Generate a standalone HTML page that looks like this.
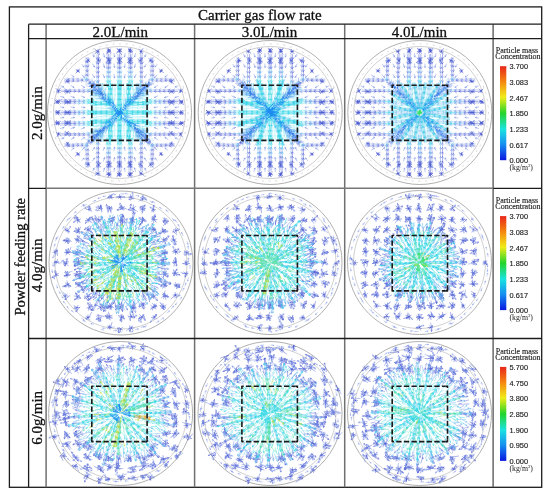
<!DOCTYPE html>
<html><head><meta charset="utf-8"><style>
html,body{margin:0;padding:0;background:#fff;width:550px;height:492px;overflow:hidden;}
svg{display:block;}
.t{font-family:"Liberation Serif",serif;font-size:15px;fill:#111;stroke:#111;stroke-width:0.3px;}
.cb{font-family:"Liberation Serif",serif;font-size:8px;fill:#222;stroke:#222;stroke-width:0.15px;}
.cu{font-family:"Liberation Serif",serif;font-size:7.8px;fill:#222;}
.cl{font-family:"Liberation Sans",sans-serif;font-size:7.4px;fill:#222;stroke:#222;stroke-width:0.15px;}
</style></head><body>
<svg width="550" height="492" viewBox="0 0 550 492">
<defs><filter id="sf" x="-5%" y="-5%" width="110%" height="110%"><feGaussianBlur stdDeviation="0.5"/></filter><linearGradient id="jet" x1="0" y1="0" x2="0" y2="1">
<stop offset="0" stop-color="#e8261a"/><stop offset="0.17" stop-color="#f58a10"/>
<stop offset="0.33" stop-color="#f0ec18"/><stop offset="0.5" stop-color="#22d42a"/>
<stop offset="0.67" stop-color="#19e3e0"/><stop offset="0.83" stop-color="#1690f0"/>
<stop offset="1" stop-color="#0a18e0"/></linearGradient></defs>
<rect width="550" height="492" fill="#fff"/>

<circle cx="119.5" cy="112.5" r="72" stroke="#a8a8a8" stroke-width="0.9" fill="none"/>
<circle cx="119.5" cy="112.5" r="66" stroke="#c4c4c4" stroke-width="0.8" fill="none"/>
<g fill="none" stroke-linecap="round" filter="url(#sf)"><g transform="scale(.5)"><path d="M376 225l0 2m0 11l0 3m-2 11l-1 2m-3 11l0 2m-4 11l-1 2m-5 10l-1 2m-6 9l-1 2m-7 9l-1 2m-8 8l-2 2m-8 7l-2 2m-9 6l-2 2m-9 5l-2 1m-10 5l-3 1m-10 3l-2 1m-11 3l-3 0m-11 2l-2 0m-11 0l-2 0m-11 0l-3 0m-11-2l-2-1m-11-3l-2 0m-11-4l-2-1m-10-5l-2-1m-9-6l-2-1m-9-7l-2-1m-8-8l-2-2m-7-8l-2-2m-6-9l-2-2m-5-9l-1-2m-5-10l-1-3m-3-10l-1-2m-3-11l0-3m-2-11l0-2m0-11l0-2m0-11l0-3m2-11l1-2m3-11l0-2m4-11l1-2m5-10l1-2m6-9l1-2m7-9l1-2m8-8l2-2m8-7l2-2m9-6l2-2m9-5l2-1m10-5l3-1m10-3l2-1m11-3l3 0m11-2l2 0m11 0l2 0m11 0l3 0m11 2l2 1m11 3l2 0m11 4l2 1m10 5l2 1m9 6l2 1m9 7l2 1m8 8l2 2m7 8l2 2m6 9l2 2m5 9l1 2m5 10l1 3m3 10l1 2m3 11l0 3m2 11l0 2" stroke="#9a9a9a" stroke-opacity="0.6" stroke-width="1.2"/>
<path d="M129 162l10 0-4 2m4-2l-4-3m3 3l10 0-4 2m4-2l-3-3m2 3l10 0-3 2m3-2l-3-3m3 3l9-1-3 3m3-3l-3-2m13-44l-1 10-2-4m2 4l2-4m-1 3l0 10-3-3m3 3l2-4m-2 3l-1 10-2-3m2 3l3-3m-2 3l-1 9-2-3m2 3l3-3m171 13l-10-1 4-2m-4 2l4 3m-3-2l-10-1 4-2m-4 2l3 2m-2-1l-10 0 3-3m-3 3l3 2m-3-2l-9 0 3-3m-3 3l3 2m-139 171l0-10 2 4m-2-4l-2 4m2-3l0-10 2 4m-2-4l-3 3m3-2l0-10 2 3m-2-3l-3 3m3-3l0-9 2 3m-2-3l-3 3m-50-118l10 0-4 2m4-2l-4-2m3 2l10 0-3 2m3-2l-4-2m3 2l10 0-3 2m3-2l-3-2m3 2l9 0-3 2m3-2l-3-2m3 2l9 1-3 2m3-2l-3-3m31-72l0 10-2-4m2 4l2-4m-2 3l0 10-2-4m2 4l2-3m-2 2l0 10-2-3m2 3l2-3m-2 3l0 9-2-3m2 3l2-3m-2 3l0 9-2-3m2 3l2-3m156 31l-10 0 4-2m-4 2l4 2m-3-2l-10 0 4-2m-4 2l3 2m-2-2l-10 0 3-2m-3 2l3 2m-3-2l-9 0 3-2m-3 2l3 3m-3-3l-9 0 3-2m-3 2l3 2m-115 156l0-10 3 4m-3-4l-2 4m2-3l0-10 2 4m-2-4l-2 3m2-2l0-10 2 3m-2-3l-2 3m2-3l0-9 2 3m-2-3l-2 3m2-3l0-9 2 3m-2-3l-2 3m-72-95l10 1-4 2m4-2l-4-3m3 2l10 0-4 3m4-3l-3-2m2 2l10 0-3 3m3-3l-3-2m69-92l1 10-3-4m3 4l2-4m-3 3l1 10-3-3m3 3l2-4m-3 3l0 10-2-3m2 3l2-3m136 69l-10 0 4-2m-4 2l4 2m-3-2l-10 0 4-2m-4 2l3 3m-2-3l-10 0 3-2m-3 2l3 2m-113 136l0-10 3 4m-3-4l-2 4m2-3l0-10 3 4m-3-4l-2 3m2-2l1-10 2 3m-2-3l-3 3m-92-91l10 0-4 2m4-2l-4-2m3 2l10 0-3 2m3-2l-4-2m3 2l10 0-3 2m3-2l-3-2m91-114l0 10-2-4m2 4l2-4m-2 3l0 10-2-3m2 3l2-4m-2 3l0 10-2-3m2 3l2-3m114 91l-10 0 4-2m-4 2l4 2m-3-2l-10 0 3-2m-3 2l4 3m-3-3l-10 0 3-3m-3 3l3 2m-91 114l0-10 3 4m-3-4l-2 4m2-3l0-10 2 4m-2-4l-2 3m2-2l0-10 2 3m-2-3l-3 3m-113-69l10-1-4 3m4-3l-4-2m3 3l10 0-3 2m3-2l-4-3m3 3l10 0-3 2m3-2l-3-2m113-136l0 10-2-4m2 4l2-4m-2 3l0 10-3-3m3 3l2-4m-2 3l0 10-2-3m2 3l2-3m92 113l-10 0 4-2m-4 2l4 2m-3-2l-10 0 3-2m-3 2l4 2m-3-2l-10 0 3-2m-3 2l3 2m-69 92l0-10 2 4m-2-4l-3 4m3-3l0-10 2 4m-2-4l-2 3m2-2l0-10 2 3m-2-3l-3 3m-135-46l10 0-4 2m4-2l-4-2m3 2l10 0-3 2m3-2l-4-2m3 2l10 0-3 2m3-2l-3-2m3 2l9 0-3 2m3-2l-3-2m3 2l9 0-3 2m3-2l-3-2m118-159l0 10-2-4m2 4l2-4m-2 3l0 10-2-3m2 3l3-4m-3 3l0 10-3-3m3 3l2-3m-2 3l0 9-2-3m2 3l2-3m-2 3l0 9-3-3m3 3l2-3m69 118l-10 0 4-2m-4 2l4 2m-3-2l-10 0 3-2m-3 2l4 2m-3-2l-10 0 3-2m-3 2l3 2m-3-2l-9 0 3-2m-3 2l3 2m-3-2l-9 0 3-2m-3 2l3 2m-28 69l0-10 2 4m-2-4l-2 4m2-3l0-10 2 4m-2-4l-2 3m2-2l0-10 2 3m-2-3l-2 3m2-3l0-9 2 3m-2-3l-3 3m3-3l0-9 3 3m-3-3l-2 3m-153-6l10 0-4 2m4-2l-4-2m3 2l10 0-4 2m4-2l-3-2m2 2l10-1-3 3m3-3l-3-2m3 3l9-1-3 3m3-3l-3-2m143-174l-1 10-2-4m2 4l3-4m-2 3l0 10-2-3m2 3l2-4m-2 3l0 10-2-3m2 3l2-3m-2 3l0 9-2-3m2 3l2-3m41 143l-10 0 4-2m-4 2l4 2m-3-2l-10-1 4-2m-4 2l3 3m-2-2l-10 0 3-2m-3 2l3 2m-3-2l-9 0 3-2m-3 2l3 2m-9 41l0-10 2 4m-2-4l-2 4m2-3l-1-10 3 3m-3-3l-2 4m3-3l0-10 2 3m-2-3l-3 3m3-3l0-9 2 3m-2-3l-3 3" stroke="#4a5ad0" stroke-opacity="0.62" stroke-width="1.4"/>
<path d="M117 182l4 4m-4-4l0 4m0-4l-3 4m3-4l-4 0m4 0l-5-5m5 5l-1-4m1 4l4-6m-4 6l4-1m75-78l3 6m-3-6l-1 4m1-4l-6 4m6-4l-4 1m4-1l-6-4m6 4l-1-3m1 3l3-5m-3 5l3 1m162 78l4 2m-4-2l0 3m0-3l-3 4m3-4l-3 0m3 0l-4-4m4 4l0-4m0 4l5-4m-5 4l4 0m-169 165l4 4m-4-4l0 4m0-4l-6 4m6-4l-4 0m4 0l-5-3m5 3l0-4m0 4l4-4m-4 4l4 1m-83-145l4 4m-4-4l0 4m0-4l-4 4m4-4l-3 0m3 0l-5-4m5 4l1-4m-1 4l6-4m-6 4l3 0m97-100l5 4m-5-4l-1 4m1-4l-4 5m4-5l-4 1m4-1l-3-3m3 3l0-3m0 3l4-3m-4 3l4 0m140 100l3 5m-3-5l-1 3m1-3l-3 5m3-5l-4-1m4 1l-3-5m3 5l-1-2m1 2l4-2m-4 2l4 0m-148 144l5 3m-5-3l1 3m-1-3l-5 3m5-3l-2 1m2-1l-4-3m4 3l0-3m0 3l5-4m-5 4l4-1m-104-121l5 4m-5-4l0 4m0-4l-5 4m5-4l-4-1m4 1l-5-5m5 5l1-4m-1 4l3-4m-3 4l3 0m119-122l4 6m-4-6l1 4m-1-4l-6 3m6-3l-3 0m3 0l-4-5m4 5l0-4m0 4l4-5m-4 5l4 0m118 122l4 4m-4-4l0 4m0-4l-3 4m3-4l-3 0m3 0l-5-3m5 3l0-4m0 4l4-4m-4 4l3 0m-125 122l4 3m-4-3l-1 3m1-3l-5 4m5-4l-4 0m4 0l-3-4m3 4l-1-4m1 4l3-5m-3 5l4 1m-126-101l4 3m-4-3l0 3m0-3l-5 3m5-3l-3-1m3 1l-4-6m4 6l1-4m-1 4l4-4m-4 4l3 0m141-144l4 3m-4-3l0 3m0-3l-3 4m3-4l-4-1m4 1l-4-4m4 4l-1-4m1 4l4-3m-4 3l3 1m97 143l5 5m-5-5l0 3m0-3l-5 4m5-4l-4 0m4 0l-3-3m3 3l0-4m0 4l4-3m-4 3l4 0m-104 100l4 5m-4-5l-1 3m1-3l-6 4m6-4l-4-1m4 1l-3-4m3 4l0-3m0 3l6-4m-6 4l4 0m-148-79l5 4m-5-4l-1 4m1-4l-3 5m3-5l-3 0m3 0l-4-3m4 3l0-3m0 3l3-3m-3 3l4 0m161-165l3 4m-3-4l0 4m0-4l-2 4m2-4l-2 0m2 0l-4-4m4 4l0-3m0 3l4-6m-4 6l4 1m75 164l4 6m-4-6l0 3m0-3l-3 4m3-4l-3 0m3 0l-3-3m3 3l1-3m-1 3l4-4m-4 4l3 0m-82 79l6 4m-6-4l0 3m0-3l-4 4m4-4l-3-1m3 1l-4-5m4 5l0-3m0 3l3-4m-3 4l4 1m-156-145l10 2-3 1m3-1l-2-2m-8 22l10 0-3 1m3-1l-3-1m-7 23l10-2-2 2m2-2l-3-1m80-128l2 10-2-2m2 2l1-3m-3 211l2-10 1 3m-1-3l-2 2m22-210l0 10-1-3m1 3l1-3m-1 211l0-10 1 3m-1-3l-1 3m23-211l-2 10-1-3m1 3l2-2m0 210l-2-10 2 2m-2-2l-1 3m90-124l-10 2 2-2m-2 2l3 1m7 19l-10 0 3-1m-3 1l3 1m7 21l-10-2 3-1m-3 1l2 2" stroke="#4a5ad0" stroke-opacity="0.7" stroke-width="1.6"/>
<path d="M182 167l7 3-2 0m2 0l-1-1m-9 3l8 1-2 0m2 0l-2-1m2-9l2 8-2-2m2 2l0-2m0-7l1 8-2-2m2 2l0-2m-13-2l8 2-2 1m2-1l-2-1m-10 5l8 1-2 0m2 0l-2-1m-1-8l4 8-2-2m2 2l0-2m3-10l1 8-1-2m1 2l0-2m-11-5l7 4-2 0m2 0l-1-2m-9 3l8 1-2 0m2 0l-1-1m-2-7l4 7-2-1m2 1l0-2m-1-5l0 8-1-1m1 1l0-1m4 119l4-7 0 2m0-2l-2 1m-3 4l1-8 1 2m-1-2l-1 2m-5 3l7-4-1 1m1-1l-2 0m-6 0l8-1-2 1m2-1l-2-1m-2 15l4-8 0 2m0-2l-2 2m-1 5l2-8 0 2m0-2l-2 2m-3 4l7-3-1 2m1-2l-2 0m-7-1l8 0-2 0m2 0l-2-1m-9 6l3-7 0 2m0-2l-1 2m0 7l2-8 1 2m-1-2l-1 2m-5 3l7-4-1 2m1-2l-2 0m-3 5l8-2-2 1m2-1l-2-1m118-116l-4 7 0-2m0 2l2-1m0-7l-2 8-1-2m1 2l1-1m4-4l-7 3 1-2m-1 2l2 0m6-1l-8 1 1-1m-1 1l2 1m6-9l-3 8 0-2m0 2l2-2m-2-7l0 8-1-2m1 2l1-2m5-3l-8 3 1-1m-1 1l2 1m5-2l-8 0 2-1m-2 1l2 1m3-12l-2 8-1-2m1 2l1-2m0-5l0 8-1-2m1 2l1-2m9 2l-7 3 1-2m-1 2l2 0m2-5l-8 1 2-1m-2 1l2 1m0 113l-7-3 2-1m-2 1l1 1m4 3l-7-2 2-1m-2 1l1 1m3 5l-3-7 1 1m-1-1l0 2m1 5l-1-8 2 2m-2-2l0 2m8 7l-8-3 2 0m-2 0l2 2m8-1l-8-2 2-1m-2 1l1 1m7 2l-4-7 2 1m-2-1l0 2m-1 9l-3-8 2 2m-2-2l0 2m12 4l-7-4 2 0m-2 0l1 2m4 3l-8-2 2-1m-2 1l2 1m3 4l-3-7 2 1m-2-1l0 2m3 3l0-8 1 2m-1-2l-1 2" stroke="#4a5ad0" stroke-opacity="0.375" stroke-width="1.4"/>
<path d="M184 170l6 6-3-1m3 1l-1-3m-5 107l6-6-1 3m1-3l-3 1m107-105l-6 6 1-3m-1 3l3-1m3 105l-6-5 2 0m-2 0l1 2" stroke="#4a5ad0" stroke-opacity="0.375" stroke-width="1.6"/>
<path d="M114 204l4 4m-4-4l1 3m-1-3l-5 3m5-3l-3 0m3 0l-4-4m4 4l1-3m-1 3l5-3m-5 3l3 0m-3 21l4 5m-4-5l1 3m-1-3l-3 3m3-3l-3 0m3 0l-4-3m4 3l0-3m0 3l4-4m-4 4l3-1m-3 22l3 4m-3-4l-1 3m1-3l-5 3m5-3l-3-1m3 1l-4-3m4 3l-1-4m1 4l4-4m-4 4l3-1m18-82l4 3m-4-3l1 3m-1-3l-5 3m5-3l-3 0m3 0l-3-3m3 3l-1-4m1 4l2-4m-2 4l3-1m-3 21l5 4m-5-4l0 3m0-3l-4 5m4-5l-3 1m3-1l-3-4m3 4l0-2m0 2l3-3m-3 3l2 0m-2 84l3 5m-3-5l0 2m0-2l-3 2m3-2l-2 0m2 0l-4-4m4 4l0-3m0 3l2-4m-2 4l3 0m-3 20l3 5m-3-5l0 4m0-4l-3 5m3-5l-3 1m3-1l-3-3m3 3l0-2m0 2l3-3m-3 3l3 1m18-146l3 3m-3-3l0 2m0-2l-4 4m4-4l-3 0m3 0l-4-3m4 3l0-3m0 3l3-4m-3 4l3 0m-3 166l3 4m-3-4l0 3m0-3l-5 4m5-4l-3 0m3 0l-4-3m4 3l-1-3m1 3l4-3m-4 3l3 1m18-188l3 3m-3-3l-1 3m1-3l-5 3m5-3l-3 1m3-1l-4-4m4 4l0-3m0 3l2-3m-2 3l2 1m-2 207l3 4m-3-4l-1 3m1-3l-3 4m3-4l-4 0m4 0l-4-3m4 3l0-3m0 3l3-4m-3 4l2 0m18-208l4 3m-4-3l1 2m-1-2l-4 3m4-3l-2 0m2 0l-3-3m3 3l0-3m0 3l5-3m-5 3l4 0m-4 208l4 4m-4-4l0 3m0-3l-4 3m4-3l-3-1m3 1l-4-4m4 4l1-4m-1 4l5-3m-5 3l3-1m18-228l4 5m-4-5l0 3m0-3l-3 5m3-5l-3 0m3 0l-4-3m4 3l-1-3m1 3l3-2m-3 2l3 1m-3 249l4 3m-4-3l0 2m0-2l-2 4m2-4l-3-1m3 1l-4-2m4 2l1-3m-1 3l4-3m-4 3l4-1m17-249l4 4m-4-4l0 4m0-4l-4 3m4-3l-2 0m2 0l-5-3m5 3l1-3m-1 3l4-2m-4 2l3 1m-3 249l2 3m-2-3l0 3m0-3l-5 3m5-3l-4 0m4 0l-5-4m5 4l0-4m0 4l3-3m-3 3l3 0m18-250l5 3m-5-3l-1 3m1-3l-3 4m3-4l-3 0m3 0l-3-3m3 3l0-3m0 3l2-4m-2 4l3 0m-3 250l3 4m-3-4l0 3m0-3l-3 3m3-3l-3 0m3 0l-4-4m4 4l-1-3m1 3l3-4m-3 4l3 0m18-229l3 4m-3-4l0 3m0-3l-4 3m4-3l-3 0m3 0l-5-3m5 3l0-3m0 3l3-4m-3 4l3 0m-3 208l3 2m-3-2l-1 2m1-2l-3 4m3-4l-4 0m4 0l-4-3m4 3l-1-3m1 3l2-3m-2 3l2 1m18-209l4 2m-4-2l1 3m-1-3l-3 3m3-3l-2 0m2 0l-3-4m3 4l0-3m0 3l3-4m-3 4l3 0m-3 208l4 4m-4-4l0 3m0-3l-4 4m4-4l-2 0m2 0l-3-4m3 4l0-3m0 3l3-4m-3 4l4 0m17-187l5 3m-5-3l-1 3m1-3l-3 2m3-2l-2 0m2 0l-3-4m3 4l1-3m-1 3l3-4m-3 4l3-1m-3 167l3 3m-3-3l1 3m-1-3l-3 3m3-3l-3 0m3 0l-2-3m2 3l0-3m0 3l2-3m-2 3l4 1m17-146l4 5m-4-5l0 3m0-3l-3 2m3-2l-4 0m4 0l-3-4m3 4l0-3m0 3l4-4m-4 4l2-1m-2 21l4 4m-4-4l1 3m-1-3l-4 4m4-4l-3 0m3 0l-4-4m4 4l0-2m0 2l4-2m-4 2l3 0m-3 84l3 3m-3-3l0 2m0-2l-4 2m4-2l-3 0m3 0l-4-4m4 4l0-4m0 4l2-4m-2 4l3 0m-3 20l4 4m-4-4l1 4m-1-4l-4 4m4-4l-3 1m3-1l-3-2m3 2l0-3m0 3l2-3m-2 3l4 1m17-84l3 5m-3-5l-1 3m1-3l-3 4m3-4l-4 0m4 0l-4-3m4 3l0-3m0 3l2-4m-2 4l2 0m-2 21l4 4m-4-4l0 4m0-4l-3 3m3-3l-3 1m3-1l-3-2m3 2l-1-3m1 3l4-4m-4 4l3 1m-3 20l4 3m-4-3l-1 3m1-3l-5 3m5-3l-4 0m4 0l-4-3m4 3l0-3m0 3l5-3m-5 3l3 0" stroke="#4a5ad0" stroke-opacity="0.65" stroke-width="1.7"/>
<path d="M135 204l5 3m-5-3l0 4m0-4l-5 4m5-4l-3 0m3 0l-5-5m5 5l0-3m0 3l6-3m-6 3l3 0m-3 21l4 4m-4-4l1 4m-1-4l-5 4m5-4l-4-1m4 1l-4-4m4 4l1-3m-1 3l5-4m-5 4l4 1m-4 20l4 4m-4-4l0 3m0-3l-4 5m4-5l-4 0m4 0l-5-4m5 4l0-4m0 4l6-5m-6 5l3 0m80-125l4 5m-4-5l1 4m-1-4l-6 4m6-4l-3 0m3 0l-5-6m5 6l0-3m0 3l6-4m-6 4l4 0m-4 208l6 4m-6-4l0 4m0-4l-2 4m2-4l-4 0m4 0l-5-5m5 5l1-3m-1 3l5-3m-5 3l4-1m17-207l5 3m-5-3l-1 4m1-4l-3 4m3-4l-3 0m3 0l-4-3m4 3l0-4m0 4l5-5m-5 5l3 1m-3 207l4 3m-4-3l0 3m0-3l-4 3m4-3l-3-1m3 1l-5-4m5 4l0-3m0 3l4-3m-4 3l3 0m18-208l4 4m-4-4l0 4m0-4l-5 4m5-4l-4-1m4 1l-4-5m4 5l0-4m0 4l4-4m-4 4l4 0m-4 208l3 5m-3-5l0 4m0-4l-5 5m5-5l-4-1m4 1l-3-4m3 4l0-3m0 3l3-6m-3 6l4 0m79-125l4 6m-4-6l0 3m0-3l-4 6m4-6l-3 1m3-1l-4-5m4 5l-1-3m1 3l5-3m-5 3l4 0m-4 21l5 5m-5-5l0 3m0-3l-3 4m3-4l-3 0m3 0l-4-3m4 3l0-3m0 3l4-5m-4 5l3 0m-3 21l4 4m-4-4l0 3m0-3l-3 4m3-4l-4 1m4-1l-4-3m4 3l0-5m0 5l6-4m-6 4l4-1" stroke="#4a5ad0" stroke-opacity="0.75" stroke-width="1.7"/>
<path d="M129 158l10 0-4 2m4-2l-4-2m3 2l10 0-3 3m3-3l-4-2m3 2l10 0-3 3m3-3l-3-2m3 2l9 1-3 2m3-2l-3-3m3 6l9 0-3 2m3-2l-3-3m0-44l0 10-2-4m2 4l3-4m-3 3l0 10-2-4m2 4l2-3m-2 2l1 10-3-3m3 3l2-3m-3 3l0 9-2-3m2 3l2-3m2 3l0 9-2-3m2 3l2-3m171 0l-10 1 4-3m-4 3l4 2m-3-3l-10 0 3-2m-3 2l4 3m-3-3l-10 0 3-2m-3 2l3 2m-3-2l-9 0 3-2m-3 2l3 3m-3 1l-9 0 3-3m-3 3l3 2m-134 171l0-10 3 4m-3-4l-2 4m2-3l1-10 2 4m-2-4l-3 3m2-2l1-10 2 3m-2-3l-3 3m2-3l0-9 3 3m-3-3l-2 3m6-3l-1-9 3 3m-3-3l-2 3m-50-112l10 0-4 2m4-2l-4-3m3 3l10 0-4 2m4-2l-3-2m2 2l10 0-3 2m3-2l-3-2m3 2l9 0-3 2m3-2l-3-2m3 2l9 0-3 2m3-2l-3-3m3 6l10 0-4 2m4-2l-4-2m3 2l10 0-3 2m3-2l-4-2m10-72l0 10-2-4m2 4l2-4m-2 3l0 10-2-4m2 4l2-3m-2 2l0 10-2-3m2 3l3-3m-3 3l0 9-2-3m2 3l2-3m-2 3l0 9-2-3m2 3l2-3m1 3l0 10-2-4m2 4l2-4m-2 3l1 10-3-3m3 3l2-4m155 10l-10 0 4-2m-4 2l4 2m-3-2l-10 0 4-2m-4 2l3 2m-2-2l-10 0 3-2m-3 2l3 2m-3-2l-9 0 3-3m-3 3l3 2m-3-2l-9 0 3-2m-3 2l3 3m-3 0l-10 0 4-2m-4 2l4 2m-3-2l-10 0 3-2m-3 2l4 2m-100 156l0-10 2 4m-2-4l-2 4m2-3l0-10 2 3m-2-3l-2 4m2-3l0-10 2 3m-2-3l-2 3m2-3l0-9 2 3m-2-3l-2 3m2-3l0-9 2 3m-2-3l-2 3m5-3l0-10 3 4m-3-4l-2 4m2-3l0-10 3 4m-3-4l-2 3m-72-79l10 0-4 3m4-3l-4-2m-6 8l10 0-4 2m4-2l-4-2m3-4l10 0-3 3m3-3l-4-2m-6 8l10 0-3 2m3-2l-4-2m3-4l10 0-3 3m3-3l-3-2m-7 8l10 0-3 3m3-3l-3-2m3-1l9 0-3 2m3-2l-3-2m3 2l9 0-3 3m3-3l-3-2m48-92l1 10-3-4m3 4l2-4m3-6l0 10-2-4m2 4l2-4m-8 3l0 10-2-4m2 4l3-3m3-7l0 10-2-3m2 3l2-4m-8 3l0 10-2-3m2 3l3-3m3-7l0 10-2-3m2 3l2-3m-5 3l1 9-3-3m3 3l2-3m-3 3l0 9-2-3m2 3l2-3m136 48l-10 1 4-3m-4 3l4 2m6 3l-10 0 4-2m-4 2l4 2m-3-8l-10 1 3-3m-3 3l4 2m6 3l-10 0 3-2m-3 2l4 3m-3-9l-10 1 3-3m-3 3l3 2m7 3l-10 0 3-2m-3 2l3 2m-3-5l-9 1 3-3m-3 3l3 2m-3-3l-9 0 3-2m-3 2l3 2m-98 136l0-10 2 4m-2-4l-2 4m8 6l0-10 2 4m-2-4l-2 4m-4-3l1-10 2 4m-2-4l-3 3m8 7l0-10 2 3m-2-3l-2 4m-4-3l0-10 3 3m-3-3l-2 3m8 7l0-10 2 3m-2-3l-2 3m-1-3l0-9 2 3m-2-3l-2 3m2-3l1-9 2 3m-2-3l-3 3m-92-76l10 1-4 2m4-2l-4-3m-6 8l10 0-4 2m4-2l-4-2m3-4l10 1-4 2m4-2l-3-3m-7 8l10 0-3 2m3-2l-4-3m3-3l10 0-3 2m3-2l-3-2m-7 8l10 0-3 2m3-2l-3-2m3-1l9 0-3 2m3-2l-3-2m3 2l9 0-3 2m3-2l-3-2m70-114l0 10-2-4m2 4l2-4m4-6l0 10-2-4m2 4l2-4m-8 3l0 10-2-3m2 3l2-4m4-6l-1 10-2-4m2 4l3-3m-8 2l0 10-2-3m2 3l2-3m4-7l-1 10-2-3m2 3l3-3m-5 3l0 9-2-3m2 3l2-3m-2 3l0 9-2-3m2 3l3-3m113 70l-10 0 4-2m-4 2l4 3m6 3l-10 0 4-2m-4 2l4 2m-3-8l-10 0 4-2m-4 2l3 2m7 4l-10 0 3-2m-3 2l4 2m-3-8l-10 0 3-2m-3 2l3 3m7 3l-10 0 3-2m-3 2l3 2m-3-5l-9 0 3-2m-3 2l3 2m-3-2l-9 0 3-2m-3 2l3 2m-76 114l0-10 3 4m-3-4l-2 4m8 6l0-10 2 4m-2-4l-2 4m-4-3l0-10 3 4m-3-4l-2 3m8 7l0-10 2 3m-2-3l-3 4m-3-3l0-10 2 3m-2-3l-2 3m8 7l-1-10 3 3m-3-3l-2 3m0-3l0-9 2 3m-2-3l-2 3m2-3l0-9 2 3m-2-3l-3 3m-113-54l10-1-4 3m4-3l-4-2m-6 9l10 0-4 2m4-2l-4-3m3-3l10 0-3 2m3-2l-4-2m-6 8l10 0-4 2m4-2l-3-3m2-3l10 0-3 2m3-2l-3-2m-7 8l10 0-3 2m3-2l-3-3m3 0l9-1-3 3m3-3l-3-2m3 3l9 0-3 2m3-2l-3-3m92-135l0 10-2-4m2 4l2-4m4-6l-1 10-2-4m2 4l3-4m-8 3l0 10-2-4m2 4l2-3m4-7l0 10-3-3m3 3l2-4m-8 3l0 10-3-3m3 3l2-3m4-7l-1 10-2-3m2 3l3-3m-5 3l0 9-3-3m3 3l2-3m-2 3l-1 9-2-3m2 3l3-3m92 92l-10 0 4-2m-4 2l4 2m6 4l-10 0 4-3m-4 3l4 2m-3-8l-10 0 4-2m-4 2l4 2m6 4l-10 0 3-3m-3 3l4 2m-3-8l-10 0 3-2m-3 2l3 2m7 4l-10-1 3-2m-3 2l3 3m-3-5l-9 0 3-2m-3 2l3 2m-3-2l-9 0 3-3m-3 3l3 2m-54 92l0-10 2 4m-2-4l-2 4m8 6l-1-10 3 4m-3-4l-2 4m-3-3l-1-10 3 3m-3-3l-2 4m9 6l-1-10 3 3m-3-3l-2 4m-3-3l0-10 2 3m-2-3l-2 3m8 7l0-10 2 3m-2-3l-3 3m0-3l-1-9 3 3m-3-3l-2 3m3-3l-1-9 3 3m-3-3l-2 3m-135-31l10-1-4 3m4-3l-4-2m3 3l10 0-3 2m3-2l-4-3m3 3l10 0-3 2m3-2l-3-2m3 2l9 0-3 2m3-2l-3-2m3 2l9 0-3 2m3-2l-3-3m3 6l10 0-4 2m4-2l-4-2m3 2l10 0-4 2m4-2l-3-2m96-159l0 10-2-4m2 4l2-4m-2 3l0 10-2-3m2 3l2-4m-2 3l0 10-2-3m2 3l2-3m-2 3l0 9-2-3m2 3l2-3m-2 3l0 9-2-3m2 3l2-3m1 3l0 10-2-4m2 4l2-4m-2 3l0 10-3-4m3 4l2-3m69 96l-10 0 4-2m-4 2l4 2m-3-2l-10 0 4-3m-4 3l3 2m-2-2l-10-1 3-2m-3 2l3 3m-3-2l-9 0 3-3m-3 3l3 2m-3-2l-9-1 3-2m-3 2l3 3m-3 1l-10 0 4-2m-4 2l4 2m-3-2l-10 0 3-2m-3 2l4 2m-13 69l0-10 2 4m-2-4l-2 4m2-3l0-10 2 4m-2-4l-2 3m2-2l0-10 2 3m-2-3l-2 3m2-3l-1-9 3 3m-3-3l-2 3m3-3l0-9 2 3m-2-3l-3 3m6-3l0-10 2 4m-2-4l-2 4m2-3l0-10 2 3m-2-3l-2 4m-153 8l10 1-4 2m4-2l-4-3m3 2l10 1-4 2m4-2l-3-3m2 2l10 0-3 2m3-2l-3-2m3 2l9 0-3 3m3-3l-3-2m3 6l9 0-3 2m3-2l-3-2m130-175l1 10-3-4m3 4l2-4m-3 3l1 10-3-3m3 3l2-4m-3 3l0 10-2-3m2 3l2-3m-2 3l0 9-2-3m2 3l2-3m2 3l-1 9-2-3m2 3l3-3m41 130l-10 0 4-2m-4 2l4 2m-3-2l-10 1 3-3m-3 3l4 2m-3-3l-10 1 3-2m-3 2l3 2m-3-3l-9 1 3-2m-3 2l3 2m-3 1l-9 0 3-2m-3 2l3 2m-4 41l1-10 2 4m-2-4l-2 4m1-3l1-10 2 4m-2-4l-3 3m2-2l1-10 2 3m-2-3l-3 3m2-3l1-9 2 3m-2-3l-3 3m6-3l0-9 2 3m-2-3l-3 3" stroke="#6f86e0" stroke-opacity="0.62" stroke-width="1.4"/>
<path d="M122 172l6 2-3 1m3-1l-2-2m-5 21l7 2-2 0m2 0l-2-2m-5 21l7 1-2 1m2-1l-2-1m-5 22l7-1-2 1m2-1l-2-1m-5 23l7-2-2 2m2-2l-2 0m-4 23l6-2-2 2m2-2l-3-1m18-125l5 4-2 0m2 0l-1-2m-5 19l6 4-2 0m2 0l-1-2m-5 20l7 2-3 0m3 0l-2-2m-5 21l7 1-2 1m2-1l-2-1m-5 22l7-1-2 1m2-1l-2-1m-5 23l7-2-2 2m2-2l-3 0m-4 24l6-4-1 2m1-2l-2 0m-3 25l5-4-1 2m1-2l-2 0m18-167l4 5-2-1m2 1l0-2m-4 18l5 5-3-1m3 1l-1-3m-5 19l6 4-2 0m2 0l-1-2m-5 19l6 3-2 0m2 0l-1-2m-5 21l7 1-3 1m3-1l-2-1m-5 22l7-1-2 1m2-1l-3-1m-4 24l6-3-1 2m1-2l-2 0m-4 24l6-4-1 2m1-2l-2 0m-3 25l5-5-1 3m1-3l-3 1m-2 25l4-5 0 2m0-2l-2 1m20-209l2 6-2-2m2 2l1-3m-4 17l4 6-2-1m2 1l0-2m-4 17l4 6-2-1m2 1l0-2m-4 148l4-6 0 2m0-2l-2 1m-2 26l4-6 0 2m0-2l-2 1m-1 25l2-6 1 3m-1-3l-2 2m21-231l2 7-2-2m2 2l0-2m-2 16l2 7-2-2m2 2l0-3m-3 17l3 6-2-1m2 1l0-2m-3 148l3-6 0 2m0-2l-2 1m0 26l2-7 0 3m0-3l-2 2m0 26l2-7 0 2m0-2l-2 2m21-231l1 7-1-2m1 2l1-2m-2 16l1 7-1-2m1 2l1-2m-2 16l1 7-1-2m1 2l1-3m-2 148l1-7 1 3m-1-3l-1 2m0 26l1-7 1 2m-1-2l-1 2m0 26l1-7 1 2m-1-2l-1 2m22-231l-1 7-1-2m1 2l1-2m0 16l-1 7-1-2m1 2l1-2m0 16l-1 7-1-3m1 3l1-2m0 147l-1-7 1 2m-1-2l-1 3m2 25l-1-7 1 2m-1-2l-1 2m2 26l-1-7 1 2m-1-2l-1 2m23-231l-2 7 0-2m0 2l2-2m0 16l-2 7 0-3m0 3l2-2m1 16l-3 6 0-2m0 2l2-1m1 147l-3-6 2 1m-2-1l0 2m2 25l-2-7 2 2m-2-2l0 3m2 25l-2-7 2 2m-2-2l0 2m23-230l-2 6-1-3m1 3l2-2m1 16l-4 6 0-2m0 2l2-1m2 16l-4 6 0-2m0 2l2-1m2 147l-4-6 2 1m-2-1l0 2m4 25l-4-6 2 1m-2-1l0 2m3 24l-2-6 2 2m-2-2l-1 3m25-210l-4 5 0-2m0 2l2-1m2 17l-5 5 1-3m-1 3l3-1m3 17l-6 4 1-2m-1 2l2 0m4 17l-6 3 1-2m-1 2l2 0m4 19l-7 1 2-1m-2 1l3 1m4 20l-7-1 3-1m-3 1l2 1m5 22l-6-3 2 0m-2 0l1 2m5 22l-6-4 2 0m-2 0l1 2m4 23l-5-5 3 1m-3-1l1 3m4 23l-4-5 2 1m-2-1l0 2m25-168l-5 4 1-2m-1 2l2 0m4 17l-6 4 1-2m-1 2l2 0m4 18l-7 2 2-2m-2 2l3 0m4 19l-7 1 2-1m-2 1l2 1m5 20l-7-1 2-1m-2 1l2 1m5 21l-7-2 3 0m-3 0l2 2m5 22l-6-4 2 0m-2 0l1 2m4 23l-5-4 2 0m-2 0l1 2m25-126l-6 2 2-2m-2 2l3 1m4 18l-7 2 2-2m-2 2l2 0m5 19l-7 1 2-1m-2 1l2 1m5 20l-7-1 2-1m-2 1l2 1m5 21l-7-2 2 0m-2 0l2 2m4 21l-6-2 3-1m-3 1l2 2" stroke="#6f86e0" stroke-opacity="0.7" stroke-width="1.3"/>
<path d="M181 186l12 0-3 1m3-1l-3-2m-9 4l12 0m-12 3l12-1-3 2m3-2l-3-1m2-3l10 0-2 2m2-2l-3-1m-7 3l10 0m-10 3l10 0-3 1m3-1l-3-2m1-22l-1 12-1-3m1 3l2-3m1-9l0 12m3-12l-1 12-1-3m1 3l2-3m-6 2l0 10-2-2m2 2l2-3m0-7l-1 10m3-10l0 10-2-3m2 3l1-2m92 0l-12 1 3-2m-3 2l3 1m9 0l-12 0m12 2l-12 1 3-2m-3 2l3 1m-2-5l-10 0 2-2m-2 2l3 2m7-1l-10 0m10 2l-10 0 2-2m-2 2l3 2m-78 91l0-12 1 3m-1-3l-2 3m3 9l0-12m2 12l0-12 1 3m-1-3l-2 3m-2-2l1-10 1 3m-1-3l-2 2m4 8l-1-10m3 10l0-10 1 3m-1-3l-2 2m-22-4l12 0-3 2m3-2l-3-2m-9 4l12 0m-12 2l12-1-3 2m3-2l-3-1m2-2l10 0-3 1m3-1l-2-2m-8 4l10 0m-10 2l10-1-2 2m2-2l-3-1m75-95l-1 12-1-3m1 3l2-3m1-9l-1 12m3-12l0 12-2-3m2 3l1-3m-5 2l0 10-2-3m2 3l1-2m1-8l-1 10m3-10l0 10-2-3m2 3l1-3m18 75l-12 0 3-2m-3 2l3 1m9 0l-12 1m12 2l-12 0 3-2m-3 2l3 2m-2-6l-10 0 3-2m-3 2l2 1m8 1l-10 0m10 2l-10 0 3-2m-3 2l3 2m-5 17l0-12 1 3m-1-3l-2 3m4 9l0-12m2 12l0-12 2 3m-2-3l-1 3m-4-2l1-10 1 3m-1-3l-2 3m4 7l0-10m2 10l-1-10 2 2m-2-2l-1 3" stroke="#62b4ec" stroke-opacity="0.75" stroke-width="1.4"/>
<path d="M166 158l9 0-3 2m3-2l-3-2m0-4l0 9-2-3m2 3l2-3m138 0l-9 0 3-2m-3 2l3 3m-134 137l0-9 3 3m-3-3l-2 3m-1-112l10 0-4 2m4-2l-4-2m3 2l10 0-3 2m3-2l-4-3m10-22l0 10-3-4m3 4l2-4m-2 3l0 10-2-4m2 4l2-3m113 9l-10 0 4-2m-4 2l4 2m-3-2l-10 0 3-2m-3 2l4 3m-100 112l0-10 3 4m-3-4l-2 4m2-3l0-10 2 4m-2-4l-2 3m-41-79l9 0-3 3m3-3l-3-2m-6 8l9 1-3 2m3-2l-3-3m3-4l9 1-3 2m3-2l-3-3m-6 8l9 0-3 2m3-2l-3-2m48-67l1 9-2-3m2 3l2-3m3-6l0 9-2-3m2 3l2-3m-8 3l0 9-2-3m2 3l2-3m4-6l0 9-2-3m2 3l2-3m105 48l-9 1 3-3m-3 3l3 2m6 3l-9 0 3-2m-3 2l3 2m-3-8l-9 1 3-3m-3 3l3 2m6 3l-9 0 3-2m-3 2l3 2m-98 105l0-9 2 3m-2-3l-2 3m8 6l0-9 2 3m-2-3l-2 3m-4-3l1-9 2 3m-2-3l-3 3m8 6l0-9 3 3m-3-3l-2 3m-67-76l9 1-3 2m3-2l-3-3m-6 8l9 0-3 2m3-2l-3-2m3-4l9 0-3 2m3-2l-3-2m-6 8l9-1-3 3m3-3l-3-2m70-88l0 9-2-3m2 3l3-3m3-6l0 9-3-3m3 3l2-3m-8 3l0 9-2-3m2 3l2-3m4-6l0 9-2-3m2 3l2-3m83 70l-9 0 3-2m-3 2l3 2m6 4l-9 0 3-2m-3 2l3 2m-3-8l-9 0 3-2m-3 2l3 2m6 4l-9 0 3-3m-3 3l3 2m-76 83l1-9 2 3m-2-3l-3 3m8 6l0-9 2 3m-2-3l-2 3m-4-3l0-9 3 3m-3-3l-2 3m8 6l0-9 2 3m-2-3l-2 3m-89-54l9 0-3 2m3-2l-3-2m-6 8l9 0-3 2m3-2l-3-3m3-3l9 0-3 2m3-2l-3-2m-6 8l9 0-3 2m3-2l-3-3m92-110l0 9-3-3m3 3l2-3m4-6l0 9-3-3m3 3l2-3m-8 3l-1 9-2-3m2 3l3-3m4-6l-1 9-2-3m2 3l3-3m61 92l-9 0 3-2m-3 2l3 2m6 4l-9 0 3-2m-3 2l3 2m-3-8l-9 0 3-2m-3 2l3 2m6 4l-9 0 3-3m-3 3l3 2m-54 61l0-9 2 3m-2-3l-2 3m8 6l0-9 2 3m-2-3l-3 3m-3-3l0-9 2 3m-2-3l-3 3m9 6l0-9 2 3m-2-3l-3 3m-92-31l10-1-4 3m4-3l-4-2m3 3l10-1-3 3m3-3l-4-2m97-109l0 10-2-4m2 4l2-4m-2 3l0 10-2-4m2 4l2-4m26 97l-10 0 4-2m-4 2l4 2m-3-2l-10 0 4-3m-4 3l3 2m-12 26l0-10 2 4m-2-4l-2 4m2-3l0-10 2 3m-2-3l-3 4m-112 8l9 0-3 3m3-3l-3-2m130-134l0 9-2-3m2 3l3-3m7 130l-9 1 3-3m-3 3l3 2m-4 7l1-9 2 3m-2-3l-2 3" stroke="#62b4ec" stroke-opacity="0.62" stroke-width="1.4"/>
<path d="M195 194l10-3-1 2m1-2l-2 0m7-13l-2 11 0-2m0 2l1-2m-16 1l11-1-2 1m2-1l-2-1m0-7l-2 11-1-2m1 2l1-1m-11-5l11-1-1 1m1-1l-2-1m4-8l-3 10 0-2m0 2l1-1m-18 2l11-1-1 1m1-1l-1-1m5-11l-2 11-1-2m1 2l1-2m-17 2l11-2-2 1m2-1l-2-1m7-15l0 11-1-2m1 2l1-1m-17 2l10-2-1 1m1-1l-2 0m5-10l-3 10 0-2m0 2l2-1m-12-1l8-2-1 2m1-2l-2 0m2-6l-2 8 0-2m0 2l2-2m-10-4l8 0-1 1m1-1l-1-1m-1-2l-2 7-1-2m1 2l1-1m-12-1l8-1-2 1m2-1l-2-1m7-11l-1 8-1-2m1 2l1-2m22 108l0-11 1 2m-1-2l-1 2m-10-2l11 1-2 0m2 0l-1-2m3 16l-4-10 2 1m-2-1l0 2m-10-2l11 1-2 1m2-1l-1-1m-4 12l-1-11 1 2m-1-2l0 2m-11-5l11 3-2 0m2 0l-2-2m0 14l-3-11 1 1m-1-1l0 2m-7 0l11 2-2 1m2-1l-2-1m-1 12l-2-10 1 1m-1-1l-1 2m-8-1l11 1-2 1m2-1l-2-1m-1 11l-4-10 2 1m-2-1l0 2m-8-1l11 1-2 1m2-1l-2-1m1 13l-2-8 2 2m-2-2l0 2m-11-6l8 0-2 1m2-1l-2-1m3 16l-1-8 1 2m-1-2l-1 2m-9-6l8 1-2 1m2-1l-2-1m-2 10l-2-8 2 2m-2-2l0 2m-7-4l7 3-2 0m2 0l-1-2m93-100l2 11-1-2m1 2l1-2m12 6l-11-2 2-1m-2 1l1 1m-1-18l0 11-1-2m1 2l1-2m11 3l-11-1 2-1m-2 1l2 1m5-10l1 11-1-2m1 2l1-2m6-2l-11 0 2-1m-2 1l1 1m3-10l3 10-1-1m1 1l0-2m5-2l-11-2 2-1m-2 1l2 1m0-13l3 10-2-1m2 1l0-2m12 4l-11 0 2-1m-2 1l2 1m1-15l0 11-1-2m1 2l1-2m12 4l-11 0 2-1m-2 1l2 1m-1-14l0 8-1-2m1 2l1-2m10 5l-8-1 2 0m-2 0l2 1m-4-14l2 7-1-1m1 1l1-2m6 2l-8-1 2-1m-2 1l2 1m3-9l1 8-1-2m1 2l0-2m7 2l-8-1 2-1m-2 1l1 1m-13 88l-11 1 1-1m-1 1l1 1m-4 11l1-11 1 2m-1-2l-1 2m16-3l-11 3 2-1m-2 1l2 1m-1 9l1-11 1 2m-1-2l-1 1m13 3l-11 0 2-1m-2 1l2 1m-2 9l2-11 0 2m0-2l-1 2m10 5l-11 1 2-1m-2 1l2 0m-1 7l3-11 0 2m0-2l-2 2m11 6l-11 0 2-1m-2 1l2 1m1 4l3-11 1 2m-1-2l-1 1m13 1l-10 3 1-2m-1 2l2 0m-7 14l1-11 1 2m-1-2l-1 2m14-2l-8 2 1-2m-1 2l2 0m-4 9l1-8 0 2m0-2l-2 2m17-3l-8 0 1-1m-1 1l1 1m-4 10l0-8 1 1m-1-1l-1 1m14-1l-8 1 1-1m-1 1l2 1m-4 9l0-8 1 2m-1-2l-1 2" stroke="#62b4ec" stroke-opacity="0.375" stroke-width="1.4"/>
<path d="M181 184l12 1m-12 7l12 0m-1-8l10 0m-10 8l10 0m-4-25l0 12m8-12l0 12m-8-1l0 10m8-10l1 10m90-4l-12 0m12 8l-12 0m1-8l-10 0m10 8l-10 0m-78 91l0-12m8 12l0-12m-8 1l0-10m8 10l0-10m-25-4l12 0m-12 8l12 0m-1-8l10 0m-10 8l10 1m70-100l0 12m8-12l0 12m-8-1l0 10m8-10l0 10m17 70l-12-1m12 9l-12-1m1-7l-10-1m10 9l-10 0m-4 17l-1-12m9 12l0-12m-8 1l0-10m8 10l0-10" stroke="#7ee2ec" stroke-opacity="0.75" stroke-width="1.4"/>
<path d="M181 195l12 1m-12 4l12 0m-1-5l11 1m-11 3l11 0m0-4l8 0m-8 4l8 0m-2-32l0 12m4-12l0 12m-3-1l0 11m4-11l0 11m-5 0l0 8m5-8l0 8m83-2l-12 0m12 4l-12 0m1-4l-11 0m11 5l-11 0m0-4l-8 0m8 4l-8 0m-58 83l0-12m4 12l1-12m-5 1l0-11m5 11l-1-11m-4 0l1-8m3 8l1-8m-33-39l12 0m-12 4l12 0m-1-4l11 0m-11 4l11 0m0-4l11-1m-11 5l11 0m-1-4l12 0m-12 4l12 0m-1-4l5 0m-5 4l5 0m-1-51l0 12m4-12l0 12m-4-1l-1 11m4-11l1 11m-4 0l0 11m3-11l1 11m-4-1l-1 12m5-12l0 12m-4-1l0 5m4-5l0 5m65-1l-12-1m12 5l-12-1m1-4l-11 0m11 5l-11-1m0-3l-11 0m11 4l-11 0m1-4l-12 0m12 4l-12 0m1-4l-5 0m5 4l-5 0m-21 65l-1-12m5 12l0-12m-4 1l-1-11m5 11l0-11m-4 0l0-11m4 11l0-11m-4 1l0-12m4 12l-1-12m-3 1l0-5m4 5l0-5m-51-3l12 0m-12 4l12 0m-1-4l11 1m-11 4l11 0m0-5l11 0m-11 4l11 1m-1-5l12 1m-12 3l12 0m-1-3l5 0m-5 3l5 0m17-69l0 12m4-12l0 12m-3-1l-1 11m4-11l0 11m-3 0l-1 11m4-11l0 11m-4-1l0 12m4-12l1 12m-5-1l0 5m4-5l0 5m47 17l-12 1m12 3l-12 0m1-3l-11 0m11 3l-11 0m0-4l-11 0m11 5l-11-1m1-4l-12 1m12 3l-12 0m1-4l-5 0m5 4l-5 0m-3 47l0-12m4 12l0-12m-4 1l0-11m4 11l0-11m-4 0l1-11m3 11l0-11m-4 1l1-12m3 12l0-12m-3 1l0-5m3 5l0-5m-69 16l12 0m-12 3l12 0m-1-3l11 0m-11 4l11-1m0-3l8 0m-8 3l8 1m54-88l0 12m4-12l-1 12m-3-1l0 11m3-11l0 11m-4 0l0 8m5-8l-1 8m29 53l-12 0m12 4l-12 0m1-4l-11 0m11 5l-11 0m0-4l-8 0m8 4l-8 0m-2 28l0-12m3 12l0-12m-4 1l1-11m3 11l1-11m-4 0l-1-8m5 8l0-8" stroke="#7ee2ec" stroke-opacity="0.3" stroke-width="1.4"/>
<path d="M181 203l12 0m-12 8l12 0m-1-8l11-1m-11 9l11-1m0-8l11 1m-11 7l11 0m-1-7l7 0m-7 8l7 0m-3-44l0 12m8-12l0 12m-8-1l-1 11m9-11l-1 11m-7 0l0 11m8-11l-1 11m-8-1l0 7m9-7l0 7m72-3l-12 0m12 8l-12-1m1-7l-11-1m11 8l-11 0m0-7l-11 0m11 8l-11 0m1-9l-7 0m7 8l-7 0m-41 73l0-12m8 12l0-12m-8 1l0-11m8 11l0-11m-8 0l0-11m7 11l1-11m-8 1l0-7m8 7l0-7m-44-23l12-1m-12 9l12-1m-1-7l11 1m-11 7l11-1m0-7l11 0m-11 8l11 1m-1-9l12 0m-12 8l12 0m-1-8l11 0m-11 8l11 0m0-62l0 12m8-12l0 12m-8-1l0 11m8-11l0 11m-8 0l0 11m8-11l1 11m-9-1l0 12m8-12l0 12m-8-1l0 11m8-11l0 11m54 0l-12 0m12 8l-12 0m1-8l-11 0m11 8l-11 0m0-8l-11 0m11 8l-11 0m1-8l-12 0m12 8l-12 1m1-9l-11 0m11 8l-11-1m-8 55l0-12m8 12l1-12m-9 1l0-11m8 11l-1-11m-7 0l0-11m8 11l0-11m-8 1l0-12m8 12l0-12m-8 1l0-11m8 11l0-11m-62 11l12-1m-12 8l12 0m-1-8l11 1m-11 8l11 0m0-9l11 0m-11 8l11 0m-1-8l7 0m-7 9l7-1m34-80l0 12m8-12l0 12m-9-1l0 11m8-11l1 11m-8 0l0 11m7-11l0 11m-8-1l0 7m8-7l0 7m36 33l-12 0m12 8l-12 0m1-8l-11 0m11 8l-11 0m0-7l-11-1m11 8l-11 1m1-9l-7 1m7 8l-7 0m-5 35l0-12m8 12l0-12m-8 1l0-11m8 11l0-11m-7 0l0-11m8 11l0-11m-8 1l0-7m7 7l0-7" stroke="#7ee2ec" stroke-opacity="0.9" stroke-width="1.4"/>
<path d="M169 203l10 0-4 3m4-3l-4-2m3 2l10 1-4 2m4-2l-3-3m32-46l0 10-2-4m2 4l3-4m-3 3l0 10-2-3m2 3l3-4m89 33l-10 0 4-2m-4 2l4 2m-3-2l-10 1 3-3m-3 3l4 2m-77 89l1-10 2 4m-2-4l-3 4m2-3l1-10 2 4m-2-4l-3 3m-46-54l10 0-4 2m4-2l-4-3m3 3l10 0-3 2m3-2l-4-2m55-68l0 10-2-4m2 4l2-4m-2 3l0 10-3-4m3 4l2-3m68 54l-10 0 4-2m-4 2l4 2m-3-2l-10 0 4-2m-4 2l3 2m-54 68l0-10 3 4m-3-4l-2 4m2-3l0-10 2 4m-2-4l-2 3m-68-32l10 0-4 2m4-2l-4-3m3 3l10 0-4 2m4-2l-3-2m76-90l-1 10-2-4m2 4l3-4m-2 3l0 10-3-3m3 3l2-4m46 77l-10 0 4-2m-4 2l4 2m-3-2l-10 0 3-2m-3 2l4 2m-33 46l0-10 2 4m-2-4l-2 4m2-3l-1-10 3 3m-3-3l-2 4" stroke="#7ee2ec" stroke-opacity="0.62" stroke-width="1.4"/>
<path d="M181 197l12 0m-1 1l11 0m0 0l8-1m1-30l-1 12m0-1l0 11m0 0l0 8m86 1l-12-1m1 0l-11-1m0 1l-8 0m-55 86l0-12m0 1l0-11m-1 0l1-8m-31-37l12 0m-1 0l11 0m0 0l11 1m-1-1l12 1m-1-1l5 0m1-49l0 12m0-1l0 11m0 0l-1 11m0-1l0 12m1-1l0 5m67 1l-12-1m1 0l-11 1m0-1l-11 0m1 1l-12-1m1 1l-5 0m-19 67l0-12m-1 1l0-11m1 0l-1-11m0 1l0-12m1 1l-1-5m-48 0l12 0m-1-1l11-1m0 1l11-1m-1 1l12 0m-1 1l5 0m19-68l0 12m0-1l1 11m-1 0l1 11m-1-1l0 12m0-1l1 5m48 19l-12 0m1 0l-11 0m0 0l-11 0m1 1l-12-1m1 0l-5 0m-1 49l0-12m1 1l-1-11m0 0l0-11m1 1l0-12m-1 1l0-5m-67 18l12 0m-1 0l11 0m0 0l8 0m55-86l0 12m1-1l0 11m0 0l0 8m30 56l-12 0m1 0l-11 0m0-1l-8 1m-1 30l1-12m0 1l0-11m-1 0l0-8" stroke="#30d6e6" stroke-opacity="0.3" stroke-width="1.4"/>
<path d="M181 204l12 0-3 2m3-2l-3-1m-9 3l12 0m-12 2l12 1-3 1m3-1l-3-2m2-3l11 1-2 1m2-1l-2-2m-9 3l11 1m-11 2l11 0-2 1m2-1l-2-2m2-3l11 0-2 2m2-2l-2-2m-9 5l11 0m-11 2l11 0-2 2m2-2l-2-1m1-3l7 0-2 1m2-1l-2-2m-5 4l7 0m-7 2l7 0-2 2m2-2l-2-2m0-40l0 12-1-3m1 3l2-3m1-9l0 12m1-12l0 12-1-3m1 3l2-3m-5 2l-1 11-1-2m1 2l2-2m1-9l0 11m2-11l0 11-2-2m2 2l1-2m-6 2l0 11-1-2m1 2l2-2m0-9l0 11m2-11l0 11-2-2m2 2l2-2m-6 1l1 7-2-2m2 2l1-2m1-5l0 7m1-7l1 7-2-2m2 2l1-2m73 0l-12 0 3-1m-3 1l3 2m9 0l-12 1m12 2l-12 0 3-2m-3 2l3 1m-2-5l-11 0 2-2m-2 2l2 1m9 0l-11 0m11 3l-11 0 2-2m-2 2l2 1m-2-5l-11-1 2-1m-2 1l2 2m9 0l-11 0m11 2l-11 0 2-1m-2 1l2 2m-1-5l-7-1 2-1m-2 1l2 2m5 1l-7 0m7 2l-7 0 2-2m-2 2l2 1m-41 73l0-12 1 3m-1-3l-2 3m4 9l0-12m1 12l1-12 1 3m-1-3l-2 3m-3-2l0-11 2 2m-2-2l-1 2m3 9l0-11m2 11l1-11 1 2m-1-2l-2 2m-2-2l0-11 2 2m-2-2l-2 2m3 9l0-11m2 11l1-11 1 2m-1-2l-2 2m-2-1l0-7 1 2m-1-2l-2 2m4 5l0-7m1 7l0-7 2 2m-2-2l-1 2m-40-23l12 0-3 2m3-2l-3-1m-9 3l12 0m-12 2l12 0-3 2m3-2l-3-1m2-3l11 0-2 1m2-1l-2-2m-9 4l11 0m-11 2l11 0-2 1m2-1l-2-2m2-2l11 0-2 2m2-2l-2-1m-9 3l11 0m-11 2l11 0-2 2m2-2l-2-1m1-3l12 0-2 2m2-2l-2-1m-10 3l12 0m-12 2l12 1-2 1m2-1l-2-2m1-3l11 0-3 2m3-2l-3-2m-8 4l11-1m-11 3l11 0-3 1m3-1l-3-2m5-58l0 12-2-3m2 3l1-3m1-9l0 12m2-12l0 12-2-3m2 3l1-3m-5 2l0 11-2-2m2 2l1-2m1-9l0 11m2-11l0 11-2-2m2 2l1-2m-5 2l0 11-2-2m2 2l1-2m1-9l0 11m2-11l0 11-2-2m2 2l1-2m-5 1l0 12-2-2m2 2l2-2m0-10l0 12m2-12l0 12-2-2m2 2l2-2m-6 1l0 11-2-3m2 3l2-3m0-8l0 11m2-11l1 11-2-3m2 3l1-3m54 5l-12 0 3-2m-3 2l3 2m9 0l-12 0m12 2l-12 0 3-2m-3 2l3 2m-2-6l-11 0 2-2m-2 2l2 1m9 1l-11 0m11 2l-11-1 2-1m-2 1l2 2m-2-5l-11 0 2-2m-2 2l2 1m9 1l-11 0m11 2l-11 1 2-2m-2 2l2 1m-1-6l-12 0 2-2m-2 2l2 2m10 0l-12 1m12 1l-12 0 2-2m-2 2l2 2m-1-6l-11 1 3-2m-3 2l3 1m8 0l-11 0m11 2l-11 0 3-1m-3 1l3 2m-9 54l-1-12 2 3m-2-3l-1 3m4 9l0-12m2 12l0-12 2 3m-2-3l-1 3m-3-2l0-11 2 2m-2-2l-1 2m3 9l1-11m1 11l0-11 1 2m-1-2l-2 2m-2-2l0-11 2 2m-2-2l-1 2m3 9l0-11m2 11l0-11 2 2m-2-2l-1 2m-3-1l0-12 2 2m-2-2l-1 2m3 10l1-12m1 12l-1-12 2 2m-2-2l-1 2m-2-1l0-11 1 3m-1-3l-2 3m4 8l1-11m1 11l0-11 2 3m-2-3l-2 3m-58 9l12 0-3 2m3-2l-3-1m-9 3l12 1m-12 2l12 0-3 1m3-1l-3-2m2-3l11 1-2 1m2-1l-2-2m-9 3l11 1m-11 1l11 1-2 1m2-1l-2-2m2-2l11-1-2 2m2-2l-2-1m-9 4l11-1m-11 2l11 0-2 2m2-2l-2-2m1-2l7 0-2 2m2-2l-2-1m-5 3l7 0m-7 2l7 0-2 2m2-2l-2-1m37-77l1 12-2-3m2 3l1-3m0-9l0 12m3-12l0 12-2-3m2 3l1-3m-5 2l0 11-2-2m2 2l1-2m0-9l0 11m2-11l0 11-1-2m1 2l2-2m-6 2l0 11-2-2m2 2l2-2m0-9l1 11m2-11l0 11-2-2m2 2l1-2m-6 1l0 7-1-2m1 2l2-2m0-5l0 7m3-7l-1 7-1-2m1 2l2-2m36 37l-12 1 3-2m-3 2l3 1m9 0l-12 0m12 2l-12 0 3-1m-3 1l3 2m-2-6l-11 1 2-2m-2 2l2 1m9 0l-11 0m11 2l-11 1 2-2m-2 2l2 1m-2-5l-11 0 2-2m-2 2l2 1m9 1l-11-1m11 3l-11-1 2-1m-2 1l2 2m-1-6l-7 0 2-1m-2 1l2 2m5 1l-7 0m7 2l-7-1 2-1m-2 1l2 2m-4 36l-1-12 2 3m-2-3l-1 3m3 9l1-12m2 12l-1-12 2 3m-2-3l-1 3m-3-2l0-11 2 2m-2-2l-1 2m4 9l-1-11m2 11l1-11 1 2m-1-2l-2 2m-2-2l0-11 1 2m-1-2l-2 2m3 9l0-11m2 11l0-11 2 2m-2-2l-1 2m-3-1l0-7 2 2m-2-2l-1 2m3 5l1-7m1 7l0-7 2 2m-2-2l-2 2" stroke="#30d6e6" stroke-opacity="0.9" stroke-width="1.4"/>
<path d="M169 200l10 0-4 3m4-3l-4-2m-6 8l10 0-4 2m4-2l-4-2m3-4l10 0-3 3m3-3l-4-2m-6 8l10 0-3 2m3-2l-4-2m30-49l1 10-3-4m3 4l2-4m3-6l0 10-2-4m2 4l2-4m-8 3l1 10-3-3m3 3l2-4m3-6l0 10-2-3m2 3l3-4m86 30l-10 0 4-2m-4 2l4 3m6 3l-10 0 4-2m-4 2l4 2m-3-8l-10 0 4-2m-4 2l3 3m7 3l-10 0 4-2m-4 2l3 2m-79 87l0-10 2 4m-2-4l-2 4m8 6l0-10 2 4m-2-4l-2 4m-4-3l0-10 3 3m-3-3l-2 4m8 6l0-10 2 3m-2-3l-2 4m-49-58l10 0-4 2m4-2l-4-2m-6 8l10 0-4 2m4-2l-4-2m3-4l10 0-3 2m3-2l-4-2m-6 8l10 0-4 2m4-2l-3-2m51-71l0 10-2-4m2 4l2-4m4-6l0 10-2-4m2 4l2-4m-8 3l0 10-2-4m2 4l2-3m4-7l0 10-3-4m3 4l2-3m65 51l-10 1 4-3m-4 3l4 2m6 3l-10-1 4-2m-4 2l4 3m-3-8l-10 0 3-2m-3 2l4 3m6 3l-10 0 3-2m-3 2l4 2m-58 65l0-10 2 4m-2-4l-2 4m8 6l0-10 2 4m-2-4l-2 4m-4-3l0-10 2 3m-2-3l-2 4m8 6l0-10 2 4m-2-4l-2 3m-71-35l10 0-4 2m4-2l-4-2m-6 8l10 0-4 2m4-2l-4-3m3-3l10 0-4 2m4-2l-3-2m-7 8l10 0-4 2m4-2l-3-3m73-92l0 10-3-4m3 4l2-4m4-6l0 10-2-4m2 4l2-4m-8 3l0 10-2-3m2 3l2-4m4-6l0 10-3-3m3 3l2-4m43 74l-10 0 4-2m-4 2l4 2m6 4l-10 0 4-3m-4 3l4 2m-3-8l-10 0 4-3m-4 3l3 2m7 4l-10 0 3-3m-3 3l4 2m-36 43l0-10 2 4m-2-4l-2 4m8 6l-1-10 2 4m-2-4l-2 4m-3-3l0-10 2 3m-2-3l-2 4m8 6l0-10 2 4m-2-4l-3 3" stroke="#30d6e6" stroke-opacity="0.62" stroke-width="1.4"/>
<path d="M224 221l10-3-1 2m1-2l-2 0m4-11l-2 11 0-2m0 2l2-1m-16 1l10-2-1 1m1-1l-2 0m7-12l-3 10 0-2m0 2l2-1m-20 3l11-1-1 1m1-1l-1-1m3-11l-1 11-1-2m1 2l1-1m-15-2l11 0-2 1m2-1l-2-1m5-9l-3 10-1-2m1 2l1-1m-15 0l11-2-2 1m2-1l-2 0m7-14l-2 11-1-2m1 2l1-1m-15-1l11-2-1 2m1-2l-2 0m0-8l0 11-1-2m1 2l1-2m-14 0l11-3-2 2m2-2l-2 0m5-12l-2 11 0-2m0 2l2-2m-17 4l10-3-1 1m1-1l-1-1m5-10l-3 10-1-2m1 2l1-1m-16 1l11-2-2 1m2-1l-2-1m2-10l0 11-1-2m1 2l1-1m21 46l-1-11 1 1m-1-1l-1 1m-4 1l11 3-2 1m2-1l-2-1m0 12l-4-10 2 1m-2-1l0 2m-13-6l11 1-2 1m2-1l-2-1m0 16l0-11 1 2m-1-2l-1 2m-6 0l11 3-2 0m2 0l-1-2m-2 14l-1-10 1 1m-1-1l-1 1m-12-5l11 2-2 0m2 0l-2-2m1 17l-1-11 1 1m-1-1l-1 2m-10-6l10 3-2 1m2-1l-1-1m3 17l-3-11 1 1m-1-1l-1 2m-15-8l11 1-2 1m2-1l-2-1m4 18l-3-11 2 1m-2-1l0 2m-13-4l11 0-1 1m1-1l-1-1m-2 15l0-11 1 2m-1-2l-1 2m-7-1l11 1-2 1m2-1l-2-1m-2 14l-1-11 1 2m-1-2l-1 2m-12-5l11 1-2 1m2-1l-1-1m39-42l2 11-1-2m1 2l1-2m10 3l-11-1 2-1m-2 1l2 1m-1-16l1 10-1-1m1 1l1-1m12 4l-11-1 2-1m-2 1l2 1m-4-18l2 11-2-2m2 2l0-2m11 3l-11-1 2-1m-2 1l1 1m4-11l1 10-1-1m1 1l1-1m6-2l-11-1 2-1m-2 1l2 1m3-12l1 10-1-1m1 1l1-1m12 5l-11-1 2-1m-2 1l2 1m-5-20l1 11-1-2m1 2l1-2m12 4l-11 0 2-1m-2 1l2 1m0-14l2 10-1-1m1 1l1-1m8-1l-11 0 1-1m-1 1l1 1m4-12l1 11-1-2m1 2l1-2m10 3l-11-1 2-1m-2 1l1 1m2-13l2 11-1-2m1 2l1-2m10 3l-11-1 2-1m-2 1l1 1m-20 32l-10 3 1-2m-1 2l2 0m-4 11l1-11 1 2m-1-2l-1 1m19-3l-11 1 2-1m-2 1l2 1m-5 12l2-11 0 2m0-2l-2 2m15-1l-11 3 1-2m-1 2l2 0m-4 11l2-11 1 2m-1-2l-1 2m14-2l-11 4 2-2m-2 2l2 0m1 7l1-11 1 2m-1-2l-1 2m13 0l-10 3 1-2m-1 2l1 0m-2 9l2-11 1 2m-1-2l-1 2m13 0l-11 3 1-1m-1 1l2 1m-6 12l2-11 1 2m-1-2l-1 2m14 2l-11 0 2-1m-2 1l2 1m-2 8l2-11 1 2m-1-2l-1 2m18-2l-11 1 2-1m-2 1l2 0m-6 12l3-11 0 2m0-2l-2 2m15 2l-11 0 1-1m-1 1l2 1m-4 9l3-11 0 2m0-2l-1 1" stroke="#30d6e6" stroke-opacity="0.375" stroke-width="1.4"/>
<path d="M199 195l10 6-2-1m2 1l-1-2m-8-2l10 2-2 0m2 0l-1-1m-4-8l5 10-2-2m2 2l0-2m1-11l0 11-1-2m1 2l1-2m-15-4l10 4-2 0m2 0l-1-2m-11 3l11 0-2 1m2-1l-2-1m3-15l4 11-1-2m1 2l1-2m-8-4l2 11-1-2m1 2l1-2m-10-11l10 6-2 0m2 0l-1-2m-9 1l11 0-2 1m2-1l-2-1m-3-8l3 10-1-1m1 1l1-2m-5-6l2 11-2-2m2 2l0-2m-10-10l10 6-2 0m2 0l-1-2m-12 2l11 1-1 1m1-1l-1-1m-2-10l4 11-2-1m2 1l0-2m-2-10l3 10-1-1m1 1l1-2m-14-6l10 5-2 0m2 0l-1-2m-14 4l11 3-2 0m2 0l-2-2m1-12l4 10-2-1m2 1l0-2m-5-6l2 11-1-2m1 2l1-2m-14-7l10 6-2 0m2 0l-1-1m-8-2l11 1-2 1m2-1l-2-1m-4-8l6 9-2-1m2 1l0-2m-1-11l3 11-1-2m1 2l1-2m-19-1l11 4-2 0m2 0l-2-1m-8 0l11 0-2 1m2-1l-2-1m-5-7l6 9-2-1m2 1l0-2m0-11l2 11-1-2m1 2l1-2m-14-5l10 3-2 1m2-1l-1-1m-8-1l11 0-1 1m1-1l-1-1m-4-8l5 9-2-1m2 1l0-2m-5-4l1 11-1-2m1 2l1-2m22 90l3-11 1 2m-1-2l-1 2m-4 6l2-11 1 2m-1-2l-1 2m-9 1l10-3-1 1m1-1l-2 0m-6 5l11-2-2 1m2-1l-2-1m-6 13l4-10 0 2m0-2l-2 1m-2 8l2-11 1 2m-1-2l-1 2m-8 3l10-4-1 2m1-2l-2 0m-9 1l11-1-2 1m2-1l-2-1m-6 14l4-10 1 2m-1-2l-1 1m0 9l1-11 1 2m-1-2l-1 2m-7 5l10-5-1 2m1-2l-2 0m-8 2l11-1-2 1m2-1l-2-1m-11 10l6-10 0 2m0-2l-2 1m0 10l1-11 1 2m-1-2l-1 1m-6 7l10-6-1 2m1-2l-2 0m-10 0l11-1-2 1m2-1l-2-1m-7 12l3-10 1 2m-1-2l-1 1m-2 10l3-11 1 2m-1-2l-1 1m-9 2l10-3-1 1m1-1l-2-1m-3 9l11-3-2 2m2-2l-2 0m-9 11l6-9 0 2m0-2l-1 1m1 10l0-11 1 1m-1-1l-1 1m-11 1l11-3-2 1m2-1l-2-1m-7 4l11-1-2 1m2-1l-2-1m-7 13l4-11 0 2m0-2l-1 2m-3 6l1-11 1 2m-1-2l-1 2m-7 4l10-4-1 2m1-2l-2 0m-5 6l11-2-2 1m2-1l-2-1m-11 10l6-9 0 2m0-2l-1 1m0 9l0-11 1 2m-1-2l0 2m-5 7l9-5-1 1m1-1l-2 0m-13-4l11 0-1 1m1-1l-2-1m84-86l-6 9 0-2m0 2l1-1m4-6l-1 11-1-2m1 2l1-2m9-2l-9 5 1-2m-1 2l2 0m4-7l-11 2 2-1m-2 1l2 1m11-9l-5 10 0-2m0 2l2-1m-2-12l-2 10-1-1m1 1l1-1m10-1l-11 3 2-1m-2 1l2 0m11 1l-11 1 1-1m-1 1l1 1m8-14l-6 10 0-2m0 2l2-1m-1-10l-1 11-1-2m1 2l1-2m7-4l-10 4 1-2m-1 2l2 0m9-1l-11 1 2-1m-2 1l2 1m8-12l-5 9 0-2m0 2l2-1m-6-14l0 11-1-1m1 1l1-1m9-4l-9 6 1-2m-1 2l2 0m9-1l-10 2 1-1m-1 1l1 1m8-12l-4 10 0-2m0 2l2-1m-5-14l-1 11-1-2m1 2l1-2m8-3l-10 4 1-1m-1 1l2 0m11 1l-10 2 1-1m-1 1l1 0m7-13l-6 9 0-2m0 2l2-1m-1-11l-2 11-1-2m1 2l1-2m11 0l-9 5 1-2m-1 2l2 0m7-2l-10 1 1-2m-1 2l1 0m7-12l-4 10 0-2m0 2l2-1m-1-12l-3 11 0-2m0 2l2-1m8-4l-9 5 1-1m-1 1l2 0m9-2l-11 3 2-1m-2 1l2 1m5-14l-4 10 0-2m0 2l2-1m1-9l-2 11-1-2m1 2l1-2m9-4l-10 6 1-2m-1 2l2 0m7-5l-11 3 2-1m-2 1l2 0m-9 79l-11-5 2 0m-2 0l2 2m9 0l-11-1 2-1m-2 1l2 1m3 9l-6-9 2 1m-2-1l0 2m2 9l-2-11 1 1m-1-1l-1 2m13 7l-11-4 2 0m-2 0l2 1m6 4l-10-3 2 0m-2 0l1 2m6 5l-4-10 1 1m-1-1l0 2m3 8l-2-11 1 2m-1-2l-1 2m14 6l-10-5 2 0m-2 0l1 2m8 3l-11-3 2 0m-2 0l2 2m4 6l-4-10 2 1m-2-1l0 2m-2 13l-2-11 2 2m-2-2l0 2m14 5l-10-5 2 0m-2 0l1 2m10 0l-10-2 2-1m-2 1l1 1m4 9l-6-10 2 1m-2-1l0 2m2 10l-2-11 1 1m-1-1l-1 2m18 2l-10-6 2 0m-2 0l1 2m7 2l-11 0 2-1m-2 1l2 1m6 6l-5-10 1 1m-1-1l0 2m-1 12l-2-11 1 2m-1-2l-1 2m17 2l-9-5 2 0m-2 0l1 2m6 4l-11-2 2-1m-2 1l2 1m2 10l-6-9 2 1m-2-1l0 2m6 5l-3-10 2 1m-2-1l0 1m12 8l-9-6 2 0m-2 0l1 2m11-2l-11-1 2-1m-2 1l2 1m3 9l-6-9 2 1m-2-1l0 2m0 11l-2-10 1 1m-1-1l-1 2m16 3l-10-5 2 0m-2 0l1 2m12-2l-10-2 2-1m-2 1l1 1m4 8l-5-10 2 2m-2-2l0 2m1 9l-1-11 1 2m-1-2l-1 2" stroke="#2f74e6" stroke-opacity="0.375" stroke-width="1.4"/>
<path d="M202 188l6 7-3-1m3 1l-1-3m-11-10l6 7-3-1m3 1l-1-3m-11-10l6 6-2-1m2 1l-1-3m7 83l6-7-1 3m1-3l-3 1m-9 12l6-7-1 3m1-3l-3 1m-9 12l6-7-1 3m1-3l-3 1m83-80l-7 6 1-2m-1 2l3 0m10-12l-6 6 0-2m0 2l2 0m10-12l-6 6 0-3m0 3l2-1m-8 81l-7-6 3 1m-3-1l1 3m12 9l-6-6 2 0m-2 0l0 2m12 10l-6-6 3 1m-3-1l1 3" stroke="#2f74e6" stroke-opacity="0.375" stroke-width="1.6"/>
<path d="M220 218l11 4-2 0m2 0l-2-1m-4-6l10 2-2 1m2-1l-1-1m-9-4l6 10-2-1m2 1l0-2m-1-11l2 11-1-1m1 1l1-2m-14-4l10 3-2 1m2-1l-1-1m-12 1l11 2-2 1m2-1l-1-1m0-12l5 9-1-1m1 1l0-2m-5-6l3 11-2-2m2 2l0-2m-11-9l9 6-2 0m2 0l-1-2m-7-2l11 1-2 1m2-1l-2-1m-7-4l4 10-1-1m1 1l0-2m1-11l1 11-1-2m1 2l1-2m-15-5l9 6-2 0m2 0l-1-2m-5-3l11 0-2 1m2-1l-2-1m-3-8l5 9-2-1m2 1l0-2m-1-8l0 11-1-2m1 2l1-2m-15-4l11 3-2 1m2-1l-2-1m-10 0l10 2-2 1m2-1l-1-1m-5-6l4 10-2-1m2 1l0-2m1-12l2 11-2-1m2 1l0-2m-12-8l9 6-2 0m2 0l-1-1m-11 2l11 1-2 1m2-1l-2-1m-1-11l5 10-2-1m2 1l0-2m-4-8l3 11-2-2m2 2l0-2m-15-5l10 6-2 0m2 0l-1-2m-7-3l11 2-2 0m2 0l-2-2m-3-9l5 10-1-1m1 1l0-2m-6-4l1 11-1-1m1 1l1-1m14 37l5-10 0 2m0-2l-2 1m3 13l2-10 1 1m-1-1l-1 1m-12 0l10-5-1 2m1-2l-2 0m-6 4l11-1-2 1m2-1l-2-1m-5 15l5-10 0 2m0-2l-2 1m1 9l0-11 1 2m-1-2l-1 2m-13 0l10-5-1 1m1-1l-2 0m-4 5l11 0-2 1m2-1l-2-1m-7 13l6-9 0 2m0-2l-2 1m-1 8l2-11 0 2m0-2l-1 2m-11 1l9-5-1 2m1-2l-2 0m-8 3l11-3-2 2m2-2l-2 0m-4 15l4-10 0 2m0-2l-2 1m2 11l1-11 1 2m-1-2l-1 1m-12 2l10-6-1 1m1-1l-2 0m-7 4l11-3-2 2m2-2l-2 0m-5 14l4-10 0 2m0-2l-2 1m2 12l2-11 1 2m-1-2l-1 2m-12 0l10-5-1 2m1-2l-2 0m-9 1l11-1-2 1m2-1l-2-1m-4 15l4-10 0 2m0-2l-2 1m1 12l3-11 0 2m0-2l-2 2m-8 4l9-6-1 1m1-1l-2 0m-12-3l11-1-2 1m2-1l-2 0m-2 17l4-10 0 2m0-2l-2 1m-1 7l0-11 1 2m-1-2l-1 2m-6 6l10-6-1 2m1-2l-2 0m-13-2l11-1-2 1m2-1l-2-1m38-38l-4 11 0-2m0 2l2-2m-4-12l-1 11-1-2m1 2l1-2m13 2l-10 3 1-1m-1 1l2 1m9-1l-11 0 1-1m-1 1l1 1m7-13l-5 10 0-2m0 2l2-1m1-9l-1 11-1-2m1 2l1-1m7-5l-10 4 1-1m-1 1l2 0m6-5l-11 3 2-2m-2 2l2 0m7-12l-4 10 0-2m0 2l2-1m-2-11l-1 11-1-2m1 2l1-1m8-3l-10 3 1-2m-1 2l2 0m11 0l-11 2 1-1m-1 1l2 1m8-12l-5 10 0-2m0 2l2-1m-7-15l0 11-1-1m1 1l1-1m11-1l-10 4 2-1m-2 1l2 1m10-3l-11 3 2-1m-2 1l2 1m2-17l-4 10 0-2m0 2l2-1m5-6l-3 11-1-2m1 2l1-2m5-8l-10 6 1-2m-1 2l2 0m12 1l-11 2 2-1m-2 1l2 1m2-17l-3 10-1-2m1 2l1-1m3-7l-2 11 0-2m0 2l2-2m8-2l-10 4 1-2m-1 2l2 0m9 0l-11 0 2-1m-2 1l2 1m10-11l-6 10 0-2m0 2l2-1m-1-12l-3 10-1-2m1 2l1-1m8-4l-10 4 1-2m-1 2l1 0m10-2l-11 3 2-2m-2 2l2 0m-8 31l-11-3 2 0m-2 0l2 2m10-3l-11 0 2-1m-2 1l2 1m-3 15l-4-10 1 1m-1-1l0 2m4 7l-3-10 1 1m-1-1l-1 1m14 6l-11-4 2 0m-2 0l2 2m13-4l-11-2 2 0m-2 0l2 2m0 11l-6-9 2 1m-2-1l1 2m5 5l-1-11 1 1m-1-1l-1 2m9 10l-9-5 2 0m-2 0l1 1m14-4l-11-2 2 0m-2 0l2 2m-2 13l-4-10 1 1m-1-1l0 2m5 5l-1-11 1 1m-1-1l-1 1m11 10l-10-5 2 0m-2 0l1 1m8 2l-11-1 2-1m-2 1l2 1m6 6l-6-9 2 1m-2-1l0 2m3 7l-1-11 1 2m-1-2l-1 2m11 9l-9-6 2 0m-2 0l1 2m10 1l-11-3 2 0m-2 0l2 1m4 8l-5-10 2 1m-2-1l0 2m2 8l-1-11 1 2m-1-2l-1 2m15 5l-10-4 2 0m-2 0l1 1m8 3l-11-3 2 0m-2 0l1 2m3 9l-5-9 1 1m-1-1l0 2m5 5l-2-10 1 1m-1-1l-1 2m14 6l-10-5 2-1m-2 1l1 1m11-2l-11 0 1-1m-1 1l2 1m-1 12l-5-10 2 2m-2-2l0 2m1 10l-2-11 1 2m-1-2l-1 2" stroke="#1e8cf0" stroke-opacity="0.375" stroke-width="1.4"/>
<path d="M242 222l-3 5 0-2m0 2l2-1m-9 0l8 2-2 0m2 0l-2-2m5 0l-6 0 2-1m-2 1l2 1m2-11l1 10-2-2m2 2l1-2m-11 10l10-7-2 2m2-2l-3 0m-11 4l8-10 0 2m0-2l-2 0m3 7l4-3-1 2m1-2l-2 0m0-3l-2 4 0-2m0 2l2-1m-3 2l5-1-2 2m2-2l-2-1m-1-3l3 4-2-1m2 1l-1-2m-9-9l8 11-2-1m2 1l0-3m4 3l-5-2 2-1m-2 1l1 2m3 13l2-15 1 3m-1-3l-2 2m1-3l-5 3 1-2m-1 2l3 0m-1-7l2 7-2-2m2 2l1-2m-3-2l-3 4 0-2m0 2l2-1m-10-8l6 12-2-2m2 2l0-3m3 6l-2-8 1 2m-1-2l-1 2m1-3l4 3-2 0m2 0l-1-2m2 3l-3-4 2 1m-2-1l0 2m-3 2l5-4-1 3m1-3l-3 1" stroke="#1e8cf0" stroke-opacity="0.8" stroke-width="2"/></g></g>
<path d="M91.8 87.9V85.3H93.6M145.3 85.3H147.1V87.1M147.1 138.6V140.4H145.3M93.6 140.4H91.8V138.6" fill="none" stroke="#1a1a1a" stroke-width="1.6" stroke-linejoin="round"/>
<path d="M95.9 85.3H145.3M147.1 89.4V138.6M95.9 140.4H145.3M91.8 90.2V138.6" fill="none" stroke="#1a1a1a" stroke-width="1.6" stroke-dasharray="5.3 2.3"/>
<circle cx="270.2" cy="112.5" r="72" stroke="#a8a8a8" stroke-width="0.9" fill="none"/>
<circle cx="270.2" cy="112.5" r="66" stroke="#c4c4c4" stroke-width="0.8" fill="none"/>
<g fill="none" stroke-linecap="round" filter="url(#sf)"><g transform="scale(.5)"><path d="M678 225l0 2m-1 11l0 3m-2 11l0 2m-3 11l-1 2m-4 11l-1 2m-4 10l-2 2m-5 9l-2 2m-6 9l-2 2m-7 8l-2 2m-8 7l-2 2m-9 6l-2 2m-10 5l-2 1m-10 5l-2 1m-11 3l-2 1m-11 3l-2 0m-11 2l-3 0m-11 0l-2 0m-11 0l-2 0m-11-2l-3-1m-10-3l-3 0m-10-4l-2-1m-10-5l-2-1m-10-6l-2-1m-9-7l-2-1m-8-8l-1-2m-8-8l-1-2m-7-9l-1-2m-6-9l-1-2m-5-10l0-3m-4-10l-1-2m-2-11l-1-3m-1-11l-1-2m0-11l0-2m1-11l0-3m2-11l0-2m3-11l1-2m3-11l1-2m5-10l1-2m6-9l1-2m7-9l2-2m7-8l2-2m8-7l2-2m9-6l2-2m10-5l2-1m10-5l2-1m11-3l2-1m11-3l2 0m11-2l2 0m11 0l3 0m11 0l2 0m11 2l3 1m10 3l3 0m10 4l2 1m10 5l2 1m10 6l2 1m9 7l1 1m9 8l1 2m8 8l1 2m7 9l1 2m6 9l1 2m4 10l1 3m4 10l1 2m2 11l1 3m1 11l0 2" stroke="#9a9a9a" stroke-opacity="0.6" stroke-width="1.2"/>
<path d="M430 162l10 0-3 2m3-2l-3-2m3 2l9-1-3 3m3-3l-3-2m3 3l9-1-3 3m3-3l-3-2m3 3l10 0-4 2m4-2l-4-2m13-45l0 10-2-4m2 4l2-4m-2 3l0 10-3-4m3 4l2-3m-2 2l0 10-2-3m2 3l2-3m-2 3l0 9-2-3m2 3l2-3m171 13l-9-1 3-2m-3 2l3 3m-3-2l-9-1 3-2m-3 2l3 2m-3-1l-10-1 4-2m-4 2l4 2m-3-1l-10-1 4-2m-4 2l3 3m-139 171l0-10 2 4m-2-4l-2 4m2-3l0-10 2 4m-2-4l-2 3m2-2l0-10 2 3m-2-3l-2 3m2-3l-1-9 3 3m-3-3l-2 3m-50-118l10 0-3 2m3-2l-3-2m3 2l9 0-3 2m3-2l-3-2m3 2l9 0-3 2m3-2l-3-2m3 2l10 0-4 2m4-2l-4-2m3 2l10 0-3 2m3-2l-4-2m32-72l0 10-2-4m2 4l2-4m-2 3l-1 10-2-4m2 4l3-3m-2 2l0 10-3-3m3 3l2-3m-2 3l0 9-3-3m3 3l2-3m-2 3l-1 9-2-3m2 3l3-3m155 31l-9 0 3-2m-3 2l3 2m-3-2l-9 1 3-3m-3 3l3 2m-3-3l-10 0 4-2m-4 2l4 3m-3-3l-10 0 4-2m-4 2l3 2m-2-2l-10 0 3-2m-3 2l3 2m-114 156l0-10 2 4m-2-4l-2 4m2-3l-1-10 3 3m-3-3l-2 4m3-3l-1-10 3 3m-3-3l-2 3m3-3l0-9 2 3m-2-3l-2 3m2-3l0-9 2 3m-2-3l-2 3m-73-95l10 0-3 3m3-3l-3-2m3 2l9 0-3 2m3-2l-3-2m3 2l9 1-3 2m3-2l-3-3m70-92l-1 10-2-4m2 4l3-4m-2 3l0 10-2-3m2 3l2-4m-2 3l-1 10-2-3m2 3l3-3m135 69l-9 0 3-2m-3 2l3 3m-3-3l-9 1 3-3m-3 3l3 2m-3-3l-10 0 4-2m-4 2l4 3m-113 135l0-10 2 4m-2-4l-2 4m2-3l0-10 2 4m-2-4l-2 3m2-2l0-10 2 3m-2-3l-2 3m-93-91l10 0-3 2m3-2l-3-2m3 2l9 0-3 2m3-2l-3-2m3 2l9 0-3 2m3-2l-3-2m91-114l1 10-3-4m3 4l2-4m-3 3l0 10-2-4m2 4l2-3m-2 2l1 10-3-3m3 3l2-3m113 91l-9 0 3-2m-3 2l3 2m-3-2l-9 0 3-2m-3 2l3 2m-3-2l-10 0 4-2m-4 2l4 2m-92 114l0-10 2 4m-2-4l-2 4m2-3l0-10 2 3m-2-3l-2 4m2-3l0-10 3 3m-3-3l-2 3m-114-69l10 0-3 2m3-2l-3-3m3 3l9 0-3 2m3-2l-3-2m3 2l9 0-3 2m3-2l-3-3m113-135l0 10-2-4m2 4l2-4m-2 3l0 10-2-4m2 4l2-3m-2 2l1 10-3-3m3 3l2-3m91 113l-9-1 3-2m-3 2l3 3m-3-2l-9-1 3-2m-3 2l3 3m-3-2l-10-1 4-2m-4 2l4 3m-70 92l0-10 3 4m-3-4l-2 4m2-3l0-10 2 4m-2-4l-2 3m2-2l0-10 3 3m-3-3l-2 3m-136-46l10 0-3 2m3-2l-3-2m3 2l9 0-3 2m3-2l-3-2m3 2l9 0-3 2m3-2l-3-2m3 2l10 0-4 2m4-2l-4-3m3 3l10 0-3 2m3-2l-4-2m118-159l0 10-2-4m2 4l3-4m-3 3l0 10-2-4m2 4l3-3m-3 2l0 10-2-3m2 3l3-3m-3 3l1 9-3-3m3 3l2-3m-3 3l0 9-2-3m2 3l2-3m69 118l-9 0 3-2m-3 2l3 2m-3-2l-9 0 3-2m-3 2l3 2m-3-2l-10 0 4-2m-4 2l4 2m-3-2l-10 0 3-2m-3 2l4 2m-3-2l-10 0 3-2m-3 2l3 3m-28 68l0-10 3 4m-3-4l-2 4m2-3l0-10 3 3m-3-3l-2 4m2-3l0-10 3 3m-3-3l-2 3m2-3l0-9 3 3m-3-3l-2 3m2-3l1-9 2 3m-2-3l-3 3m-153-6l10 0-3 2m3-2l-3-2m3 2l9-1-3 3m3-3l-3-2m3 3l9 0-3 2m3-2l-3-3m3 3l10 0-4 2m4-2l-4-2m143-175l0 10-2-4m2 4l2-4m-2 3l0 10-2-4m2 4l2-3m-2 2l0 10-2-3m2 3l2-3m-2 3l0 9-2-3m2 3l2-3m41 143l-9-1 3-2m-3 2l3 3m-3-2l-9-1 3-2m-3 2l3 3m-3-2l-10-1 4-2m-4 2l4 3m-3-2l-10 0 3-2m-3 2l4 2m-10 41l1-10 2 4m-2-4l-3 4m2-3l0-10 2 3m-2-3l-2 4m2-3l0-10 2 3m-2-3l-2 3m2-3l0-9 3 3m-3-3l-2 3" stroke="#4a5ad0" stroke-opacity="0.62" stroke-width="1.4"/>
<path d="M418 182l3 4m-3-4l0 3m0-3l-4 3m4-3l-3-1m3 1l-2-4m2 4l0-3m0 3l5-4m-5 4l4 0m75-79l5 4m-5-4l0 3m0-3l-4 3m4-3l-3 0m3 0l-4-3m4 3l0-3m0 3l4-4m-4 4l3 1m162 78l3 3m-3-3l0 3m0-3l-4 4m4-4l-2-1m2 1l-4-5m4 5l0-4m0 4l5-6m-5 6l4 0m-169 165l3 5m-3-5l-1 3m1-3l-3 3m3-3l-4 1m4-1l-3-4m3 4l-1-3m1 3l3-4m-3 4l3 1m-82-145l5 4m-5-4l0 3m0-3l-4 3m4-3l-3 0m3 0l-4-3m4 3l0-3m0 3l5-3m-5 3l5 1m96-101l4 4m-4-4l-1 4m1-4l-3 4m3-4l-4 0m4 0l-3-5m3 5l0-3m0 3l3-5m-3 5l4-1m139 101l5 5m-5-5l1 4m-1-4l-4 5m4-5l-3 0m3 0l-4-3m4 3l0-3m0 3l5-5m-5 5l4 1m-147 143l5 4m-5-4l-1 3m1-3l-5 3m5-3l-4 0m4 0l-3-4m3 4l0-3m0 3l4-4m-4 4l2-1m-103-121l6 4m-6-4l0 3m0-3l-3 6m3-6l-4-1m4 1l-5-4m5 4l0-3m0 3l5-4m-5 4l4 1m118-123l4 3m-4-3l1 3m-1-3l-4 5m4-5l-3 0m3 0l-3-5m3 5l0-4m0 4l5-4m-5 4l4 0m118 122l5 4m-5-4l1 4m-1-4l-4 4m4-4l-3 0m3 0l-3-6m3 6l1-4m-1 4l4-5m-4 5l3 0m-125 122l5 3m-5-3l0 3m0-3l-4 5m4-5l-2 0m2 0l-3-5m3 5l0-3m0 3l4-4m-4 4l4 1m-126-101l6 3m-6-3l0 4m0-4l-3 5m3-5l-4-1m4 1l-4-5m4 5l1-3m-1 3l5-5m-5 5l4 0m140-144l4 5m-4-5l0 3m0-3l-5 5m5-5l-4 1m4-1l-3-4m3 4l0-3m0 3l4-5m-4 5l3 0m97 144l3 4m-3-4l0 3m0-3l-2 3m2-3l-4-1m4 1l-4-6m4 6l0-4m0 4l4-5m-4 5l4-1m-104 101l4 5m-4-5l1 3m-1-3l-5 4m5-4l-4 0m4 0l-3-4m3 4l1-4m-1 4l3-4m-3 4l3-1m-147-78l4 5m-4-5l1 5m-1-5l-3 4m3-4l-3 0m3 0l-3-4m3 4l0-3m0 3l3-4m-3 4l3 0m163-165l4 4m-4-4l0 3m0-3l-3 4m3-4l-3 0m3 0l-5-5m5 5l-1-4m1 4l3-3m-3 3l3 0m75 165l4 4m-4-4l0 4m0-4l-4 3m4-3l-4 1m4-1l-3-3m3 3l0-3m0 3l5-3m-5 3l4 0m-82 79l4 3m-4-3l0 4m0-4l-3 3m3-3l-3 0m3 0l-4-4m4 4l-1-4m1 4l5-3m-5 3l3 0m-156-144l10 2-3 1m3-1l-2-2m-8 22l10 0-2 1m2-1l-2-1m-8 23l10-2-2 2m2-2l-3-1m81-128l2 10-2-2m2 2l0-3m-2 211l2-10 0 3m0-3l-2 2m21-210l0 10-1-3m1 3l2-3m-2 211l0-10 2 3m-2-3l-1 3m23-211l-2 10-1-3m1 3l2-2m0 210l-2-10 2 2m-2-2l-1 3m90-124l-10 2 3-2m-3 2l3 1m7 19l-10 0 3-1m-3 1l3 1m7 21l-10-2 3-1m-3 1l3 2" stroke="#4a5ad0" stroke-opacity="0.7" stroke-width="1.6"/>
<path d="M482 168l7 4-2 0m2 0l-1-2m-6 0l8 1-2 0m2 0l-2-1m-3-5l4 6-1-1m1 1l0-2m0-6l1 8-1-2m1 2l1-2m-14-2l7 4-2 0m2 0l-1-2m-8 2l8 0-2 1m2-1l-2-1m3-9l2 8-2-2m2 2l0-2m2-9l0 8-1-1m1 1l1-1m-18 2l8 3-2 0m2 0l-2-2m-3-3l7 2-2 0m2 0l-1-1m0-8l3 8-2-2m2 2l0-2m-4-5l2 8-1-1m1 1l1-2m2 120l5-7-1 2m1-2l-2 1m-1 6l2-8 0 2m0-2l-1 2m-7 1l7-4-1 2m1-2l-2 0m-3 3l8 0-2 1m2-1l-2-1m-6 10l4-7 0 2m0-2l-2 1m2 8l1-8 1 2m-1-2l-1 2m-7 1l7-4-1 2m1-2l-2 0m-9-1l8-2-2 1m2-1l-2 0m-2 13l3-7 0 2m0-2l-2 1m0 6l1-8 1 2m-1-2l-1 2m-5 2l7-3-1 2m1-2l-1 0m-4 3l8 0-2 1m2-1l-2-1m115-118l-3 7 0-2m0 2l2-1m0-7l-2 8 0-2m0 2l2-1m0-7l-7 3 1-1m-1 1l2 0m10 4l-8 0 2-1m-2 1l2 1m6-10l-3 7-1-2m1 2l1-1m-4-9l0 8-1-2m1 2l1-2m6-1l-7 3 1-2m-1 2l2 0m3-4l-8 1 2-1m-2 1l2 1m7-9l-4 7 0-2m0 2l2-1m-3-9l0 8-1-1m1 1l1-1m8 0l-7 3 1-1m-1 1l2 0m6 0l-8 0 2-1m-2 1l2 1m-4 117l-7-4 2 0m-2 0l1 2m8-3l-8 0 2-1m-2 1l2 1m2 6l-4-7 2 1m-2-1l0 2m2 6l-2-8 1 2m-1-2l-1 2m11 4l-7-3 2 0m-2 0l1 2m7-1l-8-1 2 0m-2 0l2 1m3 5l-4-7 2 1m-2-1l0 2m0 7l-1-7 1 1m-1-1l-1 1m15 0l-7-2 2-1m-2 1l1 1m4 3l-8-2 2 0m-2 0l2 2m0 7l-4-6 2 1m-2-1l0 2m2 4l0-8 1 1m-1-1l-1 2" stroke="#4a5ad0" stroke-opacity="0.4" stroke-width="1.4"/>
<path d="M485 170l6 6-2-1m2 1l0-3m-6 107l6-6-1 2m1-2l-3 1m108-105l-6 6 0-3m0 3l2-1m4 105l-6-6 3 1m-3-1l1 2" stroke="#4a5ad0" stroke-opacity="0.4" stroke-width="1.6"/>
<path d="M416 204l4 3m-4-3l0 3m0-3l-4 3m4-3l-3 0m3 0l-5-3m5 3l0-2m0 2l3-4m-3 4l3 0m-3 21l2 4m-2-4l0 2m0-2l-5 3m5-3l-3 0m3 0l-3-4m3 4l-1-3m1 3l3-2m-3 2l3 0m-3 21l4 2m-4-2l0 3m0-3l-4 3m4-3l-3 0m3 0l-4-5m4 5l-1-3m1 3l3-2m-3 2l2 0m18-83l5 3m-5-3l1 3m-1-3l-5 3m5-3l-3 0m3 0l-3-4m3 4l0-4m0 4l4-4m-4 4l3-1m-3 21l4 3m-4-3l0 4m0-4l-2 4m2-4l-3 0m3 0l-3-2m3 2l0-2m0 2l3-3m-3 3l3 0m-3 84l4 3m-4-3l1 2m-1-2l-3 3m3-3l-2-1m2 1l-4-4m4 4l1-3m-1 3l3-4m-3 4l3-1m-3 21l4 4m-4-4l1 4m-1-4l-3 4m3-4l-2 1m2-1l-5-3m5 3l1-3m-1 3l3-3m-3 3l4 1m17-146l4 3m-4-3l-1 3m1-3l-3 5m3-5l-3 0m3 0l-3-2m3 2l0-3m0 3l4-5m-4 5l4-1m-4 167l5 4m-5-4l0 3m0-3l-3 2m3-2l-3 0m3 0l-2-3m2 3l-1-3m1 3l2-3m-2 3l3 0m18-187l4 2m-4-2l1 3m-1-3l-3 5m3-5l-3 1m3-1l-3-4m3 4l-1-2m1 2l2-4m-2 4l4 0m-4 208l3 4m-3-4l0 3m0-3l-4 4m4-4l-3 0m3 0l-3-4m3 4l1-3m-1 3l3-5m-3 5l3-1m18-207l4 3m-4-3l0 3m0-3l-3 3m3-3l-3 0m3 0l-3-5m3 5l-1-3m1 3l4-3m-4 3l3 1m-3 207l3 4m-3-4l-1 2m1-2l-3 3m3-3l-3 0m3 0l-3-4m3 4l0-3m0 3l4-4m-4 4l3 0m18-229l3 3m-3-3l-1 3m1-3l-5 4m5-4l-3 1m3-1l-4-2m4 2l-1-3m1 3l4-4m-4 4l3 0m-3 250l3 3m-3-3l0 2m0-2l-3 3m3-3l-3 0m3 0l-5-3m5 3l0-3m0 3l3-5m-3 5l3 0m17-250l4 5m-4-5l0 3m0-3l-3 4m3-4l-2 1m2-1l-3-4m3 4l0-3m0 3l4-4m-4 4l4 0m-4 250l3 3m-3-3l1 3m-1-3l-3 3m3-3l-2 0m2 0l-4-3m4 3l0-4m0 4l4-4m-4 4l4-1m17-249l3 4m-3-4l0 4m0-4l-3 4m3-4l-2 0m2 0l-4-3m4 3l0-2m0 2l5-3m-5 3l3 0m-3 250l3 4m-3-4l0 2m0-2l-3 4m3-4l-2 0m2 0l-3-3m3 3l0-3m0 3l4-5m-4 5l3 0m18-229l4 3m-4-3l1 2m-1-2l-3 5m3-5l-3-1m3 1l-2-4m2 4l-1-3m1 3l4-4m-4 4l3 0m-3 208l3 3m-3-3l0 3m0-3l-3 3m3-3l-3 0m3 0l-3-4m3 4l0-3m0 3l4-4m-4 4l3 0m18-208l4 4m-4-4l0 4m0-4l-3 3m3-3l-3 0m3 0l-5-3m5 3l-1-2m1 2l3-3m-3 3l3 1m-3 207l3 5m-3-5l-1 3m1-3l-4 5m4-5l-3 0m3 0l-4-4m4 4l0-3m0 3l3-3m-3 3l3 0m18-187l3 4m-3-4l0 3m0-3l-4 4m4-4l-3 0m3 0l-4-5m4 5l0-3m0 3l3-4m-3 4l2 0m-2 166l2 3m-2-3l0 3m0-3l-5 4m5-4l-3 0m3 0l-4-3m4 3l0-2m0 2l3-3m-3 3l3 0m17-145l4 2m-4-2l0 3m0-3l-3 4m3-4l-3 0m3 0l-4-4m4 4l1-4m-1 4l4-3m-4 3l3 0m-3 20l3 3m-3-3l1 3m-1-3l-3 4m3-4l-2 1m2-1l-4-3m4 3l1-2m-1 2l3-2m-3 2l4 0m-4 84l4 3m-4-3l1 2m-1-2l-3 4m3-4l-3 0m3 0l-4-4m4 4l1-3m-1 3l4-3m-4 3l4-1m-4 21l4 4m-4-4l1 4m-1-4l-2 4m2-4l-2 0m2 0l-3-3m3 3l0-3m0 3l5-3m-5 3l3 0m18-83l3 4m-3-4l1 3m-1-3l-4 4m4-4l-3 0m3 0l-4-3m4 3l1-2m-1 2l2-3m-2 3l3 0m-3 21l5 4m-5-4l1 2m-1-2l-4 3m4-3l-3 0m3 0l-3-4m3 4l0-3m0 3l3-4m-3 4l3 0m-3 21l4 4m-4-4l0 2m0-2l-3 4m3-4l-2-1m2 1l-3-4m3 4l0-3m0 3l3-3m-3 3l3-1" stroke="#4a5ad0" stroke-opacity="0.65" stroke-width="1.7"/>
<path d="M436 204l4 5m-4-5l1 4m-1-4l-4 4m4-4l-3-1m3 1l-5-5m5 5l0-4m0 4l4-3m-4 3l4 0m-4 21l4 5m-4-5l1 3m-1-3l-4 6m4-6l-4-1m4 1l-4-3m4 3l1-4m-1 4l5-4m-5 4l3 0m-3 21l6 4m-6-4l1 4m-1-4l-5 4m5-4l-3 1m3-1l-3-4m3 4l1-4m-1 4l5-5m-5 5l3 0m81-125l4 3m-4-3l0 3m0-3l-6 4m6-4l-3 0m3 0l-4-4m4 4l0-4m0 4l3-4m-3 4l4 1m-4 207l4 6m-4-6l-1 4m1-4l-5 4m5-4l-4-1m4 1l-5-6m5 6l-1-3m1 3l3-4m-3 4l3 0m17-208l5 5m-5-5l0 3m0-3l-5 4m5-4l-2-1m2 1l-5-3m5 3l1-3m-1 3l3-4m-3 4l3-1m-3 209l5 5m-5-5l0 3m0-3l-5 4m5-4l-4 1m4-1l-4-5m4 5l1-4m-1 4l4-5m-4 5l4 1m17-209l3 4m-3-4l1 4m-1-4l-4 4m4-4l-3 0m3 0l-5-5m5 5l1-4m-1 4l4-4m-4 4l3 0m-3 208l4 5m-4-5l0 3m0-3l-3 4m3-4l-4-1m4 1l-4-3m4 3l1-4m-1 4l5-5m-5 5l3 0m80-125l4 6m-4-6l1 4m-1-4l-4 6m4-6l-3 1m3-1l-4-3m4 3l-1-4m1 4l5-4m-5 4l5-1m-5 22l6 5m-6-5l0 3m0-3l-3 4m3-4l-3 1m3-1l-3-5m3 5l0-3m0 3l4-5m-4 5l3 0m-3 21l4 6m-4-6l1 3m-1-3l-4 3m4-3l-3 0m3 0l-5-4m5 4l1-4m-1 4l4-4m-4 4l4-1" stroke="#4a5ad0" stroke-opacity="0.75" stroke-width="1.7"/>
<path d="M430 158l10 0-3 2m3-2l-3-2m3 2l9 1-3 2m3-2l-3-3m3 2l9 0-3 2m3-2l-3-2m3 2l10 0-4 2m4-2l-4-2m3 6l10 0-4 2m4-2l-3-3m0-44l0 10-3-4m3 4l2-4m-2 3l0 10-2-3m2 3l2-4m-2 3l-1 10-2-3m2 3l3-3m-2 3l-1 9-2-3m2 3l3-3m1 3l0 9-2-3m2 3l2-3m171 0l-9 1 3-3m-3 3l3 2m-3-3l-9 1 3-3m-3 3l3 2m-3-3l-10 1 4-3m-4 3l4 2m-3-3l-10 0 4-2m-4 2l3 2m-2 2l-10 0 3-3m-3 3l3 2m-133 171l0-10 2 4m-2-4l-3 4m3-3l0-10 2 3m-2-3l-3 4m3-3l0-10 2 3m-2-3l-2 3m2-3l0-9 2 3m-2-3l-2 3m5-3l0-9 2 3m-2-3l-3 3m-50-112l10 0-3 2m3-2l-3-2m3 2l9 0-3 2m3-2l-3-2m3 2l9 0-3 2m3-2l-3-2m3 2l10 0-4 2m4-2l-4-2m3 2l10 0-3 2m3-2l-4-3m3 6l10 0-3 3m3-3l-3-2m3 2l9 0-3 2m3-2l-3-2m9-72l1 10-3-4m3 4l2-4m-3 3l1 10-3-3m3 3l2-4m-3 3l1 10-3-3m3 3l2-3m-3 3l0 9-2-3m2 3l3-3m-3 3l0 9-2-3m2 3l3-3m1 3l0 10-3-4m3 4l2-4m-2 3l-1 10-2-4m2 4l3-3m155 9l-9 0 3-2m-3 2l3 2m-3-2l-9 0 3-2m-3 2l3 2m-3-2l-10 0 4-2m-4 2l4 2m-3-2l-10 0 4-2m-4 2l3 2m-2-2l-10 0 3-2m-3 2l3 2m-3 1l-9 1 3-3m-3 3l3 2m-3-3l-9 0 3-2m-3 2l3 2m-100 156l0-10 3 4m-3-4l-2 4m2-3l0-10 2 3m-2-3l-2 4m2-3l1-10 2 3m-2-3l-3 3m2-3l1-9 2 3m-2-3l-3 3m2-3l0-9 3 3m-3-3l-2 3m6-3l0-10 2 4m-2-4l-3 4m3-3l0-10 2 3m-2-3l-3 4m-72-80l10 0-3 3m3-3l-3-2m-7 8l10 0-3 2m3-2l-3-2m3-4l9 0-3 3m3-3l-3-2m-6 8l9 0-3 2m3-2l-3-2m3-4l9 1-3 2m3-2l-3-2m-6 7l9 0-3 3m3-3l-3-2m3-1l10 1-4 2m4-2l-4-3m3 2l10 0-4 3m4-3l-3-2m48-92l0 10-2-4m2 4l2-4m3-6l0 10-2-4m2 4l3-4m-8 3l0 10-3-4m3 4l2-3m3-7l1 10-3-3m3 3l2-4m-8 3l0 10-2-3m2 3l2-3m3-7l0 10-2-3m2 3l3-3m-5 3l0 9-3-3m3 3l2-3m-2 3l0 9-2-3m2 3l2-3m135 48l-9 1 3-3m-3 3l3 2m6 3l-9 0 3-2m-3 2l3 3m-3-9l-9 0 3-2m-3 2l3 3m6 3l-9 1 3-3m-3 3l3 2m-3-9l-10 0 4-2m-4 2l4 3m6 3l-10 0 4-2m-4 2l4 2m-3-5l-10 0 4-2m-4 2l3 3m-2-3l-10 0 3-2m-3 2l3 2m-97 136l0-10 2 4m-2-4l-2 4m7 6l1-10 2 4m-2-4l-3 4m-3-3l0-10 2 4m-2-4l-2 3m7 7l1-10 2 4m-2-4l-3 3m-3-2l0-10 2 3m-2-3l-2 3m7 7l0-10 2 3m-2-3l-2 3m0-3l0-9 2 3m-2-3l-3 3m3-3l-1-9 3 3m-3-3l-2 3m-92-76l10 0-3 2m3-2l-3-2m-7 8l10 0-3 2m3-2l-3-2m3-4l9 0-3 2m3-2l-3-2m-6 8l9 0-3 2m3-2l-3-3m3-3l9 0-3 3m3-3l-3-2m-6 8l9 0-3 2m3-2l-3-2m3-1l10 0-4 2m4-2l-4-2m3 2l10 0-3 2m3-2l-4-3m71-113l0 10-3-4m3 4l2-4m3-6l1 10-3-4m3 4l2-4m-8 3l-1 10-2-4m2 4l3-3m3-7l0 10-2-3m2 3l3-4m-8 3l0 10-3-3m3 3l2-3m3-7l0 10-2-3m2 3l2-3m-5 3l0 9-2-3m2 3l3-3m-3 3l1 9-3-3m3 3l2-3m113 70l-9 0 3-2m-3 2l3 2m6 4l-9 0 3-2m-3 2l3 2m-3-8l-9 0 3-2m-3 2l3 2m6 4l-9 0 3-2m-3 2l3 2m-3-8l-10 1 4-3m-4 3l4 2m6 3l-10 0 4-2m-4 2l4 2m-3-5l-10 0 4-2m-4 2l3 2m-2-2l-10 0 3-2m-3 2l3 2m-75 114l0-10 2 4m-2-4l-2 4m7 6l1-10 2 4m-2-4l-3 4m-3-3l0-10 2 4m-2-4l-2 3m7 7l0-10 3 4m-3-4l-2 3m-3-2l0-10 2 3m-2-3l-3 3m8 7l0-10 2 3m-2-3l-2 3m-1-3l0-9 3 3m-3-3l-2 3m2-3l1-9 2 3m-2-3l-3 3m-114-54l10 0-3 2m3-2l-3-2m-7 8l10 0-3 2m3-2l-3-3m3-3l9 0-3 2m3-2l-3-2m-6 8l9 0-3 2m3-2l-3-3m3-3l9 0-3 2m3-2l-3-2m-6 8l9 0-3 2m3-2l-3-3m3 0l10-1-4 3m4-3l-4-2m3 3l10 0-4 2m4-2l-3-2m91-136l0 10-2-4m2 4l3-4m3-6l0 10-2-4m2 4l2-4m-8 3l0 10-2-4m2 4l3-3m3-7l0 10-2-3m2 3l2-4m-8 3l1 10-3-3m3 3l2-3m3-7l0 10-3-3m3 3l2-3m-5 3l0 9-2-3m2 3l2-3m-2 3l1 9-3-3m3 3l2-3m91 92l-9 0 3-2m-3 2l3 2m6 4l-9 0 3-2m-3 2l3 2m-3-8l-9 0 3-3m-3 3l3 2m6 4l-9-1 3-2m-3 2l3 3m-3-8l-10 0 4-2m-4 2l4 2m6 4l-10-1 4-2m-4 2l4 3m-3-5l-10 0 3-2m-3 2l4 2m-3-2l-10-1 3-2m-3 2l3 3m-54 92l0-10 2 4m-2-4l-2 4m8 6l0-10 2 4m-2-4l-2 4m-4-3l1-10 2 4m-2-4l-3 3m8 7l0-10 2 4m-2-4l-2 3m-4-2l1-10 2 3m-2-3l-3 3m8 7l0-10 2 3m-2-3l-2 3m-1-3l0-9 2 3m-2-3l-2 3m2-3l0-9 2 3m-2-3l-2 3m-136-31l10-1-3 3m3-3l-3-2m3 3l9 0-3 2m3-2l-3-2m3 2l9-1-3 3m3-3l-3-2m3 3l10 0-4 2m4-2l-4-3m3 3l10 0-4 2m4-2l-3-2m2 5l10 0-3 2m3-2l-3-3m3 3l9 0-3 2m3-2l-3-3m96-158l0 10-2-4m2 4l2-4m-2 3l0 10-2-4m2 4l2-3m-2 2l1 10-3-3m3 3l2-3m-3 3l0 9-2-3m2 3l2-3m-2 3l0 9-2-3m2 3l2-3m1 3l1 10-3-4m3 4l2-4m-3 3l1 10-3-3m3 3l2-4m68 97l-9 0 3-2m-3 2l3 2m-3-2l-9-1 3-2m-3 2l3 3m-3-2l-10 0 4-2m-4 2l4 2m-3-2l-10 0 3-2m-3 2l4 2m-3-2l-10 0 3-3m-3 3l3 2m-3 1l-9 0 3-2m-3 2l3 2m-3-2l-9 0 3-2m-3 2l3 2m-13 69l0-10 2 4m-2-4l-2 4m2-3l0-10 2 3m-2-3l-2 4m2-3l0-10 3 3m-3-3l-2 3m2-3l1-9 2 3m-2-3l-3 3m2-3l0-9 2 3m-2-3l-2 3m5-3l0-10 2 4m-2-4l-2 4m2-3l1-10 2 4m-2-4l-3 3m-153 9l10 0-3 3m3-3l-3-2m3 2l9 0-3 3m3-3l-3-2m3 2l9 1-3 2m3-2l-3-3m3 2l10 1-4 2m4-2l-4-3m3 6l10 0-4 2m4-2l-3-2m130-175l0 10-3-4m3 4l2-4m-2 3l0 10-3-4m3 4l2-3m-2 2l0 10-2-3m2 3l2-3m-2 3l-1 9-2-3m2 3l3-3m1 3l0 9-2-3m2 3l2-3m41 130l-9 0 3-2m-3 2l3 2m-3-2l-9 1 3-3m-3 3l3 2m-3-3l-10 1 4-3m-4 3l4 2m-3-3l-10 0 4-2m-4 2l3 3m-2 1l-10-1 3-2m-3 2l3 3m-3 41l-1-10 3 4m-3-4l-2 4m3-3l0-10 2 4m-2-4l-2 3m2-2l0-10 2 3m-2-3l-3 3m3-3l0-9 2 3m-2-3l-2 3m5-3l1-9 2 3m-2-3l-3 3" stroke="#6f86e0" stroke-opacity="0.62" stroke-width="1.4"/>
<path d="M423 172l6 2-2 1m2-1l-1-2m-5 21l6 2-2 0m2 0l-1-2m-5 21l6 1-2 1m2-1l-2-1m-4 22l6-1-2 1m2-1l-2-1m-4 23l6-2-1 2m1-2l-2 0m-4 23l6-2-1 2m1-2l-2-1m17-125l5 4-2 0m2 0l0-2m-5 19l6 4-3 0m3 0l-2-2m-4 20l6 2-2 0m2 0l-2-2m-5 21l7 1-2 1m2-1l-2-1m-5 22l7-1-2 1m2-1l-2-1m-4 23l6-2-2 2m2-2l-2 0m-4 24l6-4-2 2m2-2l-3 0m-3 25l5-4 0 2m0-2l-2 0m19-167l4 5-3-1m3 1l-1-2m-4 18l5 5-2-1m2 1l-1-3m-4 19l5 4-2 0m2 0l-1-2m-5 19l7 3-3 0m3 0l-2-2m-5 21l7 1-2 1m2-1l-2-1m-5 22l7-1-2 1m2-1l-2-1m-5 24l7-3-2 2m2-2l-3 0m-3 24l5-4-1 2m1-2l-2 0m-3 25l5-5-1 3m1-3l-2 1m-2 25l4-5-1 2m1-2l-3 1m20-209l3 6-2-2m2 2l0-3m-3 17l3 6-2-1m2 1l0-2m-4 17l4 6-2-1m2 1l0-2m-4 148l4-6 0 2m0-2l-2 1m-1 26l3-6 0 2m0-2l-2 1m-1 25l3-6 0 3m0-3l-2 2m20-231l2 7-2-2m2 2l1-2m-3 16l2 7-1-2m1 2l1-3m-3 17l3 6-2-1m2 1l0-2m-3 148l3-6 0 2m0-2l-2 1m-1 26l2-7 1 3m-1-3l-1 2m-1 26l2-7 1 2m-1-2l-2 2m22-231l0 7-1-2m1 2l1-2m-1 16l0 7-1-2m1 2l1-2m-1 16l0 7-1-2m1 2l1-3m-1 148l0-7 1 3m-1-3l-1 2m1 26l0-7 1 2m-1-2l-1 2m1 26l0-7 1 2m-1-2l-1 2m22-231l-1 7 0-2m0 2l2-2m-1 16l-1 7 0-2m0 2l2-2m-1 16l-1 7-1-3m1 3l2-2m-1 147l-1-7 2 2m-2-2l-1 3m2 25l-1-7 2 2m-2-2l0 2m1 26l-1-7 2 2m-2-2l0 2m22-231l-1 7-1-2m1 2l1-2m1 16l-2 7-1-3m1 3l1-2m1 16l-3 6 0-2m0 2l2-1m1 147l-3-6 2 1m-2-1l0 2m3 25l-2-7 1 2m-1-2l-1 3m2 25l-1-7 1 2m-1-2l-1 2m24-230l-3 6 0-3m0 3l2-2m1 16l-3 6 0-2m0 2l2-1m1 16l-4 6 1-2m-1 2l3-1m1 147l-4-6 3 1m-3-1l1 2m3 25l-3-6 2 1m-2-1l0 2m3 24l-3-6 2 2m-2-2l0 3m24-210l-4 5 0-2m0 2l2-1m3 17l-5 5 0-3m0 3l2-1m3 17l-6 4 1-2m-1 2l3 0m3 17l-6 3 2-2m-2 2l2 0m5 19l-7 1 2-1m-2 1l2 1m5 20l-7-1 2-1m-2 1l2 1m4 22l-6-3 2 0m-2 0l2 2m4 22l-6-4 3 0m-3 0l1 2m5 23l-5-5 2 1m-2-1l0 3m4 23l-4-5 2 1m-2-1l0 2m26-168l-6 4 1-2m-1 2l3 0m3 17l-6 4 1-2m-1 2l2 0m4 18l-6 2 1-2m-1 2l2 0m4 19l-6 1 2-1m-2 1l2 1m4 20l-6-1 2-1m-2 1l2 1m4 21l-6-2 2 0m-2 0l1 2m5 22l-6-4 2 0m-2 0l1 2m5 23l-6-4 3 0m-3 0l1 2m26-126l-6 2 1-2m-1 2l2 1m4 18l-6 2 1-2m-1 2l2 0m4 19l-7 1 2-1m-2 1l3 1m4 20l-7-1 3-1m-3 1l2 1m5 21l-6-2 2 0m-2 0l1 2m5 21l-6-2 2-1m-2 1l1 2" stroke="#6f86e0" stroke-opacity="0.7" stroke-width="1.3"/>
<path d="M482 186l12 1-2 1m2-1l-2-2m-10 3l12 0m-12 2l12 0-2 2m2-2l-2-1m1-3l10 0-2 2m2-2l-2-2m-8 4l10 1m-10 2l10 0-2 1m2-1l-2-2m1-22l-1 12-1-3m1 3l2-3m0-9l0 12m3-12l0 12-2-3m2 3l1-3m-6 2l0 10-1-3m1 3l2-3m1-7l0 10m1-10l1 10-2-2m2 2l1-3m91 1l-11 1 2-2m-2 2l2 1m9 1l-11-1m11 2l-11 0 2-2m-2 2l2 1m-1-4l-10 0 2-2m-2 2l2 1m8 0l-10 0m10 2l-10 0 2-1m-2 1l2 2m-78 91l-1-12 2 3m-2-3l-1 3m3 9l0-12m3 12l0-12 1 3m-1-3l-2 3m-3-2l0-10 2 2m-2-2l-1 3m3 7l0-10m3 10l0-10 1 2m-1-2l-2 3m-22-6l12 0-2 2m2-2l-2-1m-10 4l12 0m-12 2l12 0-2 2m2-2l-2-2m1-2l10-1-2 2m2-2l-2-1m-8 4l10 0m-10 2l10 0-2 1m2-1l-2-2m74-95l0 12-2-3m2 3l2-3m0-9l0 12m3-12l0 12-2-3m2 3l1-3m-6 2l0 10-1-2m1 2l2-3m0-7l0 10m2-10l1 10-2-2m2 2l1-3m17 75l-11 1 2-2m-2 2l2 1m9 0l-11-1m11 3l-11-1 2-1m-2 1l2 2m-1-6l-10 1 2-2m-2 2l2 1m8 1l-10 0m10 2l-10-1 2-1m-2 1l2 2m-5 18l0-12 2 3m-2-3l-2 3m4 9l0-12m2 12l0-12 2 3m-2-3l-2 3m-2-2l0-10 2 2m-2-2l-1 3m3 7l0-10m2 10l0-10 1 2m-1-2l-2 3" stroke="#62b4ec" stroke-opacity="0.6375" stroke-width="1.4"/>
<path d="M467 158l10 0-3 2m3-2l-4-2m1-4l-1 9-2-3m2 3l3-3m138 0l-10 0 3-2m-3 2l3 3m-133 137l0-9 2 3m-2-3l-3 3m-1-112l10 0-3 2m3-2l-3-2m3 2l9 0-3 2m3-2l-3-2m9-23l0 10-2-4m2 4l3-4m-3 3l0 10-2-4m2 4l2-3m113 9l-9 0 3-2m-3 2l3 2m-3-2l-9 0 3-2m-3 2l3 2m-100 113l1-10 2 4m-2-4l-3 4m2-3l0-10 3 3m-3-3l-2 4m-41-80l10 0-4 3m4-3l-4-2m-6 8l10 0-4 2m4-2l-4-2m3-4l10 0-3 3m3-3l-4-2m-6 8l10 0-3 2m3-2l-4-2m49-67l0 9-2-3m2 3l2-3m3-6l0 9-2-3m2 3l3-3m-8 3l0 9-2-3m2 3l2-3m3-6l0 9-2-3m2 3l3-3m105 48l-10 1 3-3m-3 3l4 2m6 3l-10 0 4-2m-4 2l3 2m-2-8l-10 0 3-2m-3 2l3 3m7 3l-10 0 3-2m-3 2l3 2m-97 105l0-9 2 3m-2-3l-2 3m7 6l1-9 2 3m-2-3l-3 3m-3-3l0-9 2 3m-2-3l-2 3m7 6l0-9 2 3m-2-3l-2 3m-67-76l10 0-4 2m4-2l-4-2m-6 8l10 0-4 2m4-2l-4-3m3-3l10 0-4 3m4-3l-3-2m-7 8l10 0-4 2m4-2l-4-2m71-89l0 9-2-3m2 3l2-3m3-6l0 9-2-3m2 3l2-3m-7 3l0 9-3-3m3 3l2-3m3-6l0 9-2-3m2 3l3-3m83 70l-10 0 4-2m-4 2l3 2m7 4l-10 0 4-3m-4 3l3 2m-2-8l-10 0 3-2m-3 2l3 2m7 4l-10 0 3-2m-3 2l3 2m-75 83l0-9 2 3m-2-3l-3 3m8 6l0-9 2 3m-2-3l-2 3m-3-3l-1-9 3 3m-3-3l-2 3m8 6l0-9 2 3m-2-3l-2 3m-89-54l10 0-4 2m4-2l-4-2m-6 8l10-1-4 3m4-3l-4-2m3-3l10 0-4 2m4-2l-3-2m-7 8l10-1-3 3m3-3l-4-2m92-110l0 9-2-3m2 3l2-3m4-6l0 9-2-3m2 3l2-3m-8 3l0 9-2-3m2 3l2-3m4-6l0 9-2-3m2 3l2-3m62 92l-10 0 3-2m-3 2l4 2m6 4l-10-1 4-2m-4 2l3 3m-2-8l-10-1 3-2m-3 2l3 3m7 4l-10 0 3-3m-3 3l3 2m-54 61l1-9 2 3m-2-3l-3 3m8 6l0-9 2 3m-2-3l-2 3m-4-3l0-9 3 3m-3-3l-2 3m8 6l0-9 2 3m-2-3l-2 3m-93-31l10 0-3 2m3-2l-3-3m3 3l9 0-3 2m3-2l-3-2m96-110l0 10-2-4m2 4l2-4m-2 3l1 10-3-3m3 3l2-4m25 97l-9 0 3-2m-3 2l3 2m-3-2l-9 0 3-2m-3 2l3 2m-13 26l0-10 2 4m-2-4l-2 4m2-3l0-10 2 3m-2-3l-2 4m-113 8l10 0-3 3m3-3l-4-2m131-134l0 9-3-3m3 3l2-3m8 130l-10 1 3-2m-3 2l3 2m-3 7l0-9 2 3m-2-3l-2 3" stroke="#62b4ec" stroke-opacity="0.62" stroke-width="1.4"/>
<path d="M495 196l10-3-1 1m1-1l-2 0m7-14l-2 11-1-2m1 2l1-1m-17 2l11-2-1 1m1-1l-2-1m3-8l-3 11 0-2m0 2l1-2m-14 1l11-3-2 1m2-1l-2 0m4-12l-1 10-1-1m1 1l1-1m-17 1l11 0-2 1m2-1l-2-1m8-16l-1 11-1-2m1 2l1-1m-17 3l10-2-1 1m1-1l-2-1m4-11l-1 11-1-2m1 2l1-1m-17 4l10-3-1 1m1-1l-2-1m7-11l-3 10-1-2m1 2l1-1m-12-2l8-1-1 1m1-1l-1-1m3-7l-1 8-1-2m1 2l1-1m-10-2l7-2-1 2m1-2l-2 0m1-3l-3 7 0-2m0 2l2-1m-12-3l8 0-2 1m2-1l-2-1m7-10l-1 8-1-2m1 2l1-2m24 110l-1-11 1 2m-1-2l-1 2m-11-7l10 3-2 1m2-1l-1-1m-3 13l-1-11 1 1m-1-1l-1 2m-7 0l11 1-2 1m2-1l-2-1m-2 14l-1-11 1 1m-1-1l-1 1m-7-1l11 2-2 1m2-1l-2-1m-1 12l-3-11 1 2m-1-2l-1 2m-7 1l11 0-2 1m2-1l-2-1m-2 13l-2-11 1 2m-1-2l0 2m-12-4l11 1-2 1m2-1l-2-1m2 18l0-11 1 1m-1-1l-1 1m-10-2l11 1-2 0m2 0l-2-1m2 13l-2-8 1 2m-1-2l0 2m-8-4l8 2-2 1m2-1l-2-1m-3 7l-3-7 2 1m-2-1l0 2m-5 0l8 0-2 1m2-1l-2-1m2 14l-1-7 1 1m-1-1l-1 1m-13-8l8 1-2 0m2 0l-2-2m98-96l2 11-1-1m1 1l1-2m9 3l-11-2 2 0m-2 0l2 2m0-16l1 11-1-2m1 2l1-2m10 6l-10-3 2-1m-2 1l1 1m-3-17l3 10-2-1m2 1l0-2m13 7l-11-2 2-1m-2 1l1 1m-1-17l1 11-1-2m1 2l1-2m6-1l-11-1 2-1m-2 1l2 1m3-13l1 11-1-1m1 1l1-1m7 2l-10-3 2 0m-2 0l1 2m4-11l3 11-2-2m2 2l0-2m9 1l-11-1 2-1m-2 1l2 1m-4-15l2 8-2-2m2 2l0-2m12 8l-8-2 2 0m-2 0l2 1m-4-16l1 8-1-1m1 1l1-2m11 6l-8-1 1-1m-1 1l1 1m-1-14l1 8-2-2m2 2l0-2m7 2l-8-1 2 0m-2 0l2 1m-15 94l-11 1 1-1m-1 1l2 1m-6 11l3-11 0 2m0-2l-2 2m15 1l-11 1 2-1m-2 1l2 1m0 4l3-10 0 2m0-2l-1 1m13 2l-11 2 1-1m-1 1l2 1m-3 8l3-11 0 2m0-2l-2 2m15 1l-11 2 1-2m-1 2l2 0m-4 10l2-11 1 2m-1-2l-1 2m13 1l-11 2 2-1m-2 1l2 1m-1 8l1-11 1 2m-1-2l-1 2m14 1l-11 2 1-1m-1 1l2 1m-1 7l2-11 1 2m-1-2l-1 1m9 5l-8 0 1-1m-1 1l1 1m-5 9l2-8 0 2m0-2l-1 1m12 0l-8 2 2-1m-2 1l2 1m-1 4l2-8 1 2m-1-2l-1 1m10 4l-8 1 2-2m-2 2l2 0m0 5l0-8 1 2m-1-2l-1 2" stroke="#62b4ec" stroke-opacity="0.4" stroke-width="1.4"/>
<path d="M557 234l-10-5 3 0m-3 0l2 2m10-1l-10-5 3 0m-3 0l2 3m16 10l-10-5 3 0m-3 0l2 2m9-1l-10-3 3-1m-3 1l2 2m16 9l-10-5 3 0m-3 0l2 3m10-2l-10-4 3 0m-3 0l2 2m16 10l-10-3 2-1m-2 1l1 2m11-3l-10-5 3 0m-3 0l1 3m17 10l-10-5 2 0m-2 0l1 3m10-2l-10-4 3 0m-3 0l2 2m16 10l-10-5 3 0m-3 0l2 3m10-2l-10-4 2 0m-2 0l1 2m-52-5l-5-9 2 1m-2-1l0 2m9 6l-5-10 2 1m-2-1l0 2m5 19l-4-10 2 1m-2-1l0 2m7 6l-3-10 2 2m-2-2l-1 3m5 19l-4-11 2 2m-2-2l-1 3m8 6l-3-10 2 2m-2-2l-1 3m5 18l-3-10 2 2m-2-2l-1 2m7 7l-4-11 3 2m-3-2l0 3m5 19l-5-10 3 1m-3-1l0 2m8 6l-5-10 3 2m-3-2l0 3m6 18l-4-10 2 2m-2-2l-1 3m8 6l-5-10 3 2m-3-2l0 3m-33-41l4-11 1 3m-1-3l-2 2m2 10l4-10 1 3m-1-3l-2 2m-10 16l5-10 0 3m0-3l-2 2m1 10l3-11 1 3m-1-3l-2 2m-9 17l5-10 0 3m0-3l-2 2m1 10l3-11 1 3m-1-3l-2 2m-9 17l5-10 0 2m0-2l-3 1m2 10l5-10 0 3m0-3l-2 2m-11 16l4-10 1 3m-1-3l-2 2m2 10l4-11 0 3m0-3l-2 2m-10 17l4-11 0 3m0-3l-2 2m2 10l5-10 0 3m0-3l-2 2m4-53l10-4-2 2m2-2l-3-1m-5 9l10-4-2 3m2-3l-3 0m-19 4l11-4-2 3m2-3l-3 0m-6 8l10-5-2 3m2-3l-3 0m-18 5l10-3-2 2m2-2l-2-1m-7 8l11-4-2 3m2-3l-3 0m-19 4l10-4-1 2m1-2l-3 0m-5 8l10-5-2 3m2-3l-3 0m-18 5l10-3-2 2m2-2l-3-1m-6 8l10-4-1 2m1-2l-2 0m-19 4l10-4-2 2m2-2l-2 0m-6 8l10-4-2 2m2-2l-3-1m41-33l10 3-3 1m3-1l-2-2m-10 3l10 5-3 0m3 0l-2-3m-16-10l10 4-2 0m2 0l-2-2m-10 2l11 4-3 0m3 0l-2-2m-17-10l11 4-3 0m3 0l-2-2m-10 2l10 3-3 1m3-1l-2-2m-16-9l10 5-3 0m3 0l-2-2m-10 1l11 3-3 1m3-1l-2-2m-17-9l10 4-3 1m3-1l-1-2m-10 2l9 5-2 0m2 0l-1-3m-16-10l10 3-3 1m3-1l-2-2m-10 3l10 4-3 0m3 0l-2-2m53 5l4 10-3-2m3 2l0-3m-8-6l5 10-2-2m2 2l0-3m-5-18l4 10-2-1m2 1l0-2m-8-6l4 10-2-2m2 2l1-3m-5-19l4 11-2-2m2 2l1-3m-9-6l4 10-2-1m2 1l0-2m-4-19l5 10-2-2m2 2l0-3m-9-6l5 10-2-1m2 1l0-2m-5-19l5 10-2-2m2 2l0-3m-9-5l5 10-2-2m2 2l0-3m-5-18l4 10-2-2m2 2l0-3m-8-6l6 10-3-2m3 2l0-3m33 41l-5 10 0-2m0 2l3-1m-2-10l-4 10 0-3m0 3l2-2m9-16l-5 9 0-2m0 2l3-1m-1-10l-5 10 0-3m0 3l2-2m10-16l-5 10 0-3m0 3l3-2m-1-10l-5 11 0-3m0 3l3-2m9-17l-4 10 0-2m0 2l2-1m-1-10l-4 10 0-3m0 3l2-2m9-16l-4 10 0-3m0 3l2-2m-1-10l-5 10 0-2m0 2l3-1m9-17l-4 10 0-3m0 3l2-2m-1-9l-4 10 0-3m0 3l2-2m-5 53l-10 5 2-3m-2 3l3 0m5-9l-10 4 2-2m-2 2l3 0m18-4l-10 4 2-3m-2 3l3 0m6-8l-10 5 2-3m-2 3l3 0m18-5l-10 5 2-3m-2 3l3 0m5-9l-10 4 2-2m-2 2l3 0m19-4l-11 3 2-2m-2 2l3 1m6-8l-10 5 2-2m-2 2l3 0m18-5l-10 3 2-2m-2 2l2 1m7-8l-10 5 1-2m-1 2l3 0m18-5l-10 4 1-2m-1 2l3 0m5-8l-10 4 2-2m-2 2l3 0" stroke="#62b4ec" stroke-opacity="0.7" stroke-width="1.4"/>
<path d="M482 184l12 0m-12 8l12 0m-1-8l10 0m-10 8l10 1m-4-26l0 12m8-12l0 12m-8-1l0 10m9-10l0 10m90-4l-11 0m11 8l-11 1m1-9l-10 0m10 8l-10 0m-79 91l0-12m8 12l1-12m-9 1l1-10m8 10l0-10m-26-4l12 0m-12 8l12 0m-1-9l10 1m-10 7l10 0m70-98l0 12m8-12l1 12m-9-1l0 10m8-10l0 10m17 70l-11 0m11 8l-11 0m1-8l-10 0m10 8l-10 0m-5 17l0-12m8 12l1-12m-9 1l1-10m7 10l1-10" stroke="#7ee2ec" stroke-opacity="0.6375" stroke-width="1.4"/>
<path d="M482 195l12 1m-12 3l12 0m-1-4l12 0m-12 5l12-1m-1-4l8 0m-8 5l8 0m-2-33l1 12m4-12l0 12m-4-1l0 11m4-11l0 11m-5 0l0 8m5-8l0 8m83-2l-11 0m11 4l-11 1m1-5l-12 0m12 5l-12-1m1-4l-9 1m9 3l-9 0m-57 84l-1-12m5 12l0-12m-5 1l1-11m4 11l0-11m-4 0l0-8m4 8l0-8m-33-39l12 0m-12 4l12 0m-1-5l12 0m-12 5l12-1m-1-4l12 0m-12 4l12 0m-1-4l11 1m-11 4l11 0m0-4l5 0m-5 4l5 0m-2-51l-1 12m5-12l0 12m-4-1l1 11m3-11l0 11m-4 0l0 11m4-11l0 11m-4-1l0 12m4-12l0 12m-4-1l0 5m4-5l0 5m65-1l-11 0m11 4l-11 0m1-4l-12 0m12 4l-12 0m1-4l-12 0m12 3l-12 1m1-4l-12 0m12 4l-12 0m1-4l-5 0m5 4l-5-1m-21 66l0-12m5 12l-1-12m-4 1l0-11m4 11l1-11m-5 0l0-11m4 11l0-11m-4 1l1-12m3 12l1-12m-5 1l0-5m4 5l0-5m-51-3l12 0m-12 4l12 1m-1-4l12 0m-12 3l12 0m-1-4l12 0m-12 5l12-1m-1-4l11 1m-11 4l11 0m0-5l5 0m-5 4l5 1m16-70l0 12m5-12l0 12m-4-1l0 11m3-11l0 11m-3 0l0 11m4-11l0 11m-4-1l0 12m3-12l1 12m-4-1l0 5m4-5l0 5m46 18l-11 0m11 3l-11 0m1-3l-12-1m12 4l-12 0m1-4l-12 0m12 4l-12 0m1-4l-12 0m12 4l-12 0m1-3l-5-1m5 4l-5 0m-2 47l-1-12m5 12l0-12m-4 1l0-11m4 11l0-11m-5 0l1-11m4 11l0-11m-5 1l1-12m4 12l-1-12m-4 1l1-5m3 5l0-5m-69 16l12 0m-12 3l12 0m-1-4l12 0m-12 5l12 0m-1-4l8 0m-8 4l8 0m54-88l-1 12m5-12l0 12m-4-1l0 11m4-11l0 11m-4 0l0 8m4-8l0 8m28 53l-11 0m11 5l-11 0m1-4l-12 0m12 4l-12-1m1-4l-9 1m9 3l-9 1m-2 28l-1-12m5 12l0-12m-4 1l0-11m4 11l0-11m-4 0l-1-8m5 8l0-8" stroke="#7ee2ec" stroke-opacity="0.255" stroke-width="1.4"/>
<path d="M482 203l12 0m-12 8l12 0m-1-8l12 0m-12 8l12 0m-1-8l12 0m-12 8l12-1m-1-7l7 0m-7 8l7 0m-4-44l0 12m8-12l0 12m-8-1l0 11m8-11l0 11m-8 0l0 11m8-11l1 11m-9-1l0 7m8-7l0 7m72-4l-11 0m11 9l-11 0m1-8l-12 0m12 8l-12 0m1-9l-12 0m12 9l-12 0m1-9l-7 0m7 9l-7 0m-41 72l0-12m8 12l0-12m-8 1l0-11m8 11l0-11m-8 0l0-11m8 11l0-11m-8 1l-1-7m9 7l0-7m-44-23l12-1m-12 9l12 0m-1-8l12 0m-12 8l12 0m-1-8l12 0m-12 8l12 0m-1-8l11 0m-11 8l11 1m0-9l10 0m-10 8l10 0m1-62l0 12m8-12l-1 12m-7-1l0 11m8-11l0 11m-9 0l1 11m7-11l0 11m-8-1l0 12m8-12l1 12m-9-1l0 11m8-11l0 11m54 0l-11-1m11 9l-11 1m1-9l-12 0m12 8l-12-1m1-7l-12 0m12 8l-12 1m1-9l-12-1m12 9l-12 0m1-8l-10-1m10 9l-10 0m-8 54l0-12m7 12l0-12m-8 1l0-11m8 11l0-11m-8 0l0-11m8 11l0-11m-7 1l0-12m7 12l1-12m-9 1l0-11m9 11l0-11m-63 10l12 0m-12 9l12-1m-1-8l12 0m-12 8l12 0m-1-8l12 0m-12 8l12 0m-1-8l7 0m-7 9l7-1m33-80l0 12m8-12l0 12m-8-1l0 11m8-11l0 11m-8 0l-1 11m9-11l0 11m-8-1l0 7m8-7l0 7m35 33l-11 0m11 8l-11 0m1-7l-12 0m12 7l-12 1m1-8l-12-1m12 9l-12 0m1-8l-7 0m7 8l-7 0m-4 35l0-12m8 12l0-12m-8 1l0-11m8 11l-1-11m-7 0l0-11m8 11l0-11m-9 1l0-7m9 7l-1-7" stroke="#7ee2ec" stroke-opacity="0.765" stroke-width="1.4"/>
<path d="M470 203l10 0-3 2m3-2l-3-2m3 2l9 1-3 2m3-2l-3-3m33-46l0 10-3-4m3 4l2-4m-2 3l0 10-2-3m2 3l2-4m89 33l-9 0 3-2m-3 2l3 3m-3-3l-9 1 3-3m-3 3l3 2m-76 89l-1-10 3 4m-3-4l-2 4m3-3l0-10 2 3m-2-3l-3 4m-46-55l10 0-3 2m3-2l-3-2m3 2l9 0-3 2m3-2l-3-2m54-68l1 10-3-4m3 4l2-4m-3 3l1 10-3-3m3 3l2-4m67 55l-9 0 3-2m-3 2l3 2m-3-2l-9 0 3-2m-3 2l3 2m-55 68l1-10 2 4m-2-4l-3 4m2-3l0-10 3 3m-3-3l-2 4m-68-33l10-1-3 3m3-3l-3-2m3 3l9 0-3 2m3-2l-3-2m76-90l0 10-2-4m2 4l2-4m-2 3l1 10-3-3m3 3l2-4m45 77l-9 0 3-3m-3 3l3 2m-3-2l-9-1 3-2m-3 2l3 3m-33 46l1-10 2 4m-2-4l-3 4m2-3l0-10 2 4m-2-4l-2 4" stroke="#7ee2ec" stroke-opacity="0.62" stroke-width="1.4"/>
<path d="M482 197l12 1m-1 0l12 0m-1 0l8-1m0-30l0 12m1-1l0 11m0 0l0 8m85 1l-11-1m1 0l-12 1m1 0l-9-1m-55 86l0-12m0 1l0-11m0 0l-1-8m-30-37l12 1m-1-1l12 0m-1 0l12 1m-1-2l11 0m0 1l5 0m0-49l1 12m-1-1l0 11m0 0l0 11m0-1l0 12m0-1l0 5m67 1l-11 0m1 0l-12-1m1 1l-12 0m1 0l-12 0m1 0l-5 0m-19 67l0-12m0 1l1-11m-1 0l0-11m0 1l0-12m0 1l0-5m-49-1l12 0m-1 0l12 1m-1-1l12 0m-1 0l11-1m0 2l5 0m18-68l0 12m1-1l0 11m0 0l0 11m0-1l0 12m0-1l0 5m48 19l-11 0m1 0l-12 0m1 1l-12-1m1 0l-12 0m1 0l-5 0m0 49l0-12m0 1l0-11m0 0l-1-11m1 1l-1-12m1 1l0-5m-68 18l12 0m-1-1l12 1m-1 0l8 0m56-86l0 12m0-1l0 11m0 0l0 8m30 56l-11 0m1-1l-12 0m1 0l-9 0m0 31l0-12m0 1l-1-11m1 0l0-8" stroke="#30d6e6" stroke-opacity="0.255" stroke-width="1.4"/>
<path d="M482 205l12-1-2 2m2-2l-2-1m-10 3l12 1m-12 2l12-1-2 2m2-2l-2-1m1-2l12 0-3 1m3-1l-2-2m-10 4l12-1m-12 3l12-1-2 2m2-2l-3-1m2-3l12 0-3 1m3-1l-3-2m-9 5l12-1m-12 3l12-1-3 2m3-2l-3-1m2-2l7 0-3 2m3-2l-3-2m-4 4l7-1m-7 3l7 0-3 1m3-1l-3-2m1-40l-1 12-1-3m1 3l2-3m1-9l-1 12m3-12l1 12-2-3m2 3l1-3m-6 2l0 11-2-2m2 2l1-2m1-9l1 11m1-11l0 11-2-2m2 2l1-2m-5 2l0 11-1-2m1 2l2-2m0-9l0 11m2-11l0 11-2-2m2 2l1-2m-5 1l0 7-1-2m1 2l2-2m0-5l0 7m2-7l0 7-1-2m1 2l2-2m72 0l-11 0 2-2m-2 2l2 2m9 1l-11 0m11 2l-11 0 2-1m-2 1l2 2m-1-7l-12 0 2-1m-2 1l2 2m10 1l-12-1m12 3l-12 0 2-2m-2 2l2 1m-1-5l-12 0 2-2m-2 2l3 1m9 0l-12 0m12 3l-12 0 3-2m-3 2l2 1m-1-5l-7 0 2-2m-2 2l3 1m4 1l-7 0m7 2l-7 0 2-2m-2 2l3 1m-42 73l1-12 1 3m-1-3l-2 3m3 9l1-12m1 12l0-12 2 3m-2-3l-1 3m-3-2l0-11 1 2m-1-2l-2 2m4 9l1-11m1 11l-1-11 2 2m-2-2l-1 2m-2-2l0-11 1 2m-1-2l-2 2m4 9l0-11m2 11l1-11 1 2m-1-2l-2 2m-3-1l0-7 2 2m-2-2l-2 2m4 5l0-7m2 7l0-7 1 2m-1-2l-2 2m-40-23l12 0-2 1m2-1l-2-2m-10 4l12-1m-12 3l12 0-2 2m2-2l-2-1m1-3l12 0-3 2m3-2l-2-1m-10 3l12 1m-12 1l12 0-3 2m3-2l-2-1m1-3l12 0-3 2m3-2l-3-1m-9 3l12 0m-12 2l12 0-3 1m3-1l-3-2m2-2l11 0-2 2m2-2l-2-1m-9 3l11 0m-11 2l11 0-2 2m2-2l-2-1m2-3l10 0-2 2m2-2l-2-1m-8 3l10 1m-10 1l10 0-2 2m2-2l-2-1m4-59l0 12-2-3m2 3l1-3m1-9l0 12m2-12l0 12-2-3m2 3l1-3m-4 2l-1 11-1-2m1 2l2-2m0-9l0 11m2-11l0 11-1-2m1 2l2-2m-6 2l0 11-1-2m1 2l2-2m0-9l1 11m2-11l0 11-2-2m2 2l1-2m-6 1l0 12-1-2m1 2l2-2m1-10l0 12m2-12l0 12-2-2m2 2l2-2m-6 1l-1 11-1-3m1 3l2-3m0-8l0 11m2-11l0 11-1-3m1 3l2-3m54 5l-11 0 2-1m-2 1l2 2m9 0l-11-1m11 3l-11 0 2-2m-2 2l2 2m-1-6l-12 0 2-1m-2 1l2 2m10 0l-12 0m12 2l-12 0 2-1m-2 1l2 2m-1-6l-12 0 3-2m-3 2l2 1m10 1l-12-1m12 3l-12 0 3-2m-3 2l2 1m-1-5l-12 0 3-2m-3 2l3 1m9 1l-12 1m12 1l-12 0 3-2m-3 2l3 1m-2-5l-10 1 2-2m-2 2l2 1m8 0l-10 0m10 2l-10 0 2-1m-2 1l2 2m-9 54l0-12 2 3m-2-3l-1 3m3 9l1-12m1 12l0-12 2 3m-2-3l-1 3m-2-2l-1-11 2 2m-2-2l-1 2m3 9l0-11m2 11l0-11 2 2m-2-2l-1 2m-2-2l0-11 1 2m-1-2l-2 2m4 9l-1-11m2 11l1-11 1 2m-1-2l-2 2m-3-1l1-12 1 2m-1-2l-2 2m3 10l0-12m3 12l0-12 1 2m-1-2l-2 2m-3-1l0-11 2 3m-2-3l-1 3m3 8l0-11m2 11l1-11 1 3m-1-3l-2 3m-59 10l12 0-2 1m2-1l-2-2m-10 3l12 0m-12 3l12 0-2 1m2-1l-2-2m1-2l12 0-3 1m3-1l-2-2m-10 4l12 0m-12 2l12 0-3 1m3-1l-2-2m1-3l12 0-3 2m3-2l-3-1m-9 4l12 0m-12 1l12 1-3 1m3-1l-3-2m2-2l7-1-3 2m3-2l-3-1m-4 4l7-1m-7 3l7 0-3 1m3-1l-3-2m38-77l0 12-2-3m2 3l1-3m1-9l0 12m2-12l0 12-2-3m2 3l1-3m-5 2l-1 11-1-2m1 2l2-2m1-9l0 11m2-11l-1 11-1-2m1 2l2-2m-6 2l0 11-1-2m1 2l2-2m1-9l-1 11m3-11l-1 11-1-2m1 2l2-2m-5 1l0 7-2-2m2 2l2-2m-1-5l0 7m3-7l0 7-2-2m2 2l1-2m36 37l-11 0 2-2m-2 2l2 2m9 0l-11 1m11 1l-11 0 2-1m-2 1l2 2m-1-6l-12 0 2-2m-2 2l2 2m10 0l-12 1m12 2l-12 0 2-2m-2 2l2 2m-1-7l-12 0 3-2m-3 2l2 1m10 1l-12 0m12 3l-12-1 3-1m-3 1l2 2m-1-5l-7 0 2-2m-2 2l3 1m4 0l-7 0m7 2l-7 0 2-1m-2 1l3 2m-5 36l-1-12 2 3m-2-3l-1 3m4 9l0-12m2 12l0-12 2 3m-2-3l-1 3m-3-2l0-11 1 2m-1-2l-2 2m3 9l1-11m2 11l-1-11 2 2m-2-2l-1 2m-3-2l1-11 1 2m-1-2l-2 2m4 9l0-11m2 11l0-11 2 2m-2-2l-1 2m-3-1l0-7 1 2m-1-2l-2 2m4 5l0-7m2 7l0-7 1 2m-1-2l-2 2" stroke="#30d6e6" stroke-opacity="0.765" stroke-width="1.4"/>
<path d="M470 200l10 1-3 2m3-2l-3-3m-7 8l10 0-3 2m3-2l-3-2m3-4l9 1-3 2m3-2l-3-3m-6 8l9 0-3 2m3-2l-3-2m30-49l0 10-2-4m2 4l2-4m3-6l0 10-2-4m2 4l2-4m-7 3l0 10-2-3m2 3l2-4m3-6l0 10-2-4m2 4l3-3m86 29l-9 0 3-2m-3 2l3 3m6 3l-9 0 3-2m-3 2l3 2m-3-8l-9 0 3-2m-3 2l3 3m6 3l-9 0 3-2m-3 2l3 2m-79 87l0-10 2 4m-2-4l-2 4m7 6l0-10 3 4m-3-4l-2 4m-3-3l0-10 2 3m-2-3l-3 4m8 6l0-10 3 3m-3-3l-2 4m-49-58l10 0-3 3m3-3l-3-2m-7 8l10 0-3 2m3-2l-3-3m3-3l9 0-3 2m3-2l-3-2m-6 8l9 0-3 2m3-2l-3-3m52-70l-1 10-2-4m2 4l3-4m3-6l0 10-2-4m2 4l3-4m-8 3l0 10-2-3m2 3l2-4m3-6l0 10-2-4m2 4l2-4m65 52l-9 0 3-2m-3 2l3 3m6 3l-9 0 3-3m-3 3l3 2m-3-8l-9 0 3-2m-3 2l3 3m6 3l-9 0 3-2m-3 2l3 2m-57 65l0-10 2 4m-2-4l-3 4m8 6l0-10 2 4m-2-4l-2 4m-3-3l0-10 2 3m-2-3l-3 4m8 6l1-10 2 4m-2-4l-3 3m-71-35l10 0-3 2m3-2l-3-2m-7 8l10 0-3 2m3-2l-3-3m3-3l9 0-3 2m3-2l-3-2m-6 8l9 0-3 2m3-2l-3-3m73-92l0 10-2-4m2 4l2-4m4-6l0 10-3-4m3 4l2-4m-8 3l0 10-2-4m2 4l2-3m4-7l0 10-2-4m2 4l2-3m43 73l-9 0 3-2m-3 2l3 2m6 4l-9 0 3-3m-3 3l3 2m-3-8l-9 0 3-3m-3 3l3 2m6 4l-9 0 3-3m-3 3l3 2m-36 43l0-10 2 4m-2-4l-2 4m8 6l0-10 2 4m-2-4l-2 4m-4-3l0-10 2 3m-2-3l-2 4m8 6l0-10 2 3m-2-3l-2 4" stroke="#30d6e6" stroke-opacity="0.62" stroke-width="1.4"/>
<path d="M525 219l11-1-2 1m2-1l-2-1m2-8l-2 11 0-2m0 2l2-2m-15 2l11-4-2 2m2-2l-2 0m4-12l-1 11-1-2m1 2l1-2m-13-1l10-2-1 2m1-2l-2 0m-1-5l-2 11-1-2m1 2l1-2m-13-1l11-3-2 2m2-2l-2 0m3-11l-1 11-1-2m1 2l1-1m-15-2l11 0-2 1m2-1l-2-1m7-12l-2 11-1-2m1 2l1-2m-20 3l11 0-1 1m1-1l-1-1m4-10l-3 11 0-2m0 2l2-2m-14 0l10-3-1 2m1-2l-1 0m3-9l-3 11 0-2m0 2l1-2m-14-1l11-1-2 1m2-1l-2-1m5-10l-3 11-1-2m1 2l1-2m-16 1l11-1-2 1m2-1l-2-1m5-12l-2 11 0-2m0 2l2-2m26 49l-2-11 1 1m-1-1l-1 2m-8-4l10 3-2 1m2-1l-1-1m0 16l-1-11 1 2m-1-2l-1 2m-13-8l10 3-2 0m2 0l-1-2m1 18l-1-11 1 1m-1-1l-1 1m-11-5l10 2-1 0m1 0l-1-1m-1 13l-3-11 2 1m-2-1l0 2m-10-5l11 3-2 1m2-1l-2-1m3 20l0-11 1 1m-1-1l-1 1m-12-5l11 2-2 0m2 0l-2-1m3 16l-2-10 1 1m-1-1l-1 1m-13-8l10 3-2 1m2-1l-1-1m2 18l-1-11 1 1m-1-1l-1 2m-11-6l10 3-2 0m2 0l-1-2m0 13l-4-10 2 1m-2-1l0 2m-9-2l11 1-2 1m2-1l-2-1m1 16l-1-11 1 2m-1-2l-1 2m-11-4l11 1-2 1m2-1l-2-1m41-42l0 11-1-2m1 2l1-2m9 2l-11-2 2 0m-2 0l2 1m0-13l3 11-2-2m2 2l0-2m8 2l-11-3 2 0m-2 0l2 2m0-15l2 11-1-2m1 2l0-2m13 7l-11-3 2-1m-2 1l1 1m-3-17l3 11-1-2m1 2l1-2m10 2l-11-1 1-1m-1 1l1 1m-4-17l3 10-1-1m1 1l0-2m14 9l-11-3 2-1m-2 1l2 1m-3-17l3 11-2-2m2 2l0-2m13 6l-11-2 2 0m-2 0l2 2m0-14l2 10-1-1m1 1l1-2m9 4l-11-3 2 0m-2 0l2 2m-4-18l3 11-2-2m2 2l0-2m12 6l-11-3 2 0m-2 0l2 2m1-13l3 10-2-1m2 1l0-2m6-2l-11-1 1-1m-1 1l1 1m-10 34l-11 1 1-1m-1 1l1 1m-3 10l2-11 1 2m-1-2l-1 1m15 0l-11 2 1-1m-1 1l2 1m-4 12l0-11 1 1m-1-1l-1 1m13 2l-10 2 1-2m-1 2l1 0m-5 12l2-11 1 2m-1-2l-1 2m20-5l-11 2 1-2m-1 2l2 0m-3 10l1-11 1 2m-1-2l-1 2m12 1l-11 3 2-1m-2 1l2 1m0 9l0-11 1 1m-1-1l-1 1m13 1l-11 3 2-2m-2 2l2 0m-3 8l3-10 0 2m0-2l-1 1m12 4l-11 1 2-1m-2 1l2 0m-6 11l3-10 1 2m-1-2l-1 1m15 1l-11 1 2-1m-2 1l2 1m1 6l1-10 1 1m-1-1l-1 1m13 1l-10 2 1-1m-1 1l1 1m-3 9l2-10 0 1m0-1l-1 1" stroke="#30d6e6" stroke-opacity="0.4" stroke-width="1.4"/>
<path d="M558 232l-11-3 3-1m-3 1l2 2m19 5l-11-4 3 0m-3 0l2 2m18 6l-10-5 3 0m-3 0l2 3m18 6l-11-4 3 0m-3 0l2 2m18 6l-9-5 2 0m-2 0l1 3m18 6l-11-3 3-1m-3 1l2 2m-49-8l-5-10 2 1m-2-1l0 2m9 17l-4-10 2 2m-2-2l0 2m8 18l-5-10 2 2m-2-2l0 3m9 16l-5-9 2 1m-2-1l-1 2m10 17l-5-10 2 2m-2-2l0 3m9 17l-5-10 2 1m-2-1l0 2m-30-40l3-11 1 3m-1-3l-2 2m-5 18l4-10 0 3m0-3l-2 2m-6 18l5-10 0 3m0-3l-2 1m-7 18l5-9 0 2m0-2l-2 1m-7 18l3-11 1 3m-1-3l-2 2m-5 19l4-11 0 3m0-3l-2 2m8-50l10-4-2 2m2-2l-3 0m-17 8l10-4-1 2m1-2l-3 0m-16 8l10-3-2 2m2-2l-3-1m-17 8l10-4-2 2m2-2l-3 0m-17 8l10-5-1 2m1-2l-3 0m-16 9l10-4-2 3m2-3l-3 0m41-30l10 5-3 0m3 0l-2-2m-18-7l10 4-2 0m2 0l-1-2m-18-6l9 5-2 0m2 0l-1-3m-18-6l10 4-3 1m3-1l-2-2m-18-6l11 4-3 0m3 0l-2-2m-18-6l10 4-3 1m3-1l-2-2m50 7l4 11-2-2m2 2l0-3m-8-17l3 10-2-2m2 2l1-2m-8-18l4 11-2-2m2 2l0-3m-8-17l5 10-2-2m2 2l0-3m-9-17l5 10-2-2m2 2l0-3m-9-17l4 11-2-2m2 2l0-3m31 40l-4 11 0-3m0 3l2-2m6-18l-4 10 0-2m0 2l2-2m6-18l-4 10-1-2m1 2l2-1m6-18l-5 9 0-2m0 2l2-1m7-18l-4 10 0-2m0 2l2-1m6-19l-4 11-1-3m1 3l2-2m-8 50l-10 3 1-2m-1 2l2 1m18-8l-10 5 1-2m-1 2l3 0m16-9l-10 3 2-2m-2 2l2 1m18-8l-10 5 2-2m-2 2l3 0m16-9l-10 3 2-2m-2 2l3 1m17-8l-11 3 2-2m-2 2l3 1" stroke="#30d6e6" stroke-opacity="0.7" stroke-width="1.4"/>
<path d="M506 189l9 6-2 0m2 0l0-2m-11 2l11 0-1 1m1-1l-1-1m-5-7l4 11-2-2m2 2l0-2m-4-8l2 11-1-1m1 1l1-2m-14-6l9 6-2 0m2 0l-1-2m-9 0l11 1-2 1m2-1l-2-1m-3-9l6 10-2-1m2 1l-1-2m1-11l2 10-1-1m1 1l0-1m-13-7l10 5-2 0m2 0l-1-2m-8-2l10 3-2 0m2 0l-1-2m-8-4l6 9-2-1m2 1l0-2m2-12l1 11-1-1m1 1l1-1m-18-3l11 4-2 0m2 0l-2-1m-10 0l10 3-2 0m2 0l-1-2m1-13l6 9-2-1m2 1l-1-2m-5-3l0 11-1-2m1 2l1-2m-11-10l10 6-2 0m2 0l-1-2m-9-2l11 3-2 1m2-1l-2-1m-5-7l5 10-2-1m2 1l0-2m0-11l1 11-1-1m1 1l1-2m-16-2l10 3-2 1m2-1l-1-1m-5-6l10 3-2 1m2-1l-1-1m-3-9l4 10-1-1m1 1l0-2m-5-6l2 11-1-2m1 2l1-2m-12-7l10 4-2 0m2 0l-1-2m-14 4l11 3-2 0m2 0l-2-2m1-12l4 10-2-1m2 1l0-2m-3-6l1 10-1-1m1 1l1-1m-15-6l10 5-2 0m2 0l-1-2m-7-3l10 3-2 0m2 0l-1-2m-4-8l4 11-1-2m1 2l1-2m-1-11l3 10-2-1m2 1l0-1m17 91l5-9 0 2m0-2l-1 1m-2 8l2-11 0 2m0-2l-2 2m-11 0l11-4-2 2m2-2l-2 0m-5 7l10-3-1 1m1-1l-2-1m-7 11l3-10 0 2m0-2l-1 1m-1 8l0-11 1 2m-1-2l-1 2m-3 7l10-3-1 1m1-1l-2-1m-13-2l11-1-2 1m2-1l-2-1m-6 14l5-10 0 2m0-2l-2 1m4 13l1-11 1 1m-1-1l-1 1m-13 0l10-5-1 2m1-2l-2 0m-9 0l11 0-2 1m2-1l-2-1m-6 14l5-9 0 2m0-2l-1 1m0 10l2-11 0 2m0-2l-1 2m-6 6l10-5-1 2m1-2l-2 0m-14-4l11-1-2 1m2-1l-2-1m-2 17l3-11 0 2m0-2l-1 2m3 13l1-11 1 1m-1-1l-1 1m-13 0l10-6-1 2m1-2l-2 0m-5 7l10-3-1 1m1-1l-2-1m-7 11l3-10 1 2m-1-2l-1 1m3 13l2-11 0 2m0-2l-1 2m-13 0l10-5-1 1m1-1l-2 0m-10-1l11-1-2 1m2-1l-2-1m1 21l3-11 1 2m-1-2l-1 1m-4 7l3-10 0 2m0-2l-2 1m-10 2l10-5-1 1m1-1l-2 0m-9 1l11-1-1 1m1-1l-1-1m-2 18l3-11 1 2m-1-2l-1 2m-1 8l1-11 1 2m-1-2l-1 2m-8 4l10-5-1 1m1-1l-2 0m-11 0l11-2-1 1m1-1l-2 0m82-88l-6 9 0-2m0 2l2-1m0-9l-1 11-1-2m1 2l1-2m8-4l-9 6 1-2m-1 2l2 0m10-2l-11 3 2-1m-2 1l2 1m8-12l-5 10 0-2m0 2l2-1m-2-13l-3 11 0-2m0 2l2-2m12 1l-9 6 1-2m-1 2l2-1m8-2l-11 1 1-1m-1 1l1 1m5-15l-5 9 0-2m0 2l2-1m2-9l-3 11-1-2m1 2l1-1m5-8l-10 6 1-2m-1 2l2 0m14 4l-11 0 1-1m-1 1l1 1m4-17l-6 9 0-2m0 2l2-1m3-7l-3 10 0-1m0 1l2-1m10-2l-10 5 1-1m-1 1l2 0m6-4l-11 1 2-1m-2 1l2 1m9-12l-6 10 0-2m0 2l2-1m-3-13l-2 11-1-2m1 2l1-2m12 1l-11 3 1-1m-1 1l2 0m10-1l-11 2 1-2m-1 2l2 0m6-14l-6 10 0-2m0 2l2-1m3-7l-2 11 0-2m0 2l1-2m9-3l-10 5 1-2m-1 2l2 0m8-4l-11 3 2-2m-2 2l2 0m4-15l-4 10 0-2m0 2l1-1m0-11l-3 11 0-2m0 2l2-2m9-1l-10 3 1-1m-1 1l2 1m11 0l-11 1 1-1m-1 1l2 1m4-15l-4 10 0-2m0 2l1-1m0-9l0 11-1-2m1 2l1-2m5-6l-10 4 1-1m-1 1l2 0m13 2l-11 2 1-1m-1 1l2 1m-15 78l-10-4 2 0m-2 0l1 2m12-3l-11 0 1-1m-1 1l1 1m1 10l-4-10 2 1m-2-1l0 2m3 9l-3-11 2 2m-2-2l0 2m14 6l-10-5 2 0m-2 0l1 1m11-1l-11-2 2 0m-2 0l2 2m1 11l-6-9 2 0m-2 0l0 2m2 9l-3-11 2 2m-2-2l0 2m17 1l-10-3 2-1m-2 1l1 1m7 3l-11-1 2-1m-2 1l1 1m7 5l-4-10 2 1m-2-1l0 2m-3 13l-1-11 1 1m-1-1l-1 2m14 5l-10-4 2 0m-2 0l1 2m12-2l-11-2 2-1m-2 1l1 1m3 10l-5-10 2 1m-2-1l0 2m4 7l-3-10 2 1m-2-1l0 2m12 6l-10-4 2 0m-2 0l1 2m8 1l-11-1 2-1m-2 1l2 1m6 5l-3-11 1 2m-1-2l0 2m-3 14l-1-11 1 1m-1-1l-1 2m16 3l-9-5 2 0m-2 0l1 1m10 0l-11-1 2-1m-2 1l1 1m3 8l-4-10 2 1m-2-1l0 2m1 9l0-11 1 1m-1-1l-1 1m9 12l-10-6 2 0m-2 0l1 2m13-4l-11 0 2-1m-2 1l2 1m-1 12l-4-11 2 2m-2-2l0 2m4 6l0-11 1 2m-1-2l-1 2m15 5l-10-5 2 0m-2 0l1 2m10-1l-11-1 2-1m-2 1l1 1m4 9l-6-9 2 1m-2-1l0 2m-1 10l0-11 1 2m-1-2l-1 2" stroke="#2f74e6" stroke-opacity="0.4" stroke-width="1.4"/>
<path d="M504 188l6 6-2 0m2 0l-1-2m-12-10l7 6-3 0m3 0l-1-2m-12-10l6 6-2-1m2 1l0-2m7 82l6-7-1 3m1-3l-3 1m-10 12l7-6-1 2m1-2l-3 0m-10 12l6-6 0 2m0-2l-2 1m82-81l-6 7 1-3m-1 3l3-1m9-12l-6 6 1-2m-1 2l3 0m10-12l-7 6 1-3m-1 3l3-1m-9 81l-6-7 3 1m-3-1l1 3m11 10l-6-6 2 1m-2-1l1 3m12 9l-7-6 3 1m-3-1l1 3" stroke="#2f74e6" stroke-opacity="0.4" stroke-width="1.6"/>
<path d="M525 215l10 4-2 0m2 0l-1-2m-7-3l11 3-2 0m2 0l-2-2m-7-5l6 9-2-1m2 1l0-2m-4-6l1 11-1-2m1 2l1-2m-9-12l10 6-2 0m2 0l-1-2m-15 7l11 0-2 1m2-1l-2-1m2-14l5 10-2-1m2 1l0-2m-3-8l2 11-2-1m2 1l0-2m-13-5l10 3-2 1m2-1l-1-1m-14 4l11 2-2 1m2-1l-2-1m1-14l6 10-2-1m2 1l0-2m-4-7l2 11-2-2m2 2l0-2m-14-5l11 4-2 0m2 0l-2-2m-6-4l10 3-2 1m2-1l-1-1m-3-9l4 11-2-2m2 2l0-2m-5-6l2 10-1-1m1 1l1-2m-14-5l9 5-2 0m2 0l-1-2m-7-3l11 2-2 1m2-1l-2-1m-6-6l5 10-1-1m1 1l0-2m-1-9l1 11-1-1m1 1l1-1m-16-5l11 4-2 1m2-1l-2-1m-5-5l10 3-1 0m1 0l-1-2m-8-4l6 9-2-1m2 1l0-2m-3-9l3 11-1-1m1 1l0-2m-9-10l11 4-2 0m2 0l-2-1m-14 4l11 2-2 0m2 0l-2-1m3-14l4 10-2-2m2 2l0-2m-2-9l2 11-1-2m1 2l1-2m8 43l5-10 0 2m0-2l-1 1m0 9l0-11 1 1m-1-1l-1 1m-6 6l10-4-1 1m1-1l-2 0m-11 0l11-3-2 2m2-2l-2 0m-1 18l4-10 0 2m0-2l-2 1m2 11l0-11 1 1m-1-1l-1 1m-13-2l10-4-1 1m1-1l-2 0m-6 5l11-2-1 2m1-2l-2 0m-9 10l5-10 0 2m0-2l-2 1m2 11l0-11 1 1m-1-1l-1 1m-8 4l10-4-1 1m1-1l-2-1m-8 3l11-2-2 1m2-1l-2-1m-5 14l3-11 0 2m0-2l-2 2m3 11l0-11 1 2m-1-2l-1 2m-12-1l10-5-1 2m1-2l-2 0m-9 3l10-3-1 1m1-1l-1 0m-2 18l5-10 0 2m0-2l-1 1m0 11l2-11 1 2m-1-2l-1 2m-10 2l9-6-1 2m1-2l-2 0m-7 4l10-3-1 2m1-2l-2 0m-8 11l6-9 0 2m0-2l-2 1m-1 8l1-11 1 2m-1-2l-1 2m-11 0l10-4-1 2m1-2l-2 0m-3 6l11 0-2 1m2-1l-2-1m-11 9l5-10 0 2m0-2l-2 1m5 15l2-11 1 2m-1-2l-1 2m-9 3l10-5-1 2m1-2l-2 0m-11 1l11-3-1 2m1-2l-2 0m35-42l-6 9 0-2m0 2l2-1m3-6l-1 11-1-1m1 1l1-1m6-7l-10 5 1-2m-1 2l2 0m10 1l-11 0 1-1m-1 1l1 1m7-14l-5 10 0-2m0 2l1-1m-2-12l-1 11-1-2m1 2l1-2m14 3l-10 4 1-1m-1 1l2 0m5-6l-10 3 1-2m-1 2l2 0m3-15l-3 11 0-2m0 2l2-1m1-7l0 11-1-1m1 1l1-1m10-4l-10 6 1-2m-1 2l2 0m5-7l-11 3 2-1m-2 1l2 1m6-13l-3 10-1-2m1 2l1-1m-2-11l-1 11-1-2m1 2l1-2m12 0l-10 4 1-1m-1 1l2 1m7-4l-11 1 1-1m-1 1l2 1m8-10l-3 10-1-2m1 2l1-1m-1-12l-3 11 0-2m0 2l2-2m8-3l-10 4 1-2m-1 2l2 0m7-4l-11 3 2-2m-2 2l2 0m12-9l-6 10 0-2m0 2l1-1m-1-11l-1 11-1-1m1 1l1-1m9-4l-10 5 1-2m-1 2l2 0m6-3l-11 0 1-1m-1 1l2 1m6-14l-5 10 0-2m0 2l2-1m1-8l-1 11-1-1m1 1l1-1m6-6l-10 4 1-1m-1 1l2 0m8-3l-11 2 2-1m-2 1l2 1m-8 36l-10-4 2 0m-2 0l1 2m11-1l-11-2 2-1m-2 1l1 1m3 10l-6-9 2 1m-2-1l0 2m6 4l-2-10 1 1m-1-1l0 1m12 7l-9-5 2 0m-2 0l1 2m4 4l-11 0 2-1m-2 1l2 1m5 6l-4-10 2 1m-2-1l0 2m3 7l-1-11 1 2m-1-2l-1 2m10 10l-9-5 2 0m-2 0l1 1m10-2l-11 0 2-1m-2 1l2 1m4 8l-4-11 1 2m-1-2l-1 2m2 9l-1-11 1 2m-1-2l-1 2m11 8l-10-3 2-1m-2 1l1 1m9 1l-10-2 2-1m-2 1l1 1m9 3l-5-10 2 2m-2-2l0 2m0 10l-1-11 1 2m-1-2l-1 2m13 8l-9-6 2 0m-2 0l1 1m6 5l-10-3 2 0m-2 0l1 1m5 7l-4-11 2 2m-2-2l0 2m-3 13l0-11 1 1m-1-1l-1 1m15 6l-10-5 2 0m-2 0l1 2m13-4l-11-1 2-1m-2 1l1 1m6 7l-5-10 1 1m-1-1l0 2m-1 12l-2-11 1 1m-1-1l-1 2m12 7l-10-4 2 0m-2 0l1 1m13-3l-11-1 2-1m-2 1l2 1m0 11l-3-11 1 2m-1-2l-1 2m-1 12l-1-11 1 2m-1-2l-1 2" stroke="#1e8cf0" stroke-opacity="0.4" stroke-width="1.4"/>
<path d="M539 216l-2 10-1-2m1 2l2-2m11-8l-13 5 2-2m-2 2l3 1m8 2l-9-1 3-1m-3 1l2 2m-1 3l1-5 0 2m0-2l-2 2m9-8l-11 5 2-2m-2 2l3 0m17 3l-17-3 3-1m-3 1l2 1m2 9l0-9 1 2m-1-2l-2 2m3-10l0 12-2-2m2 2l1-2m-6-5l3 6-2-2m2 2l0-3m9 9l-12-8 3 1m-3-1l1 3m7-2l-8 4 1-2m-1 2l3 0m6 2l-8-8 2 1m-2-1l1 3m-4 1l4-2-1 2m1-2l-2 0m4 5l-4-7 3 2m-3-2l1 3m7-3l-9 0 2-1m-2 1l2 1m-8 14l12-9-1 2m1-2l-2 0m2-4l-6 1 2-2m-2 2l2 1m18-8l-17 10 1-3m-1 3l2 0m-8-6l6 3-3 0m3 0l-2-2m-15 1l16-3-2 2m2-2l-3-1m-5 1l9 0-2 1m2-1l-2-2m5-4l-9 7 1-3m-1 3l3-1m5-4l-6 7 1-2m-1 2l3-1m-5-8l3 11-2-2m2 2l1-3m14 4l-14 4 2-2m-2 2l3 0m-10-6l8-3-2 2m2-2l-2 0m3 15l-8-12 3 2m-3-2l0 3m19-3l-13 0 2-1m-2 1l2 1m4-19l-12 13 0-2m0 2l2-1m13 13l-10-7 2 0m-2 0l1 2" stroke="#1e8cf0" stroke-opacity="0.8" stroke-width="2"/></g></g>
<path d="M241.9 87.9V85.3H243.7M295.6 85.3H297.4V87.1M297.4 138.6V140.4H295.6M243.7 140.4H241.9V138.6" fill="none" stroke="#1a1a1a" stroke-width="1.6" stroke-linejoin="round"/>
<path d="M246 85.3H295.6M297.4 89.4V138.6M246 140.4H295.6M241.9 90.2V138.6" fill="none" stroke="#1a1a1a" stroke-width="1.6" stroke-dasharray="5.3 2.3"/>
<circle cx="419.8" cy="112.5" r="72" stroke="#a8a8a8" stroke-width="0.9" fill="none"/>
<circle cx="419.8" cy="112.5" r="66" stroke="#c4c4c4" stroke-width="0.8" fill="none"/>
<g fill="none" stroke-linecap="round" filter="url(#sf)"><g transform="scale(.5)"><path d="M977 225l0 2m-1 11l0 3m-2 11l0 2m-3 11l-1 2m-3 11l-1 2m-5 10l-1 2m-6 9l-1 2m-7 9l-2 2m-7 8l-2 2m-8 7l-2 2m-9 6l-2 2m-10 5l-2 1m-10 5l-2 1m-11 3l-2 1m-11 3l-2 0m-11 2l-2 0m-11 0l-3 0m-11 0l-2 0m-11-2l-3-1m-10-3l-3 0m-10-4l-2-1m-10-5l-2-1m-10-6l-2-1m-9-7l-1-1m-9-8l-1-2m-8-8l-1-2m-7-9l-1-2m-6-9l-1-2m-4-10l-1-3m-4-10l-1-2m-2-11l-1-3m-1-11l0-2m-1-11l0-2m1-11l0-3m2-11l0-2m3-11l1-2m4-11l1-2m4-10l2-2m5-9l2-2m6-9l2-2m7-8l2-2m8-7l2-2m9-6l2-2m10-5l2-1m10-5l2-1m11-3l2-1m11-3l2 0m11-2l3 0m11 0l2 0m11 0l2 0m11 2l3 1m10 3l3 0m10 4l2 1m10 5l2 1m10 6l2 1m9 7l2 1m8 8l1 2m8 8l1 2m7 9l1 2m6 9l1 2m5 10l0 3m4 10l1 2m2 11l1 3m1 11l1 2" stroke="#9a9a9a" stroke-opacity="0.6" stroke-width="1.2"/>
<path d="M730 162l9 0-3 2m3-2l-3-3m3 3l9 0-3 2m3-2l-3-2m3 2l10 0-4 2m4-2l-4-3m3 3l10 0-4 2m4-2l-3-3m12-44l0 10-2-4m2 4l3-4m-3 3l0 10-2-3m2 3l2-4m-2 3l0 10-2-3m2 3l2-3m-2 3l0 9-2-3m2 3l3-3m171 13l-10 0 3-2m-3 2l3 2m-3-2l-9 0 3-3m-3 3l3 2m-3-2l-9 0 3-3m-3 3l3 2m-3-2l-10-1 4-2m-4 2l4 2m-140 172l0-10 2 4m-2-4l-2 4m2-3l0-10 2 3m-2-3l-2 4m2-3l0-10 2 3m-2-3l-2 3m2-3l0-9 2 3m-2-3l-2 3m-50-118l9 0-3 2m3-2l-3-2m3 2l9 1-3 2m3-2l-3-3m3 2l10 0-4 3m4-3l-4-2m3 2l10 0-3 2m3-2l-4-2m3 2l10 0-3 3m3-3l-3-2m31-72l0 10-3-4m3 4l2-4m-2 3l0 10-3-4m3 4l2-3m-2 2l0 10-3-3m3 3l2-3m-2 3l-1 9-2-3m2 3l3-3m-2 3l-1 9-2-3m2 3l3-3m156 31l-10 0 3-2m-3 2l3 2m-3-2l-9 0 3-2m-3 2l3 3m-3-3l-9 0 3-2m-3 2l3 3m-3-3l-10 0 4-2m-4 2l4 2m-3-2l-10 0 3-2m-3 2l4 3m-115 155l0-10 2 4m-2-4l-3 4m3-3l0-10 2 4m-2-4l-2 3m2-2l0-10 2 3m-2-3l-2 3m2-3l0-9 2 3m-2-3l-2 3m2-3l0-9 2 3m-2-3l-2 3m-72-95l9 0-3 2m3-2l-3-2m3 2l9 0-3 3m3-3l-3-2m3 2l10 1-4 2m4-2l-4-3m70-92l0 10-3-4m3 4l2-4m-2 3l0 10-3-4m3 4l2-3m-2 2l0 10-3-3m3 3l2-3m136 69l-10 0 3-2m-3 2l3 2m-3-2l-9 0 3-2m-3 2l3 3m-3-3l-9 0 3-2m-3 2l3 2m-113 136l0-10 2 4m-2-4l-2 4m2-3l0-10 2 4m-2-4l-2 3m2-2l0-10 2 3m-2-3l-2 3m-92-91l9 0-3 2m3-2l-3-2m3 2l9 0-3 2m3-2l-3-2m3 2l10 0-4 2m4-2l-4-2m92-114l0 10-2-4m2 4l2-4m-2 3l0 10-3-4m3 4l2-3m-2 2l0 10-3-3m3 3l2-3m114 91l-10 0 3-2m-3 2l3 2m-3-2l-9 0 3-2m-3 2l3 2m-3-2l-9 0 3-2m-3 2l3 2m-91 114l0-10 2 4m-2-4l-3 4m3-3l0-10 2 4m-2-4l-3 3m3-2l0-10 2 3m-2-3l-2 3m-114-69l9 0-3 2m3-2l-3-3m3 3l9 0-3 2m3-2l-3-2m3 2l10 0-4 2m4-2l-4-2m113-136l1 10-3-4m3 4l2-4m-3 3l0 10-2-4m2 4l2-3m-2 2l0 10-2-3m2 3l3-3m92 113l-10 0 3-2m-3 2l3 2m-3-2l-9 0 3-2m-3 2l3 2m-3-2l-9-1 3-2m-3 2l3 3m-70 92l0-10 2 4m-2-4l-2 4m2-3l0-10 2 3m-2-3l-2 4m2-3l1-10 2 3m-2-3l-3 3m-135-46l9 0-3 2m3-2l-3-3m3 3l9 0-3 2m3-2l-3-2m3 2l10 0-4 2m4-2l-4-2m3 2l10 0-3 2m3-2l-4-2m3 2l10 0-3 2m3-2l-3-2m118-159l0 10-3-4m3 4l2-4m-2 3l-1 10-2-4m2 4l3-3m-2 2l-1 10-2-3m2 3l3-3m-2 3l0 9-3-3m3 3l2-3m-2 3l-1 9-2-3m2 3l3-3m69 118l-10 0 3-2m-3 2l3 2m-3-2l-9 0 3-2m-3 2l3 2m-3-2l-9 0 3-2m-3 2l3 2m-3-2l-10 0 4-2m-4 2l4 3m-3-3l-10 0 3-2m-3 2l4 2m-28 69l0-10 2 4m-2-4l-2 4m2-3l0-10 2 4m-2-4l-3 3m3-2l0-10 2 3m-2-3l-3 3m3-3l0-9 2 3m-2-3l-3 3m3-3l0-9 2 3m-2-3l-3 3m-152-6l9 0-3 2m3-2l-3-3m3 3l9 0-3 2m3-2l-3-2m3 2l10 0-4 2m4-2l-4-3m3 3l10-1-3 3m3-3l-4-2m143-174l0 10-2-4m2 4l3-4m-3 3l0 10-2-4m2 4l2-3m-2 2l1 10-3-3m3 3l2-3m-3 3l0 9-2-3m2 3l2-3m42 143l-10 0 3-2m-3 2l3 2m-3-2l-9 0 3-2m-3 2l3 2m-3-2l-9 0 3-2m-3 2l3 2m-3-2l-10-1 4-2m-4 2l4 3m-10 41l1-10 2 4m-2-4l-3 4m2-3l1-10 2 4m-2-4l-3 3m2-2l1-10 2 3m-2-3l-3 3m2-3l1-9 2 3m-2-3l-3 3" stroke="#4a5ad0" stroke-opacity="0.62" stroke-width="1.4"/>
<path d="M718 182l3 5m-3-5l0 3m0-3l-5 3m5-3l-4 0m4 0l-3-5m3 5l0-4m0 4l4-4m-4 4l2-1m76-78l3 5m-3-5l1 4m-1-4l-3 3m3-3l-3 0m3 0l-5-4m5 4l1-4m-1 4l4-3m-4 3l4-1m162 80l2 3m-2-3l0 3m0-3l-5 3m5-3l-4 0m4 0l-4-4m4 4l0-3m0 3l4-4m-4 4l2-1m-168 166l4 5m-4-5l1 3m-1-3l-3 3m3-3l-3 0m3 0l-3-6m3 6l0-3m0 3l5-4m-5 4l4 1m-82-145l3 4m-3-4l-1 4m1-4l-4 5m4-5l-4 0m4 0l-6-4m6 4l0-4m0 4l3-3m-3 3l3 1m97-101l4 5m-4-5l0 4m0-4l-4 3m4-3l-3 0m3 0l-4-4m4 4l0-3m0 3l3-4m-3 4l4 1m140 99l4 4m-4-4l0 4m0-4l-5 3m5-3l-3 0m3 0l-4-2m4 2l0-2m0 2l4-5m-4 5l3 0m-147 144l4 5m-4-5l1 4m-1-4l-5 4m5-4l-4-1m4 1l-3-4m3 4l0-3m0 3l4-2m-4 2l3 0m-103-122l3 6m-3-6l-1 3m1-3l-5 4m5-4l-3 1m3-1l-3-5m3 5l0-4m0 4l4-4m-4 4l3 0m119-122l3 4m-3-4l-1 4m1-4l-6 4m6-4l-4 0m4 0l-4-5m4 5l0-4m0 4l3-3m-3 3l3-1m119 123l5 3m-5-3l-1 3m1-3l-4 3m4-3l-4 0m4 0l-3-4m3 4l0-3m0 3l3-5m-3 5l3 0m-125 122l5 4m-5-4l-1 4m1-4l-5 5m5-5l-4 0m4 0l-5-4m5 4l-1-4m1 4l3-4m-3 4l3-1m-125-99l3 5m-3-5l-1 4m1-4l-5 3m5-3l-4 0m4 0l-6-5m6 5l-1-3m1 3l4-5m-4 5l3-1m140-143l4 3m-4-3l1 3m-1-3l-3 3m3-3l-3-1m3 1l-3-6m3 6l1-4m-1 4l5-4m-5 4l3-1m98 145l4 3m-4-3l0 4m0-4l-5 4m5-4l-4 0m4 0l-4-6m4 6l-1-4m1 4l4-5m-4 5l2-1m-103 101l5 5m-5-5l0 3m0-3l-3 3m3-3l-3-1m3 1l-4-6m4 6l0-4m0 4l4-3m-4 3l4 0m-147-79l3 4m-3-4l0 3m0-3l-4 3m4-3l-3 1m3-1l-4-3m4 3l0-3m0 3l4-3m-4 3l3-1m162-164l3 5m-3-5l1 4m-1-4l-3 3m3-3l-4 0m4 0l-5-3m5 3l0-3m0 3l4-6m-4 6l4 1m75 164l3 4m-3-4l0 3m0-3l-5 6m5-6l-5 0m5 0l-5-4m5 4l0-3m0 3l3-5m-3 5l3 1m-82 78l4 5m-4-5l0 4m0-4l-4 5m4-5l-4 0m4 0l-5-4m5 4l0-3m0 3l4-3m-4 3l3-1m-155-143l10 2-3 1m3-1l-3-2m-7 22l10 0-3 1m3-1l-3-1m-7 23l10-2-3 2m3-2l-3-1m80-128l2 10-2-2m2 2l1-3m-3 211l2-10 1 3m-1-3l-2 2m22-210l0 10-2-3m2 3l1-3m-1 211l0-10 1 3m-1-3l-2 3m23-211l-2 10 0-3m0 3l2-2m0 210l-2-10 2 2m-2-2l0 3m90-124l-10 2 2-2m-2 2l3 1m7 19l-10 0 2-1m-2 1l2 1m8 21l-10-2 3-1m-3 1l2 2" stroke="#4a5ad0" stroke-opacity="0.7" stroke-width="1.6"/>
<path d="M779 171l7 3-2 0m2 0l-1-2m-5-2l8 2-2 0m2 0l-1-2m0-7l2 8-1-2m1 2l1-2m-4-4l1 8-1-2m1 2l1-2m-9-8l7 4-2 0m2 0l-1-1m-9 2l7 2-2 1m2-1l-1-1m-2-5l3 7-2-1m2 1l0-2m0-8l2 8-2-1m2 1l0-2m-12-3l8 3-2 0m2 0l-1-2m-7 0l7 2-2 1m2-1l-1-1m-5-3l4 7-2-1m2 1l0-2m1-9l1 8-1-1m1 1l1-2m4 120l2-8 1 2m-1-2l-1 2m-1 5l1-8 1 2m-1-2l-1 2m-6 2l8-3-1 1m1-1l-2 0m-8 0l8-2-1 2m1-2l-2 0m-2 13l4-6 0 2m0-2l-1 1m0 6l1-7 1 1m-1-1l-1 1m-10-2l7-4-1 2m1-2l-2 0m-1 7l8-2-2 1m2-1l-2-1m-8 8l4-7 0 2m0-2l-2 1m3 10l2-8 1 2m-1-2l-1 2m-8-1l7-2-1 1m1-1l-2 0m-7 0l8-2-2 2m2-2l-2 0m119-114l-2 7-1-2m1 2l1-1m-2-8l-1 8-1-2m1 2l1-2m8 0l-8 3 2-2m-2 2l2 0m6-1l-8 1 2-2m-2 2l2 0m3-12l-4 7 0-2m0 2l2-1m1-6l-1 8-1-2m1 2l1-1m5-3l-7 4 1-2m-1 2l2 0m8 1l-8 0 1-1m-1 1l1 1m1-16l-3 8-1-2m1 2l1-1m-1-7l-1 8 0-2m0 2l1-2m12 4l-8 2 1-1m-1 1l2 1m0-8l-8 2 2-2m-2 2l2 0m0 119l-7-4 2 0m-2 0l1 2m6-1l-8 0 2-1m-2 1l2 1m7 1l-3-8 1 2m-1-2l0 2m-4 11l0-8 1 1m-1-1l-1 1m13 4l-8-4 2 0m-2 0l2 2m8-3l-8 0 2-1m-2 1l1 1m2 6l-3-8 2 2m-2-2l0 2m-3 10l0-8 1 2m-1-2l-1 2m15 0l-8-2 2-1m-2 1l1 1m7-1l-7-1 1-1m-1 1l1 1m-2 10l-3-8 2 2m-2-2l0 2m2 6l-2-8 1 2m-1-2l0 2" stroke="#4a5ad0" stroke-opacity="0.3" stroke-width="1.4"/>
<path d="M784 170l6 6-2-1m2 1l0-3m-6 107l6-6-1 2m1-2l-3 1m108-105l-7 5 1-2m-1 2l3 0m4 105l-6-6 3 1m-3-1l1 3" stroke="#4a5ad0" stroke-opacity="0.3" stroke-width="1.6"/>
<path d="M715 204l4 4m-4-4l-1 3m1-3l-3 3m3-3l-4 0m4 0l-5-3m5 3l0-3m0 3l4-3m-4 3l2 0m-2 21l2 3m-2-3l0 3m0-3l-3 4m3-4l-3 0m3 0l-5-3m5 3l0-3m0 3l3-3m-3 3l3 1m-3 20l3 4m-3-4l-1 3m1-3l-4 3m4-3l-3 0m3 0l-5-4m5 4l-1-3m1 3l2-4m-2 4l3-1m18-82l3 5m-3-5l0 2m0-2l-3 3m3-3l-3 0m3 0l-4-4m4 4l0-3m0 3l4-3m-4 3l3-1m-3 21l3 3m-3-3l0 3m0-3l-5 4m5-4l-4 1m4-1l-5-3m5 3l-1-2m1 2l4-4m-4 4l3 0m-3 84l2 4m-2-4l0 2m0-2l-4 4m4-4l-3 0m3 0l-3-3m3 3l0-4m0 4l3-5m-3 5l3 0m-3 20l3 3m-3-3l0 4m0-4l-3 3m3-3l-3 0m3 0l-3-2m3 2l0-3m0 3l3-3m-3 3l3 0m17-145l4 3m-4-3l1 2m-1-2l-3 2m3-2l-2 0m2 0l-4-3m4 3l0-3m0 3l3-5m-3 5l4-1m-4 167l4 3m-4-3l1 3m-1-3l-4 4m4-4l-3-1m3 1l-4-4m4 4l0-3m0 3l4-3m-4 3l4 1m17-188l4 4m-4-4l0 3m0-3l-4 4m4-4l-3 0m3 0l-3-5m3 5l1-3m-1 3l4-3m-4 3l4 0m-4 208l5 3m-5-3l0 3m0-3l-4 4m4-4l-3-1m3 1l-4-4m4 4l0-3m0 3l3-4m-3 4l4 0m17-208l2 3m-2-3l1 3m-1-3l-3 4m3-4l-2 0m2 0l-5-3m5 3l0-2m0 2l3-4m-3 4l3-1m-3 209l3 3m-3-3l0 4m0-4l-3 4m3-4l-3 0m3 0l-3-5m3 5l0-3m0 3l3-2m-3 2l3 0m18-229l3 2m-3-2l0 4m0-4l-2 4m2-4l-3 0m3 0l-3-4m3 4l0-3m0 3l5-3m-5 3l2 0m-2 250l4 3m-4-3l0 2m0-2l-5 3m5-3l-4 0m4 0l-4-4m4 4l0-3m0 3l2-4m-2 4l3-1m18-249l3 3m-3-3l0 3m0-3l-5 3m5-3l-3 0m3 0l-5-3m5 3l0-3m0 3l3-3m-3 3l2 0m-2 250l3 4m-3-4l0 3m0-3l-3 3m3-3l-3 0m3 0l-5-4m5 4l0-3m0 3l3-2m-3 2l3-1m17-249l4 3m-4-3l1 4m-1-4l-3 5m3-5l-2 0m2 0l-3-4m3 4l1-3m-1 3l5-3m-5 3l3 1m-3 249l3 3m-3-3l1 3m-1-3l-4 3m4-3l-2 0m2 0l-2-4m2 4l0-3m0 3l5-3m-5 3l3-1m18-228l3 5m-3-5l0 3m0-3l-3 2m3-2l-2 0m2 0l-3-3m3 3l-1-3m1 3l4-4m-4 4l4-1m-4 209l3 4m-3-4l1 3m-1-3l-3 2m3-2l-3-1m3 1l-3-5m3 5l1-2m-1 2l3-3m-3 3l4 0m17-208l4 3m-4-3l0 3m0-3l-2 4m2-4l-3 1m3-1l-3-2m3 2l0-3m0 3l3-4m-3 4l3 0m-3 208l4 3m-4-3l0 3m0-3l-4 4m4-4l-3 0m3 0l-5-4m5 4l0-3m0 3l5-4m-5 4l3 0m18-187l3 4m-3-4l0 2m0-2l-3 4m3-4l-4 0m4 0l-4-5m4 5l-1-4m1 4l3-3m-3 3l2 0m-2 166l2 4m-2-4l1 3m-1-3l-2 4m2-4l-4 0m4 0l-5-3m5 3l0-3m0 3l3-4m-3 4l3 1m18-146l3 3m-3-3l0 2m0-2l-5 2m5-2l-3-1m3 1l-5-3m5 3l-1-3m1 3l4-3m-4 3l3 0m-3 20l3 3m-3-3l0 3m0-3l-4 5m4-5l-3 1m3-1l-4-2m4 2l0-3m0 3l4-4m-4 4l2 1m-2 83l4 4m-4-4l0 3m0-3l-4 2m4-2l-3 0m3 0l-4-3m4 3l-1-4m1 4l2-4m-2 4l2-1m-2 21l3 5m-3-5l0 3m0-3l-4 3m4-3l-4 1m4-1l-4-3m4 3l0-2m0 2l3-4m-3 4l3 0m17-83l4 3m-4-3l0 3m0-3l-3 3m3-3l-2 0m2 0l-4-4m4 4l0-2m0 2l3-2m-3 2l4 1m-4 20l4 4m-4-4l0 3m0-3l-3 4m3-4l-2 0m2 0l-3-3m3 3l0-3m0 3l4-3m-4 3l3 0m-3 21l4 3m-4-3l0 3m0-3l-4 2m4-2l-3-1m3 1l-3-4m3 4l1-3m-1 3l4-4m-4 4l3 0" stroke="#4a5ad0" stroke-opacity="0.65" stroke-width="1.7"/>
<path d="M736 204l5 5m-5-5l0 4m0-4l-6 4m6-4l-3-1m3 1l-5-4m5 4l0-3m0 3l4-5m-4 5l4 0m-4 21l6 4m-6-4l-1 3m1-3l-6 4m6-4l-4-1m4 1l-4-4m4 4l0-4m0 4l4-3m-4 3l3 0m-3 21l4 3m-4-3l-1 4m1-4l-4 5m4-5l-4 0m4 0l-4-5m4 5l0-4m0 4l4-5m-4 5l3 0m80-125l4 5m-4-5l0 4m0-4l-4 4m4-4l-4-1m4 1l-4-5m4 5l-1-3m1 3l4-5m-4 5l4-1m-4 209l5 5m-5-5l1 4m-1-4l-5 3m5-3l-4 1m4-1l-3-5m3 5l0-3m0 3l4-3m-4 3l4 0m17-208l4 6m-4-6l-1 3m1-3l-7 4m7-4l-4 1m4-1l-5-4m5 4l-1-4m1 4l3-5m-3 5l3 0m-3 208l3 5m-3-5l0 3m0-3l-5 3m5-3l-5 0m5 0l-4-4m4 4l0-4m0 4l3-3m-3 3l4-1m16-207l5 4m-5-4l0 4m0-4l-3 4m3-4l-3 1m3-1l-5-4m5 4l1-4m-1 4l6-3m-6 3l4-1m-4 209l5 6m-5-6l1 3m-1-3l-4 6m4-6l-4 1m4-1l-4-4m4 4l1-4m-1 4l4-5m-4 5l3 0m81-125l5 4m-5-4l-1 4m1-4l-4 4m4-4l-4 0m4 0l-6-5m6 5l0-4m0 4l3-4m-3 4l4 0m-4 21l5 4m-5-4l0 4m0-4l-4 4m4-4l-4 0m4 0l-5-5m5 5l0-3m0 3l5-5m-5 5l3 1m-3 20l5 4m-5-4l-1 4m1-4l-5 4m5-4l-4-1m4 1l-4-4m4 4l-1-3m1 3l4-5m-4 5l3 1" stroke="#4a5ad0" stroke-opacity="0.75" stroke-width="1.7"/>
<path d="M730 158l9 0-3 2m3-2l-3-2m3 2l9 0-3 2m3-2l-3-2m3 2l10 0-4 2m4-2l-4-2m3 2l10 1-4 2m4-2l-3-3m2 6l10-1-3 3m3-3l-3-2m0-44l0 10-2-4m2 4l2-4m-2 3l0 10-3-4m3 4l2-3m-2 2l0 10-2-3m2 3l2-3m-2 3l0 9-2-3m2 3l2-3m1 3l0 9-2-3m2 3l2-3m172 0l-10 0 3-2m-3 2l3 2m-3-2l-9 0 3-2m-3 2l3 2m-3-2l-9 1 3-3m-3 3l3 2m-3-3l-10 1 4-3m-4 3l4 2m-3 1l-10 0 3-3m-3 3l4 2m-134 171l0-10 2 4m-2-4l-2 4m2-3l0-10 2 4m-2-4l-2 3m2-2l0-10 2 3m-2-3l-2 3m2-3l0-9 2 3m-2-3l-2 3m5-3l0-9 3 3m-3-3l-2 3m-50-112l9 0-3 2m3-2l-3-2m3 2l9 0-3 2m3-2l-3-2m3 2l10 0-4 2m4-2l-4-2m3 2l10 0-3 2m3-2l-4-2m3 2l10 0-3 2m3-2l-3-2m3 5l9 0-3 2m3-2l-3-2m3 2l9 0-3 2m3-2l-3-2m10-72l0 10-3-4m3 4l2-4m-2 3l-1 10-2-4m2 4l3-3m-2 2l0 10-3-3m3 3l2-3m-2 3l-1 9-2-3m2 3l3-3m-2 3l0 9-2-3m2 3l2-3m1 3l0 10-2-4m2 4l2-4m-2 3l0 10-3-4m3 4l2-3m156 9l-10 0 3-3m-3 3l3 2m-3-2l-9 0 3-2m-3 2l3 2m-3-2l-9 0 3-2m-3 2l3 2m-3-2l-10 0 4-2m-4 2l4 2m-3-2l-10 0 4-2m-4 2l4 2m-3 1l-10 0 3-2m-3 2l3 2m-3-2l-9 1 3-3m-3 3l3 2m-99 155l0-10 2 4m-2-4l-3 4m3-3l0-10 2 3m-2-3l-3 4m3-3l0-10 2 3m-2-3l-2 3m2-3l0-9 2 3m-2-3l-3 3m3-3l0-9 2 3m-2-3l-2 3m5-3l0-10 2 4m-2-4l-3 4m3-3l0-10 2 4m-2-4l-2 3m-72-79l9 1-3 2m3-2l-3-3m-6 8l9 0-3 2m3-2l-3-2m3-4l9 0-3 3m3-3l-3-2m-6 8l9 0-3 2m3-2l-3-2m3-4l10 1-4 2m4-2l-4-3m-6 8l10 0-4 2m4-2l-4-2m3-4l10 1-4 2m4-2l-3-3m-7 8l10 0-4 3m4-3l-3-2m2-4l10 1-3 2m3-2l-3-3m-7 8l10 0-3 3m3-3l-3-2m48-95l0 10-2-4m2 4l2-4m4-6l0 10-3-4m3 4l2-4m-8 3l0 10-2-4m2 4l2-3m4-7l0 10-2-3m2 3l2-4m-8 3l0 10-2-3m2 3l2-3m4-7l-1 10-2-3m2 3l3-3m-8 3l0 9-2-3m2 3l2-3m4-6l0 9-3-3m3 3l2-3m-8 3l0 9-2-3m2 3l3-3m3-6l-1 9-2-3m2 3l3-3m133 48l-10 1 3-3m-3 3l3 2m7 3l-10 0 3-2m-3 2l3 2m-3-8l-9 1 3-3m-3 3l3 2m6 3l-9 0 3-2m-3 2l3 2m-3-8l-9 0 3-2m-3 2l3 3m6 3l-9 0 3-2m-3 2l3 2m-3-8l-10 0 4-2m-4 2l4 2m6 4l-10 0 4-2m-4 2l4 2m-3-8l-10 1 3-3m-3 3l4 2m6 3l-10 0 3-2m-3 2l4 3m-98 132l0-10 2 4m-2-4l-2 4m8 6l0-10 2 4m-2-4l-2 4m-4-3l0-10 3 4m-3-4l-2 3m8 7l0-10 2 4m-2-4l-3 3m-3-2l0-10 3 3m-3-3l-2 3m8 7l-1-10 3 3m-3-3l-2 3m-3-3l1-9 2 3m-2-3l-3 3m8 6l0-9 2 3m-2-3l-3 3m-3-3l0-9 2 3m-2-3l-2 3m8 6l0-9 2 3m-2-3l-3 3m-94-76l9 1-3 2m3-2l-3-3m-6 8l9-1-3 3m3-3l-3-2m3-3l9 0-3 2m3-2l-3-2m-6 8l9 0-3 2m3-2l-3-3m3-3l10 1-4 2m4-2l-4-3m-6 8l10 0-4 2m4-2l-4-2m3-4l10 0-3 2m3-2l-4-2m-6 8l10-1-3 3m3-3l-4-2m3-3l10 1-3 2m3-2l-3-3m-7 8l10 0-3 2m3-2l-3-2m70-117l0 10-3-4m3 4l2-4m3-6l0 10-2-4m2 4l3-4m-8 3l-1 10-2-4m2 4l3-3m3-7l0 10-2-4m2 4l2-3m-7 2l0 10-3-3m3 3l2-3m3-7l0 10-2-3m2 3l3-3m-8 3l-1 9-2-3m2 3l3-3m3-6l0 9-2-3m2 3l3-3m-8 3l0 9-2-3m2 3l2-3m3-6l0 9-2-3m2 3l3-3m111 70l-10 0 3-2m-3 2l3 2m7 4l-10 0 3-2m-3 2l3 2m-3-8l-9 0 3-2m-3 2l3 2m6 4l-9-1 3-2m-3 2l3 3m-3-8l-9 0 3-2m-3 2l3 2m6 4l-9 0 3-2m-3 2l3 2m-3-8l-10 0 4-2m-4 2l4 3m6 3l-10 0 4-2m-4 2l4 2m-3-8l-10 0 3-2m-3 2l4 2m6 4l-10 0 4-3m-4 3l3 2m-75 111l0-10 2 4m-2-4l-3 4m8 6l0-10 2 4m-2-4l-2 4m-3-3l0-10 2 4m-2-4l-2 3m7 7l1-10 2 4m-2-4l-3 3m-3-2l0-10 2 3m-2-3l-2 3m7 7l0-10 3 3m-3-3l-2 3m-3-3l0-9 2 3m-2-3l-2 3m7 6l1-9 2 3m-2-3l-3 3m-3-3l0-9 2 3m-2-3l-2 3m7 6l0-9 2 3m-2-3l-2 3m-116-54l9 0-3 2m3-2l-3-2m-6 8l9-1-3 2m3-2l-3-2m3-3l9 0-3 2m3-2l-3-3m-6 9l9 0-3 2m3-2l-3-3m3-3l10 0-4 2m4-2l-4-3m-6 9l10 0-4 2m4-2l-4-2m3-4l10 0-4 2m4-2l-3-2m-7 8l10-1-3 3m3-3l-4-2m3-3l10 0-3 2m3-2l-3-2m-7 8l10 0-3 2m3-2l-3-3m92-138l0 10-3-4m3 4l2-4m3-6l1 10-3-4m3 4l2-4m-8 3l-1 10-2-4m2 4l3-3m3-7l0 10-2-3m2 3l2-4m-7 3l0 10-3-3m3 3l2-3m3-7l0 10-2-3m2 3l2-3m-7 3l0 9-3-3m3 3l2-3m3-6l1 9-3-3m3 3l2-3m-8 3l-1 9-2-3m2 3l2-3m4-6l0 9-2-3m2 3l3-3m89 92l-10-1 3-2m-3 2l3 3m7 4l-10 0 3-3m-3 3l3 2m-3-8l-9 0 3-3m-3 3l3 2m6 4l-9-1 3-2m-3 2l3 2m-3-7l-9 0 3-2m-3 2l3 2m6 4l-9-1 3-2m-3 2l3 3m-3-8l-10 0 4-2m-4 2l4 2m6 4l-10 0 4-3m-4 3l4 2m-3-8l-10 0 4-2m-4 2l3 2m7 4l-10-1 4-2m-4 2l3 3m-53 89l0-10 2 4m-2-4l-3 4m8 6l0-10 3 4m-3-4l-2 4m-3-3l-1-10 3 3m-3-3l-2 4m8 6l0-10 3 4m-3-4l-2 3m-3-2l0-10 2 3m-2-3l-3 3m8 7l0-10 2 3m-2-3l-2 3m-3-3l0-9 2 3m-2-3l-3 3m8 6l0-9 2 3m-2-3l-2 3m-3-3l-1-9 3 3m-3-3l-2 3m8 6l0-9 3 3m-3-3l-2 3m-138-31l9 0-3 2m3-2l-3-2m3 2l9-1-3 3m3-3l-3-2m3 3l10 0-4 2m4-2l-4-2m3 2l10-1-3 3m3-3l-4-2m3 3l10 0-3 2m3-2l-3-3m3 6l9 0-3 2m3-2l-3-2m3 2l9 0-3 3m3-3l-3-2m96-159l1 10-3-4m3 4l2-4m-3 3l1 10-3-3m3 3l2-4m-3 3l0 10-2-3m2 3l3-3m-3 3l0 9-2-3m2 3l3-3m-3 3l1 9-3-3m3 3l2-3m1 3l0 10-2-4m2 4l2-4m-2 3l0 10-2-3m2 3l2-4m69 97l-10 0 3-3m-3 3l3 2m-3-2l-9 0 3-2m-3 2l3 2m-3-2l-9 0 3-2m-3 2l3 2m-3-2l-10 0 4-2m-4 2l4 2m-3-2l-10 0 3-2m-3 2l4 2m-3 1l-10 0 3-2m-3 2l3 2m-3-2l-9 0 3-2m-3 2l3 2m-13 69l0-10 3 4m-3-4l-2 4m2-3l0-10 3 3m-3-3l-2 4m2-3l0-10 3 3m-3-3l-2 3m2-3l0-9 3 3m-3-3l-2 3m2-3l0-9 2 3m-2-3l-2 3m6-3l0-10 2 4m-2-4l-2 4m2-3l-1-10 3 3m-3-3l-2 4m-152 8l9 1-3 2m3-2l-3-3m3 2l9 0-3 3m3-3l-3-2m3 2l10 1-4 2m4-2l-4-3m3 2l10 1-4 2m4-2l-3-3m2 6l10 0-3 2m3-2l-3-3m130-174l0 10-2-4m2 4l2-4m-2 3l0 10-2-4m2 4l2-3m-2 2l0 10-2-3m2 3l3-3m-3 3l0 9-2-3m2 3l2-3m1 3l0 9-2-3m2 3l3-3m41 130l-10 1 3-3m-3 3l3 2m-3-3l-9 0 3-2m-3 2l3 3m-3-3l-9 1 3-3m-3 3l3 2m-3-3l-10 1 4-3m-4 3l4 2m-3 1l-10 0 3-2m-3 2l4 2m-4 41l0-10 2 4m-2-4l-2 4m2-3l0-10 2 3m-2-3l-2 4m2-3l0-10 2 3m-2-3l-2 3m2-3l0-9 3 3m-3-3l-2 3m5-3l0-9 2 3m-2-3l-2 3" stroke="#6f86e0" stroke-opacity="0.62" stroke-width="1.4"/>
<path d="M722 172l6 2-2 1m2-1l-1-2m-5 21l6 2-2 0m2 0l-1-2m-5 21l7 1-3 1m3-1l-2-1m-5 22l7-1-2 1m2-1l-3-1m-4 23l6-2-1 2m1-2l-2 0m-4 23l6-2-1 2m1-2l-2-1m17-125l6 4-3 0m3 0l-1-2m-5 19l6 4-2 0m2 0l-1-2m-5 20l6 2-2 0m2 0l-1-2m-5 21l6 1-2 1m2-1l-2-1m-4 22l6-1-2 1m2-1l-2-1m-4 23l6-2-1 2m1-2l-2 0m-4 24l6-4-1 2m1-2l-2 0m-4 25l6-4-1 2m1-2l-3 0m19-167l4 5-2-1m2 1l0-2m-5 18l5 5-2-1m2 1l0-3m-5 19l6 4-3 0m3 0l-1-2m-5 19l6 3-2 0m2 0l-2-2m-5 21l7 1-2 1m2-1l-2-1m-5 22l7-1-2 1m2-1l-2-1m-4 24l6-3-2 2m2-2l-2 0m-4 24l6-4-1 2m1-2l-3 0m-3 25l5-5 0 3m0-3l-2 1m-2 25l4-5 0 2m0-2l-2 1m19-209l3 6-2-2m2 2l0-3m-3 17l3 6-2-1m2 1l0-2m-3 17l4 6-3-1m3 1l-1-2m-3 148l4-6-1 2m1-2l-3 1m-1 26l3-6 0 2m0-2l-2 1m-1 25l3-6 0 3m0-3l-2 2m21-231l1 7-1-2m1 2l1-2m-3 16l2 7-1-2m1 2l1-3m-3 17l3 6-2-1m2 1l0-2m-3 148l3-6 0 2m0-2l-2 1m-1 26l2-7 1 3m-1-3l-1 2m0 26l1-7 1 2m-1-2l-1 2m21-231l1 7-2-2m2 2l0-2m-1 16l1 7-2-2m2 2l0-2m-1 16l1 7-2-2m2 2l1-3m-2 148l1-7 1 3m-1-3l-2 2m1 26l1-7 0 2m0-2l-2 2m1 26l1-7 0 2m0-2l-2 2m22-231l0 7-1-2m1 2l1-2m-1 16l0 7-1-2m1 2l1-2m-1 16l0 7-1-3m1 3l1-2m-1 147l0-7 1 2m-1-2l-1 3m1 25l0-7 1 2m-1-2l-1 2m1 26l0-7 1 2m-1-2l-1 2m23-231l-2 7-1-2m1 2l2-2m0 16l-2 7-1-3m1 3l1-2m1 16l-3 6 0-2m0 2l2-1m1 147l-3-6 2 1m-2-1l0 2m3 25l-2-7 1 2m-1-2l-1 3m3 25l-2-7 2 2m-2-2l-1 2m24-230l-3 6 0-3m0 3l2-2m1 16l-3 6 0-2m0 2l2-1m2 16l-4 6 0-2m0 2l2-1m2 147l-4-6 2 1m-2-1l0 2m3 25l-3-6 2 1m-2-1l0 2m3 24l-3-6 2 2m-2-2l0 3m24-210l-4 5 1-2m-1 2l3-1m2 17l-5 5 1-3m-1 3l2-1m3 17l-5 4 1-2m-1 2l2 0m4 17l-7 3 2-2m-2 2l3 0m4 19l-7 1 2-1m-2 1l2 1m5 20l-7-1 2-1m-2 1l2 1m5 22l-7-3 3 0m-3 0l2 2m4 22l-5-4 2 0m-2 0l1 2m4 23l-5-5 2 1m-2-1l1 3m3 23l-4-5 3 1m-3-1l1 2m25-168l-5 4 0-2m0 2l2 0m3 17l-6 4 2-2m-2 2l3 0m3 18l-6 2 2-2m-2 2l2 0m5 19l-7 1 2-1m-2 1l2 1m5 20l-7-1 2-1m-2 1l2 1m4 21l-6-2 2 0m-2 0l2 2m4 22l-6-4 3 0m-3 0l2 2m4 23l-5-4 2 0m-2 0l0 2m26-126l-6 2 1-2m-1 2l2 1m4 18l-6 2 1-2m-1 2l2 0m4 19l-6 1 2-1m-2 1l2 1m4 20l-6-1 2-1m-2 1l2 1m4 21l-6-2 2 0m-2 0l1 2m5 21l-6-2 2-1m-2 1l1 2" stroke="#6f86e0" stroke-opacity="0.7" stroke-width="1.3"/>
<path d="M782 186l11 0-2 1m2-1l-2-2m-9 4l11 0m-11 2l11 1-2 1m2-1l-2-2m1-3l10 0-2 2m2-2l-2-1m-8 3l10 1m-10 1l10 0-2 1m2-1l-2-2m1-21l0 12-2-3m2 3l2-3m0-9l-1 12m3-12l0 12-2-3m2 3l2-3m-6 2l-1 10-1-3m1 3l2-2m1-8l0 10m2-10l-1 10-1-3m1 3l2-2m92 1l-12 0 2-2m-2 2l2 2m10-1l-12 0m12 2l-12 0 2-2m-2 2l2 1m-1-4l-10 0 2-2m-2 2l2 1m8 0l-10 1m10 1l-10 1 2-2m-2 2l2 1m-78 91l0-12 2 3m-2-3l-2 3m4 9l0-12m2 12l-1-12 2 3m-2-3l-1 3m-2-2l0-10 1 3m-1-3l-2 2m4 8l0-10m1 10l1-10 1 3m-1-3l-2 3m-21-5l11 0-2 2m2-2l-2-1m-9 3l11 1m-11 1l11 0-2 2m2-2l-2-1m1-3l10 0-2 2m2-2l-2-1m-8 3l10 0m-10 1l10 0-2 2m2-2l-2-1m74-95l0 12-2-3m2 3l1-3m2-9l-1 12m3-12l0 12-2-3m2 3l1-3m-6 2l1 10-2-2m2 2l1-3m0-7l1 10m1-10l0 10-1-3m1 3l2-2m18 74l-12 0 2-2m-2 2l2 1m10 1l-12 0m12 1l-12 1 2-2m-2 2l2 1m-1-5l-10 0 2-1m-2 1l2 2m8 0l-10 0m10 2l-10 0 2-2m-2 2l2 1m-5 18l0-12 2 3m-2-3l-1 3m4 9l-1-12m2 12l0-12 2 3m-2-3l-1 3m-3-2l0-10 2 2m-2-2l-1 3m3 7l1-10m1 10l0-10 2 2m-2-2l-2 3" stroke="#62b4ec" stroke-opacity="0.3375" stroke-width="1.4"/>
<path d="M782 205l11-1-2 2m2-2l-2-1m-9 4l11-1m-11 2l11 0-2 2m2-2l-2-1m1-3l12 0-2 2m2-2l-2-1m-10 3l12 0m-12 2l12 0-2 2m2-2l-2-2m1-2l12 1-3 1m3-1l-2-2m-10 4l12 0m-12 2l12 0-2 1m2-1l-3-2m2-2l7 0-3 2m3-2l-2-1m-5 3l7 0m-7 1l7 0-3 2m3-2l-3-1m1-40l0 12-1-3m1 3l2-3m0-9l0 12m2-12l-1 12-1-3m1 3l2-3m-5 2l-1 11-1-2m1 2l2-2m1-9l0 11m2-11l1 11-2-2m2 2l1-2m-6 2l0 11-2-2m2 2l1-2m1-9l0 11m2-11l1 11-2-2m2 2l1-2m-6 1l0 7-2-2m2 2l2-2m1-5l-1 7m2-7l0 7-1-2m1 2l2-2m73 1l-12 0 2-2m-2 2l2 1m10 1l-12-1m12 3l-12-1 2-1m-2 1l2 2m-1-5l-12 0 2-2m-2 2l3 1m9 1l-12 0m12 2l-12 0 2-2m-2 2l3 1m-2-5l-12-1 3-1m-3 1l3 2m9 0l-12 1m12 2l-12 0 3-2m-3 2l3 1m-2-6l-7 0 3-1m-3 1l3 2m4 1l-7 0m7 1l-7 0 3-1m-3 1l3 2m-42 73l1-12 1 3m-1-3l-2 3m4 9l-1-12m2 12l0-12 2 3m-2-3l-1 3m-3-2l0-11 1 2m-1-2l-2 2m4 9l0-11m3 11l0-11 1 2m-1-2l-2 2m-3-2l0-11 2 2m-2-2l-1 2m3 9l1-11m1 11l0-11 1 2m-1-2l-2 2m-2-1l0-7 2 2m-2-2l-2 2m5 5l0-7m1 7l0-7 1 2m-1-2l-2 2m-39-23l11 0-2 2m2-2l-2-2m-9 4l11 0m-11 2l11-1-2 2m2-2l-2-1m1-2l12 0-2 1m2-1l-2-2m-10 4l12 0m-12 2l12 0-2 2m2-2l-2-1m1-3l12-1-2 2m2-2l-3-1m-9 4l12 0m-12 2l12 0-3 2m3-2l-2-1m1-3l12 0-3 2m3-2l-3-1m-9 3l12-1m-12 3l12 1-3 1m3-1l-3-2m2-3l10 1-2 1m2-1l-2-2m-8 3l10 0m-10 2l10 0-2 1m2-1l-2-2m5-58l0 12-2-3m2 3l1-3m1-9l0 12m2-12l0 12-2-3m2 3l1-3m-5 2l0 11-1-2m1 2l2-2m0-9l-1 11m3-11l0 11-2-2m2 2l2-2m-6 2l0 11-2-2m2 2l1-2m1-9l0 11m2-11l0 11-2-2m2 2l1-2m-5 1l0 12-2-2m2 2l1-2m1-10l0 12m2-12l0 12-2-2m2 2l1-2m-5 1l0 11-2-3m2 3l1-3m1-8l-1 11m3-11l-1 11-1-3m1 3l2-3m55 5l-12 0 2-2m-2 2l2 1m10 1l-12 0m12 2l-12 0 2-2m-2 2l2 1m-1-5l-12 0 3-2m-3 2l2 1m10 1l-12-1m12 3l-12 0 3-2m-3 2l3 1m-2-5l-12 0 3-2m-3 2l3 2m9 0l-12 0m12 2l-12 0 3-2m-3 2l3 1m-2-5l-11 0 2-2m-2 2l2 1m9 1l-11 0m11 2l-11 0 2-1m-2 1l2 2m-2-6l-10 0 2-1m-2 1l2 2m8 0l-10 0m10 2l-10 0 2-1m-2 1l2 2m-8 54l-1-12 2 3m-2-3l-1 3m4 9l0-12m2 12l0-12 1 3m-1-3l-2 3m-2-2l0-11 2 2m-2-2l-1 2m3 9l0-11m2 11l0-11 2 2m-2-2l-2 2m-2-2l0-11 2 2m-2-2l-1 2m3 9l0-11m1 11l0-11 2 2m-2-2l-1 2m-3-1l1-12 1 2m-1-2l-2 2m3 10l0-12m2 12l0-12 2 2m-2-2l-1 2m-2-1l-1-11 2 3m-2-3l-1 3m3 8l0-11m2 11l1-11 1 3m-1-3l-2 3m-58 9l11 0-2 2m2-2l-2-2m-9 4l11 1m-11 1l11 0-2 2m2-2l-2-1m1-2l12 0-2 2m2-2l-2-1m-10 3l12-1m-12 2l12 0-2 2m2-2l-2-1m1-3l12 0-2 2m2-2l-3-1m-9 4l12 0m-12 2l12 0-3 1m3-1l-3-2m2-3l7 0-2 2m2-2l-3-1m-4 3l7 0m-7 2l7 0-2 2m2-2l-3-1m38-77l0 12-1-3m1 3l2-3m0-9l0 12m2-12l0 12-2-3m2 3l1-3m-5 2l0 11-2-2m2 2l1-2m1-9l0 11m2-11l0 11-2-2m2 2l1-2m-5 2l1 11-2-2m2 2l1-2m0-9l0 11m2-11l1 11-2-2m2 2l1-2m-6 1l0 7-2-2m2 2l2-2m0-5l0 7m2-7l0 7-2-2m2 2l2-2m36 38l-12-1 2-1m-2 1l2 2m10 0l-12 0m12 3l-12 0 2-1m-2 1l2 2m-1-6l-12-1 3-1m-3 1l2 2m10 0l-12 0m12 2l-12 0 2-1m-2 1l3 2m-2-6l-12 1 3-2m-3 2l3 1m9 0l-12 0m12 3l-12-1 3-1m-3 1l3 2m-2-6l-7 0 3-1m-3 1l3 2m4 0l-7 0m7 2l-7 1 3-2m-3 2l3 1m-5 36l0-12 2 3m-2-3l-1 3m3 9l0-12m2 12l1-12 1 3m-1-3l-2 3m-3-2l0-11 2 2m-2-2l-1 2m3 9l0-11m2 11l0-11 1 2m-1-2l-2 2m-2-2l0-11 2 2m-2-2l-1 2m3 9l0-11m2 11l0-11 2 2m-2-2l-2 2m-2-1l0-7 2 2m-2-2l-2 2m4 5l0-7m2 7l0-7 2 2m-2-2l-2 2" stroke="#62b4ec" stroke-opacity="0.405" stroke-width="1.4"/>
<path d="M766 158l10 1-3 2m3-2l-3-3m0-4l0 9-3-3m3 3l2-3m138 0l-10 0 3-2m-3 2l4 3m-134 137l0-9 2 3m-2-3l-3 3m0-112l9 0-3 3m3-3l-3-2m3 2l9 0-3 2m3-2l-3-3m10-22l0 10-3-4m3 4l2-4m-2 3l0 10-2-3m2 3l2-4m113 10l-10 0 3-2m-3 2l3 2m-3-2l-9 0 3-2m-3 2l3 2m-99 113l-1-10 3 4m-3-4l-2 4m3-3l0-10 2 3m-2-3l-3 4m-41-77l10 0-3 2m3-2l-4-2m3 2l10 0-3 2m3-2l-3-2m3-1l9 1-3 2m3-2l-3-3m-6 8l9 0-3 3m3-3l-3-2m3-4l9 1-3 2m3-2l-3-3m-6 8l9 0-3 2m3-2l-3-2m33-67l0 9-2-3m2 3l2-3m-2 3l0 9-3-3m3 3l2-3m-5 3l0 10-2-4m2 4l3-4m3-6l-1 10-2-4m2 4l3-4m-8 3l0 10-2-3m2 3l2-4m4-6l0 10-2-3m2 3l2-4m105 33l-10 0 4-2m-4 2l4 3m-3-3l-10 1 3-3m-3 3l4 2m-3-6l-10 0 3-2m-3 2l3 3m7 3l-10 0 3-2m-3 2l3 3m-3-9l-9 0 3-2m-3 2l3 3m6 3l-9 0 3-2m-3 2l3 3m-76 104l0-9 2 3m-2-3l-2 3m2-3l0-9 2 3m-2-3l-3 3m0-3l0-10 3 4m-3-4l-2 4m8 6l0-10 2 4m-2-4l-3 4m-3-3l0-10 2 4m-2-4l-2 3m8 7l-1-10 3 3m-3-3l-2 4m-67-55l10 0-3 2m3-2l-4-3m3 3l10 0-3 2m3-2l-3-2m3-1l9 0-3 3m3-3l-3-2m-6 8l9 0-3 2m3-2l-3-2m3-4l9 0-3 2m3-2l-3-2m-6 8l9 0-3 2m3-2l-3-3m55-88l-1 9-2-3m2 3l3-3m-2 3l0 9-3-3m3 3l2-3m-5 3l0 10-2-4m2 4l2-4m3-6l0 10-2-4m2 4l2-4m-7 3l0 10-2-3m2 3l2-4m3-6l0 10-2-4m2 4l2-3m84 54l-10 0 4-2m-4 2l4 2m-3-2l-10 0 3-2m-3 2l4 3m-3-6l-10 0 3-2m-3 2l3 2m7 4l-10-1 3-2m-3 2l3 3m-3-8l-9 0 3-2m-3 2l3 2m6 4l-9 0 3-2m-3 2l3 2m-54 83l0-9 2 3m-2-3l-2 3m2-3l0-9 2 3m-2-3l-3 3m0-3l0-10 2 4m-2-4l-2 4m7 6l0-10 3 4m-3-4l-2 4m-3-3l0-10 2 4m-2-4l-2 3m7 7l0-10 2 3m-2-3l-2 4m-89-33l10-1-3 3m3-3l-4-2m3 3l10 0-3 2m3-2l-3-3m3 0l9 0-3 2m3-2l-3-2m-6 8l9-1-3 3m3-3l-3-2m3-3l9 0-3 2m3-2l-3-2m-6 8l9 0-3 2m3-2l-3-3m76-110l0 9-2-3m2 3l3-3m-3 3l0 9-2-3m2 3l2-3m-4 3l-1 10-2-4m2 4l3-4m3-6l0 10-2-4m2 4l2-4m-7 3l-1 10-2-4m2 4l3-3m3-7l1 10-3-3m3 3l2-4m61 77l-10-1 4-2m-4 2l4 3m-3-2l-10 0 4-3m-4 3l3 2m-2-5l-10 0 3-2m-3 2l3 2m7 4l-10-1 3-2m-3 2l3 3m-3-8l-9-1 3-2m-3 2l3 3m6 4l-9-1 3-2m-3 2l3 3m-33 61l0-9 2 3m-2-3l-2 3m2-3l0-9 2 3m-2-3l-2 3m0-3l0-10 2 4m-2-4l-3 4m8 6l0-10 2 4m-2-4l-2 4m-3-3l-1-10 3 3m-3-3l-2 4m8 6l0-10 2 4m-2-4l-2 3m-92-12l9 0-3 2m3-2l-3-3m3 3l9 0-3 2m3-2l-3-2m96-110l0 10-2-4m2 4l2-4m-2 3l0 10-2-4m2 4l2-3m27 96l-10 0 3-3m-3 3l3 2m-3-2l-9 0 3-2m-3 2l3 2m-13 26l0-10 3 4m-3-4l-2 4m2-3l1-10 2 4m-2-4l-3 3m-113 9l10 0-3 3m3-3l-3-2m130-134l0 9-2-3m2 3l2-3m8 130l-10 0 4-2m-4 2l3 3m-3 7l0-9 2 3m-2-3l-2 3" stroke="#62b4ec" stroke-opacity="0.62" stroke-width="1.4"/>
<path d="M797 190l11 0-2 1m2-1l-2-1m3-11l-1 11 0-2m0 2l1-2m-14 0l11-2-2 2m2-2l-2 0m-1-5l-3 11 0-2m0 2l2-2m-16 0l11-1-1 1m1-1l-2-1m8-12l-3 10-1-2m1 2l1-1m-17 0l11 0-2 1m2-1l-2-1m4-11l-1 11-1-2m1 2l1-2m-16 3l11-3-2 1m2-1l-2-1m6-14l-1 11 0-2m0 2l1-2m-15 0l11-1-2 1m2-1l-2-1m1-8l-1 11-1-2m1 2l1-2m-13 1l8-1-1 1m1-1l-2-1m6-8l-3 8 0-2m0 2l2-2m-14 2l8-2-2 1m2-1l-2-1m5-8l-2 8 0-2m0 2l1-2m-10-3l8-1-2 2m2-2l-2 0m2-6l-2 8 0-2m0 2l2-1m27 108l-1-11 1 1m-1-1l-1 1m-12-4l11 0-2 1m2-1l-2-1m-1 15l-1-11 1 2m-1-2l0 2m-13-4l11 0-1 1m1-1l-1-1m4 19l-2-11 1 2m-1-2l-1 2m-11-6l11 3-2 0m2 0l-2-1m2 17l-2-11 2 1m-2-1l0 2m-13-6l11 2-1 0m1 0l-1-1m2 17l-2-11 2 2m-2-2l0 2m-15-7l11 0-2 1m2-1l-2-1m3 20l0-11 1 1m-1-1l-1 1m-15-7l11 1-2 1m2-1l-2-1m2 13l-2-8 2 2m-2-2l0 2m-5 0l8 1-2 1m2-1l-2-1m-1 11l-1-8 1 1m-1-1l-1 2m-5-2l7 2-1 0m1 0l-1-2m-2 12l-1-8 1 1m-1-1l-1 2m-7-4l8 1-2 1m2-1l-2-1m93-103l0 11-1-2m1 2l1-2m9 2l-11-1 2-1m-2 1l1 1m4-13l0 11-1-1m1 1l1-2m9 4l-11-3 2 0m-2 0l2 1m0-13l3 11-1-2m1 2l0-2m7-2l-11-1 1-1m-1 1l1 1m0-14l2 11-1-2m1 2l1-2m11 3l-11-1 1-1m-1 1l1 1m4-12l1 11-1-2m1 2l1-2m6 0l-10-1 1-1m-1 1l1 1m1-14l2 11-1-1m1 1l1-2m12 8l-10-3 2-1m-2 1l1 1m1-12l1 8-1-2m1 2l1-2m6 2l-8-1 2-1m-2 1l2 1m-2-16l0 8-1-1m1 1l1-1m9 6l-7-2 2 0m-2 0l1 2m-2-15l2 8-1-1m1 1l1-2m7 4l-8-2 2 0m-2 0l2 2m-12 88l-11 1 1-1m-1 1l2 1m-5 10l3-11 0 2m0-2l-2 2m16 1l-11 0 1-1m-1 1l2 1m-7 13l2-11 1 2m-1-2l-1 2m17-1l-11 1 1-1m-1 1l1 1m-6 13l1-11 1 2m-1-2l-1 2m16-3l-10 3 1-1m-1 1l2 0m-6 11l3-10 0 2m0-2l-2 1m17 0l-11 1 2-1m-2 1l2 1m0 6l1-10 1 1m-1-1l-1 1m11 5l-11 1 2-1m-2 1l2 0m-2 8l2-10 1 2m-1-2l-1 1m14-2l-8 2 2-1m-2 1l2 0m-3 9l1-8 0 1m0-1l-1 1m9 2l-7 2 1-2m-1 2l2 0m-3 6l2-8 1 2m-1-2l-1 2m9 2l-8 2 2-1m-2 1l2 1m-1 5l1-8 1 2m-1-2l-1 2" stroke="#62b4ec" stroke-opacity="0.3" stroke-width="1.4"/>
<path d="M858 231l-11-3 3-1m-3 1l2 2m10-3l-11-3 3-1m-3 1l2 2m18 7l-11-1 3-2m-3 2l2 1m10-4l-11-2 3-1m-3 1l2 1m18 7l-10-3 2-1m-2 1l2 2m9-3l-11-3 3-1m-3 1l2 2m18 7l-10-1 2-1m-2 1l2 1m9-4l-11-2 3-1m-3 1l3 2m18 6l-11-2 2-1m-2 1l2 2m9-4l-10-3 2 0m-2 0l2 2m-37 3l-9-6 3 0m-3 0l1 2m11 1l-10-6 3 0m-3 0l2 3m14 12l-10-6 3 1m-3-1l2 3m10 0l-9-7 3 1m-3-1l1 3m15 13l-10-6 3 0m-3 0l2 2m10 0l-9-6 3 0m-3 0l1 2m14 14l-9-6 2 0m-2 0l1 3m10-1l-9-5 3 0m-3 0l1 2m15 12l-10-5 3 0m-3 0l2 2m10 0l-9-6 3 0m-3 0l1 2m15 13l-9-6 2 0m-2 0l1 2m10 1l-9-7 3 0m-3 0l1 2m-44-16l-6-9 3 1m-3-1l0 3m10 4l-5-10 2 2m-2-2l0 3m7 18l-5-10 2 1m-2-1l0 3m9 4l-7-8 3 1m-3-1l0 2m9 17l-7-9 3 2m-3-2l1 3m9 4l-6-9 3 1m-3-1l1 3m8 17l-6-9 2 1m-2-1l0 2m9 5l-6-9 2 1m-2-1l0 2m9 17l-6-9 2 1m-2-1l0 3m9 4l-7-8 3 1m-3-1l1 2m8 17l-5-9 2 1m-2-1l0 2m9 5l-6-9 2 1m-2-1l0 3m-34-33l-1-11 1 2m-1-2l-1 3m6 7l-1-11 1 3m-1-3l-1 3m0 19l-2-11 2 3m-2-3l-1 3m7 7l-2-10 2 2m-2-2l-1 2m1 19l-3-10 2 2m-2-2l0 3m7 7l-1-11 1 2m-1-2l-1 2m0 20l-1-11 1 2m-1-2l-1 2m6 8l-1-11 2 2m-2-2l-1 3m0 19l-1-11 2 2m-2-2l-1 2m6 8l-2-11 2 2m-2-2l-1 3m-16-33l3-10 1 2m-1-2l-2 2m3 9l3-11 1 3m-1-3l-2 2m-7 18l2-10 1 2m-1-2l-2 2m4 9l2-11 1 3m-1-3l-2 3m-6 18l2-11 1 3m-1-3l-2 2m4 9l1-11 1 3m-1-3l-2 3m-5 18l2-11 1 3m-1-3l-2 2m4 10l1-11 1 2m-1-2l-1 2m-6 18l2-11 1 3m-1-3l-2 2m4 10l2-11 1 3m-1-3l-2 2m-3-36l6-10 0 3m0-3l-2 2m0 10l5-10 0 3m0-3l-2 2m-12 14l5-9 0 2m0-2l-3 1m1 11l7-9-1 3m1-3l-3 1m-13 14l5-10 0 3m0-3l-2 2m0 10l7-9-1 3m1-3l-3 2m-13 14l6-10 0 3m0-3l-3 2m0 10l6-10 0 3m0-3l-3 2m-12 14l6-9 0 3m0-3l-2 1m0 10l7-8-1 3m1-3l-3 1m-14 14l6-9 0 2m0-2l-2 1m0 10l5-9 0 2m0-2l-2 1m18-43l9-5-1 2m1-2l-3 0m-4 8l9-5-1 2m1-2l-2 0m-18 8l9-7-1 3m1-3l-3 1m-4 9l10-5-2 2m2-2l-3 0m-18 7l9-6-1 2m1-2l-3 0m-3 10l9-6-1 2m1-2l-3 0m-17 8l9-5-1 2m1-2l-3 0m-4 9l9-7-2 2m2-2l-3 0m-17 9l9-7-1 3m1-3l-3 1m-4 9l10-5-2 2m2-2l-3 0m-18 8l10-6-1 3m1-3l-3 0m-4 9l9-5-1 2m1-2l-3 0m33-34l10-3-2 2m2-2l-2-1m-8 8l11-2-2 1m2-1l-3-1m-19 1l11-1-2 1m2-1l-2-2m-8 7l11-2-2 2m2-2l-3-1m-19 1l11-3-2 2m2-2l-3-1m-7 8l11-2-2 2m2-2l-3-1m-19 1l11-3-2 2m2-2l-3-1m-7 8l11-1-3 1m3-1l-3-2m-19 1l11-2-3 2m3-2l-3-1m-7 7l10-2-2 2m2-2l-2-1m32-17l11 2-2 1m2-1l-2-2m-9 4l10 2-2 1m2-1l-2-1m-18-7l11 3-3 0m3 0l-2-2m-10 3l11 2-2 1m2-1l-2-2m-18-6l11 3-3 1m3-1l-2-2m-10 3l11 2-3 1m3-1l-2-2m-18-6l11 2-3 1m3-1l-3-2m-9 4l11 3-3 1m3-1l-2-2m-18-7l10 2-2 1m2-1l-2-2m-9 4l11 2-3 1m3-1l-3-2m37-2l9 6-3 0m3 0l-1-3m-10 0l9 6-3 0m3 0l-1-3m-15-12l9 7-3-1m3 1l-1-3m-10-1l9 6-2 0m2 0l-1-2m-14-13l9 6-3 0m3 0l-2-2m-10 0l10 6-3-1m3 1l-2-3m-14-13l9 7-3 0m3 0l-2-2m-9-1l9 6-3 0m3 0l-2-2m-14-13l10 5-3 0m3 0l-2-2m-10 0l9 7-3-1m3 1l-1-3m-14-13l9 6-3 0m3 0l-2-2m-10-1l10 6-3 0m3 0l-2-2m44 17l5 9-2-1m2 1l0-2m-9-5l6 10-2-2m2 2l0-3m-8-18l5 10-2-1m2 1l0-3m-8-4l6 8-2-1m2 1l0-2m-9-17l6 9-2-1m2 1l0-3m-9-4l6 9-2-1m2 1l0-3m-9-17l6 10-3-2m3 2l0-3m-9-5l5 10-2-1m2 1l0-3m-7-17l6 9-3-2m3 2l-1-3m-9-4l7 8-3-1m3 1l0-2m-9-17l6 9-2-1m2 1l0-3m-10-4l7 9-2-1m2 1l0-3m33 33l2 11-1-2m1 2l1-3m-7-7l2 10-2-2m2 2l1-2m-1-19l2 11-2-3m2 3l1-3m-7-7l2 10-2-2m2 2l1-2m-1-19l1 11-2-3m2 3l1-3m-6-8l2 11-2-2m2 2l1-3m-1-19l1 11-2-2m2 2l1-2m-6-8l2 11-2-2m2 2l1-3m-1-19l3 11-2-2m2 2l0-3m-7-7l2 11-2-2m2 2l1-3m16 33l-2 10-1-2m1 2l1-2m-3-9l-2 11-1-3m1 3l2-2m6-18l-2 10-1-2m1 2l2-2m-4-9l-1 11-1-3m1 3l2-3m5-18l-2 11-1-3m1 3l2-2m-4-9l-2 10-1-2m1 2l2-2m6-18l-1 11-1-3m1 3l2-2m-5-10l-1 11-1-2m1 2l2-2m5-18l-2 11-1-3m1 3l2-2m-4-10l-2 11 0-3m0 3l2-2m3 36l-6 10 0-3m0 3l3-2m-1-10l-5 10 0-3m0 3l2-2m13-14l-7 8 0-3m0 3l2-1m1-10l-6 9 0-2m0 2l2-1m13-14l-6 9 0-3m0 3l2-1m1-10l-6 9 0-3m0 3l3-1m12-15l-6 10 1-3m-1 3l3-2m0-10l-6 9 0-3m0 3l2-1m13-14l-6 9 0-3m0 3l2-1m1-10l-6 9 0-3m0 3l3-1m12-15l-7 9 1-3m-1 3l3-1m0-10l-6 9 1-3m-1 3l3-1m-17 43l-10 6 2-2m-2 2l3 0m4-9l-9 5 1-2m-1 2l3 0m17-8l-9 7 1-3m-1 3l3-1m4-9l-9 6 1-2m-1 2l3 0m17-8l-9 6 1-3m-1 3l3 0m4-10l-9 7 1-3m-1 3l3 0m16-9l-9 6 2-3m-2 3l3 0m4-10l-9 6 1-2m-1 2l3 0m17-8l-9 6 1-2m-1 2l3 0m4-9l-9 6 1-2m-1 2l3 0m17-9l-10 6 2-2m-2 2l3 0m5-9l-9 6 1-2m-1 2l2 0m-32 33l-11 3 2-2m-2 2l3 1m7-8l-11 3 2-2m-2 2l3 0m19-1l-11 3 2-2m-2 2l3 1m7-8l-11 3 2-2m-2 2l3 1m19-2l-11 2 2-2m-2 2l3 1m7-7l-10 3 2-2m-2 2l2 1m19-2l-11 2 3-2m-3 2l3 1m7-7l-10 2 2-1m-2 1l2 1m19-1l-10 2 2-2m-2 2l2 1m8-7l-11 3 2-2m-2 2l3 1" stroke="#62b4ec" stroke-opacity="0.7" stroke-width="1.4"/>
<path d="M782 184l11 0m-11 8l11 0m-1-8l10 0m-10 8l10 1m-3-26l-1 12m9-12l1 12m-9-1l0 10m7-10l0 10m92-4l-12 0m12 8l-12 0m1-8l-10 0m10 9l-10-1m-78 91l-1-12m9 12l0-12m-8 1l-1-10m9 10l0-10m-25-4l11 0m-11 8l11 0m-1-8l10-1m-10 8l10 0m71-98l0 12m8-12l0 12m-9-1l0 10m8-10l0 10m18 70l-12 0m12 8l-12-1m1-7l-10 0m10 8l-10-1m-5 18l1-12m8 12l0-12m-9 1l0-10m9 10l0-10" stroke="#7ee2ec" stroke-opacity="0.3375" stroke-width="1.4"/>
<path d="M782 195l11 0m-11 4l11 0m-1-4l12 0m-12 5l12 0m-1-4l9-1m-9 5l9 0m-2-33l0 12m4-12l-1 12m-3-1l0 11m4-11l0 11m-4 0l0 8m4-8l0 8m84-2l-12 1m12 3l-12 1m1-5l-12 0m12 5l-12 0m1-5l-8 0m8 4l-8 0m-58 84l0-12m4 12l0-12m-4 1l0-11m4 11l1-11m-5 0l0-8m4 8l0-8m-32-39l11-1m-11 5l11 0m-1-4l12 0m-12 4l12 0m-1-4l12-1m-12 5l12 0m-1-4l12 0m-12 3l12 1m-1-4l5 0m-5 4l5 0m-1-51l0 12m3-12l0 12m-3-1l0 11m3-11l1 11m-5 0l0 11m4-11l0 11m-4-1l0 12m4-12l1 12m-5-1l0 5m4-5l0 5m66-1l-12 1m12 3l-12-1m1-3l-12 1m12 3l-12 0m1-4l-12 0m12 4l-12 0m1-4l-11 0m11 4l-11 0m0-4l-5 0m5 4l-5 0m-21 65l0-12m5 12l-1-12m-4 1l0-11m4 11l0-11m-3 0l-1-11m4 11l0-11m-4 1l0-12m4 12l0-12m-4 1l0-5m4 5l0-5m-50-3l11 0m-11 4l11 0m-1-4l12 0m-12 4l12 0m-1-3l12 0m-12 3l12 0m-1-4l12 0m-12 4l12 0m-1-4l5 0m-5 4l5 0m17-69l0 12m4-12l0 12m-4-1l0 11m4-11l0 11m-4 0l0 11m4-11l-1 11m-4-1l1 12m4-12l0 12m-4-1l0 5m4-5l0 5m47 17l-12 0m12 4l-12 1m1-5l-12 0m12 4l-12 0m1-3l-12-1m12 4l-12-1m1-3l-11 0m11 4l-11 0m0-4l-5 0m5 4l-5 0m-3 47l1-12m4 12l1-12m-5 1l-1-11m5 11l0-11m-4 0l0-11m4 11l0-11m-4 1l0-12m3 12l1-12m-5 1l1-5m4 5l0-5m-69 16l11 0m-11 4l11 0m-1-4l12 0m-12 4l12-1m-1-3l9 0m-9 4l9 0m54-88l-1 12m4-12l0 12m-4-1l0 11m4-11l0 11m-4 0l0 8m4-8l0 8m29 54l-12 0m12 3l-12 0m1-3l-12 0m12 4l-12 0m1-4l-8 0m8 4l-8 0m-3 28l0-12m4 12l1-12m-5 1l0-11m4 11l0-11m-4 0l0-8m4 8l0-8" stroke="#7ee2ec" stroke-opacity="0.27" stroke-width="1.4"/>
<path d="M782 198l11 0m-1 0l12 0m-1 0l9 0m0-31l-1 12m1-1l0 11m0 0l0 8m86 1l-12 0m1 0l-12 0m1-1l-8 0m-56 86l0-12m0 1l0-11m0 0l0-8m-30-37l11-1m-1 1l12 0m-1 0l12 0m-1 0l12 0m-1 0l5 0m0-49l0 12m0-1l0 11m1 0l0 11m-1-1l0 12m1-1l0 5m67 1l-12 0m1-1l-12 0m1 1l-12 0m1 0l-11 0m0 0l-5 0m-18 67l-1-12m0 1l0-11m0 0l0-11m0 1l0-12m0 1l1-5m-49 0l11 0m-1-1l12 0m-1 0l12 0m-1 0l12 0m-1 0l5 0m18-67l1 12m0-1l0 11m0 0l0 11m0-1l0 12m-1-1l0 5m50 19l-12 0m1 0l-12 1m1-1l-12 1m1-1l-11 0m0 0l-5 1m0 48l0-12m0 1l0-11m0 0l-1-11m1 1l0-12m0 1l0-5m-67 18l11-1m-1 1l12-1m-1 1l9 0m55-86l0 12m0-1l0 11m0 0l0 8m31 56l-12-1m1 1l-12-1m1 1l-8 0m-1 30l0-12m0 1l0-11m0 0l0-8" stroke="#30d6e6" stroke-opacity="0.27" stroke-width="1.4"/>
<path d="M782 203l11-1m-11 8l11 0m-1-8l12 0m-12 9l12 0m-1-8l12 0m-12 8l12-1m-1-8l7 0m-7 9l7 0m-4-44l0 12m8-12l0 12m-8-1l0 11m8-11l1 11m-9 0l0 11m8-11l0 11m-8-1l0 7m8-7l0 7m73-3l-12 0m12 8l-12-1m1-7l-12 0m12 8l-12 0m1-8l-12 0m12 8l-12-1m1-8l-7 0m7 9l-7 0m-41 72l0-12m8 12l0-12m-8 1l0-11m9 11l-1-11m-8 0l0-11m8 11l0-11m-8 1l0-7m8 7l0-7m-43-23l11 0m-11 8l11 0m-1-8l12 1m-12 7l12 1m-1-9l12 0m-12 8l12 0m-1-8l12 0m-12 8l12 0m-1-8l10 0m-10 8l10 0m1-62l0 12m8-12l0 12m-9-1l0 11m9-11l-1 11m-7 0l0 11m8-11l-1 11m-7-1l0 12m8-12l0 12m-9-1l0 11m9-11l0 11m54 0l-12 0m12 8l-12 0m1-8l-12 1m12 7l-12 1m1-9l-12 0m12 8l-12 0m1-8l-11 0m11 8l-11 0m0-8l-10 0m10 8l-10 0m-9 54l1-12m7 12l0-12m-7 1l-1-11m9 11l0-11m-8 0l0-11m7 11l1-11m-8 1l0-12m7 12l0-12m-8 1l1-11m8 11l0-11m-62 10l11 0m-11 9l11 0m-1-8l12 0m-12 8l12 0m-1-9l12 0m-12 8l12 1m-1-9l7 0m-7 8l7 0m33-80l0 12m8-12l1 12m-9-1l0 11m8-11l0 11m-8 0l0 11m8-11l0 11m-8-1l0 7m8-7l0 7m36 33l-12 0m12 9l-12-1m1-8l-12 0m12 8l-12 0m1-8l-12 1m12 7l-12 1m1-8l-7 0m7 7l-7 1m-4 35l0-12m8 12l0-12m-8 1l0-11m8 11l0-11m-8 0l0-11m8 11l1-11m-9 1l0-7m8 7l0-7" stroke="#30d6e6" stroke-opacity="0.405" stroke-width="1.4"/>
<path d="M770 203l9 0-3 3m3-3l-3-2m3 2l9 0-3 2m3-2l-3-2m33-46l0 10-2-4m2 4l2-4m-2 3l0 10-2-3m2 3l2-4m90 33l-10 1 3-3m-3 3l3 2m-3-3l-9 1 3-3m-3 3l3 2m-76 89l0-10 2 4m-2-4l-2 4m2-3l0-10 2 3m-2-3l-2 4m-46-55l9 0-3 2m3-2l-3-2m3 2l9 0-3 2m3-2l-3-2m55-68l0 10-3-4m3 4l2-4m-2 3l-1 10-2-4m2 4l3-3m68 54l-10 0 3-2m-3 2l3 2m-3-2l-9 0 3-2m-3 2l3 2m-54 68l0-10 2 4m-2-4l-3 4m3-3l0-10 2 4m-2-4l-2 3m-68-32l9 0-3 2m3-2l-3-3m3 3l9 0-3 2m3-2l-3-2m76-90l0 10-2-4m2 4l3-4m-3 3l0 10-2-4m2 4l2-3m47 76l-10 0 3-3m-3 3l3 2m-3-2l-9-1 3-2m-3 2l3 3m-33 46l1-10 2 4m-2-4l-3 4m2-3l0-10 3 3m-3-3l-2 4" stroke="#30d6e6" stroke-opacity="0.62" stroke-width="1.4"/>
<path d="M823 221l11-1-2 1m2-1l-2-1m7-13l-2 11-1-2m1 2l1-2m-18 3l11-2-2 2m2-2l-2 0m2-9l-2 11 0-2m0 2l2-2m-15 1l11-3-2 1m2-1l-2 0m3-9l-2 10-1-2m1 2l1-1m-12-3l10-2-1 2m1-2l-2 0m6-12l-2 11-1-2m1 2l1-1m-17 0l11-1-1 1m1-1l-1-1m2-7l-3 11-1-2m1 2l1-2m-11-5l11-1-2 1m2-1l-2-1m5-10l-3 11 0-2m0 2l2-2m-20 5l11-2-1 1m1-1l-2-1m2-9l-1 11-1-2m1 2l1-2m-15-1l11-1-1 1m1-1l-1 0m3-11l-2 11 0-2m0 2l2-1m-13-4l11 0-2 1m2-1l-2-1m2-8l-2 11-1-2m1 2l1-2m26 46l-3-11 2 1m-2-1l0 2m-12-5l11 2-2 1m2-1l-1-1m4 19l-2-11 1 1m-1-1l-1 2m-10-5l11 3-2 0m2 0l-2-2m3 17l-3-11 2 2m-2-2l0 2m-10-4l10 3-2 0m2 0l-1-2m-6 11l0-11 1 2m-1-2l-1 2m-10-2l11 1-1 1m1-1l-1-1m6 19l-4-11 2 1m-2-1l0 2m-12-5l11 2-2 0m2 0l-1-2m-3 13l-2-11 1 1m-1-1l-1 2m-8-4l11 3-2 1m2-1l-2-1m0 16l-1-11 1 1m-1-1l-1 2m-11-4l11 1-2 1m2-1l-1-1m-3 13l-1-11 1 2m-1-2l-1 2m-8-2l11 2-2 1m2-1l-1-1m2 18l-1-11 1 2m-1-2l-1 2m-13-5l11 0-2 1m2-1l-2-1m37-45l2 11-1-1m1 1l1-2m10 5l-10-2 2-1m-2 1l1 1m1-16l0 11-1-1m1 1l1-1m7 0l-11-2 2 0m-2 0l2 1m2-13l1 11-1-2m1 2l1-2m12 5l-11-1 2-1m-2 1l2 1m-4-18l2 11-1-2m1 2l1-2m13 5l-11-1 2-1m-2 1l2 1m-5-18l2 11-1-2m1 2l1-2m9 3l-10-2 2-1m-2 1l1 1m1-13l3 11-1-1m1 1l0-2m10 4l-11-3 2-1m-2 1l1 1m2-15l0 11-1-2m1 2l1-2m14 10l-10-3 2-1m-2 1l1 1m-5-19l3 10-2-1m2 1l0-2m13 7l-10-2 2 0m-2 0l1 1m-2-16l2 11-1-2m1 2l1-2m13 5l-11-1 2-1m-2 1l2 1m-18 31l-11 1 2-1m-2 1l2 1m-5 13l0-11 1 1m-1-1l-1 1m14 2l-11 1 2-1m-2 1l2 1m-1 6l3-10 0 2m0-2l-2 1m12 5l-11 0 2-1m-2 1l2 1m-2 9l1-11 1 2m-1-2l-1 2m19-2l-11 0 1-1m-1 1l1 1m-7 13l2-11 1 2m-1-2l-1 2m17-2l-10 1 1-1m-1 1l1 1m-2 10l1-11 1 2m-1-2l-1 1m16-2l-11 3 2-2m-2 2l2 0m-6 12l3-11 0 2m0-2l-2 2m13 0l-10 3 1-1m-1 1l2 1m-4 11l1-11 1 2m-1-2l-1 2m18-4l-11 2 2-1m-2 1l2 1m-2 8l2-11 1 2m-1-2l-1 2m14 2l-11 1 2-1m-2 1l2 0m-9 13l4-10 0 2m0-2l-2 1" stroke="#30d6e6" stroke-opacity="0.3" stroke-width="1.4"/>
<path d="M858 229l-10-3 2-1m-2 1l2 2m18 3l-10-3 2-1m-2 1l2 2m19 3l-11-2 2-1m-2 1l2 2m19 2l-11-2 3-1m-3 1l2 2m19 2l-11-3 3-1m-3 1l2 2m-35 0l-9-7 3 1m-3-1l2 3m16 9l-9-7 3 1m-3-1l2 3m16 10l-9-7 3 1m-3-1l1 3m16 10l-8-7 3 0m-3 0l1 2m16 11l-9-7 3 1m-3-1l1 3m17 9l-9-7 3 1m-3-1l1 3m-41-19l-6-9 2 1m-2-1l0 3m12 14l-6-9 2 2m-2-2l0 3m12 15l-7-9 2 2m-2-2l0 3m12 15l-6-9 3 1m-3-1l0 3m12 14l-5-9 2 1m-2-1l0 3m11 15l-7-9 3 2m-3-2l1 3m-30-34l-1-11 1 2m-1-2l-1 2m4 19l-1-11 2 2m-2-2l-1 2m4 19l-2-11 2 2m-2-2l-1 3m5 18l-2-11 2 3m-2-3l0 3m4 18l-2-10 2 2m-2-2l-1 2m-12-32l2-11 1 3m-1-3l-2 2m-2 19l3-11 1 3m-1-3l-2 2m-3 19l3-11 0 3m0-3l-2 2m-3 19l2-10 1 2m-1-2l-1 2m-3 18l1-11 1 3m-1-3l-2 3m2-35l6-9 0 2m0-2l-2 1m-10 16l7-8-1 2m1-2l-3 1m-10 16l7-9 0 3m0-3l-3 1m-9 17l6-10-1 3m1-3l-3 2m-9 16l7-8-1 2m1-2l-3 1m-10 16l7-9-1 3m1-3l-3 1m20-40l9-6-1 2m1-2l-3 0m-15 11l9-6-1 2m1-2l-3 0m-14 12l9-6-2 3m2-3l-3 0m-15 12l8-7-1 3m1-3l-2 0m-15 13l9-7-1 2m1-2l-3 0m-14 12l9-6-2 3m2-3l-3 0m34-29l11-2-2 1m2-1l-3-1m-18 5l11-1-3 1m3-1l-3-2m-18 5l10-3-2 2m2-2l-3-1m-18 6l11-2-2 1m2-1l-3-1m-18 5l11-2-2 2m2-2l-3-1m33-13l11 1-3 2m3-2l-2-1m-19-2l11 2-3 1m3-1l-3-2m-18-2l10 2-2 1m2-1l-2-2m-19-2l11 2-3 1m3-1l-2-1m-19-3l11 3-3 1m3-1l-2-2m35 0l9 6-3 0m3 0l-1-2m-17-9l9 6-2-1m2 1l-1-3m-16-9l9 6-3 0m3 0l-2-2m-16-10l9 7-3-1m3 1l-1-3m-17-10l10 6-3 0m3 0l-2-3m-16-8l9 6-3-1m3 1l-2-3m41 20l6 9-2-1m2 1l0-3m-12-14l6 9-2-1m2 1l0-3m-12-15l7 9-2-2m2 2l0-3m-12-15l5 10-2-2m2 2l0-3m-11-15l7 8-3-1m3 1l-1-3m-12-14l5 10-2-2m2 2l0-3m31 33l3 11-2-2m2 2l0-3m-5-18l1 11-1-2m1 2l1-3m-4-18l1 11-1-2m1 2l1-3m-4-18l2 11-2-3m2 3l1-3m-5-18l2 10-2-2m2 2l1-2m12 32l-2 11-1-3m1 3l2-2m2-19l-2 11-1-3m1 3l2-2m2-19l-2 11-1-3m1 3l2-2m2-19l-1 11-1-3m1 3l1-3m2-18l-2 10-1-2m1 2l2-2m-1 35l-7 9 1-3m-1 3l3-1m10-16l-5 9 0-3m0 3l2-1m9-17l-7 9 1-3m-1 3l3-1m9-17l-6 9 0-3m0 3l2-1m10-16l-5 9 0-3m0 3l2-1m9-17l-6 9 0-3m0 3l2-1m-20 40l-8 7 1-2m-1 2l2 0m15-12l-9 6 1-3m-1 3l3-1m15-11l-10 6 2-3m-2 3l3-1m15-11l-9 6 2-2m-2 2l3 0m15-12l-10 6 2-3m-2 3l3 0m16-11l-10 5 2-2m-2 2l3 0m-34 30l-11 1 3-1m-3 1l3 1m18-4l-10 3 2-2m-2 2l2 0m19-5l-11 3 2-2m-2 2l3 0m18-5l-11 3 2-2m-2 2l3 1m18-6l-11 2 2-1m-2 1l3 1" stroke="#30d6e6" stroke-opacity="0.7" stroke-width="1.4"/>
<path d="M802 194l10 4-2 0m2 0l-1-2m-7-3l10 2-2 1m2-1l-1-1m-5-7l5 9-1-1m1 1l0-2m0-9l1 11-1-2m1 2l1-2m-18-2l10 4-2 0m2 0l-1-1m-8-1l11 1-2 0m2 0l-2-1m-1-12l5 10-1-1m1 1l0-2m-4-6l2 10-1-1m1 1l1-1m-12-8l10 5-2 0m2 0l-2-2m-10 1l11 1-2 1m2-1l-2-1m-5-6l4 10-1-1m1 1l1-2m-1-11l3 11-2-2m2 2l0-2m-13-7l9 6-2 0m2 0l-1-2m-10 2l11 0-2 1m2-1l-2-1m-5-6l4 10-2-1m2 1l0-2m-1-9l1 11-1-2m1 2l1-2m-13-6l10 4-2 0m2 0l-1-2m-9 0l11 1-2 1m2-1l-2-1m-2-10l5 9-1-1m1 1l0-2m-1-10l3 11-1-2m1 2l1-2m-15-5l11 4-2 0m2 0l-2-2m-12 5l11 0-2 1m2-1l-2-1m-5-7l6 9-2-1m2 1l0-2m0-11l1 11-1-1m1 1l1-2m-12-7l11 3-2 1m2-1l-1-1m-10-1l11 2-2 1m2-1l-1-1m-9-4l5 10-1-1m1 1l0-2m4-13l0 11-1-1m1 1l1-1m-15-5l11 3-2 1m2-1l-2-1m-9-1l10 3-2 0m2 0l-1-2m-4-6l3 10-1-1m1 1l1-2m-4-8l3 10-2-1m2 1l0-2m17 86l5-10 0 2m0-2l-2 1m0 10l2-10 1 2m-1-2l-1 1m-8 4l9-6-1 2m1-2l-2 0m-9 1l11-1-2 1m2-1l-2-1m-5 14l4-10 0 2m0-2l-2 1m-1 9l2-11 0 2m0-2l-2 2m-5 7l10-6-1 2m1-2l-2 0m-11 1l11-2-1 1m1-1l-2-1m-8 11l5-9 0 2m0-2l-2 1m1 11l3-11 0 2m0-2l-2 2m-6 6l10-6-1 2m1-2l-2 0m-8 4l11-2-2 1m2-1l-2-1m-6 14l5-10 0 2m0-2l-1 1m1 11l1-11 1 2m-1-2l-1 2m-10 2l10-5-1 1m1-1l-2 0m-13-2l11-2-2 1m2-1l-2-1m-3 17l5-10 0 2m0-2l-1 2m-5 6l3-11 1 2m-1-2l-1 2m-10 2l11-4-2 1m2-1l-2-1m-8 4l11-2-2 1m2-1l-2-1m-2 18l4-10 0 2m0-2l-1 1m-3 6l1-11 1 2m-1-2l-1 2m-7 6l10-6-1 2m1-2l-2 0m-11-2l11 0-2 1m2-1l-2-1m-4 17l6-10 0 2m0-2l-2 1m-2 8l1-11 1 2m-1-2l-1 2m-7 5l10-5-1 1m1-1l-2-1m-11-1l11 0-1 1m1-1l-1-1m-5 16l6-10 0 2m0-2l-2 1m1 10l1-11 1 2m-1-2l-1 2m-12 0l10-4-1 2m1-2l-2 0m-10 0l11-2-2 2m2-2l-2 0m87-82l-5 10 0-2m0 2l2-1m-4-15l-3 11 0-2m0 2l1-2m13 2l-10 3 1-1m-1 1l2 1m8-3l-11 2 2-1m-2 1l2 1m4-16l-3 11-1-2m1 2l1-2m4-6l-2 11-1-2m1 2l1-1m4-8l-10 5 1-2m-1 2l2 0m8-3l-10 2 1-1m-1 1l1 1m9-12l-5 10 0-2m0 2l2-1m0-8l0 11-1-2m1 2l1-2m6-6l-10 5 1-2m-1 2l2 0m10-1l-11 2 2-1m-2 1l2 1m8-12l-5 10 0-2m0 2l2-1m-4-12l0 11-1-2m1 2l1-2m8-3l-10 4 2-1m-2 1l2 0m8-2l-11 1 2-1m-2 1l2 1m6-14l-6 9 1-2m-1 2l2-1m0-9l0 11-1-1m1 1l1-1m10-2l-10 4 1-1m-1 1l2 0m11 2l-11 0 2-1m-2 1l2 1m7-13l-6 10 0-2m0 2l2-1m-2-12l-2 10-1-2m1 2l1-1m10-1l-10 4 1-2m-1 2l2 0m6-6l-11 2 1-1m-1 1l2 1m9-11l-5 10 0-2m0 2l1-1m1-7l0 11-1-2m1 2l1-2m8-4l-11 3 2-1m-2 1l2 1m6-5l-11 1 1-1m-1 1l2 1m10-9l-4 10 0-2m0 2l2-1m-1-11l-2 11-1-2m1 2l1-2m4-8l-9 6 1-2m-1 2l2 0m15 6l-11 0 2-1m-2 1l2 1m-18 78l-10-4 2-1m-2 1l1 1m11-1l-11-1 2-1m-2 1l2 1m-1 11l-3-10 1 1m-1-1l-1 2m9 3l-3-11 1 2m-1-2l0 2m13 6l-11-3 2-1m-2 1l2 1m7 1l-10-1 1-1m-1 1l1 1m3 10l-5-10 1 1m-1-1l0 2m5 5l-2-10 1 1m-1-1l0 1m9 11l-9-6 2 0m-2 0l1 2m9 1l-11-2 2-1m-2 1l2 1m3 9l-6-10 2 1m-2-1l1 2m2 7l0-11 1 2m-1-2l-1 2m15 5l-10-5 2 0m-2 0l1 2m10 1l-11-3 2 0m-2 0l1 1m1 12l-5-10 2 1m-2-1l0 2m6 5l-2-11 1 2m-1-2l-1 2m9 11l-10-4 1 0m-1 0l1 1m11-2l-11 0 2-1m-2 1l2 1m8 4l-6-9 2 0m-2 0l0 2m1 8l-1-11 1 2m-1-2l-1 2m14 6l-11-4 2 0m-2 0l2 2m6 3l-11-1 2-1m-2 1l2 1m3 8l-4-11 2 2m-2-2l0 2m5 7l-3-11 2 2m-2-2l0 2m14 6l-9-6 2 0m-2 0l1 2m5 4l-11-1 2-1m-2 1l2 1m2 9l-4-10 1 1m-1-1l-1 2m5 5l0-11 1 2m-1-2l-1 2m12 6l-10-3 2 0m-2 0l1 2m10-2l-11 0 2-1m-2 1l2 1m6 6l-6-9 2 1m-2-1l0 2m1 9l-1-11 1 1m-1-1l-1 1" stroke="#2f74e6" stroke-opacity="0.3" stroke-width="1.4"/>
<path d="M803 188l6 7-3-1m3 1l-1-3m-11-10l5 7-2-1m2 1l0-3m-12-10l6 7-2-1m2 1l0-3m7 82l7-6-1 2m1-2l-3 0m-10 12l6-6-1 2m1-2l-3 0m-10 12l6-7 0 3m0-3l-2 1m82-80l-7 6 2-3m-2 3l3-1m11-11l-6 7 0-3m0 3l2-1m10-12l-6 6 0-2m0 2l2 0m-9 80l-6-6 2 0m-2 0l1 2m12 10l-7-7 3 1m-3-1l1 3m12 10l-7-6 3 1m-3-1l1 3" stroke="#2f74e6" stroke-opacity="0.3" stroke-width="1.6"/>
<path d="M827 212l10 4-2 1m2-1l-1-1m-16 6l11 1-1 1m1-1l-1-1m-3-9l5 9-2-1m2 1l0-2m4-12l0 11-1-2m1 2l1-2m-16-5l10 5-2 0m2 0l-1-1m-12 2l11 2-2 0m2 0l-2-2m-4-8l6 9-2-1m2 1l0-2m2-12l1 11-1-2m1 2l1-2m-14-6l9 6-2 0m2 0l-1-2m-8-2l11 2-2 1m2-1l-2-1m-6-6l5 10-2-1m2 1l0-2m-3-9l3 11-2-1m2 1l0-2m-13-6l9 5-2 0m2 0l-1-1m-5-4l10 1-1 1m1-1l-1-1m-6-6l4 11-1-2m1 2l0-2m1-12l2 11-2-2m2 2l0-2m-16-2l10 3-2 0m2 0l-1-1m-8-3l11 3-2 0m2 0l-2-2m-5-7l5 10-1-1m1 1l0-2m-2-8l2 11-2-2m2 2l0-2m-13-6l10 4-2 1m2-1l-1-1m-13 3l11 1-2 1m2-1l-1-1m-2-10l5 9-2-1m2 1l0-2m0-11l2 11-1-2m1 2l1-2m-18-2l10 5-2 0m2 0l-1-2m-6-5l11 3-2 0m2 0l-1-1m-3-10l5 10-2-1m2 1l0-2m-7-4l3 10-2-1m2 1l0-2m16 40l6-10 0 2m0-2l-2 1m-1 9l1-11 1 2m-1-2l-1 2m-6 5l10-5-2 2m2-2l-2 0m-8 2l11-1-2 1m2-1l-2-1m-10 11l6-9 0 2m0-2l-2 1m3 11l0-11 1 1m-1-1l-1 1m-7 6l9-6 0 2m0-2l-2 1m-14-5l11-1-1 1m1-1l-2-1m-2 18l4-10 1 2m-1-2l-1 1m-3 7l2-11 0 2m0-2l-2 1m-8 3l10-3-1 1m1-1l-2-1m-5 4l11 0-2 1m2-1l-2-1m-5 14l4-10 0 2m0-2l-2 2m-2 6l0-11 1 2m-1-2l-1 1m-9 2l10-3-1 1m1-1l-2-1m-8 4l11-3-2 1m2-1l-2-1m-6 15l6-10-1 2m1-2l-2 1m2 11l1-11 1 2m-1-2l-1 2m-12 0l10-5-1 2m1-2l-2 0m-9 1l11 0-1 1m1-1l-1-1m-3 16l3-10 0 2m0-2l-2 1m-4 6l3-11 0 2m0-2l-2 2m-5 6l9-5-1 2m1-2l-2 0m-9 0l11-1-2 2m2-2l-2 0m-7 13l5-10 0 2m0-2l-2 1m5 14l1-11 1 2m-1-2l-1 2m-12 0l10-5-1 1m1-1l-2 0m-7 5l11-3-2 1m2-1l-2-1m35-40l-3 11 0-2m0 2l1-1m0-10l-1 11-1-2m1 2l1-2m7-4l-9 5 1-2m-1 2l2 0m7-4l-10 3 1-2m-1 2l2 0m8-11l-5 9-1-2m1 2l1-1m1-8l-1 11-1-2m1 2l1-2m9-2l-10 4 2-1m-2 1l2 0m7-3l-11 0 1-1m-1 1l1 1m4-16l-4 10 0-2m0 2l1-1m1-9l-2 10-1-2m1 2l1-1m8-4l-10 5 1-2m-1 2l2 0m13 2l-10 2 1-1m-1 1l1 1m2-17l-3 11 0-2m0 2l2-2m2-7l-1 11-1-2m1 2l1-2m8-3l-10 4 1-1m-1 1l2 0m5-4l-11 0 2-1m-2 1l2 1m8-11l-4 10 0-2m0 2l2-1m3-7l-2 11-1-2m1 2l1-2m5-7l-10 6 1-2m-1 2l2 0m11-1l-10 3 1-1m-1 1l2 0m3-16l-5 10 0-2m0 2l2-1m2-8l-2 11-1-2m1 2l1-2m10-1l-10 4 2-1m-2 1l2 0m7-4l-11 2 2-1m-2 1l2 1m3-17l-5 10 0-2m0 2l2-1m2-7l-1 11-1-2m1 2l1-2m8-5l-10 6 1-2m-1 2l2 0m11 0l-11 2 1-2m-1 2l2 0m-13 34l-11-3 2-1m-2 1l2 1m14-4l-11-2 2-1m-2 1l1 1m5 8l-6-9 2 1m-2-1l0 2m1 10l-2-11 1 2m-1-2l-1 2m13 7l-10-5 2 0m-2 0l1 2m8 2l-11-2 2 0m-2 0l1 2m2 9l-4-10 2 1m-2-1l0 2m3 8l-2-10 1 1m-1-1l-1 1m18 3l-10-6 2 0m-2 0l1 2m8 2l-11-1 2-1m-2 1l1 1m5 7l-5-10 2 1m-2-1l0 2m3 8l-1-11 1 1m-1-1l-1 2m8 11l-10-5 2 0m-2 0l2 2m9 1l-11-3 2 0m-2 0l2 2m8 4l-6-9 2 1m-2-1l0 2m2 8l-2-11 2 2m-2-2l0 2m8 11l-9-5 2 0m-2 0l1 2m10-1l-11-1 2-1m-2 1l1 1m4 8l-3-11 1 2m-1-2l-1 2m0 11l-1-11 1 1m-1-1l-1 1m20 1l-10-5 2 0m-2 0l1 2m8 2l-10-3 2 0m-2 0l1 2m5 7l-5-10 1 1m-1-1l0 2m-4 15l-2-11 1 1m-1-1l0 2m13 5l-10-4 2 0m-2 0l1 2m16-8l-11 1 1-1m-1 1l1 0m-2 15l-5-10 2 1m-2-1l0 2m3 8l-2-11 1 2m-1-2l0 2" stroke="#1e8cf0" stroke-opacity="0.3" stroke-width="1.4"/>
<path d="M841 220l0 7-1-3m1 3l1-3m-3-1l1 4-1-2m1 2l0-2m-4 1l4-4-1 3m1-3l-2 1m6 1l-6-1 2-1m-2 1l2 2m3 1l-5-2 2 0m-2 0l2 2m-3-1l4-1-1 1m1-1l-1 0m-7 4l8-3-2 2m2-2l-2 0m-1 5l5-5-1 3m1-3l-3 1m-1 6l-3-8 2 2m-2-2l0 3m5-5l-2 4 0-2m0 2l2-1m2 0l-5 2 2-2m-2 2l3 0m-7-4l7-1-2 2m2-2l-2-1" stroke="#40e070" stroke-opacity="0.8" stroke-width="2"/></g></g>
<path d="M392.2 87.9V85.3H394M445.7 85.3H447.5V87.1M447.5 138.6V140.4H445.7M394 140.4H392.2V138.6" fill="none" stroke="#1a1a1a" stroke-width="1.6" stroke-linejoin="round"/>
<path d="M396.3 85.3H445.7M447.5 89.4V138.6M396.3 140.4H445.7M392.2 90.2V138.6" fill="none" stroke="#1a1a1a" stroke-width="1.6" stroke-dasharray="5.3 2.3"/>
<circle cx="121" cy="263" r="72" stroke="#a8a8a8" stroke-width="0.9" fill="none"/>
<circle cx="121" cy="263" r="66" stroke="#c4c4c4" stroke-width="0.8" fill="none"/>
<g fill="none" stroke-linecap="round" filter="url(#sf)"><g transform="scale(.5)"><path d="M311 556l11 4-3 0m3 0l-2-3m-8-3l11 4-3 0m3 0l-2-2m10 6l11 5-3 0m3 0l-2-3m-40 13l8 7-3-1m3 1l-1-3m-19 2l8 7-3 0m3 0l-1-3m-32 27l2 11-2-2m2 2l1-3m-56-9l-3 10 0-3m0 3l3-3m-7-29l-7 11 1-3m-1 3l3-1m-4-1l-5 11 0-3m0 3l2-1m-2 0l-7 10 1-3m-1 3l3-2m-13-46l-10 7 2-2m-2 2l3 0m8-6l-9 8 1-2m-1 2l3 0m-1-29l-10 5 2-2m-2 2l3 0m7-3l-10 3 2-2m-2 2l3 0m1-28l-13 1 3-2m-3 2l3 1m40-85l-6-9 3 1m-3-1l1 3m58-1l1-11 1 2m-1-2l-2 2m21 16l2-12 1 3m-1-3l-2 2m1-1l2-11 1 3m-1-3l-2 3m46 45l10-6-1 2m1-2l-3 0m-1 31l13-4-2 2m2-2l-3-1" stroke="#4a5ad0" stroke-opacity="0.8" stroke-width="1.3"/>
<path d="M155 531l-7 1 2-1m-2 1l3 1m6 3l-8 4 1-2m-1 2l2 0m12-3l-8-1m7 7l-9 0m16-60l-6-3m5 66l-8 1 2-2m-2 2l2 1m8 12l-7 5 1-2m-1 2l2 0m5 8l-8 1 2-2m-2 2l3 1m11-105l-8-5m9 14l-10-3m5 10l-8-4 2-1m-2 1l1 2m6 28l-7-6m11 10l-12-2 3-1m-3 1l2 2m9 9l-9 2m9 16l-5 6 1-3m-1 3l2-1m2 23l-4 7m12-96l-5-11m2 17l-6-4m8 69l-7 9m4 13l-5 7m17-97l-10-4m6 93l-9 5m11 6l-8 4m8-2l-6 11 0-3m0 3l2-2m5-20l-4 8m9 4l-7 7 1-2m-1 2l3-1m4 1l-6 4m8-22l-4 11 0-3m0 3l2-2m9-127l0-10m0 19l0-7 1 2m-1-2l-1 2m-1 119l-2 10-1-2m1 2l2-2m10-1l-7 9 0-3m0 3l2-1m8-141l-2-11m3 144l1 7-2-2m2 2l1-2m2 6l-4 6 1-2m-1 2l3-1m2 2l-3 9m8-11l-4 9 0-3m0 3l2-1m8-13l-4 8 0-3m0 3l2-2m1-3l3 11-2-2m2 2l1-3m1-152l0-10 1 2m-1-2l-1 2m2 150l4 8-2-2m2 2l0-3m-2 5l-6 9m13-170l1-8 1 2m-1-2l-2 2m7-5l-4-8 2 1m-2-1l0 2m18 166l4 6m-1-1l1 10m9-157l4-10 1 3m-1-3l-2 2m1 1l5-7 0 3m0-3l-2 1m1 138l4 11m-6 10l5 6-2-1m2 1l0-2m0-19l6 10m-8-6l8 9m0-13l7 7m-3-3l2 11m-2-133l7-5m-5 102l7 5m-6 5l7 4m-5-96l7-1-2 2m2-2l-2-1m-4 14l10-4m-5-18l12-3m-8 40l8-1m-12 61l8 4m2-66l8-4-2 2m2-2l-3 0m-9 42l9 1m-5 10l5 6-2-1m2 1l0-2m-7 5l8 3-2 1m2-1l-1-2m-3-49l12-1m-10 10l9 2-3 1m3-1l-2-2" stroke="#4a5ad0" stroke-opacity="0.9" stroke-width="1.2"/>
<path d="M110 504l-2-4m2 4l2-6m-2 6l4-2m-4 2l2 4m-2-4l-1 4m1-4l-4 1m7 19l-3-2m3 2l2-5m-2 5l4-1m-4 1l5 3m-5-3l-1 4m1-4l-4 1m3 24l-3-5m3 5l0-5m0 5l5-2m-5 2l5 2m-5-2l-1 3m1-3l-3 2m26-90l-1-5m1 5l3-3m-3 3l4 2m-4-2l2 5m-2-5l-3 2m3-2l-5 0m4 21l-2-6m2 6l5-4m-5 4l6 0m-6 0l1 5m-1-5l-4 4m4-4l-5-1m5 24l-2-5m2 5l3-6m-3 6l7-2m-7 2l5 4m-5-4l-2 5m2-5l-5 0m3 22l-4-3m4 3l2-5m-2 5l4-1m-4 1l5 5m-5-5l-1 5m1-5l-5 1m7 21l-5-4m5 4l1-6m-1 6l5-4m-5 4l6 2m-6-2l0 6m0-6l-4 2m6 18l-5-3m5 3l-2-7m2 7l3-3m-3 3l4 2m-4-2l2 6m-2-6l-5 2m0 21l-4-1m4 1l-1-5m1 5l3-4m-3 4l5 0m-5 0l1 5m-1-5l-3 2m28-154l-1-5m1 5l5-2m-5 2l4 3m-4-3l-1 6m1-6l-6 3m6-3l-5-5m6 27l0-7m0 7l3-4m-3 4l6 3m-6-3l2 6m-2-6l-4 2m4-2l-5-2m4 20l-2-4m2 4l3-4m-3 4l6 3m-6-3l1 5m-1-5l-4 6m4-6l-7-3m4 28l-3-5m3 5l3-5m-3 5l7 0m-7 0l4 5m-4-5l-2 5m2-5l-5-1m8 22l-3-4m3 4l1-7m-1 7l5-2m-5 2l4 3m-4-3l-2 5m2-5l-5 1m3 22l-6-2m6 2l0-5m0 5l6-2m-6 2l6 2m-6-2l0 6m0-6l-6 2m9 19l-5-3m5 3l-3-6m3 6l4-3m-4 3l5 1m-5-1l2 4m-2-4l-5 5m3 18l-6-1m6 1l-2-5m2 5l4-3m-4 3l5 2m-5-2l1 6m-1-6l-3 6m2 16l-6 1m6-1l-4-3m4 3l2-4m-2 4l5 0m-5 0l1 5m-1-5l-2 4m26-200l2-4m-2 4l4-2m-4 2l4 3m-4-3l0 3m0-3l-5 0m5 0l-2-5m1 26l2-4m-2 4l5-1m-5 1l5 5m-5-5l-1 5m1-5l-6 1m6-1l-4-3m3 22l0-5m0 5l5-2m-5 2l5 4m-5-4l0 5m0-5l-4 3m4-3l-5-4m5 138l-7-1m7 1l-3-6m3 6l4-6m-4 6l5 0m-5 0l2 6m-2-6l-3 4m6 17l-5 2m5-2l-3-5m3 5l1-5m-1 5l6 0m-6 0l3 4m-3-4l-2 6m-2 15l-3 2m3-2l-2-3m2 3l1-5m-1 5l5-1m-5 1l3 3m-3-3l-1 4m25-222l3-7m-3 7l6 0m-6 0l4 3m-4-3l-4 5m4-5l-6-1m6 1l-3-6m1 28l1-6m-1 6l6 0m-6 0l5 5m-5-5l0 5m0-5l-6 1m6-1l-4-4m8 180l-6 3m6-3l-6-4m6 4l2-5m-2 5l5-3m-5 3l3 3m-3-3l0 5m-4 17l-5 2m5-2l-4-5m4 5l1-5m-1 5l5-2m-5 2l4 2m-4-2l0 5m25-248l2-4m-2 4l5 1m-5-1l2 4m-2-4l-3 4m3-4l-5 0m5 0l-3-4m0 27l3-3m-3 3l6 1m-6-1l2 5m-2-5l-3 6m3-6l-6-1m6 1l-2-5m5 30l4-5m-4 5l5 0m-5 0l3 3m-3-3l-3 3m3-3l-7 1m7-1l-5-6m3 177l-5 3m5-3l-5-3m5 3l1-5m-1 5l5-4m-5 4l7 2m-7-2l1 4m-2 17l-5 2m5-2l-5-5m5 5l0-6m0 6l4-4m-4 4l5 2m-5-2l1 6m-2 14l-3 3m3-3l-3-2m3 2l1-4m-1 4l3-2m-3 2l5 1m-5-1l2 5m20-265l2-2m-2 2l5 1m-5-1l2 5m-2-5l-3 3m3-3l-6 0m6 0l-1-5m5 27l5-3m-5 3l5 2m-5-2l2 4m-2-4l-3 3m3-3l-5-2m5 2l-1-6m1 31l4-3m-4 3l5 1m-5-1l1 7m-1-7l-4 4m4-4l-5 0m5 0l-2-6m-1 179l-4 5m4-5l-5-2m5 2l-2-5m2 5l5-5m-5 5l5 0m-5 0l2 5m0 16l-3 6m3-6l-5-1m5 1l-1-6m1 6l4-4m-4 4l6 3m-6-3l1 7m-3 16l-3 3m3-3l-6-1m6 1l-2-3m2 3l4-3m-4 3l4 2m-4-2l0 5m21-269l4-3m-4 3l4 3m-4-3l1 4m-1-4l-4 2m4-2l-4-1m4 1l-1-5m5 28l5-4m-5 4l4 3m-4-3l0 6m0-6l-4 3m4-3l-6-2m6 2l1-7m-2 31l6-2m-6 2l5 4m-5-4l1 6m-1-6l-4 2m4-2l-4-3m4 3l0-6m1 180l-4 5m4-5l-5 0m5 0l-2-4m2 4l2-6m-2 6l6 0m-6 0l2 6m-5 12l-3 5m3-5l-5 0m5 0l-3-5m3 5l2-5m-2 5l6 1m-6-1l3 4m-3 19l-3 5m3-5l-5 1m5-1l-1-4m1 4l2-4m-2 4l5 0m-5 0l3 5m19-263l4-2m-4 2l3 1m-3-1l-1 4m1-4l-4 3m4-3l-4-3m4 3l1-5m-1 25l6-1m-6 1l5 3m-5-3l0 7m0-7l-5 2m5-2l-6-2m6 2l-1-5m1 28l6-1m-6 1l5 2m-5-2l-2 5m2-5l-4 2m4-2l-5-3m5 3l0-7m2 177l-3 5m3-5l-6 2m6-2l-5-4m5 4l2-5m-2 5l5-2m-5 2l3 4m-6 19l-2 6m2-6l-5 2m5-2l-5-5m5 5l2-5m-2 5l5 0m-5 0l4 4m19-219l4 0m-4 0l3 3m-3-3l0 5m0-5l-4 2m4-2l-2-3m2 3l1-5m0 25l6 0m-6 0l4 5m-4-5l-1 6m1-6l-5-1m5 1l-5-5m5 5l3-6m-5 26l6 0m-6 0l1 4m-1-4l-3 4m3-4l-7 1m7-1l-2-6m2 6l3-4m-2 138l0 4m0-4l-4 3m4-3l-5-4m5 4l0-5m0 5l5-3m-5 3l5 2m-5 20l-2 5m2-5l-4 1m4-1l-5-4m5 4l2-7m-2 7l7-2m-7 2l5 3m-3 16l-1 5m1-5l-6 1m6-1l-3-3m3 3l2-5m-2 5l4-2m-4 2l4 4m17-197l5-1m-5 1l4 6m-4-6l-3 4m3-4l-5 1m5-1l-3-5m3 5l3-4m-7 26l6-1m-6 1l3 4m-3-4l-4 3m4-3l-5-1m5 1l-1-5m1 5l4-4m-1 21l5 2m-5-2l2 6m-2-6l-4 6m4-6l-6-2m6 2l-2-4m2 4l4-5m-4 31l5 2m-5-2l1 6m-1-6l-5 3m5-3l-5-3m5 3l1-5m-1 5l6-3m-8 21l3 4m-3-4l-1 5m1-5l-5 1m5-1l-5-3m5 3l0-7m0 7l5-1m-2 25l2 5m-2-5l-3 5m3-5l-5 0m5 0l-4-5m4 5l3-6m-3 6l6-1m-7 22l1 7m-1-7l-3 5m3-5l-4 0m4 0l-3-5m3 5l5-4m-5 4l6 2m-5 21l2 7m-2-7l-3 5m3-5l-5-3m5 3l0-5m0 5l5-2m-5 2l6 2m-9 19l0 5m0-5l-5 4m5-4l-6-2m6 2l-1-6m1 6l5-3m-5 3l4 4m21-156l4 0m-4 0l1 5m-1-5l-3 4m3-4l-5-2m5 2l-1-5m1 5l3-4m-7 23l5 3m-5-3l0 5m0-5l-5 3m5-3l-5-2m5 2l-2-6m2 6l4-2m0 26l4 4m-4-4l-1 5m1-5l-6 2m6-2l-4-4m4 4l-1-6m1 6l4-3m-6 24l3 3m-3-3l-2 7m2-7l-5 0m5 0l-3-4m3 4l2-6m-2 6l4-2m-4 23l4 6m-4-6l-3 5m3-5l-5 0m5 0l-2-5m2 5l2-5m-2 5l6-1m-3 25l1 5m-1-5l-3 4m3-4l-5 0m5 0l-2-5m2 5l4-4m-4 4l7-1m-9 22l2 4m-2-4l-3 3m3-3l-5-1m5 1l-1-6m1 6l4-3m-4 3l5 1m18-87l4 3m-4-3l-2 5m2-5l-6 1m6-1l-5-3m5 3l0-4m0 4l4-2m-6 22l3 4m-3-4l0 4m0-4l-5 2m5-2l-3-3m3 3l0-4m0 4l5-2m-6 24l3 4m-3-4l-1 4m1-4l-6 0m6 0l-3-3m3 3l2-3m-2 3l5 0" stroke="#4a5ad0" stroke-opacity="0.6" stroke-width="1.6"/>
<path d="M115 511l-1-11 1 2m-1-2l-1 3m-5 30l2-10 1 2m-1-2l-2 2m6 26l-10 4 2-3m-2 3l3 0m32-91l-9-6 3 0m-3 0l2 2m8 22l-12-2 3-1m-3 1l2 2m9 2l-13-3 2-1m-2 1l2 2m16 22l-11 0 2-1m-2 1l2 2m7-12l-5 11 0-3m0 3l2-2m-7 24l2-11 1 3m-1-3l-2 2m-5 1l3 12-2-2m2 2l1-3m6 21l-9 2 2-2m-2 2l3 1m10-4l-9 2 2-2m-2 2l2 1m6 19l-11 2 2-2m-2 2l3 1m5-7l-8 5 1-2m-1 2l3 0m8 19l-10 8 1-3m-1 3l3 0m24-156l-9-8 2 1m-2-1l1 3m11 7l-7-11 3 1m-3-1l0 2m4 22l-9 5 1-2m-1 2l3 0m10-9l-6 12 0-3m0 3l2-2m7 15l-10-7 3 0m-3 0l1 2m5-2l-9 8 1-2m-1 2l3 0m7 28l-7-4 3 0m-3 0l2 2m-2 3l-8-3 3 0m-3 0l2 2m10 20l-2-13 2 2m-2-2l-1 3m3 3l0 8-2-2m2 2l1-2m-5 17l8 9-3-1m3 1l-1-3m-8-7l-2 10-1-3m1 3l2-3m4 23l-6-8 3 1m-3-1l0 2m13 12l-5-10 2 1m-2-1l0 2m-1 20l-9 9 1-3m-1 3l2-1m10-4l-10-9 3 1m-3-1l1 3m8 25l-8 9 1-3m-1 3l3-1m28-200l-5-10 2 1m-2-1l0 2m-2 25l9-5-2 2m2-2l-3 0m-3 1l-8 12 0-3m0 3l2-2m12 20l-10-6 3 0m-3 0l1 3m3-10l-10 7 1-2m-1 2l3 0m2 135l6 6-3-1m3 1l-1-3m-10-3l8 7-3-1m3 1l-1-3m1 19l8 4-3 0m3 0l-2-2m2-6l-10-7 3 0m-3 0l1 2m7 17l-6 11 0-3m0 3l2-2m13-220l11 0-3 1m3-1l-3-1m4 9l-3-12 2 2m-2-2l0 3m-6 35l-5-12 3 2m-3-2l0 3m8 5l7-9-1 3m1-3l-3 1m7 176l-8-3 2-1m-2 1l1 2m-4 2l11 3-3 1m3-1l-2-2m-5 20l-2 9-1-3m1 3l1-2m7-8l-13-3 2 0m-2 0l2 2m30-245l-11 9 1-3m-1 3l2-1m3 28l-2-10 2 2m-2-2l-1 3m-2 6l-3-13 2 2m-2-2l-1 3m5 26l12-3-2 2m2-2l-3 0m-1 13l-1-12 1 2m-1-2l-1 2m0 177l-11 1 2-2m-2 2l3 1m10-4l-12 0 2-1m-2 1l3 2m1 9l-2 11-1-2m1 2l2-2m7-1l-14 0 3-1m-3 1l3 1m11 12l-3 11-1-3m1 3l2-2m10-260l9-1-3 2m3-2l-3-1m6 26l-11 2 3-2m-3 2l3 1m16-3l-12-6 3 0m-3 0l2 2m-2 34l2-11 1 2m-1-2l-2 2m4 4l1-11 1 2m-1-2l-1 2m-2 171l-3 13-1-3m1 3l1-2m5-6l-1 13-1-3m1 3l1-2m-2 8l-3 12-1-2m1 2l2-2m-6-8l11 3-3 1m3-1l-2-2m-10 23l2 11-2-2m2 2l1-2m29-267l-10 2 2-2m-2 2l3 1m7 23l-12-4 3-1m-3 1l2 2m2-2l2-11 1 3m-1-3l-2 3m3 34l1-9 1 2m-1-2l-1 2m1 10l2-11 1 3m-1-3l-2 2m1 169l1 10-2-2m2 2l1-2m-7-2l10 3-2 0m2 0l-2-2m-8 9l2 11-2-2m2 2l1-3m2-9l4 13-2-2m2 2l1-3m-11 19l1 11-2-3m2 3l1-3m23-268l9 8-3-1m3 1l-1-2m-2 16l-10 0 3-1m-3 1l2 1m3 4l5-9 0 2m0-2l-2 1m-10 24l10 2-3 1m3-1l-3-2m-7 2l11 3-3 0m3 0l-2-2m-5 168l6 12-3-2m3 2l0-3m-1-10l-9 8 1-3m-1 3l2 0m8 17l-11 8 2-3m-2 3l3-1m7-8l3 12-2-2m2 2l1-3m13-214l4-14 0 3m0-3l-2 2m-1 28l5-11 1 3m-1-3l-2 2m-4 7l7-5-1 2m1-2l-3 0m-2 22l7 12-2-1m2 1l0-3m-7-10l4 7-2-1m2 1l0-3m-9 130l8 5-3 0m3 0l-1-3m-2 3l9 8-3-1m3 1l-1-3m-12 20l11-7-2 3m2-3l-3 0m-5-4l6 7-3-1m3 1l-1-2m-3 25l6-8 0 2m0-2l-2 1m16-179l10-9-1 2m1-2l-3 0m-3 7l-4-7 3 2m-3-2l0 3m-6 23l10-9-1 3m1-3l-3 1m3 5l-7-7 3 1m-3-1l1 3m1 19l9-2-2 2m2-2l-3-1m-5 3l11-8-1 3m1-3l-3 0m-4 41l-4-9 3 1m-3-1l0 2m-1-10l8 11-3-1m3 1l-1-3m-10 18l11-4-2 2m2-2l-3 0m-3-1l-5 9 0-2m0 2l2-1m2 24l9 5-2 0m2 0l-1-3m-8 5l1-13 1 2m-1-2l-1 2m-2 29l7-7-1 3m1-3l-3 1m-4-1l8 6-3-1m3 1l-1-3m-6 16l9 8-3-1m3 1l-1-3m-4-9l-3 12 0-2m0 2l2-2m-9 20l7 6-2-1m2 1l-1-3m-6-10l7 9-3-1m3 1l-1-3m27-142l-7-7 2 1m-2-1l0 3m0 16l0-10 2 2m-2-2l-1 2m3 8l4 8-3-2m3 2l0-3m-7 17l9 0-3 2m3-2l-3-1m-4-1l11-3-2 2m2-2l-2-1m-4 22l1 13-2-2m2 2l1-3m-3-13l0 10-1-2m1 2l1-2m-5 26l7-12 0 3m0-3l-2 1m-4 7l12 4-3 0m3 0l-2-2m-8 23l10 1-3 1m3-1l-3-2m-7 2l10 3-3 0m3 0l-2-2m-16 25l10-10-1 3m1-3l-3 1m25-81l9 0-3 2m3-2l-2-1m-16 20l9 2-3 1m3-1l-2-1m3 16l-5 10 0-2m0 2l2-1" stroke="#4a5ad0" stroke-opacity="0.65" stroke-width="1.4"/>
<path d="M321 560l10 4-3 0m3 0l-2-3m1 3l11 5-3 0m3 0l-2-3m-126 48l-3 9-1-3m1 3l2-2m-14-19l-6 10 0-3m0 3l2-1m-2 0l-6 10 0-3m0 3l3-1m-24-41l-9 6 1-3m-1 3l3 0m-1-28l-12 4 2-3m-2 3l3 0m15-52l-12-1 3-1m-3 1l3 1m24-30l-11-7 3 0m-3 0l2 3m1-5l-8-7 3 1m-3-1l1 3m39-3l-6-10 3 1m-3-1l0 3m-8-9l-5-10 3 2m-3-2l0 3m61 10l-1-12 1 2m-1-2l-1 2m-1 10l-1-12 2 2m-2-2l-1 2m19 16l4-12 0 3m0-3l-3 2m3-1l2-11 1 3m-1-3l-2 2m4 0l3-11 0 3m0-3l-2 3m31 29l7-10-1 3m1-3l-3 1m0 29l8-7-1 3m1-3l-3 1" stroke="#6f86e0" stroke-opacity="0.8" stroke-width="1.3"/>
<path d="M158 527l-10-5 2 0m-2 0l1 2m11-22l-7-4 3 0m-3 0l2 2m6 14l-9-7m12 13l-9 4 1-2m-1 2l2 0m5 26l-7 2 2-2m-2 2l2 0m6 12l-6 4m11-86l-8-4m9 29l-10-6 3 0m-3 0l2 2m11 23l-12-2m15-30l-9-6 3 0m-3 0l1 3m6 37l-10 4 2-2m-2 2l3 0m9 20l-5 6m3 1l-9 5 1-2m-1 2l3 0m6 1l-8 3 2-2m-2 2l3 0m4 9l-6 8 1-3m-1 3l3-1m15-117l-3-9m12 5l-8-6 2 0m-2 0l1 2m2 12l-5-8m15-11l-5-6m5 137l-9 7m6-2l-4 8m12-146l-8-7m10 154l-6 6m10-148l-2-10 2 2m-2-2l-1 2m2 16l-3-10m3 151l-4 8m11-15l-8 6m4 3l-1 10m14-169l3-8m0 2l2-8 1 3m-1-3l-2 2m4 177l1 8-2-2m2 2l1-3m4-165l-3-6 2 1m-2-1l0 3m9-11l-4-7m-1 13l4-8m4 162l-4 11 0-2m0 2l2-2m-1-3l1 8-2-2m2 2l0-2m3-164l4-7m1 7l2-9 1 3m-1-3l-1 2m-2 174l4 7-2-2m2 2l0-3m14-10l3 10m11-152l2-10 1 3m-1-3l-2 2m0 10l3-7 0 3m0-3l-2 2m1 125l3 9m0-19l8 8m-3-121l5-9m5 18l7-2-2 2m2-2l-3 0m-4 19l9-2m-7 68l9 3m-6-77l10-3-2 2m2-2l-3-1m-7 11l8-9 0 3m0-3l-2 1m-6 15l11-3m-9 30l8-1m-6 23l7 1-2 1m2-1l-2-1m-7 4l10 7-3-1m3 1l-1-3m-10-1l7 9m-8 4l11 3m-10 10l5 7-2-1m2 1l0-2m1-100l10 0m-9 32l7-3-2 2m2-2l-3 0m-2 11l7-5-2 3m2-3l-3 1m-6 9l8 0-2 1m2-1l-2-1m-5 9l8-3m-10 0l10 5-2 0m2 0l-1-2m-2-44l10 0m-9 24l9-2-2 2m2-2l-3-1m-5 23l7 3m-8 7l9-2m-9 9l6 6m-2-23l10 2-3 1m3-1l-2-2" stroke="#6f86e0" stroke-opacity="0.9" stroke-width="1.2"/>
<path d="M109 513l5-13 0 3m0-3l-2 2m11 24l-14-2 3-1m-3 1l3 2m1 26l-3-11 2 2m-2-2l-1 3m26-80l6-11 0 2m0-2l-3 1m5 29l-9-7 3 1m-3-1l1 3m1 0l1 8-2-2m2 2l1-2m-7 21l6-9 0 3m0-3l-3 2m-1 9l-1-9 2 3m-2-3l-1 3m3 22l-11-2 2-1m-2 1l2 2m12-1l-10 3 2-2m-2 2l3 0m6 26l-5-10 2 2m-2-2l0 3m13-2l-11 2 2-2m-2 2l3 1m1 24l-12 3 2-2m-2 2l3 1m6-8l8 7-3 0m3 0l-1-2m-15 13l5 10-2-1m2 1l0-3m27-151l-8-9 3 1m-3-1l1 3m5 1l-9 10 1-3m-1 3l3-1m10 22l-9-10 3 1m-3-1l1 3m5-2l-5 9 0-2m0 2l3-1m7 17l-8-4 3 0m-3 0l2 2m5 5l-9-5 3 0m-3 0l2 2m7 21l-10 1 3-2m-3 2l3 1m4 5l-8-3 3-1m-3 1l2 2m8 14l-14 1 2-2m-2 2l3 1m3 1l1-8 1 3m-1-3l-2 2m8 21l-1 12-1-3m1 3l2-2m-1-5l-1 9-1-3m1 3l2-3m-2 21l0-9 1 3m-1-3l-2 3m7-3l-12 5 2-2m-2 2l3 1m-2 17l3 9-2-2m2 2l1-3m-3-1l8 5-3 0m3 0l-1-2m-12 16l3 7-2-1m2 1l0-2m29-203l-10 4 1-3m-1 3l2 0m13 29l-8-7 3 1m-3-1l1 3m-5 0l8-7-1 2m1-2l-2 0m-2 26l5-8 0 3m0-3l-2 1m1 11l-4-8 2 2m-2-2l0 3m-2 131l-6 6 1-2m-1 2l3-1m0-9l7 5-3 0m3 0l-1-3m2 16l4 8-3-1m3 1l0-3m0-1l-5 7 0-2m0 2l2-1m-1 25l-9-4 3 0m-3 0l2 3m30-215l-1-11 1 3m-1-3l-1 3m-2 5l-8-1 2-1m-2 1l2 2m-1 19l8-1-2 2m2-2l-2-1m-3 1l-5-9 2 2m-2-2l0 3m17 176l-4 11-1-3m1 3l2-2m-5-13l8 10-3-1m3 1l0-3m-5 29l-6-6 2 0m-2 0l1 2m1 5l-6-6 3 1m-3-1l1 3m21-245l8-5-2 3m2-3l-3 0m2 36l1-13 1 3m-1-3l-1 2m-6 11l0-13 2 2m-2-2l-1 2m2 24l9-4-1 2m1-2l-3 0m-2 7l8-3-2 2m2-2l-3 0m-6 180l-9-6 3 0m-3 0l1 3m11-6l-1 9-1-3m1 3l1-2m2 19l-12 0 2-1m-2 1l2 1m4 2l-7-6 2 1m-2-1l1 3m16 18l-12 2 2-2m-2 2l3 1m19-264l11 1-3 1m3-1l-2-1m-6 26l-2-13 2 2m-2-2l-1 3m9 10l-10-4 3 0m-3 0l2 2m2 26l9 2-2 1m2-1l-2-2m-8 1l2-11 1 2m-1-2l-1 2m5 175l-3 11-1-3m1 3l2-2m-2-4l-8 3 2-2m-2 2l3 0m3 16l7 3-2 1m2-1l-2-2m-6 0l2 9-2-2m2 2l0-2m-7 14l1 8-2-2m2 2l1-2m28-266l-1-11 1 2m-1-2l-1 2m11 36l-9-5 3 0m-3 0l2 2m-7-4l8 4-3 0m3 0l-2-3m-7 28l2-8 1 3m-1-3l-2 2m9 5l-8-5 2 0m-2 0l1 3m13 163l-10 9 1-2m-1 2l3 0m1-3l2 14-2-2m2 2l1-3m-10 13l12-4-2 2m2-2l-3-1m-15 1l5 10-2-1m2 1l0-3m-8 23l10-6-1 2m1-2l-2 0m17-252l8-12 0 3m0-3l-2 2m-1 31l3-13 0 3m0-3l-2 2m0 14l5-10 0 3m0-3l-2 2m-4 28l3-9 0 3m0-3l-2 2m1-5l7 8-2-1m2 1l0-2m-14 175l9-9-1 3m1-3l-3 1m7-3l-6 5 1-3m-1 3l2-1m-1 26l-9 7 1-3m-1 3l3 0m0-9l2 12-2-2m2 2l1-2m24-221l-7-8 3 1m-3-1l1 2m11 28l-7-11 2 1m-2-1l0 3m-2 7l6-5-1 3m1-3l-3 1m-2 27l6-9 0 3m0-3l-3 1m-7-2l12 4-3 0m3 0l-2-2m-2 130l-4 7 0-3m0 3l2-2m0-7l-3 9 0-3m0 3l2-2m8 15l-7 6 1-2m-1 2l3 0m-8 4l10-8-1 2m1-2l-2 0m-1 23l-7 12 0-3m0 3l2-2m25-195l7-6-1 3m1-3l-3 1m1 2l-4-9 2 1m-2-1l-1 3m-1 27l9-4-2 3m2-3l-3 0m-9-8l8 10-3-1m3 1l-1-3m-4 14l4 13-2-2m2 2l0-3m-12 0l11-5-2 3m2-3l-3 0m-1 29l9-4-2 2m2-2l-3 0m-1-6l3 8-2-1m2 1l0-2m-17 23l10-1-3 2m3-2l-3-1m1-8l0 9-1-2m1 2l2-2m2 22l8 5-3-1m3 1l-1-3m-7-11l3 11-2-2m2 2l0-3m-7 31l7-7 0 3m0-3l-2 1m0-8l-8 11 0-3m0 3l2-2m-1 24l6-9 0 3m0-3l-2 2m0-2l11 7-3 0m3 0l-2-2m-15 14l10 9-3-1m3 1l-1-3m-10-1l9 8-3-1m3 1l-1-2m23-154l8-5-1 2m1-2l-2 0m-10 18l3 8-2-2m2 2l0-3m-9-1l9 10-3-1m3 1l-1-2m2 18l10-3-2 2m2-2l-3-1m-7 3l-5-12 2 2m-2-2l0 3m3 20l-2 11-1-3m1 3l2-2m4 1l-2-11 2 2m-2-2l-1 2m-3 22l2 13-1-2m1 2l1-3m-5-2l10 2-3 1m3-1l-2-2m-5 21l11 5-3 0m3 0l-2-2m3-3l-7 9 1-3m-1 3l3-1m-7 20l11-6-1 2m1-2l-3 0m12-88l1 9-2-2m2 2l1-3m-1 19l9 0-3 1m3-1l-3-2m-14 20l13 3-3 1m3-1l-2-1" stroke="#6f86e0" stroke-opacity="0.65" stroke-width="1.4"/>
<path d="M377 522l0-6 1 2m-1-2l-1 2m4 19l0-6 1 1m-1-1l-1 1m-2 24l-2 6 0-2m0 2l2-1m-7 11l2-6 0 2m0-2l-2 1m-5 15l3-6 0 2m0-2l-2 2m-6 21l3-5 0 2m0-2l-1 1m-8 10l-3 5 0-2m0 2l1-1m-9 8l4-5 0 2m0-2l-2 1m-11 13l5-4-1 1m1-1l-2 0m-15 17l5-3 0 2m0-2l-2 0m-12 9l5-3-1 2m1-2l-2 0m-22 9l-5 3 1-2m-1 2l2 0m-9 1l6-2-1 2m1-2l-2 0m-15 6l6-1-2 1m2-1l-2-1m-15 7l6-1-2 1m2-1l-2-1m-20 2l-6 0 1-1m-1 1l1 1m-12-4l6 0-2 1m2-1l-2-1m-20-3l-6-1 2 0m-2 0l1 1m-4 2l5 1-1 1m1-1l-1-1m-19-10l-5-2 2 0m-2 0l1 2m-11-5l-5-3 2 0m-2 0l1 2m-5-7l5 4-2 0m2 0l-1-2m-19-13l-5-4 2 1m-2-1l1 2m-6-5l-4-5 2 1m-2-1l1 2m-4-7l-4-5 2 1m-2-1l0 2m-4-14l3 5-2-1m2 1l0-2m-8-12l2 5-1-1m1 1l0-2m-7-15l2 6-1-1m1 1l0-2m-7-22l1 6-2-2m2 2l0-2m-5-17l1 6-2-2m2 2l0-2m1-17l0 6-1-1m1 1l1-1m0-21l-1 6-1-2m1 2l1-2m1-20l2-6 0 2m0-2l-2 2m3-8l2-6 0 2m0-2l-2 1m5-5l-2 5-1-2m1 2l1-1m10-18l3-5 0 2m0-2l-2 1m7-11l3-5 0 2m0-2l-1 1m7-5l-4 4 0-2m0 2l2-1m8-10l4-4 0 2m0-2l-2 1m13-11l5-4-1 2m1-2l-2 0m7 0l-6 3 1-2m-1 2l2 0m17-9l5-2-1 1m1-1l-2 0m13-6l-6 2 1-2m-1 2l2 0m14-5l-6 1 2-1m-2 1l2 0m17-3l6-1-1 1m1-1l-2-1m12 0l6 0-1 1m1-1l-1-1m10 1l-6-1 2-1m-2 1l1 1m21 3l6 1-2 1m2-1l-2-1m10 3l6 2-2 1m2-1l-2-1m10 7l5 3-2 0m2 0l-1-2m6 3l-5-3 2 0m-2 0l1 1m18 14l-5-3 2 0m-2 0l1 1m17 8l-5-4 2 1m-2-1l1 2m11 14l4 5-2-1m2 1l0-2m6 6l-4-5 2 1m-2-1l1 2m8 12l-3-5 2 1m-2-1l0 2m10 20l-3-6 2 1m-2-1l0 2m11 16l2 6-2-2m2 2l0-2m1 11l-1-6 1 2m-1-2l-1 2m2 17l0-6 1 1m-1-1l-1 1" stroke="#6f86e0" stroke-opacity="0.6" stroke-width="1.2"/>
<path d="M316 525l12-1-2 2m2-2l-2-1m1 4l13 1-3 2m3-2l-3-1m-10-2l13 0-3 1m3-1l-3-1m-46 23l11 5-3 0m3 0l-2-3m22 9l10 3-3 1m3-1l-2-2m-38 9l9 10-3-1m3 1l-1-3m2 1l7 7-3-1m3 1l-1-3m-1 3l8 8-3-1m3 1l-1-3m-5-7l9 7-3 0m3 0l-2-2m-26-4l7 7-3-1m3 1l-1-3m-2 4l7 9-3-1m3 1l-1-3m-4-7l6 9-2-2m2 2l0-3m-51-34l2 12-2-2m2 2l1-3m6 34l1 11-2-2m2 2l1-2m-1-10l2 12-1-2m1 2l1-3m-2 2l1 11-2-2m2 2l1-2m-24-80l0 11-1-3m1 3l2-3m-3 2l0 11-2-3m2 3l1-3m-3 24l0 12-1-3m1 3l1-2m-2 11l-2 11-1-2m1 2l2-2m2-9l-1 12-2-3m2 3l1-3m-3 1l-2 11-1-3m1 3l2-3m2-8l0 11-2-3m2 3l1-3m-17-41l-5 11 0-3m0 3l3-2m-4 10l-3 12-1-3m1 3l2-2m3-9l-5 11-1-3m1 3l2-2m-5-31l-5 12 0-3m0 3l2-2m-5-1l-6 11 0-3m0 3l3-1m28-64l-8 6 1-3m-1 3l3-1m-18 14l-11 5 2-2m-2 2l3 0m-2 0l-11 7 2-3m-2 3l3-1m-21 12l-9 5 1-2m-1 2l3 0m29-36l-10 5 2-2m-2 2l3 0m-22 4l-12 5 2-2m-2 2l3 0m41-32l-11 0 3-1m-3 1l3 2m-2-5l-11 0 3-2m-3 2l3 1m-11 0l-13 0 3-1m-3 1l3 2m56-12l-12-4 3-1m-3 1l2 2m-22-6l-12-3 3-1m-3 1l2 2m-1-2l-11-2 3-1m-3 1l3 2m-2-1l-10-3 3-1m-3 1l2 2m8 3l-10-2 3-1m-3 1l2 2m67-4l-8-7 3 0m-3 0l1 2m-25-21l-10-8 3 0m-3 0l1 2m-2 1l-8-7 3 0m-3 0l1 2m48 12l-6-8 3 1m-3-1l0 3m1-2l-5-9 2 1m-2-1l0 3m0-2l-6-10 2 2m-2-2l0 3m0-1l-6-10 2 1m-2-1l0 3m26 15l-5-10 3 2m-3-2l0 3m-2-13l-5-12 3 2m-3-2l0 3m3 10l-4-12 2 2m-2-2l-1 3m43 37l-1-13 2 2m-2-2l-1 2m0-1l-1-12 1 3m-1-3l-2 3m3-13l0-11 1 2m-1-2l-2 2m16 48l3-12 1 3m-1-3l-2 2m5-12l2-12 1 3m-1-3l-2 3m-14 70l8-8-1 3m1-3l-3 1m2 0l7-9-1 3m1-3l-3 1m3 1l7-8-1 3m1-3l-3 1m10-9l6-8-1 3m1-3l-3 1m16-15l6-8-1 3m1-3l-3 1m-5 6l6-9 0 3m0-3l-2 2m13 14l10-6-1 2m1-2l-3 0m0 31l12-6-2 3m2-3l-3 0m2 2l13-3-2 2m2-2l-3-1m-10 3l11-5-1 2m1-2l-2-1" stroke="#62b4ec" stroke-opacity="0.8" stroke-width="1.3"/>
<path d="M157 504l-8-2m12-10l-7 1 2-2m-2 2l2 1m5 22l-10 1 2-2m-2 2l3 1m11 7l-11 5m9 3l-11-2m10 27l-12-2m16-57l-8-8m10 16l-11-2 2-1m-2 1l2 1m10 10l-7-3 3 0m-3 0l2 2m5 19l-8-1m6 1l-9 5 1-2m-1 2l3 0m7 26l-9 3 2-2m-2 2l3 0m12-96l-9-4m7 29l-8-2 3-1m-3 1l2 2m10 7l-7-2m4 17l-11 3 2-1m-2 1l3 1m10 28l-11 1 2-1m-2 1l3 1m15-85l-10-3 2-1m-2 1l2 2m3 5l-6-4m10 23l-7 0m5 11l-7-9m10 66l-10 3 2-2m-2 2l3 1m4 3l-10 1 2-2m-2 2l3 1m7 4l-10 4m9 6l-4 7m9-118l-6-6m12 13l-10-7 3 0m-3 0l1 2m9 5l-11-2m10 20l-9-3m9 12l-8-6 3 0m-3 0l1 2m3 10l-8-8 3 1m-3-1l1 3m7 9l-9-3 2-1m-2 1l2 2m7 22l-7-3m12 34l-10 5 1-2m-1 2l2 0m4 6l-8 3 1-2m-1 2l2 1m12-105l-8-8 3 1m-3-1l1 3m8 6l-8-3 3 0m-3 0l2 2m4 40l-7-6m11 28l-9 3m9 29l-9 8 1-2m-1 2l3 0m2 3l-2 8-1-2m1 2l2-2m4-131l-2-10 1 2m-1-2l-1 2m6 22l-7-9 3 1m-3-1l1 3m4 19l-6-4m10 19l-8-4 3 0m-3 0l2 2m3 20l-8-3 2 0m-2 0l1 2m11-54l-5-6m7 43l-7-8m10 21l-7-5 2 1m-2-1l1 3m6 8l-10 1m8 18l-6 6 1-3m-1 3l2-1m8 47l-9 7 1-3m-1 3l2-1m0 6l-1 9m9-153l-3-9m2 22l-4-12 2 2m-2-2l-1 3m4 18l-1-12m5 76l-11 4 2-2m-2 2l3 1m5 15l-6 9m6 20l0 8m5-152l-3-9 2 2m-2-2l-1 3m6 14l-8-8m8 25l-4-11 2 2m-2-2l0 3m6 7l-6-4 3 0m-3 0l1 2m6 61l-7 0 2-1m-2 1l2 1m5 18l-9 3m7 48l-6 10m11-168l0-12 1 2m-1-2l-1 2m-2 17l-3-7m10 16l-9-8 3 0m-3 0l1 2m3 17l-6-9m7 101l-6 9 0-3m0 3l2-1m5 7l-3 9 0-3m0 3l2-2m3 11l-5 6m6-159l2-12m-1 22l-6-8 2 1m-2-1l0 2m4 14l-2-11 2 2m-2-2l-1 2m5 13l1-8 1 2m-1-2l-2 2m0 23l1-9m4 26l-8-6 2 0m-2 0l1 2m7 21l-7-3 2 0m-2 0l1 2m4 17l-7 7m10-5l-8 6 1-3m-1 3l2-1m1 56l3 9m-1-6l-4 11m5-153l2-10m3 17l-5-7m3 46l-4-6m4 32l-7 9 1-3m-1 3l2-1m4 55l2 8-2-2m2 2l1-2m-2-2l-2 7m8-162l-2-9m1 16l1-9m0 102l-1 9m-3 26l1 10m4 8l-6 8 1-2m-1 2l3-1m2 8l-2 8m6-1l-2 8m8-169l4-9m-5 28l2-9 0 2m0-2l-2 2m2 16l-2-7m1 30l3-7m-5 18l5-5m-2 45l1 11-2-2m2 2l1-2m0-1l1 8m-6-1l4 10-2-2m2 2l0-3m-2 20l6 10m-4-2l-4 10m-1-3l6 8m2-170l3-7m1 14l-3-7m-1 14l3-9m-3 38l3-7m1 93l0 10-1-2m1 2l1-2m-4 6l1 8-1-2m1 2l1-2m-4 3l7 9-3-1m3 1l-1-3m-2-1l-2 7m9-169l-2-9 2 2m-2-2l-1 2m2 17l-3-11 2 2m-2-2l0 3m0 24l8-9m-9 79l9 7m-7 24l6 5m-9 1l4 6-2-1m2 1l0-2m-1 25l3 7-2-2m2 2l0-3m-4-1l5 8-2-1m2 1l0-2m-1-172l4-9m-3 14l5-7 0 3m0-3l-3 2m-3 12l5-8 0 2m0-2l-2 1m-4 28l5-8m-4 59l7-3m-8 27l10 4m-8 18l7 9-2-1m2 1l0-3m-7-1l3 9m-2 5l4 7m3-147l4-11m-4 18l0-9 1 2m-1-2l-2 2m-1 9l6-7-1 2m1-2l-2 1m-5 56l8-8-1 3m1-3l-2 1m-4 16l7-1m-11 17l12 0-3 1m3-1l-3-1m-4 29l9 4-3 1m3-1l-2-2m-6 27l6 10m-7-4l-1 8-1-3m1 3l2-2m4-146l7-4m-5 11l5-6m-6 13l6-6m-6 19l4-8 0 2m0-2l-2 1m-5 23l9-5m-8 9l9-2m-7 55l8 8-3-1m3 1l-1-2m-5 10l3 8-2-2m2 2l0-3m-7 6l3 7-2-1m2 1l1-2m-2 9l4 9-2-1m2 1l0-2m-1-149l10-6-1 2m1-2l-3 0m-4 55l9-8m-8 91l3 10-2-2m2 2l1-3m4-140l2-8 1 2m-1-2l-2 2m-5 12l7-8 0 3m0-3l-2 1m-2 15l3-11 1 2m-1-2l-2 2m-2 18l8-2m-11 28l7-3m-5 14l8-8-1 3m1-3l-2 1m-8 38l10 6-3 0m3 0l-2-2m-7 31l6 5m-4 9l7 10-3-1m3 1l0-3m-4-149l6-8 0 3m0-3l-2 1m-3 24l8-3m-6 19l7-8 0 2m0-2l-2 0m-3 19l5-8 0 2m0-2l-2 1m-4 30l7 3m-13 7l10 2-2 1m2-1l-2-1m-4 26l6 3-3 0m3 0l-1-2m-5 18l7 6m-5 0l6 6-3-1m3 1l-1-3m2-125l3-7m-7 19l7-4-1 2m1-2l-2 0m-3 12l5-9 0 3m0-3l-2 1m-6 12l7-7 0 2m0-2l-2 0m-1 12l6-8m-9 20l8-7-1 2m1-2l-3 0m-5 31l8-3m-6 32l6 10-2-1m2 1l0-2m-8 5l7 4m-6 9l5 5m-5-1l8 6m-4-125l10-5m-10 17l8-1m-8 32l10-6-2 3m2-3l-3 1m-6 11l10 4-3 0m3 0l-2-2m-9 56l8 2-2 0m2 0l-2-2m-2 3l7 1m-10 6l3 7m3-103l11-3m-14 16l10 2m-8 5l9-2-2 2m2-2l-2-1m-6 19l7 1-3 1m3-1l-3-2m-2 6l8 0m-11 8l9-3-2 2m2-2l-3 0m-5 26l9 1-2 1m2-1l-2-2m-9 21l8 6m0-94l7-4m-5 14l8-2-2 2m2-2l-3 0m-9 42l12-1m-10 14l6 3-2 0m2 0l-1-2m-1-52l9-3-1 2m1-2l-2 0m-5 22l7 3m-5 22l8-2m-13 16l10 5-2 0m2 0l-1-2m-1-41l8 3-2 0m2 0l-2-2m-8 5l11-2" stroke="#62b4ec" stroke-opacity="0.9" stroke-width="1.2"/>
<path d="M275 527l12 1-3 2m3-2l-3-1m1 1l11 0-3 1m3-1l-3-1m-38 3l10 5-3 1m3-1l-2-2m14 22l8 8-2-1m2 1l0-3m-35-24l6 9-3-1m3 1l0-3m1 51l2 12-2-2m2 2l1-3m-2-9l4 12-3-3m3 3l0-3m-32-58l-7 11 0-3m0 3l3-1m-11 20l-5 9 0-3m0 3l2-2m8-38l-9 5 1-3m-1 3l3 0m-3-2l-10 8 1-3m-1 3l3-1m-3-1l-9 8 1-3m-1 3l3-1m-18-8l-11 4 2-3m-2 3l3 0m41-27l-12-1 2-1m-2 1l2 2m-25-18l-12-3 3-1m-3 1l2 2m68 1l-6-10 3 2m-3-2l0 3m-1-1l-4-10 2 2m-2-2l-1 3m-1-1l-5-8 3 1m-3-1l0 3m-8-19l-6-9 3 2m-3-2l1 3m39 51l-1-12 2 2m-2-2l-1 3m2-2l0-11 1 3m-1-3l-1 3m4-13l1-13 1 3m-1-3l-2 3m5 36l3-12 1 3m-1-3l-2 2m30-5l10-8-1 3m1-3l-3 1m3 1l8-7-1 3m1-3l-3 1m-35 35l10-4-2 2m2-2l-3 0" stroke="#7ee2ec" stroke-opacity="0.8" stroke-width="1.3"/>
<path d="M180 526l-11-1m16 26l-9 3 2-2m-2 2l3 0m4 4l-5 5 1-2m-1 2l3 0m12-69l-7-9 2 1m-2-1l0 2m10 8l-6-9 2 1m-2-1l0 2m9 39l-8-4 3 0m-3 0l2 2m16-24l-7-9 3 2m-3-2l1 3m8 12l-10-2m9 19l-8 0m4 46l-3 7m9-89l-2-10m6 33l-7-5m10 15l-11-3 3 0m-3 0l2 2m14 25l-8 5 1-2m-1 2l3 0m5-71l1-10m2 79l-6 6 1-3m-1 3l3-1m3 3l-3 8-1-3m1 3l2-2m9-76l0-8m7-2l-3-9m2 43l4-9m-4 18l5-9m-4 70l3 10-2-2m2 2l0-3m-7 6l4 7-2-2m2 2l0-3m6-133l4-8 0 3m0-3l-2 1m-6 84l8 7-3 0m3 0l-1-2m0-21l8-8 0 3m0-3l-2 1m-6 20l7 8-2-1m2 1l0-2m3-48l0-8 2 2m-2-2l-1 2m-3 33l9 2-3 1m3-1l-2-2m-7 5l7 4-3 0m3 0l-2-2m-3-23l11-2-2 1m2-1l-2-1m-7 19l7-6m-8 41l7 5-3 0m3 0l-1-2m3-80l3-9m-1 69l6 6m-4-25l10-6-1 2m1-2l-3 0m-5 30l7 4-3 0m3 0l-1-3m3-72l4-10 1 3m-1-3l-2 2m-5 45l5-7m-6 9l9-2-3 2m3-2l-3-1m-6 46l7 5-3 0m3 0l-1-2m1-65l7-2-2 2m2-2l-2-1m-8 33l9-5-2 2m2-2l-3 0m-2 41l9 3m-8-22l12 2-3 0m3 0l-3-2m6-40l7 0-2 1m2-1l-2-1m-6 11l8 1-3 1m3-1l-2-2m-5 33l8 2-2 1m2-1l-2-2" stroke="#7ee2ec" stroke-opacity="0.9" stroke-width="1.2"/>
<path d="M254 527l11-1-2 2m2-2l-3-1m-8 0l11 0-2 1m2-1l-3-1m2 1l13 0-3 2m3-2l-3-1m1 1l12 1-3 1m3-1l-3-2m1 1l11 0-3 1m3-1l-3-2m2 5l11-2-2 2m2-2l-3-1m2 2l12 0-3 2m3-2l-3-1m2 1l12 1-2 1m2-1l-2-2m-72 6l10 5-3 0m3 0l-2-3m1 3l11 4-3 0m3 0l-2-3m-8-4l11 4-3 0m3 0l-2-2m0 4l10 5-3 0m3 0l-2-2m20 9l11 5-3 0m3 0l-2-2m-59-20l9 8-3-1m3 1l-1-3m-7-7l10 8-3-1m3 1l-1-3m-2 4l9 8-3 0m3 0l-1-3m-6-7l9 7-3 0m3 0l-1-2m-1 4l9 7-3 0m3 0l-1-3m-8-5l10 7-3 0m3 0l-1-2m-1 3l9 8-3-1m3 1l-1-3m0 2l8 7-3 0m3 0l-1-2m-6-7l9 7-3-1m3 1l-1-3m-38-21l9 9-2-1m2 1l0-3m-7-7l8 9-3-1m3 1l0-3m-2 3l7 9-2-1m2 1l0-3m1 1l6 9-3-1m3 1l0-3m-1 3l8 9-3-1m3 1l-1-3m-5-8l6 10-2-1m2 1l0-3m-40-34l3 12-2-2m2 2l0-3m0 2l3 12-2-2m2 2l1-3m0 13l2 12-1-2m1 2l1-3m-13-48l0 11-1-2m1 2l1-2m0 1l0 11-1-3m1 3l2-3m-2 2l-2 11-1-3m1 3l2-3m-4 1l0 13-2-3m2 3l1-2m1 1l-2 13-1-3m1 3l2-3m-1 1l0 12-1-2m1 2l2-2m-4 1l0 11-2-3m2 3l1-3m0-70l-3 11-1-2m1 2l2-2m-2 1l-4 10-1-3m1 3l2-2m4-7l-3 10-1-3m1 3l2-2m-4 0l-4 12 0-3m0 3l2-2m4-9l-5 11 0-3m0 3l2-2m-3 0l-3 12-1-3m1 3l2-3m3-8l-3 11-1-3m1 3l2-2m-3 1l-3 10-1-2m1 2l2-2m-5 12l-4 10 0-3m0 3l2-2m17-68l-5 11 0-3m0 3l2-1m0 1l-6 12 0-3m0 3l3-2m-11 8l-6 10 0-3m0 3l2-1m6-8l-7 10 1-3m-1 3l3-1m19-44l-10 8 1-3m-1 3l3-1m8-5l-11 6 2-2m-2 2l3 0m-10 4l-8 6 1-3m-1 3l3-1m-1 2l-10 7 1-3m-1 3l3 0m-23 10l-10 8 2-3m-2 3l3-1m9-5l-11 7 2-2m-2 2l3 0m48-43l-10 4 2-2m-2 2l3 0m8-1l-10 3 2-2m-2 2l2 1m-2-2l-11 4 2-2m-2 2l3 1m-2-3l-12 4 2-2m-2 2l3 0m10-1l-11 5 1-3m-1 3l3 0m-3-2l-10 3 2-2m-2 2l3 1m-2-3l-11 3 3-2m-3 2l3 1m54-23l-13-1 2-1m-2 1l2 2m-1-2l-12 1 3-1m-3 1l3 2m9 0l-12 1 3-2m-3 2l3 1m-1-4l-13-1 3-1m-3 1l3 2m-1 0l-10 2 2-2m-2 2l2 1m45-6l-11-4 2 0m-2 0l2 3m-1-2l-10-2 3-1m-3 1l2 2m-2 0l-11-1 2-2m-2 2l2 1m-1-2l-12-2 3-1m-3 1l3 2m-1-5l-12-3 3-1m-3 1l3 2m43 2l-9-7 3 1m-3-1l1 3m0-2l-10-8 3 1m-3-1l1 3m8 7l-11-7 3 1m-3-1l1 3m-7-9l-8-7 3 1m-3-1l1 3m-7-10l-10-8 3 0m-3 0l1 2m7 8l-10-8 3 1m-3-1l1 3m57 38l-6-8 3 2m-3-2l0 3m-2-12l-6-9 2 1m-2-1l0 3m-5-10l-5-8 2 1m-2-1l0 3m4 6l-7-8 3 1m-3-1l1 3m-13-28l-7-9 2 2m-2-2l0 3m50 71l-4-9 2 2m-2-2l0 3m1-2l-4-10 3 2m-3-2l0 3m2 7l-5-9 3 2m-3-2l0 3m4-3l-5-11 3 2m-3-2l0 3m2 9l-5-11 3 2m-3-2l0 3m3-3l-4-10 3 2m-3-2l0 3m2 8l-5-10 2 2m-2-2l0 3m1-2l-5-10 2 1m-2-1l0 3m3-4l-3-11 2 2m-2-2l-1 3m2 10l-5-12 2 2m-2-2l0 3m-1-12l-6-11 3 2m-3-2l0 3m4 9l-4-12 2 2m-2-2l0 3m36 70l1-12 2 3m-2-3l-1 2m0-1l0-11 2 3m-2-3l-1 3m1-2l1-12 1 2m-1-2l-1 2m-2-1l0-13 2 3m-2-3l-1 3m1-1l0-13 2 2m-2-2l-1 2m8 37l4-12 0 3m0-3l-3 2m4 0l2-13 1 3m-1-3l-2 3m-2 9l3-12 0 3m0-3l-2 2m2-1l4-12 0 3m0-3l-2 2m3 0l4-11 1 3m-1-3l-2 2m-4 8l3-11 1 3m-1-3l-2 2m-8 62l8-8-1 3m1-3l-3 1m1-1l8-8-1 3m1-3l-3 1m7-8l9-9-1 3m1-3l-3 1m0-2l8-7-1 2m1-2l-3 0m3 1l6-8 0 3m0-3l-3 1m-5 6l6-9 0 3m0-3l-2 2m4 1l8-9-1 3m1-3l-3 1m-7 6l7-9-1 3m1-3l-3 1m11-5l7-9-1 3m1-3l-3 1m-55 71l9-6-1 3m1-3l-3 1m-8 3l9-7-1 3m1-3l-3 1m4 2l8-6-2 3m2-3l-3 0m-7 4l8-7-1 3m1-3l-3 1m4 3l8-8-1 3m1-3l-3 1m1-2l9-6-1 2m1-2l-3 0m3 2l11-7-1 2m1-2l-3 0m1-1l8-6-1 3m1-3l-3 0m3 1l7-7-1 3m1-3l-3 1m-5 5l7-7-1 3m1-3l-3 1m4 2l8-7-1 2m1-2l-3 0m-60 52l11-6-1 3m1-3l-3 0m-9 4l12-5-2 2m2-2l-3-1m3 4l9-5-2 2m2-2l-3 0m3 2l11-4-2 2m2-2l-3 0m1-1l11-5-2 3m2-3l-3 0m12-5l11-3-2 2m2-2l-3-1" stroke="#30d6e6" stroke-opacity="0.8" stroke-width="1.3"/>
<path d="M155 511l-8 1m8 11l-7-4 3 0m-3 0l1 3m11-23l-5-5m15-6l-10 0 2-1m-2 1l2 1m8 34l-8-3m7 28l-9 3 2-2m-2 2l2 0m4 2l-6 4 1-3m-1 3l3-1m13-18l-8 2m12-37l-8-3 2 0m-2 0l1 2m10 6l-10-4m6 33l-7 4 1-2m-1 2l2 0m2 0l-5 4m15-25l-11-1 2-1m-2 1l2 1m12 7l-10-4m9-66l-2-8 2 2m-2-2l-1 2m3 47l-4-6 2 1m-2-1l0 3m7 16l-6-6 2 1m-2-1l1 2m8 26l-10-3m7 23l-5 7m14-97l-11-5 3 0m-3 0l2 3m9 12l-8-5 3 0m-3 0l1 2m6 38l-7-9m5 12l-6-5 2 0m-2 0l1 3m7 34l-12-1 3-1m-3 1l3 2m7 8l-11 1m11 1l-9 1 2-1m-2 1l3 1m8 15l-5 6 0-2m0 2l2-1m1 20l-7 6m13-112l-9-3m11 17l-7-3 3 0m-3 0l1 2m6 12l-12 2m11 12l-11-2m11 2l-10 2 2-2m-2 2l2 0m6 14l-7-1 2-1m-2 1l2 1m7 2l-7 5m6 10l-6 4m8 12l-7 6 1-3m-1 3l3-1m7-93l-4-9 2 2m-2-2l0 3m8 17l-7-2m6 19l-7-6m8 10l-11-3m8 13l-10-1 2-1m-2 1l2 1m6 4l-7 0m9 19l-9 4m8 15l-5 10m8-1l-7 5 1-2m-1 2l3 0m2 14l-3 8 0-3m0 3l2-2m9-145l-6-9 3 2m-3-2l1 3m3 34l-9-3 2 0m-2 0l2 2m10 9l-8-7 2 1m-2-1l1 2m3 9l-8-2m9 29l-10-6m10 15l-10 0 2-1m-2 1l2 1m7 2l-8 4 2-2m-2 2l3 0m7 18l-7 4 2-2m-2 2l3 0m4 6l-9 4 2-2m-2 2l3 0m7-130l1-10 1 2m-1-2l-2 2m4 25l-3-10 1 1m-1-1l-1 2m6 27l-5-9m5 13l-5-7 3 1m-3-1l1 3m6 8l-8-6m3 15l-1-8 1 2m-1-2l-1 2m3 12l-3-9 2 2m-2-2l-1 3m3 8l-3-7 2 2m-2-2l0 2m7 17l-10-4m10 8l-8 0 2-2m-2 2l2 1m4 7l-8 2m9 0l-8 6 1-2m-1 2l2-1m3 0l-4 6 0-2m0 2l2-1m5 8l-8 5m3 0l-1 12m7 3l-6 6 1-3m-1 3l3-1m8-75l-7-7 2 1m-2-1l1 3m3 14l-3-7m4 17l-7-3 3 0m-3 0l2 2m2 30l-1 11m3 3l-3 12m1 4l-2 12-1-3m1 3l2-2m11-143l-6-9m3 44l1-9 1 3m-1-3l-2 2m5 12l-6-9 2 1m-2-1l0 3m3 12l-3-6 2 1m-2-1l0 2m3 18l-6-7 2 1m-2-1l0 3m6 9l-7-2 3 0m-3 0l2 2m10 11l-9 0m3 22l-2 8-1-3m1 3l2-2m-2-1l2 11-2-2m2 2l1-2m-2 2l-3 7 0-2m0 2l2-1m1 3l-4 8m11-99l1-10m-1 23l-4-9 2 2m-2-2l0 3m3 30l-4-7m5 11l-6-7 3 1m-3-1l1 2m8 11l-7 8m4 15l3 12m0-7l-6 10 0-2m0 2l2-1m-2-1l0 9-1-3m1 3l1-3m2 12l-6 9m2-4l5 9-2-2m2 2l0-3m4-134l-3-7m6 13l-3-10 2 2m-2-2l-1 3m-1 29l-1-9m4 17l-4-9m2 21l-2-12m2 32l1-12 1 2m-1-2l-2 2m2 5l-1 11-1-2m1 2l1-2m0-1l-5 6 1-3m-1 3l3-1m4 5l0 9-1-3m1 3l1-3m-3-1l-4 9m4 6l-2 7-1-2m1 2l1-1m2 3l-5 9m7-119l2-8 0 3m0-3l-2 2m1 38l4-9m-4 13l0-9 2 2m-2-2l-1 2m1 34l1-7m-4 15l8 3m-3 0l0 8-1-2m1 2l1-2m-1 5l4 9-2-2m2 2l0-3m-5 24l5 10m-6 9l0 7m7-124l6-8-1 3m1-3l-3 1m-6 16l4-10m-6 24l8-6-1 2m1-2l-3 0m-3 25l5-8m-4 15l9 5-3 0m3 0l-2-2m-9 2l11 2-2 1m2-1l-2-2m-8 6l8 2-2 1m2-1l-2-2m-2 10l5 6-3-1m3 1l-1-3m-4 9l0 9m1-5l2 8m5-110l0-11 1 2m-1-2l-1 2m-1 27l1-9 1 3m-1-3l-2 3m-1 11l1-12m-3 36l10-7-1 3m1-3l-3 1m-6 8l10-3-2 2m2-2l-3 0m-5 14l4-7 0 3m0-3l-2 2m-8 4l11-1-2 1m2-1l-2-1m-3 33l4 11-2-2m2 2l1-2m-3 21l1 11-1-2m1 2l1-2m-7-3l6 9-2-2m2 2l0-3m-4 2l4 10-2-2m2 2l1-3m-3-2l-2 8m6-128l8-6m-9 13l7-7-1 2m1-2l-3 1m-2 38l5-6 0 3m0-3l-2 1m-6 18l8 4m-7 2l9 2-3 1m3-1l-2-2m-4 5l3 8-2-2m2 2l0-3m-6 0l8 8m-5 7l0 8-1-3m1 3l1-3m6-120l0-10 1 3m-1-3l-1 2m-5 32l5-6 0 2m0-2l-2 1m-1 6l6-4m-6 24l2-9 1 3m-1-3l-1 2m0 13l2-8m-4 14l7-6m-10 16l10-4-2 2m2-2l-3 0m-3 14l10 3-2 0m2 0l-2-2m-6 21l4 8m-9-1l9 4-2 0m2 0l-1-2m-2 3l4 9-2-2m2 2l0-3m-6 18l6 10m-4-3l4 9m1-150l2-8 1 2m-1-2l-2 2m-3 8l6-7m-2 37l1-7m-1 21l3-7m-5 12l7-5m-10 23l8-8-1 3m1-3l-3 1m-5 28l8 3m-8 2l10-1m-9 27l7 2m-5 9l3 10-2-2m2 2l0-3m-4 9l4 5-2-1m2 1l0-2m-1-111l8-9-1 3m1-3l-2 1m-4 39l11 0m-10 8l8-3-2 2m2-2l-3-1m-7 21l7 3-2 1m2-1l-1-2m-4 9l8 4m0-80l5-7 0 2m0-2l-2 1m-5 17l8-7m-7 14l5-8m-8 15l9-5m-9 40l8 7m-10 10l10 4m-6 12l7 5-3 0m3 0l-1-2m-2-107l7-3-2 2m2-2l-3 0m-3 17l7-6-1 2m1-2l-3 0m-5 15l10-3m-12 16l10-5-2 2m2-2l-3 0m-5 9l11 2m-10 9l11 4-3 1m3-1l-2-2m-12 20l10-1m-1-5l9 0m-10 3l9 1m-9 6l10 0-2 1m2-1l-2-1m0-4l11 1m-13 8l10 2-3 1m3-1l-2-2m-4 10l5 4m-9 5l12 0-3 1m3-1l-3-1m3-82l6-10m-5 21l7-2-2 2m2-2l-2 0m0 4l7-3m-10 17l12-2m-5 6l10 2-3 1m3-1l-2-1" stroke="#30d6e6" stroke-opacity="0.9" stroke-width="1.2"/>
<path d="M264 528l13-1-3 1m3-1l-3-1m21-1l11 0-2 2m2-2l-3-1m2 1l12-1-2 1m2-1l-3-2m-32 22l10 3-3 1m3-1l-2-2m-39-10l7 8-3-1m3 1l-1-3m25 36l7 8-3-1m3 1l-1-3m-4-6l6 8-3-1m3 1l0-3m-41-30l4 12-3-2m3 2l0-3m0 13l4 11-3-2m3 2l0-3m-2 3l2 11-2-2m2 2l1-2m-2-10l4 12-3-2m3 2l0-3m-19-28l0 12-2-2m2 2l1-2m-4 1l1 13-2-3m2 3l1-3m-1 12l-2 11-1-3m1 3l2-2m-16-22l-4 12 0-3m0 3l2-2m3-39l-7 10 1-3m-1 3l3-1m6-8l-6 11 0-3m0 3l3-2m-15 17l-6 11 0-3m0 3l3-2m22-53l-8 6 1-3m-1 3l3 0m-30 15l-10 8 1-3m-1 3l3-1m30-30l-11 5 2-3m-2 3l3 0m-12 2l-10 4 2-2m-2 2l3 1m-11 1l-11 6 1-3m-1 3l3 0m63-26l-13-2 3-1m-3 1l2 2m-31-2l-11-1 3-1m-3 1l2 2m-1 1l-11-1 3-1m-3 1l3 2m-2 0l-10 0 2-1m-2 1l2 1m23-18l-12-1 3-2m-3 2l3 1m9 1l-11-3 3-1m-3 1l2 2m30-16l-10-5 3 0m-3 0l2 2m-1-2l-8-8 3 1m-3-1l1 3m41 26l-7-9 3 1m-3-1l0 3m-7-43l-4-10 3 2m-3-2l0 3m28 39l0-12 2 2m-2-2l-1 2m5 24l2-12 1 3m-1-3l-2 3m5-1l3-11 1 3m-1-3l-2 2m10 11l6-8-1 3m1-3l-3 2m24 12l12-4-2 2m2-2l-3-1" stroke="#58e0a8" stroke-opacity="0.8" stroke-width="1.3"/>
<path d="M182 522l-8-5 3 1m-3-1l1 3m7 12l-10 2m8 15l-7 1m11-13l-8 1 2-2m-2 2l2 1m11 14l-11 2m13-69l-3-8m2 25l-9-7 3 1m-3-1l1 3m8 25l-9 0m18 8l-8-1m9 9l-11 0 2-2m-2 2l2 1m6 24l-10 6 2-2m-2 2l3 0m17-89l-2-7 2 1m-2-1l-1 2m4 17l-7-5m16 65l-10 6 2-2m-2 2l3 0m4 0l-7 5m16-86l-5-10 2 1m-2-1l0 3m6 43l-10-1 2-1m-2 1l2 1m4 72l1 12-2-2m2 2l1-3m0-123l-1-12m6 25l-7-8m9 47l-11 0 3-2m-3 2l3 1m4 14l-2 8m5 14l-8 9m14-113l-5-6m3 17l-5-6 2 1m-2-1l0 2m5 56l-6-5m4 43l-3 8 0-3m0 3l2-2m-1 17l-1 7m10-126l1-7m-5 17l2-11m-2 12l2-7 1 2m-1-2l-1 2m0 39l3-10 1 2m-1-2l-2 2m1 11l0-9 1 3m-1-3l-1 3m1 39l-2 11m11-81l-1-12 1 2m-1-2l-1 2m0 36l1-9 1 2m-1-2l-2 2m-2 39l2 9m1 23l-5 7 0-2m0 2l3-1m1 9l3 7m-3 1l-1 7-1-2m1 2l1-2m9-92l-3-10 2 2m-2-2l0 2m-5 21l6-10 0 2m0-2l-2 1m2 46l-1 8m-1 25l3 10-2-2m2 2l0-2m-5-2l3 9m4-130l5-8m-8 47l10-6m-6 68l-2 11-1-3m1 3l1-2m-2-2l5 11m-4-1l3 9-2-2m2 2l0-3m7-125l2-11 1 2m-1-2l-1 2m-4 28l3-9m-6 56l7 6-3-1m3 1l-1-3m-6 29l8 6m4-107l0-10m-2 15l7-9m-7 39l6-4-2 2m2-2l-3 0m-4 13l7-10-1 3m1-3l-3 1m-4 72l5 4-2 0m2 0l-1-2m4-84l4-7m-5 48l6 5m-5 36l3 10m-6-5l4 8m0-61l7 3m-6 6l11 2m-11 22l7 5m-5 8l3 10m5-99l2-8 0 3m0-3l-2 2m-5 20l9-6-1 2m1-2l-3 0m-3 10l8-8-1 2m1-2l-3 1m-7 47l8 0-3 1m3-1l-3-1m-2 31l4 9m-3-51l11-5-2 2m2-2l-3 0m-6 8l10 4m-13 33l10 2m-1-54l9-2-2 2m2-2l-3-1m-7 37l7 4-3 0m3 0l-1-2m-3 2l4 6-2-1m2 1l0-2m-3-43l11 1-3 1m3-1l-2-1m-7 7l10-3-2 2m2-2l-3 0m-6 32l9 1m-5-16l10-3-2 2m2-2l-2 0" stroke="#58e0a8" stroke-opacity="0.9" stroke-width="1.2"/>
<path d="M255 511l7-10 0 3m0-3l-2 1m2 0l6-10 0 3m0-3l-3 1m3 0l8-9-1 3m1-3l-3 1m1-1l6-9 0 3m0-3l-3 1m-24 34l7-11 0 3m0-3l-3 2m3 0l8-10-1 3m1-3l-3 2m1-1l7-10 0 3m0-3l-3 1m2 0l7-10-1 3m1-3l-3 2m-24 33l6-10 0 3m0-3l-2 2m2-1l8-9-1 3m1-3l-3 1m1-1l7-10 0 3m0-3l-3 2m3-1l6-8 0 3m0-3l-3 1m-13 59l11 3-3 1m3-1l-2-2m1 2l12 3-3 0m3 0l-2-2m1 2l11 4-3 0m3 0l-2-3m2 2l6 2-2 0m2 0l-2-3m-36-10l12 3-3 1m3-1l-2-2m1 2l11 4-3 0m3 0l-2-3m2 2l11 2-2 1m2-1l-2-2m1 3l7 2-3 0m3 0l-2-2m-36-11l11 4-3 0m3 0l-2-2m2 1l11 2-3 1m3-1l-2-2m1 3l12 3-3 1m3-1l-2-2m1 2l6 2-2 0m2 0l-2-3m-36-16l10-5-1 2m1-2l-3 0m3 1l11-3-2 2m2-2l-3-1m2 1l12-3-2 2m2-2l-3-1m2 0l2-1-1 1m1-1l-1 0m-33 10l11-3-2 2m2-2l-2-1m1 0l11-5-2 3m2-3l-3 0m2 2l12-4-2 2m2-2l-3-1m2 1l3-1-1 1m1-1l-2 0m-33 10l12-3-3 2m3-2l-3-1m1 0l12-3-2 2m2-2l-3-1m2 1l11-5-2 2m2-2l-3 0m2 1l3-1-1 1m1-1l-2 0" stroke="#58e0a8" stroke-opacity="0.6" stroke-width="1.5"/>
<path d="M243 534l-1 10-1-2m1 2l1-2m-8-14l-12 4 2-3m-2 3l3 0m10-6l-12-3 3-1m-3 1l2 2m11-4l-8-7 3 1m-3-1l1 3m6 5l-9-5 3 0m-3 0l2 2m9-1l-5-8 2 1m-2-1l0 3m5 7l-4-9 3 1m-3-1l0 3m11 5l2-11 1 3m-1-3l-2 3m-2 7l2-10 1 3m-1-3l-2 2" stroke="#1e8cf0" stroke-opacity="0.8" stroke-width="1.3"/>
<path d="M241 525l-11 4m15-5l7 7-3 0m3 0l-1-2" stroke="#1e8cf0" stroke-opacity="0.9" stroke-width="1.2"/>
<path d="M243 528l4 7-2-1m2 1l0-3m-9-7l-10-4 2 0m-2 0l1 2m14 0l5-8 0 3m0-3l-2 1m-4 14l0 9-1-2m1 2l1-2m-3-14l-6-8 2 1m-2-1l1 3m13 1l5-7 0 2m0-2l-2 1m-18 11l-10-3 2 0m-2 0l1 2m20 0l3-7 0 3m0-3l-2 2m-6 7l-8-3 3 0m-3 0l2 2m11-2l3-7 1 2m-1-2l-1 1m-11 12l-10 4 2-2m-2 2l2 0m16 1l1 10-1-2m1 2l1-2m-1-14l6 4-2 0m2 0l-1-2m3-3l10-1-2 2m2-2l-2-1m-26 6l-8 4 1-2m-1 2l3 0m10-9l-9-2 2 0m-2 0l2 2" stroke="#1e8cf0" stroke-opacity="0.75" stroke-width="1.8"/>
<path d="M274 538l9 6-3 0m3 0l-1-3m1 1l9 5-3 0m3 0l-1-3m1 2l10 5-3 0m3 0l-2-2m1 1l12 4-3 0m3 0l-2-3m-19 18l9 10-3-1m3 1l-1-3m-36-25l7 10-3-2m3 2l0-3m-2 3l7 8-3-1m3 1l0-3m-30-27l4 12-3-2m3 2l0-3m0 13l3 12-2-2m2 2l1-3m-14-36l-4 12-1-3m1 3l2-2m-14 29l-4 11 0-3m0 3l2-2m-5 11l-3 10-1-3m1 3l2-2m22-65l-8 10 1-3m-1 3l3-2m-20 29l-5 9 0-3m0 3l2-2m25-50l-11 4 2-3m-2 3l3 0m-28-8l-10 1 2-2m-2 2l2 1m-21-2l-10 0 2-1m-2 1l2 1m63-4l-10-2 3-1m-3 1l2 2m0-4l-12-3 3-1m-3 1l3 2m-12-2l-12-2 2-1m-2 1l2 2m42 1l-8-7 3 1m-3-1l1 3m-9-9l-9-6 3 0m-3 0l1 3m-7-9l-9-7 3 1m-3-1l1 3m34 6l-6-9 3 2m-3-2l0 3m-4-10l-5-9 2 2m-2-2l0 3m17 11l-4-10 2 1m-2-1l-1 2m24-14l0-12 2 3m-2-3l-1 3m24 42l8-9-1 3m1-3l-3 1m-9 21l10-6-2 3m2-3l-3 0m3 2l8-7-1 3m1-3l-3 1m-10 17l10-5-2 3m2-3l-3 0m2 1l11-4-2 2m2-2l-3-1m3 4l12-6-2 2m2-2l-3 0m2 1l10-3-2 2m2-2l-2-1m1 1l10-5-1 3m1-3l-3 0m-8 2l11-3-2 2m2-2l-3 0" stroke="#b0dc3a" stroke-opacity="0.8" stroke-width="1.3"/>
<path d="M178 518l-7-5 3 0m-3 0l1 2m13-22l-8-1m7 48l-8 5m14-27l-9 1 2-2m-2 2l2 1m7 21l-7 3m11 7l-8-1m6 7l-8 7m8 1l-12 2m15-83l-5-8m7 43l-8 2m8 38l-8 1 3-1m-3 1l3 1m11-83l-5-10 2 2m-2-2l0 3m4 11l-6-4m9 8l-7-6m8 73l-9 3m6 11l-9 6 1-3m-1 3l3-1m7 1l-9 5 2-2m-2 2l3 0m14-32l-8 4 2-2m-2 2l3 0m4 11l-7 6 1-3m-1 3l3-1m10-88l-7-4m8 40l-11 1 2-2m-2 2l3 1m2 57l0 12m1 0l-4 7m8-13l-2 11-1-2m1 2l1-2m9-95l-6-7 3 1m-3-1l1 3m2 86l2 11m0 2l0 11-1-2m1 2l1-2m10-122l-6-8m4 36l-2-7 1 2m-1-2l-1 3m2 35l-5 8 0-3m0 3l2-2m3 1l-2 8m4 25l-7 9 1-3m-1 3l3-1m7-79l2-11 1 3m-1-3l-2 2m-2 37l-2 10m2 30l3 9-2-2m2 2l1-3m4-94l-3-11 2 2m-2-2l-1 3m5 77l-3 9m8-84l-2-9 2 2m-2-2l-1 3m8 16l1-10 1 3m-1-3l-1 2m-2 32l8-5m-5 43l0 11m4-59l6-9m-11 58l9 4m-6 3l8 6-3 0m3 0l-1-2m-3-67l6-9 0 3m0-3l-3 1m2 99l1 9m15-66l7 5-2-1m2 1l-1-3m-9 17l10 1m-8 18l7 6m-4 5l5 9m-3-45l8-1-2 1m2-1l-2-1m3 23l6 7m-8 0l5 7m2-78l8-4-1 2m1-2l-2 0m-10 18l8-4m-6 42l9 7m-2-33l9 2" stroke="#b0dc3a" stroke-opacity="0.9" stroke-width="1.2"/>
<path d="M250 512l4-11 0 3m0-3l-2 1m1-1l4-11 0 3m0-3l-2 2m2-1l5-11 0 3m0-3l-3 2m2-1l4-11 1 3m-1-3l-2 1m2-1l1-3 0 1m0-1l-1 1m-18 43l4-12 0 3m0-3l-2 3m2-1l4-12 0 3m0-3l-2 2m2-1l4-11 1 3m-1-3l-2 2m2-1l5-11 0 3m0-3l-3 2m2-1l1-4 0 2m0-2l-1 1m-18 43l4-11 1 3m-1-3l-2 2m2-1l3-12 1 3m-1-3l-2 2m3 0l3-12 1 3m-1-3l-2 2m3-1l4-11 0 3m0-3l-2 2m1-1l2-4 0 2m0-2l-2 1m-18 48l-2-12 2 2m-2-2l-1 3m1-2l-2-12 2 2m-2-2l-1 3m1-2l-1-12 1 3m-1-3l-1 3m0-2l-2-11 2 2m-2-2l-1 2m1-2l-1-7 2 2m-2-2l-1 3m8 48l-3-11 2 2m-2-2l-1 3m2-3l-2-12 2 3m-2-3l-1 3m1-1l-2-12 2 2m-2-2l-1 2m1-1l-1-12 1 2m-1-2l-2 3m1-2l-1-8 2 2m-2-2l-1 3m8 49l-1-12 1 2m-1-2l-2 2m1-1l-3-12 2 2m-2-2l-1 3m2-2l-3-12 2 2m-2-2l0 3m1-2l-2-12 2 3m-2-3l-1 3m1-2l-1-8 2 3m-2-3l-1 3m5 74l-6 10 0-3m0 3l3-2m-1 2l-6 10 0-3m0 3l2-2m-1 2l-5 11 0-3m0 3l3-2m-3 0l-5 11 0-3m0 3l2-2m-1 1l-3 8-1-3m1 3l2-2m21-44l-5 10 0-3m0 3l2-2m-1 1l-5 12 0-3m0 3l2-2m-2 0l-5 11 0-3m0 3l2-2m-2 1l-4 11-1-3m1 3l2-1m-2 0l-4 7 0-3m0 3l2-1m22-45l-4 11-1-3m1 3l2-1m-2 0l-5 11-1-3m1 3l2-1m-2 0l-4 12-1-3m1 3l2-2m-3 0l-4 12 0-3m0 3l2-2m-2 0l-4 7 0-3m0 3l2-1m21-41l-1 12-1-3m1 3l2-3m-2 2l0 12-2-3m2 3l1-3m-2 2l-1 12-1-3m1 3l2-3m-2 2l-2 11-1-2m1 2l2-2m-1 2l-1 7-1-2m1 2l2-2m5-49l-1 12-1-3m1 3l2-3m-2 2l-1 12-1-3m1 3l2-3m-2 2l-1 12-1-3m1 3l2-3m-2 2l0 12-1-3m1 3l2-3m-3 2l-1 8-1-3m1 3l2-3m5-49l-1 12-1-3m1 3l2-2m-2 1l-1 12-1-3m1 3l1-2m0 1l-2 12-1-3m1 3l2-2m-1 1l0 12-2-3m2 3l1-3m-2 2l-1 8-1-3m1 3l2-3" stroke="#b0dc3a" stroke-opacity="0.6" stroke-width="1.5"/></g></g>
<path d="M91.8 238.1V235.5H93.6M145.3 235.5H147.1V237.3M147.1 289.1V290.9H145.3M93.6 290.9H91.8V289.1" fill="none" stroke="#1a1a1a" stroke-width="1.6" stroke-linejoin="round"/>
<path d="M95.9 235.5H145.3M147.1 239.6V289.1M95.9 290.9H145.3M91.8 240.4V289.1" fill="none" stroke="#1a1a1a" stroke-width="1.6" stroke-dasharray="5.3 2.3"/>
<circle cx="270" cy="262.5" r="72" stroke="#a8a8a8" stroke-width="0.9" fill="none"/>
<circle cx="270" cy="262.5" r="66" stroke="#c4c4c4" stroke-width="0.8" fill="none"/>
<g fill="none" stroke-linecap="round" filter="url(#sf)"><g transform="scale(.5)"><path d="M613 523l11-1-2 2m2-2l-3-1m4 23l12 4-2 0m2 0l-2-2m-10-3l13 3-3 1m3-1l-2-2m-76 51l4 10-3-2m3 2l0-3m-42-4l-3 13-1-3m1 3l2-3m4-9l-2 12-1-2m1 2l2-2m-48-48l-11 8 2-3m-2 3l3 0m-11 6l-8 6 1-3m-1 3l3 0m4-21l-10 5 1-2m-1 2l3 0m1-41l-10 0 2-1m-2 1l2 2m-1-2l-11-1 3-1m-3 1l3 2m8 2l-11 1 3-2m-3 2l3 1m29-28l-11-5 2 0m-2 0l1 3m29-50l-8-8 3 1m-3-1l1 3m5 7l-7-8 2 1m-2-1l0 3m85 3l2-10 1 3m-1-3l-2 2m4-1l2-11 1 3m-1-3l-2 2m47 49l10-8-2 3m2-3l-3 0m-1 20l12-4-2 2m2-2l-3-1" stroke="#4a5ad0" stroke-opacity="0.8" stroke-width="1.3"/>
<path d="M454 530l-10 0m16-11l-11-3 2-1m-2 1l2 2m10 13l-11 0m11 5l-9 1m9 4l-7-1m11-21l-6-5m5 12l-8-2 3 0m-3 0l2 2m13-51l-8 0m7 88l-8 4m13-92l-3-7m7 17l-10-5 3 0m-3 0l1 2m16-19l-8-3 2-1m-2 1l1 1m20-10l-4-10m3 23l-5-10 3 2m-3-2l0 3m8 144l-9 6 1-2m-1 2l3 0m7-4l-7 7m8-159l1-11 1 3m-1-3l-1 2m5 162l-6 10m18-20l-4 7 0-3m0 3l2-2m-4 4l1 9m15-14l0 12m8 0l0 7-1-2m1 2l2-2m4-172l0-8 1 2m-1-2l-1 2m4 158l-3 9-1-2m1 2l2-2m5-155l3-11m-3 14l0-9m3 156l-3 9m7-152l0-12m18 21l4-10 0 2m0-2l-2 1m0 146l8 5m5-135l8-5-1 2m1-2l-2 0m-3 17l4-9m-11 103l10 3m-1-103l9-7-1 3m1-3l-2 1m-6 11l7-6-1 2m1-2l-3 0m-5 91l4 6-2-1m2 1l0-3m0-86l11-2-2 2m2-2l-3-1m-6 15l7-2m-7 64l5 6-3-1m3 1l-1-3m-4 19l7 8-3-1m3 1l-1-2m-5-1l4 9-2-1m2 1l0-2m6-80l7-4m-5 13l7-1-2 2m2-2l-2-1m-6 12l7 1m-10 29l9 3-2 0m2 0l-2-2m3-66l8-8m-9 23l12-1-3 1m3-1l-3-1m-9 35l6 5-2-1m2 1l0-2m-2-28l8-6-1 3m1-3l-3 1m-6 11l11 0" stroke="#4a5ad0" stroke-opacity="0.9" stroke-width="1.2"/>
<path d="M410 504l-2-3m2 3l2-5m-2 5l4 0m-4 0l2 3m-2-3l-3 5m3-5l-5 0m4 22l-4-4m4 4l0-6m0 6l4-2m-4 2l3 4m-3-4l-2 5m2-5l-6 1m6 18l-4-2m4 2l1-5m-1 5l4-2m-4 2l4 2m-4-2l-1 4m1-4l-4 2m27-88l-1-4m1 4l5-3m-5 3l4 2m-4-2l2 4m-2-4l-5 3m5-3l-4 0m5 20l-1-4m1 4l2-4m-2 4l6 3m-6-3l3 5m-3-5l-3 5m3-5l-6 0m6 25l-5-5m5 5l2-6m-2 6l5-2m-5 2l1 5m-1-5l-4 5m4-5l-7-2m4 24l-3-4m3 4l2-6m-2 6l6-1m-6 1l5 4m-5-4l-1 5m1-5l-5 2m9 19l-5-2m5 2l0-6m0 6l5-2m-5 2l3 3m-3-3l1 5m-1-5l-7 2m6 21l-6-2m6 2l-1-7m1 7l5-5m-5 5l4 1m-4-1l1 6m-1-6l-4 2m5 18l-4-1m4 1l-1-4m1 4l3-3m-3 3l4 2m-4-2l1 6m-1-6l-4 3m25-156l-1-5m1 5l4-1m-4 1l4 3m-4-3l-1 6m1-6l-4 2m4-2l-4-2m3 23l-1-5m1 5l4-4m-4 4l5 3m-5-3l1 5m-1-5l-4 3m4-3l-6-1m7 23l0-6m0 6l3-4m-3 4l6 0m-6 0l2 4m-2-4l-3 5m3-5l-5-3m2 27l-3-5m3 5l3-4m-3 4l5 0m-5 0l3 4m-3-4l-3 7m3-7l-6 2m5 18l-5-4m5 4l2-6m-2 6l7-1m-7 1l6 3m-6-3l0 5m0-5l-5 1m8 20l-4-3m4 3l-1-5m1 5l5-1m-5 1l5 2m-5-2l-1 5m1-5l-4 4m2 22l-4-2m4 2l0-6m0 6l4-3m-4 3l5 1m-5-1l0 6m0-6l-4 5m3 13l-6-1m6 1l-3-4m3 4l4-4m-4 4l5 1m-5-1l1 6m-1-6l-4 5m5 16l-3 0m3 0l-1-4m1 4l4-4m-4 4l5 2m-5-2l4 4m-4-4l-2 3m24-196l0-4m0 4l5 0m-5 0l3 3m-3-3l-1 4m1-4l-3 2m3-2l-4-4m4 24l-1-5m1 5l6-1m-6 1l5 4m-5-4l-2 6m2-6l-5 1m5-1l-5-4m4 27l0-6m0 6l5-2m-5 2l6 3m-6-3l-1 6m1-6l-4 4m4-4l-6-3m10 134l-6 1m6-1l-2-6m2 6l3-4m-3 4l6 1m-6-1l3 3m-3-3l-3 6m1 15l-5 1m5-1l-2-5m2 5l4-6m-4 6l6-1m-6 1l4 3m-4-3l-1 5m-1 18l-4 2m4-2l-4-3m4 3l2-4m-2 4l4-1m-4 1l3 4m-3-4l-2 4m27-220l1-6m-1 6l5-1m-5 1l4 5m-4-5l-1 4m1-4l-5 0m5 0l-3-6m1 25l2-6m-2 6l5-1m-5 1l4 4m-4-4l-2 4m2-4l-6 2m6-2l-3-3m6 178l-6 2m6-2l-4-3m4 3l0-6m0 6l5-3m-5 3l5 3m-5-3l0 5m0 18l-5 2m5-2l-4-3m4 3l1-6m-1 6l5-2m-5 2l5 4m-5-4l-3 6m21-247l2-3m-2 3l3 1m-3-1l2 5m-2-5l-2 5m2-5l-4 0m4 0l-3-3m4 23l2-4m-2 4l6 0m-6 0l2 5m-2-5l-5 5m5-5l-7 0m7 0l-4-5m4 29l3-7m-3 7l7 1m-7-1l2 5m-2-5l-3 4m3-4l-5 0m5 0l-3-6m3 179l-5 4m5-4l-6-3m6 3l0-5m0 5l6-2m-6 2l4 3m-4-3l-1 7m3 13l-6 3m6-3l-5-1m5 1l0-6m0 6l4-2m-4 2l5 2m-5-2l1 5m-2 19l-4 3m4-3l-5-2m5 2l-1-5m1 5l4-3m-4 3l4 2m-4-2l0 4m20-267l4-2m-4 2l5 0m-5 0l1 4m-1-4l-5 3m5-3l-5-2m5 2l-1-5m2 29l4-3m-4 3l7 2m-7-2l3 5m-3-5l-5 3m5-3l-6-2m6 2l-1-5m1 27l6-3m-6 3l5 2m-5-2l2 7m-2-7l-3 6m3-6l-5-1m5 1l-1-6m2 177l-3 5m3-5l-6-2m6 2l0-5m0 5l3-5m-3 5l5 3m-5-3l0 6m-3 20l-4 3m4-3l-6-1m6 1l0-6m0 6l5-3m-5 3l4 1m-4-1l3 5m-1 15l-2 4m2-4l-4 0m4 0l-2-5m2 5l4-2m-4 2l4 2m-4-2l1 5m19-266l3-3m-3 3l3 2m-3-2l0 5m0-5l-4 3m4-3l-4-2m4 2l0-5m1 26l5-4m-5 4l5 3m-5-3l1 5m-1-5l-5 5m5-5l-4-3m4 3l-1-6m0 28l6-3m-6 3l4 3m-4-3l0 7m0-7l-4 3m4-3l-4-3m4 3l0-6m3 178l-2 6m2-6l-6 1m6-1l-3-6m3 6l2-4m-2 4l6 1m-6-1l2 5m-2 19l-4 6m4-6l-5 0m5 0l-3-6m3 6l3-4m-3 4l5 0m-5 0l3 5m-6 14l-2 4m2-4l-5 1m5-1l-2-3m2 3l3-4m-3 4l5 1m-5-1l3 4m20-242l6-4m-6 4l4 3m-4-3l0 5m0-5l-4 2m4-2l-4-3m4 3l0-6m2 28l5-2m-5 2l3 3m-3-3l0 6m0-6l-5 2m5-2l-4-5m4 5l1-6m-2 178l-1 5m1-5l-6 2m6-2l-4-4m4 4l2-4m-2 4l5-1m-5 1l5 4m-6 23l-3 4m3-4l-5-1m5 1l-5-5m5 5l3-5m-3 5l4-1m-4 1l4 3m18-220l5-1m-5 1l3 4m-3-4l-2 4m2-4l-5 2m5-2l-3-5m3 5l0-5m2 26l6 0m-6 0l4 5m-4-5l-3 5m3-5l-5 1m5-1l-4-4m4 4l2-5m-3 25l6 0m-6 0l2 5m-2-5l-3 4m3-4l-6-2m6 2l-4-5m4 5l3-4m-5 133l0 5m0-5l-4 3m4-3l-4-3m4 3l-1-5m1 5l3-3m-3 3l4 5m-1 16l-1 5m1-5l-6 2m6-2l-5-4m5 4l2-7m-2 7l4-3m-4 3l5 4m-7 21l-1 5m1-5l-6 1m6-1l-3-2m3 2l2-5m-2 5l4-1m-4 1l3 4m20-200l4 1m-4-1l3 5m-3-5l-2 3m2-3l-5 0m5 0l-3-4m3 4l2-5m-2 27l6 1m-6-1l2 6m-2-6l-3 4m3-4l-6 0m6 0l-3-6m3 6l3-4m-4 24l4 1m-4-1l1 7m-1-7l-4 4m4-4l-5-1m5 1l0-4m0 4l3-3m-5 25l4 2m-4-2l0 5m0-5l-6 3m6-3l-5-3m5 3l-1-7m1 7l5-3m-6 26l5 3m-5-3l-1 4m1-4l-6 2m6-2l-3-4m3 4l4-7m-4 7l6-2m-1 20l3 4m-3-4l-3 7m3-7l-6 1m6-1l-2-4m2 4l4-5m-4 5l7-2m-8 25l1 7m-1-7l-4 5m4-5l-5-1m5 1l-1-4m1 4l3-4m-3 4l5 2m-4 21l0 5m0-5l-6 3m6-3l-6-2m6 2l-1-6m1 6l4-2m-4 2l5 3m-8 19l0 4m0-4l-4 4m4-4l-3-3m3 3l1-4m-1 4l4-3m-4 3l4 3m17-157l4 1m-4-1l2 4m-2-4l-4 3m4-3l-4-3m4 3l-1-5m1 5l4-4m-1 28l5 2m-5-2l0 7m0-7l-4 5m4-5l-6-2m6 2l0-5m0 5l4-4m-5 27l5 3m-5-3l-1 5m1-5l-4 2m4-2l-3-3m3 3l1-6m-1 6l6-2m-7 22l5 5m-5-5l-2 5m2-5l-5 2m5-2l-6-4m6 4l1-6m-1 6l4 0m-5 23l2 5m-2-5l-2 6m2-6l-7 0m7 0l-2-6m2 6l2-4m-2 4l6 1m-5 18l3 6m-3-6l-4 4m4-4l-5-1m5 1l-2-5m2 5l4-4m-4 4l6 3m-6 19l1 6m-1-6l-4 4m4-4l-5-2m5 2l-1-5m1 5l2-3m-2 3l4 1m16-109l4 1m-4-1l0 5m0-5l-4 2m4-2l-4-3m4 3l-1-5m1 5l5-4m-1 24l4 3m-4-3l-1 6m1-6l-5 1m5-1l-4-3m4 3l1-3m-1 3l5-3m-5 29l3 4m-3-4l-1 4m1-4l-4 1m4-1l-2-3m2 3l2-4m-2 4l4-1m-8 20l3 5m-3-5l-1 4m1-4l-3 0m3 0l-3-4m3 4l2-4m-2 4l4-1" stroke="#4a5ad0" stroke-opacity="0.6" stroke-width="1.6"/>
<path d="M418 507l-9-3 3 0m-3 0l2 3m4 23l-10-1 3-1m-3 1l3 2m5 17l-13-2 2-1m-2 1l2 2m30-84l-9-4 3 0m-3 0l1 2m7 14l-2 9-1-3m1 3l2-3m4 3l5-12 0 3m0-3l-2 2m-6 36l5-11 0 2m0-2l-2 1m5 0l-10-4 3 0m-3 0l2 2m0 19l-5 12-1-3m1 3l2-2m7-2l-10 0 2-1m-2 1l2 2m11 18l-6-8 3 1m-3-1l0 3m2-2l-1 10-1-3m1 3l2-2m-1 15l3 9-2-2m2 2l0-2m2-1l-7 6 1-3m-1 3l3-1m3 18l-9 2 2-2m-2 2l3 1m15-156l9-8-1 3m1-3l-3 1m6 37l-8-11 2 1m-2-1l0 2m4 8l-5-8 2 1m-2-1l0 2m8 23l-8-2 3 0m-3 0l2 2m10 3l-7-5 3 0m-3 0l1 2m-2 26l-11-3 3-1m-3 1l2 2m10-6l-8-3 3 0m-3 0l2 2m4 31l-4-8 3 1m-3-1l0 2m1-6l-8 2 2-2m-2 2l2 1m18 24l-10 4 2-2m-2 2l2 0m7-11l-10 5 1-2m-1 2l2 0m0 19l-12 5 2-3m-2 3l3 0m10 0l-9 7 1-2m-1 2l3 0m8 5l-5 8 0-3m0 3l2-2m-8-3l6 8-2-1m2 1l0-3m9 27l-11-5 3-1m-3 1l2 2m26-195l-10-10 3 1m-3-1l1 3m12 25l-5-7 2 1m-2-1l0 3m2 5l-5-8 2 1m-2-1l0 3m10 35l-11-8 3 0m-3 0l1 3m-1-4l-8-5 3 0m-3 0l2 3m20 140l-13-4 3-1m-3 1l2 2m5 0l-7-10 3 1m-3-1l0 3m0 16l-5 8 0-3m0 3l2-1m9-6l-7 9 0-3m0 3l2-1m-3 19l-5 7 0-3m0 3l3-1m30-223l-8 6 1-3m-1 3l3 0m6-2l-2-9 2 2m-2-2l-1 3m0 24l-9 8 1-3m-1 3l3-1m11-1l-3-12 2 2m-2-2l-1 3m5 176l-4 8 0-3m0 3l2-1m-10-11l10 5-3 0m3 0l-2-2m0 19l-1 11-1-3m1 3l1-2m7 1l-13 1 2-1m-2 1l3 1m19-236l-1-9 2 3m-2-3l-1 3m10 27l-1-10 1 2m-1-2l-1 3m-3 0l-2-12 2 2m-2-2l-1 3m0 34l0-9 1 2m-1-2l-2 2m7-1l-12 5 2-3m-2 3l3 0m8 176l-11-2 3-1m-3 1l2 2m7-7l11 4-3 1m3-1l-2-2m2 24l-12-3 3-1m-3 1l2 2m-9 2l14 0-3 2m3-2l-3-1m1 14l-4 8 0-2m0 2l2-1m26-262l-11 2 2-2m-2 2l3 1m5 25l-4-12 2 2m-2-2l0 3m4 9l-3-11 2 2m-2-2l0 2m-7 28l10 4-3 0m3 0l-2-2m-8-8l13 3-2 1m2-1l-2-2m-3 168l-1 13-1-3m1 3l2-2m3-6l2 9-2-2m2 2l1-3m-3 17l-12-1 3-1m-3 1l2 2m5-8l-3 12 0-3m0 3l2-2m2 17l-2 9-1-3m1 3l2-2m28-259l-10-5 3 0m-3 0l2 3m7 16l-9 1 2-1m-2 1l3 1m-11 1l13-4-2 2m2-2l-3 0m-1 16l10 9-3-1m3 1l-1-3m-1 4l-9-7 3 1m-3-1l1 3m-1 165l0 13-1-2m1 2l1-2m-3-11l5 12-3-2m3 2l0-3m2 21l4 10-2-2m2 2l0-3m-7-6l5 9-2-2m2 2l0-3m-3 7l4 8-2-1m2 1l0-2m13-240l9 5-3 0m3 0l-1-2m-10 7l5-10 0 3m0-3l-3 2m8 31l2-8 1 2m-1-2l-1 2m-12 3l9 1-3 1m3-1l-3-2m9 165l-11 1 2-1m-2 1l3 1m-3 2l8 10-2-1m2 1l0-2m-12 18l4 7-3-2m3 2l0-3m5-7l1 9-1-2m1 2l1-3m15-210l8-9-1 3m1-3l-3 1m-4 21l11 3-2 0m2 0l-2-2m-6 3l8-6-1 3m1-3l-2 1m-13 26l7-10 0 3m0-3l-2 1m9 11l-9-8 3 1m-3-1l1 3m-6 136l5-10 0 3m0-3l-2 2m3-6l-10 6 2-3m-2 3l3 0m7 27l8-11 0 2m0-2l-3 1m-2 3l5-8 0 2m0-2l-3 1m-10 36l8-5-2 2m2-2l-3 0m21-193l9-10 0 3m0-3l-2 1m1 35l-6-12 3 2m-3-2l0 3m0 12l6-8-1 3m1-3l-3 1m-12 15l11-3-2 2m2-2l-3-1m-2 16l8-8-1 2m1-2l-2 0m-14 17l10 0-3 1m3-1l-3-2m-6 1l8 10-3-1m3 1l-1-3m2 19l-2 9-1-3m1 3l2-2m0-9l-7 11 0-2m0 2l3-1m0 11l13 3-3 0m3 0l-3-2m-1 10l-3-12 2 2m-2-2l-1 3m3 18l-9 9 1-3m-1 3l3-1m-2-5l10 2-3 1m3-1l-2-1m-5 21l11 5-3 0m3 0l-2-3m-15-1l7 7-2-1m2 1l-1-3m5 10l-3 11-1-3m1 3l2-2m19-162l5 7-2-1m2 1l0-3m-9 24l4 13-2-2m2 2l0-3m7-5l-7-9 3 1m-3-1l1 3m-1 31l8-3-2 2m2-2l-3 0m-7-6l-3 11 0-3m0 3l2-2m7 8l-2 10-1-3m1 3l2-2m-4-5l-2 9-1-2m1 2l2-2m-5 25l-1-13 2 2m-2-2l-1 2m3 5l11 4-3 0m3 0l-2-2m-2 17l-2 11-1-3m1 3l1-2m-4-12l12 5-3 0m3 0l-2-3m-5 20l-4 11 0-3m0 3l2-2m18-108l-6-11 2 2m-2-2l0 3m0 26l11-1-2 2m2-2l-3-1m5 29l2-8 1 3m-1-3l-2 2m-12 27l8 1-3 1m3-1l-2-2" stroke="#4a5ad0" stroke-opacity="0.65" stroke-width="1.4"/>
<path d="M623 525l12 1-3 1m3-1l-3-2m-90 83l1 10-2-3m2 3l1-3m-23-4l-2 10-1-3m1 3l2-2m-43-55l-11 7 1-3m-1 3l3-1m-2 0l-10 8 1-3m-1 3l3-1m-4-3l-9 6 2-3m-2 3l3 0m16-25l-11 5 2-2m-2 2l3 0m-2-1l-12 4 2-2m-2 2l3 0m14-36l-12 1 2-2m-2 2l2 1m-1-2l-10-1 2-1m-2 1l2 2m31-51l-10-7 3 0m-3 0l2 3m21-15l-7-8 3 1m-3-1l1 3m5 6l-6-9 2 2m-2-2l0 3m37 4l-4-9 3 2m-3-2l0 3m0-2l-4-10 2 1m-2-1l-1 3m3 7l-4-10 3 2m-3-2l0 3m31 7l-2-11 2 3m-2-3l-1 3m0 8l0-11 2 3m-2-3l-1 3" stroke="#6f86e0" stroke-opacity="0.8" stroke-width="1.3"/>
<path d="M456 528l-7-2 2-1m-2 1l2 2m6-5l-6 3 1-2m-1 2l2 1m10-41l-6-4m12 15l-11-2 3-1m-3 1l2 2m3 16l-6-3 2 0m-2 0l1 2m10 19l-8-4m7 9l-10 0m8 14l-9 2 2-1m-2 1l3 1m5 8l-6 5m12-76l-8-2 3-1m-3 1l2 2m9 13l-8-3m6 14l-8 1 2-2m-2 2l2 1m8 56l-7 5 1-2m-1 2l2 0m11-108l-9-7m8 102l-10 2m12 16l-9 6m12-101l-6-7m4 91l-5 6m7 0l-9 3m6 2l-4 6 0-3m0 3l2-1m5 3l-5 7m10-118l-5-6m6 108l-8 5m5 0l-3 9-1-3m1 3l2-2m10-138l-9-5 3 0m-3 0l1 2m15 6l-4-11m10 146l-5 5m6 2l-6 8m9-159l-4-7m10 2l0-11 1 3m-1-3l-1 3m1 166l-4 7m6-158l1-11 1 2m-1-2l-1 2m4 19l-3-12m11 7l-4-6 2 2m-2-2l0 3m2 148l-1 11-1-2m1 2l1-2m0-1l-2 10-1-2m1 2l2-2m5-174l-3-8 2 2m-2-2l-1 3m3 16l1-10 1 2m-1-2l-2 2m2 146l0 10m1-160l3-11 1 2m-1-2l-2 2m1 170l0 10-1-2m1 2l1-2m6-170l1-8 1 2m-1-2l-1 2m-3 21l5-10 0 3m0-3l-2 2m14 9l-2-11m0 159l2 9-2-2m2 2l0-2m1-170l5-7 0 3m0-3l-2 1m2 21l0-8 1 3m-1-3l-1 3m3-2l7-6m1 6l6-6m-3 148l0 11m2-152l7-9-1 3m1-3l-3 1m-3 21l5-7m-6 125l6 5-2 0m2 0l0-2m7 7l2 11-2-2m2 2l1-3m5-136l2-7 0 2m0-2l-2 2m-3 11l5-7m-10 108l10 6m-6 1l9 3m-7 4l6 3m-1-117l5-7m0 12l5-8m-4 28l7-2-1 2m1-2l-2 0m-10 8l10-7-1 2m1-2l-3 1m-6 13l11-2m-10 7l9-6m-9 30l10-3m-9 27l6 6-3 0m3 0l-1-2m0-84l6-8m-4 11l8 0-3 1m3-1l-3-2m-8 20l11-4-2 2m2-2l-2 0m-7 17l7-3-2 2m2-2l-3 0m-2 31l8 6-2 0m2 0l-1-2m-8 19l7 8m-6-89l11-2-2 1m2-1l-3-1m-4 19l7-4-1 3m1-3l-3 0m-2 25l9 5m-8-23l10 1-3 1m3-1l-3-1" stroke="#6f86e0" stroke-opacity="0.9" stroke-width="1.2"/>
<path d="M412 507l5-10 1 2m-1-2l-2 1m0 30l-9-2 2-1m-2 1l2 2m0 8l1 8-2-2m2 2l1-2m19-81l6-6-1 2m1-2l-3 1m6 24l-11-4 3-1m-3 1l2 2m-1 8l3-8 0 2m0-2l-2 1m10 26l-9-5 2 0m-2 0l1 2m-3 1l1 8-2-2m2 2l1-2m3 16l-13 1 3-1m-3 1l3 1m8-1l-11 0 2-1m-2 1l2 1m12 16l-3 11 0-3m0 3l2-2m-4-4l3 8-2-2m2 2l1-3m6 18l-12 4 2-2m-2 2l3 1m6-7l-7 6 1-3m-1 3l3-1m8 9l-12 7 1-3m-1 3l2 0m18-151l9-6-1 3m1-3l-3 0m4 18l-5 6 0-3m0 3l2-1m5 1l-9 7 1-3m-1 3l3 0m3 22l1-8 1 2m-1-2l-1 2m-2 6l-9-8 3 1m-3-1l1 3m12 22l-5 9 0-3m0 3l2-2m1-4l-8-4 3 0m-3 0l2 3m4 11l2 13-1-2m1 2l1-3m2 0l-10 1 2-1m-2 1l2 1m3 20l-1-12 1 3m-1-3l-1 3m7 13l-6-11 2 1m-2-1l0 2m-2 33l-5-10 2 2m-2-2l0 3m6-6l-10 7 1-2m-1 2l3 0m5 16l-7 8 0-2m0 2l2-1m5-8l-9 5 2-2m-2 2l3 0m6 20l9 11-3-1m3 1l-1-3m19-206l-12 7 1-3m-1 3l3 0m14 24l-10-8 3 1m-3-1l1 3m-1 1l5-10 0 3m0-3l-2 2m3 38l-9-8 2 0m-2 0l1 2m-9 3l11-7-1 2m1-2l-2 0m8 125l-6 7 0-3m0 3l2-1m9-3l-8 5 2-3m-2 3l3 0m-5 12l9 7-3-1m3 1l-1-3m-14-5l6 10-3-2m3 2l0-3m1 22l-8 8 1-3m-1 3l3-1m34-227l-10 9 1-3m-1 3l3-1m-4-3l8-5-2 3m2-3l-3 0m4 16l-7 11 0-3m0 3l2-1m-4 2l-2-11 2 2m-2-2l-1 3m9 181l-4 7 0-3m0 3l2-2m7-13l-7 8 1-3m-1 3l3-1m4 26l-7-7 3 1m-3-1l1 3m-1 1l10 5-2 0m2 0l-1-2m0-246l12 0-2 1m2-1l-2-2m6 22l-8 6 1-2m-1 2l2 0m-1-5l8 2-3 1m3-1l-2-2m7 31l-12-1 2-1m-2 1l2 1m5-2l-2-12 2 2m-2-2l-1 3m0 172l-2 9-1-3m1 3l2-2m0-7l-2 8-1-3m1 3l2-2m-3 20l-3 7-1-2m1 2l2-1m6 0l-10 0 3-1m-3 1l3 1m1 14l9-2-2 2m2-2l-3-1m6-253l12-4-2 2m2-2l-2-1m-4 30l13 1-2 1m2-1l-2-2m-13-3l10 0-2 1m2-1l-2-2m-2 31l1-8 1 2m-1-2l-1 2m1 5l-4-13 2 2m-2-2l0 3m4 173l-1 11-1-2m1 2l2-2m-8-11l8-1-2 2m2-2l-3-1m-1 25l3 12-2-2m2 2l1-3m-4-8l-2 11-1-3m1 3l2-2m-5 17l11-2-2 1m2-1l-2-1m14-255l8 0-2 1m2-1l-2-1m-3 24l2-13 1 3m-1-3l-2 2m5 10l4-8 0 3m0-3l-2 1m-1 31l2-9 1 3m-1-3l-2 2m-3 3l9-1-3 2m3-2l-3-1m-6 164l4 13-2-2m2 2l1-3m-6-12l3 14-2-2m2 2l1-3m-5 23l10-6-1 2m1-2l-3 0m-9 6l4 10-2-1m2 1l1-3m-1 3l5 13-2-2m2 2l0-3m15-238l10 6-3 0m3 0l-1-2m-5-2l-9-4 3-1m-3 1l1 2m0 20l13 2-3 1m3-1l-3-2m-4 3l7-8-1 2m1-2l-3 1m-2 168l6 13-2-1m2 1l0-3m-13-5l5 12-2-2m2 2l0-3m-1 20l6 10-3-1m3 1l0-2m-11-6l7 9-2-1m2 1l0-3m13-227l12 5-3 0m3 0l-1-2m-3 31l-4-8 2 1m-2-1l0 2m-1 1l10-7-2 2m2-2l-3 0m-2 24l-3-12 2 2m-2-2l-1 3m3 1l10 8-3 0m3 0l-1-2m-9 123l5 9-3-2m3 2l0-3m-10 5l7-9-1 3m1-3l-3 1m0 24l7 8-3-1m3 1l-1-3m-8-7l9 8-2-1m2 1l-1-2m-4 18l6 7-3-1m3 1l-1-3m19-188l-5-7 3 1m-3-1l1 3m5 18l-11-7 3 0m-3 0l1 2m9-5l1 11-1-2m1 2l1-3m-8 24l8-6-1 2m1-2l-3 0m-1 0l0 12-1-2m1 2l2-2m-8 11l2 12-2-3m2 3l1-3m-4-4l13-6-2 2m2-2l-3 0m-7 35l-1-12 1 2m-1-2l-1 2m-2 1l9-1-2 1m2-1l-2-1m-3 28l13 1-3 1m3-1l-3-2m-2-9l1 13-1-2m1 2l1-2m-4 13l-1 10-1-3m1 3l2-2m0 4l5-7 0 3m0-3l-2 2m-7 17l7 6-3 0m3 0l-1-2m-4-7l9 8-3-1m3 1l-1-3m-14 19l7 9-2-1m2 1l0-3m27-149l-8-6 3 0m-3 0l1 3m0 20l10-7-1 2m1-2l-3 0m-1 13l-2-10 2 2m-2-2l0 2m-9 28l12-4-2 2m2-2l-3 0m-7 2l11-3-2 2m2-2l-3 0m-8 30l2-9 1 3m-1-3l-2 2m2 0l9 2-3 1m3-1l-2-2m-8 25l8-9-1 3m1-3l-3 1m-5 3l-7 10 0-3m0 3l3-1m0 7l10 5-2 0m2 0l-1-3m-3 1l8 5-3-1m3 1l-1-3m-10 23l12 6-2 0m2 0l-1-2m5-118l6 13-2-2m2 2l0-3m-3 19l8-1-2 2m2-2l-3-1m1 22l-4 10 0-2m0 2l2-2m-1 2l-2 13-1-3m1 3l2-2" stroke="#6f86e0" stroke-opacity="0.65" stroke-width="1.4"/>
<path d="M678 527l0-6 1 2m-1-2l-1 2m-2 19l1-6 1 2m-1-2l-1 2m-2 14l1-6 1 2m-1-2l-1 1m-3 23l2-5 1 2m-1-2l-1 1m-7 16l2-6 0 2m0-2l-1 1m-3 14l2-6 0 2m0-2l-1 2m-13 22l4-5-1 2m1-2l-2 1m-12 13l4-4-1 2m1-2l-2 0m-7 11l-4 4 0-2m0 2l2 0m-12 7l-5 4 1-2m-1 2l2 0m-8 3l5-3-1 2m1-2l-2 0m-17 11l-5 3 1-2m-1 2l2 0m-10-1l-6 2 2-1m-2 1l2 0m-14 3l-6 1 2-1m-2 1l2 1m-4 1l-6 1 2-2m-2 2l2 0m-15 1l6 1-2 0m2 0l-2-1m-17-1l-6-1 2-1m-2 1l2 1m-12-5l-6-1 2-1m-2 1l2 1m-8-2l-6-2 2 0m-2 0l1 2m-5-6l5 3-2 0m2 0l-1-2m-24-7l-5-3 2 0m-2 0l1 2m-3-6l-5-4 2 1m-2-1l1 2m-6-6l5 4-2 0m2 0l-1-2m-18-13l-4-4 2 0m-2 0l1 2m-4-12l-3-5 2 1m-2-1l0 2m-2-4l-3-5 1 1m-1-1l0 2m-7-12l-2-5 1 1m-1-1l0 2m-3-8l2 6-2-1m2 1l0-2m-4-24l-2-5 2 1m-2-1l0 1m-3-7l1 6-1-1m1 1l1-1m1-21l0 6-1-2m1 2l1-2m-1-13l0 6-1-2m1 2l1-2m1-24l-2 6 0-2m0 2l2-2m1-16l2-6 0 2m0-2l-2 2m4-7l-2 5 0-2m0 2l1-1m7-16l3-5 0 2m0-2l-2 1m11-9l4-4-1 2m1-2l-2 0m3-6l-4 5 1-2m-1 2l2-1m14-14l-5 4 1-2m-1 2l2-1m14-15l-5 4 1-2m-1 2l2-1m17-12l5-3-1 1m1-1l-2 0m7-2l5-2-1 1m1-1l-2 0m14-4l-6 1 1-1m-1 1l2 1m17-4l6-1-2 1m2-1l-2-1m6 0l6-1-1 1m1-1l-1-1m17-1l-6 0 2-1m-2 1l2 1m16 2l-6-1 2-1m-2 1l2 1m18 2l-5-1 1 0m-1 0l1 1m18 4l5 2-2 1m2-1l-1-1m11 2l5 3-2 0m2 0l-1-2m4 7l5 3-2 0m2 0l-1-2m13 7l-5-4 2 1m-2-1l1 2m11 12l-5-4 2 0m-2 0l1 2m18 12l3 4-1 0m1 0l0-2m3 9l-3-5 1 1m-1-1l0 2m12 13l-3-5 2 1m-2-1l0 2m9 18l2 5-2-1m2 1l0-2m3 10l2 6-1-2m1 2l0-2m1 5l-2-5 2 1m-2-1l0 1m3 19l1 6-1-2m1 2l1-2" stroke="#6f86e0" stroke-opacity="0.6" stroke-width="1.2"/>
<path d="M551 523l12 1-3 1m3-1l-3-2m32 1l12 0-3 1m3-1l-3-2m2 2l11 1-2 1m2-1l-2-1m1 2l11-1-2 1m2-1l-3-2m13 3l11 0-2 1m2-1l-2-2m-9-1l11 1-2 1m2-1l-2-2m-79 9l13 2-3 1m3-1l-2-2m21 9l10 3-3 1m3-1l-2-2m12 3l10 1-3 1m3-1l-2-2m-8-1l10 2-3 1m3-1l-2-2m-44 17l9 6-3 0m3 0l-2-3m16 17l10 7-3 0m3 0l-1-3m-7-6l10 7-3-1m3 1l-1-3m-1 3l9 6-3-1m3 1l-1-3m-49-7l5 11-2-2m2 2l0-3m1 1l6 10-3-1m3 1l0-3m-5-8l6 11-3-2m3 2l0-3m-1 2l5 9-2-1m2 1l0-3m-3-7l4 9-2-1m2 1l1-3m-45-60l3 10-2-2m2 2l0-3m3 25l3 12-2-2m2 2l1-3m-1 2l4 11-2-2m2 2l1-3m-2 3l2 10-2-2m2 2l1-3m-1 2l4 12-2-2m2 2l0-3m-1-10l4 12-2-2m2 2l1-3m-27-70l0 12-1-3m1 3l2-3m-1 45l1 11-1-3m1 3l1-3m-2 11l1 10-2-2m2 2l1-2m1-8l1 10-2-2m2 2l1-2m-13-77l-3 12 0-3m0 3l2-2m-3 21l-4 11 0-3m0 3l2-2m-3 1l-2 11-1-2m1 2l2-2m-5 12l-2 11-1-3m1 3l2-3m7-68l-6 10 0-3m0 3l3-1m-3 0l-6 9 1-3m-1 3l3-1m-18 26l-6 9 0-3m0 3l2-1m7-55l-11 5 2-2m-2 2l3 0m-1 1l-10 4 1-2m-1 2l2 0m9-2l-9 6 1-2m-1 2l3 0m-3-1l-9 6 2-3m-2 3l3 0m5-15l-9 5 2-2m-2 2l3 0m-3-3l-11 3 2-2m-2 2l3 1m-1 2l-10 4 2-2m-2 2l3 1m22-35l-11-1 3-1m-3 1l3 2m-2-2l-11-1 3-2m-3 2l3 1m-2-1l-12-2 2-1m-2 1l2 2m50-12l-10-4 3 0m-3 0l2 3m-1-3l-10-4 3 0m-3 0l2 3m8 2l-10-2 2-1m-2 1l2 2m-21-11l-12-5 3 0m-3 0l2 2m45-3l-9-5 3 0m-3 0l2 2m-10-7l-10-6 3 0m-3 0l1 3m-7-11l-10-7 3 0m-3 0l1 3m8 5l-10-7 3 1m-3-1l1 3m44 10l-7-10 3 1m-3-1l0 3m1-3l-7-10 3 1m-3-1l0 3m6 9l-8-10 3 1m-3-1l0 2m49 45l-3-9 2 2m-2-2l-1 3m1-2l-5-10 2 1m-2-1l0 3m1-3l-4-12 3 2m-3-2l0 3m1-2l-5-11 2 2m-2-2l-1 3m2-2l-3-11 2 3m-2-3l-1 3m-2-1l-3-9 2 2m-2-2l-1 3m43 17l3-11 1 3m-1-3l-2 2m4 0l1-10 1 2m-1-2l-1 2m2-1l3-11 0 3m0-3l-2 3m-1-2l3-11 0 2m0-2l-2 2m-12 78l9-10-1 3m1-3l-3 1m27-32l7-9 0 2m0-2l-3 1m-6 6l8-9-1 3m1-3l-3 1m2 0l7-8-1 3m1-3l-3 1m-36 62l9-5-2 2m2-2l-3 0m20-10l11-7-1 3m1-3l-3 0m10-7l9-6-1 2m1-2l-3 0m2 0l10-9-1 3m1-3l-3 1m4 3l10-6-1 2m1-2l-3 0m-9 4l11-6-2 2m2-2l-3 0m-39 39l10-4-2 2m2-2l-3 0m23-7l11-6-1 2m1-2l-3 0" stroke="#62b4ec" stroke-opacity="0.8" stroke-width="1.3"/>
<path d="M456 503l-8-4 3 0m-3 0l2 2m5 8l-7-1 2-1m-2 1l2 2m6 24l-11 3 2-2m-2 2l3 0m8 13l-8-2m15-46l-9-5m9 8l-11 2 2-2m-2 2l3 1m5 6l-8-2m9 35l-7 0m6 8l-10 2 2-2m-2 2l3 0m10-63l-6-6m8 13l-6-5m8 13l-7-4m5 37l-10 2m10 10l-6 4m6 10l-5 7m8-99l-5-8m8 17l-8-2m10 11l-8-1 3-1m-3 1l2 1m4 16l-7-6 2 1m-2-1l1 2m9 31l-11 4 2-2m-2 2l3 0m6 0l-10 2m12 12l-11-1m10 22l-10 4m16-102l-10-5 3 0m-3 0l2 2m6 16l-10 0m11 5l-6-6 3 1m-3-1l1 3m4 18l-8 2 2-2m-2 2l3 1m4 29l-8 0m10 2l-10 3m11 13l-9 2m10 11l-11 2 2-2m-2 2l2 0m9-1l-8 6 1-2m-1 2l3 0m8-116l-8-3 2-1m-2 1l1 2m8 16l-5-4m5 40l-8-4m8 29l-12 3 2-2m-2 2l3 1m8 47l-2 7m6-127l-6-9m4 14l-3-10m8 39l-7-6m6 46l-10-1m11 0l-6 7m5-2l-9 5 1-2m-1 2l2 0m7 11l-5 6m8 2l-10 7m9 14l-6 4 1-2m-1 2l3 0m5-137l-5-8m11 15l-9-4 2 0m-2 0l1 2m6 17l-10-3 3-1m-3 1l2 2m9 27l-8-5m4 22l-7 4m9 47l-6 6m3-5l-2 9m3-2l-2 6m3 3l-8 7m13-154l-1-11 1 2m-1-2l-1 3m4 35l-10-6 3 0m-3 0l1 2m9 47l-10-5 2 0m-2 0l1 2m10 20l-7 3 2-2m-2 2l2 0m3 28l-6 5 1-2m-1 2l3 0m5-4l-5 8 0-3m0 3l2-2m3 14l-8 7 1-3m-1 3l3-1m-1 0l-1 6m6-153l0-10m5 27l-7-5 3 0m-3 0l1 2m7 20l-8-6m6 12l-5-7 3 1m-3-1l1 3m10 49l-12-2 3-1m-3 1l2 2m4 4l-6 6 0-2m0 2l2-1m8 18l-7 3m3 20l-2 7m3-2l-7 8m11-135l2-12 1 3m-1-3l-2 2m4 14l-8-8m5 32l-7-7m8 54l-9 5 1-2m-1 2l2 0m4 36l-3 11m4 20l-4 8m10-163l1-11m-4 17l1-11m3 29l-6-6m7 12l-3-8m1 26l-6-4 3 0m-3 0l1 2m8 55l-5 7m2 7l-6 5m8 4l-3 11-1-3m1 3l2-2m5-140l-3-9m5 28l-3-6m1 11l0-8 1 3m-1-3l-1 3m2 135l-7 8m8 2l-1 10-1-3m1 3l1-2m0-173l4-8m2 16l-6-9m4 33l-2-11m5 42l-6-11 2 2m-2-2l0 3m6 25l-6-4 2 1m-2-1l1 3m-1 51l0 9m-2 9l4 11-2-1m2 1l0-2m6-141l-2-9m4 104l-3 9m4 10l-2 9m2 18l-5 7 0-3m0 3l2-1m2-3l0 8-1-3m1 3l1-2m0-163l1-7 1 2m-1-2l-1 2m5 11l1-7m-4 11l3-10 0 3m0-3l-2 2m-1 89l3 9m-3 26l-3 7m2 12l2 8-2-2m2 2l0-3m-1 0l1 10-1-2m1 2l1-2m4-153l3-8m-1 27l0-9 1 2m-1-2l-2 2m2 15l1-10 1 3m-1-3l-2 2m-1 76l2 7m-4 2l6 8-3-2m3 2l-1-3m-2 20l0 11m-1 8l3 10-2-1m2 1l1-2m-2-4l-3 8-1-2m1 2l2-1m-1-1l2 10-1-2m1 2l1-3m3-153l0-7m-2 109l2 7m0 34l3 6-2-1m2 1l1-2m4-169l-4-11m2 16l4-6 0 2m0-2l-2 1m-9 86l12-2m-10 9l10 6m-4 53l-1 11-1-2m1 2l2-2m-6-1l6 7-3-1m3 1l-1-2m3-153l3-10 1 2m-1-2l-2 1m1 27l5-8 0 2m0-2l-2 1m-8 62l8 3-3 0m3 0l-2-2m0 43l-1 9m1-3l3 6-2-1m2 1l0-2m-9 13l8 8-2-1m2 1l0-2m-3-1l-2 7m1-2l2 8-2-2m2 2l1-2m1-150l7-7m-5 18l1-12m-1 26l8-4m-8 19l6-8 0 3m0-3l-2 1m-4 23l5-6m-7 64l6 8m0 12l-2 9m-2-5l3 10-2-2m2 2l0-3m1 0l-2 9-1-2m1 2l2-2m2-152l1-8m-1 38l6-9m-7 29l10-7-1 3m1-3l-3 1m-7 43l5 7-2-1m2 1l0-2m-4 29l3 7m-5 1l7 6-2-1m2 1l-1-3m-4 10l3 6-2-1m2 1l0-2m6-134l1-11m-4 33l8-8m-10 12l10-3m-7 72l4 6-2-1m2 1l0-2m-8 24l6 5m0-144l6-4m-1 12l1-11m-5 55l7-9m-8 12l5-7m-2 8l8 1-2 1m2-1l-2-1m-7 19l9 6-2 0m2 0l-1-2m-9 0l11 4m-10 41l3 7-2-1m2 1l0-2m2 3l1 7m-2-1l1 7m-6-4l7 9m-3-142l8-3m-6 16l4-9 0 3m0-3l-2 2m-1 30l8 1m-10 30l8-2m-8 40l6 7-3-1m3 1l-1-2m-6 11l9 7m3-101l5-10m-10 67l7 7m-4 34l7 9-2-1m2 1l0-2m-2-120l8-8m-9 25l11-2m-10 38l10 3-2 0m2 0l-2-2m-7 20l8 9m-9 17l8 3-2 1m2-1l-2-2m-2-96l5-10 0 3m0-3l-2 2m-3 55l10-4-2 2m2-2l-3 0m-9 11l9-3-2 2m2-2l-3-1m-2 16l8 3m-10 5l12-1-2 1m2-1l-2-1m-12 11l12 0-2 1m2-1l-2-1m-3 7l5 6m-2-87l11 0-2 1m2-1l-2-1m-13 34l10 4m-5 10l8 2-3 0m3 0l-2-2m-8 6l8 1-2 1m2-1l-2-1m-4 12l7 7-3-1m3 1l-1-3m-7 10l8 4m-6-74l10-2-2 2m2-2l-2-1m-7 25l9-3m-8 13l8 1m-8 6l7-3m-7 15l6 6-2-1m2 1l-1-3m-3 0l7 6-3-1m3 1l-1-3m-8 5l7 2m0-39l9-3" stroke="#62b4ec" stroke-opacity="0.9" stroke-width="1.2"/>
<path d="M556 537l9 8-3-1m3 1l-1-3m17 15l8 7-3-1m3 1l-1-3m8 9l8 8-3 0m3 0l-1-3m-6-6l10 6-3 0m3 0l-2-2m-59-37l6 9-3-2m3 2l0-3m-4-7l4 10-2-2m2 2l0-3m-1 2l5 10-2-2m2 2l0-3m2 1l5 11-2-2m2 2l1-3m10 18l6 10-3-1m3 1l-1-3m-30-34l2 13-2-3m2 3l1-3m-11-7l1 12-2-3m2 3l1-3m0-9l0 12-2-3m2 3l1-3m-3 12l2 13-2-2m2 2l1-3m0 11l0 12-2-3m2 3l1-3m-18-28l-2 12-1-3m1 3l2-2m-6-52l-10 7 1-3m-1 3l3 0m-9 5l-11 6 1-2m-1 2l3 0m-2-8l-12 4 2-2m-2 2l3 1m-14-26l-11 0 3-2m-3 2l3 1m47-8l-10-2 2-1m-2 1l2 2m19-4l-9-6 2 0m-2 0l1 3m2-17l-8-10 3 1m-3-1l0 3m-7-11l-8-9 2 1m-2-1l0 3m45-10l0-13 1 3m-1-3l-2 3m14 39l3-10 0 3m0-3l-2 2m1-1l3-11 1 3m-1-3l-2 2m17 14l5-10 0 3m0-3l-2 2m3 0l6-10 0 3m0-3l-3 1m-6 7l7-9 0 3m0-3l-3 1m13 25l11-6-1 3m1-3l-3 0" stroke="#7ee2ec" stroke-opacity="0.8" stroke-width="1.3"/>
<path d="M473 530l-8 2 2-2m-2 2l3 1m15-25l-10 1m9 25l-8-2 2-1m-2 1l1 1m17-19l-8-4m8 59l-10 4 2-2m-2 2l3 0m14-73l-10-3m5 56l-8 7 1-3m-1 3l2-1m13-70l-6-4 3 0m-3 0l1 2m6 39l-10 0 3-1m-3 1l3 1m5 49l-2 10-1-2m1 2l1-2m8-113l-5-10m11 16l-3-8 2 1m-2-1l-1 2m2 86l-6 9m7 15l-7 6 1-3m-1 3l2-1m14-61l-10-1m9 7l-7 2m9-53l0-10 2 3m-2-3l-1 2m6 86l-7 9m1 1l0 10m5 2l2 11-2-2m2 2l1-2m3-113l4-10 1 3m-1-3l-2 2m1 15l-7-9 3 1m-3-1l1 3m9 83l-7 10m2 8l-1 10m1-2l-2 10m12-119l-1-11m-3 47l4-10m-1 31l-3 8m4 12l-3 10m2-78l3-10 1 3m-1-3l-2 2m6 22l-2-9 2 2m-2-2l0 2m-1 26l3-11 0 2m0-2l-2 2m0 28l3 9m7-57l0-12 1 2m-1-2l-1 2m-2 97l6 8-3-1m3 1l-1-3m-4 4l1 9m3-121l6-5-1 3m1-3l-3 1m0 22l1-11m-2 35l10 2m-12 17l9 2m-3 44l-2 9-1-2m1 2l2-2m0-41l6 7-2-1m2 1l0-3m3-67l6-9m-7 20l9-3-2 1m2-1l-3-1m-8 41l9 2-2 1m2-1l-2-2m6-40l11-2m-12 54l10 1-2 1m2-1l-2-1m-4-55l11-2m-9 50l10 3-2 0m2 0l-2-2m-2-45l8-5-1 3m1-3l-2 1m-7 35l10-2-2 2m2-2l-2-1m-7 29l6 6-2 0m2 0l-1-2m0-43l8-5-1 2m1-2l-3 0m-1 32l7 7-2-1m2 1l-1-3m-4-22l8-3-2 2m2-2l-3 0" stroke="#7ee2ec" stroke-opacity="0.9" stroke-width="1.2"/>
<path d="M562 525l11-1-2 2m2-2l-3-1m-8 1l11-1-2 2m2-2l-2-1m1 3l10 0-2 1m2-1l-2-1m-8 0l10 0-3 2m3-2l-2-1m1 0l13-2-3 2m3-2l-3-1m1 5l12-1-2 2m2-2l-3-1m22 0l12 1-3 1m3-1l-3-2m-78 7l11 3-3 1m3-1l-2-2m1 1l12 4-3 1m3-1l-2-2m1 0l12 2-3 1m3-1l-2-2m-9-2l11 3-2 1m2-1l-2-2m1 4l11 1-3 1m3-1l-2-1m-9-2l11 2-3 1m3-1l-2-1m1 1l11 3-3 1m3-1l-2-2m0 3l12 3-3 1m3-1l-2-2m-68-9l8 7-3 0m3 0l-1-3m1 2l8 8-2 0m2 0l0-2m0 1l8 8-3-1m3 1l-1-3m-5-7l9 6-3 0m3 0l-1-2m-1 3l10 7-3 0m3 0l-1-3m8 8l9 7-3 0m3 0l-1-2m15 17l8 7-3-1m3 1l-1-3m-66-45l6 9-3-1m3 1l0-3m-3 4l6 11-2-2m2 2l0-3m0 2l6 9-3-1m3 1l0-3m-4-8l7 9-3-1m3 1l0-3m-4 4l5 9-2-1m2 1l0-3m-3-7l6 9-3-2m3 2l-1-3m-33-44l4 12-2-2m2 2l0-3m-2-9l3 12-2-3m2 3l1-3m-1 11l3 12-2-2m2 2l0-2m3 0l4 12-2-2m2 2l0-3m-3 2l3 13-2-2m2 2l1-3m0 1l4 12-2-2m2 2l0-3m-22-50l-1 12-1-3m1 3l2-3m0 13l2 11-2-2m2 2l1-2m0-9l-1 11-1-2m1 2l2-2m0 1l0 13-1-2m1 2l2-3m-2 21l1 11-2-3m2 3l1-3m-10-66l-2 12-1-3m1 3l2-3m-4 1l-4 11 0-3m0 3l2-2m4-9l-3 12-1-3m1 3l2-2m-4 0l-2 10-1-3m1 3l2-2m-3 12l-4 11 0-3m0 3l2-2m12-67l-5 9 0-3m0 3l2-2m-2 1l-6 11 0-3m0 3l2-2m6-8l-5 12 0-3m0 3l2-2m-5-2l-6 11 0-3m0 3l3-2m-2 1l-6 9 0-3m0 3l2-1m-2 0l-6 10 0-3m0 3l2-1m6-8l-8 10 1-3m-1 3l3-2m-3 0l-5 10 0-3m0 3l3-2m4-7l-6 9 0-3m0 3l3-1m-4-1l-6 9 0-3m0 3l3-1m5-7l-5 10 0-3m0 3l2-2m-4 0l-6 9 0-3m0 3l2-2m37-69l-11 6 1-3m-1 3l3 0m9-4l-11 6 1-3m-1 3l3 0m-2 0l-11 5 1-2m-1 2l3 0m-3-2l-9 5 2-2m-2 2l3 0m-20 11l-10 4 2-2m-2 2l3 1m-11 6l-11 6 1-3m-1 3l3 0m75-45l-10 3 2-2m-2 2l3 1m-3-2l-11 7 2-3m-2 3l3 0m-2-2l-11 5 2-2m-2 2l3 0m8-4l-11 5 2-2m-2 2l3 0m-2-3l-11 4 2-2m-2 2l3 1m-2-1l-11 6 1-3m-1 3l3 0m-2-1l-9 5 1-3m-1 3l3 0m-2 1l-10 4 2-2m-2 2l3 0m64-31l-12 1 3-1m-3 1l3 1m-12-4l-11-1 3-1m-3 1l2 2m-1 1l-11 0 3-2m-3 2l3 1m-12-2l-11 1 2-2m-2 2l3 1m37-13l-9-4 3 0m-3 0l2 3m-20-7l-10-4 3-1m-3 1l2 2m8 4l-11-5 3 0m-3 0l2 3m-1-1l-12-4 3-1m-3 1l2 2m67 14l-8-7 3 0m-3 0l1 3m6 6l-9-7 3 0m-3 0l2 2m0-3l-9-7 3 1m-3-1l2 3m-1-2l-9-5 3 0m-3 0l2 3m6 4l-9-6 3 1m-3-1l2 3m-9-9l-8-7 3 1m-3-1l1 3m0-3l-9-7 3 1m-3-1l1 3m0-2l-9-7 3 0m-3 0l1 2m-2 0l-9-8 3 1m-3-1l1 3m62 38l-8-9 3 1m-3-1l0 3m1-2l-7-8 3 1m-3-1l1 3m-5-13l-8-10 3 1m-3-1l1 3m5 8l-7-10 3 1m-3-1l0 3m37 37l-5-10 3 1m-3-1l0 3m0-2l-4-9 2 2m-2-2l-1 3m2-3l-5-10 3 2m-3-2l0 3m-2-13l-4-12 2 2m-2-2l-1 3m1-1l-3-11 2 2m-2-2l-1 3m25 59l0-11 2 3m-2-3l-1 3m0-11l-2-11 2 2m-2-2l-1 2m4-2l1-11 1 2m-1-2l-2 2m0 10l-2-12 2 2m-2-2l-1 3m4-2l0-10 1 2m-1-2l-2 3m1-2l0-11 1 2m-1-2l-2 3m0 8l0-11 2 3m-2-3l-1 2m1-1l0-13 1 3m-1-3l-2 3m9 70l2-12 1 3m-1-3l-2 3m-2 8l2-11 1 2m-1-2l-2 2m2-1l2-11 1 3m-1-3l-2 2m3-1l3-12 1 3m-1-3l-2 3m1-2l2-9 1 2m-1-2l-2 2m2-1l2-12 1 3m-1-3l-2 3m6-1l2-12 1 3m-1-3l-2 3m0-2l2-10 1 3m-1-3l-2 2m-13 68l8-9 0 3m0-3l-2 1m3 0l7-10 0 3m0-3l-3 1m2 0l6-11 0 3m0-3l-2 2m2 0l7-9-1 3m1-3l-3 2m-5 6l5-10 0 3m0-3l-2 2m2-1l6-9-1 3m1-3l-3 1m15-17l6-9 0 3m0-3l-3 2m4 1l6-9 0 3m0-3l-3 1m-5 7l7-9 0 3m0-3l-2 2m-49 78l10-7-1 2m1-2l-3 0m2 1l9-6-1 3m1-3l-3 1m2 0l9-7-1 2m1-2l-3 0m3 1l9-6-1 2m1-2l-3 0m-8 4l9-8-1 3m1-3l-3 1m3 1l11-7-2 3m2-3l-3 1m12-5l9-6-1 3m1-3l-3 0m-60 45l11-5-2 3m2-3l-3 0m-9 2l11-5-2 2m2-2l-3 0m2 2l12-4-2 2m2-2l-3 0m2 1l11-5-1 2m1-2l-3 0m2 1l11-4-2 2m2-2l-2 0m10-4l11-5-2 2m2-2l-3 0m-9 3l11-6-2 2m2-2l-3 0m3 3l12-4-2 2m2-2l-3 0m-10 3l11-6-1 2m1-2l-3 0" stroke="#30d6e6" stroke-opacity="0.8" stroke-width="1.3"/>
<path d="M453 510l-7 1 2-1m-2 1l2 1m5 7l-9 4m18-28l-9-2 2-1m-2 1l2 1m11-11l-7-8m6 88l-4 6m14-46l-9-4 2 0m-2 0l1 2m6 2l-10 3 2-2m-2 2l3 0m6 22l-11 2m9 9l-8 8 1-2m-1 2l3-1m15-66l-12 1m14 7l-12 0 2-1m-2 1l2 1m6 11l-8-5m6 8l-8 2m9 13l-9-1 2-1m-2 1l2 2m9 13l-8 3 2-2m-2 2l2 0m9-80l-4-9m5 27l-10 1 2-1m-2 1l2 1m11 24l-11-2m10 4l-9 4m9 9l-9 2 2-2m-2 2l3 1m3 7l-6 6m11 2l-9 3m6 7l-11 1 2-1m-2 1l3 1m8-1l-11 5m16-110l-5-8m5 14l-8-6 3 0m-3 0l2 2m8 28l-6-7m4 10l-10-1 2-1m-2 1l2 1m9 15l-10-3m9 23l-7-3 2-1m-2 1l1 2m8 10l-9 2 2-2m-2 2l2 1m14-64l-8-4 3 0m-3 0l2 2m1 9l-3-8m4 20l-4-8m4 12l-4-9m7 24l-10 3 1-2m-1 2l2 0m8 8l-10 1 2-1m-2 1l3 1m6 13l-7 2m6 8l-11 5m9 5l-5 9 0-3m0 3l3-2m5-2l-5 9 0-3m0 3l2-2m3-1l-4 6 0-2m0 2l2-1m4-104l-1-8m2 16l-6-6m9 13l-6-5m7 30l-6-5m3 26l-7-2m6 18l-5 7 1-3m-1 3l3-1m2-2l-4 8 0-3m0 3l2-2m3 2l-8 2 2-2m-2 2l3 1m5 19l-4 10 0-2m0 2l2-2m9-134l-5-8 2 2m-2-2l0 3m6 24l-5-5m5 20l-6-3m4 13l-3-7 2 1m-2-1l0 2m4 16l-10-5m13 15l-9-4 2-1m-2 1l1 2m5 48l-7 4m7 0l-8 7 1-3m-1 3l2-1m5 1l-6 5m11-138l-6-9m5 34l0-12 1 2m-1-2l-1 2m4 23l-4-11 2 1m-2-1l0 2m4 21l-3-10 2 2m-2-2l0 3m3 10l-4-8 2 1m-2-1l0 3m6 26l-10-5m11 7l-9 3m6 17l-7 3m7 5l-6 6m7 16l-4 6m5 10l-5 5 0-2m0 2l2 0m-1 2l-1 11m4-5l-6 5m12-140l-7-7m9 12l-9-6 3 0m-3 0l2 2m2 22l-6-9m9 15l-3-9 2 1m-2-1l-1 2m2 21l-8-4m12 16l-11 3 2-2m-2 2l2 0m5 9l-7 8m10 2l-10 7 1-3m-1 3l3-1m9-1l-10 4 2-2m-2 2l3 0m4 8l-7 6 1-3m-1 3l3-1m1 7l-1 9m2 4l-6 6m6-4l-7 8 0-2m0 2l2-1m12-103l-4-11 2 2m-2-2l-1 3m2 31l-3-8 2 2m-2-2l0 3m9 7l-12-2 3-1m-3 1l3 1m8 11l-11 2m9 6l-6 6 1-2m-1 2l3-1m5 10l-6 4 1-2m-1 2l3 0m-1 29l2 10-2-2m2 2l1-3m-7 3l1 10m3 2l2 11-2-2m2 2l1-3m7-139l-6-8 2 1m-2-1l0 2m4 19l-5-11 2 1m-2-1l0 3m-1 10l2-8 1 3m-1-3l-2 2m8 17l-6-9 3 1m-3-1l1 3m4 21l-5-6 2 1m-2-1l0 3m6 9l-6-6 3 1m-3-1l1 2m2 31l-7 10m7 15l-3 10m6-143l3-7m1 33l-3-9 2 2m-2-2l-1 3m4 9l-5-7m1 29l-2-7m5 19l-4-10 2 2m-2-2l0 2m4 15l-1-10m2 31l-6 7m6-1l-9 5m4 5l3 10-2-2m2 2l0-2m-1 0l3 9m-2 8l-6 8 1-3m-1 3l3-1m4 35l0 7m3-155l-3-7m3 13l-2-11 2 2m-2-2l-1 3m3 19l4-7m-5 15l0-9 1 2m-1-2l-1 2m3 14l1-10 1 2m-1-2l-1 2m-2 29l2-7m2 17l-5 6 0-3m0 3l2-1m3 12l-4 9 0-2m0 2l2-2m-3 0l3 10m-1 12l4 11m-4-5l2 11-2-3m2 3l1-3m2-74l5-8m-6 30l6 5-2-1m2 1l-1-3m-6 28l5 10-2-2m2 2l0-3m-4-1l5 7m0-1l-1 9-1-2m1 2l1-2m-4 6l2 7m6-157l4-6m-7 25l6-7-1 3m1-3l-3 1m0 24l1-8m1 17l-2-11m-2 16l7-5m-3 17l0-10 1 2m-1-2l-2 2m0 16l4-6m-8 18l8-5m-6 29l2 8m-3-5l8 9m-9 0l5 9-2-1m2 1l0-2m-4 3l8 8m-8-1l2 11m5-124l6-8 0 3m0-3l-2 1m-7 15l6-10 0 3m0-3l-2 1m-1 23l3-9m-4 30l8-5-1 2m1-2l-3 0m-7 11l10-5m-10 10l9-6-1 2m1-2l-3 0m-8 10l10-1m-8 21l7 2-3 1m3-1l-2-2m-4 5l4 10-2-2m2 2l0-3m-1 28l5 7m-1-125l8-7m-5 28l2-8 1 3m-1-3l-2 2m-6 7l9-6-2 3m2-3l-3 1m-5 19l10-7m-10 14l9-4m-8 5l8-1-2 2m2-2l-3-1m-5 14l6-8m-8 19l11 3m-7 12l8 3m-9 17l4 6-2-1m2 1l0-3m-2 18l-1 9m1 15l3 8-2-2m2 2l0-3m4-168l3-9m-4 27l-2-9m-3 20l7-5m-2 23l2-12m-6 22l11-2-2 2m2-2l-2-1m-9 17l9 0m-9 6l8 1m-10 8l11 2-3 1m3-1l-2-2m-5 2l9 2-3 1m3-1l-2-1m-8 6l7 2-2 1m2-1l-2-2m-4 11l8 3m-5 7l3 10m-5-2l5 10-2-2m2 2l0-3m-3 4l-1 8m-2-4l3 10m5-125l0-10 1 3m-1-3l-2 3m0 12l7-7m-7 25l7-4m-8 15l5-9m-4 22l7-9m-6 13l7-6m-10 10l10 2m-7 29l7 9-3-1m3 1l-1-2m-7 3l9 5m-6-1l2 10m-5-7l4 8-2-1m2 1l0-2m2-122l7-4m-6 25l2-9 1 2m-1-2l-2 2m1 8l6-7 0 2m0-2l-2 1m-6 16l4-9m-6 21l8-2m-9 7l11-2m-10 11l10-6-2 2m2-2l-3 0m-9 13l10-3-2 2m2-2l-3-1m-3 7l8-1m-5 22l3 6-2-1m2 1l0-3m-9 5l9 2-2 1m2-1l-2-1m-4 13l3 7-2-1m2 1l0-2m0 13l1 12-1-2m1 2l1-2m1-127l10-7-1 2m1-2l-3 0m-5 13l3-6 1 3m-1-3l-2 2m-7 5l10-3-2 2m2-2l-3 0m-6 12l11-4m-10 18l8-7-1 2m1-2l-3 0m-6 26l8 3m-7 3l9-2m-7 27l9 3m-12-2l9 6-3 0m3 0l-1-2m-7 8l8 7m-4-2l6 8m-2-90l9-7-1 3m1-3l-3 1m-6 22l7-7-1 2m1-2l-2 1m-8 13l8 0m-8 14l11-5-2 2m2-2l-3 0m-7 6l9 4m-5 12l6 5-3-1m3 1l-1-3m-7 8l8 4m-8 2l9 0m-9-1l5 9m-7 3l8 1-3 1m3-1l-2-1m-6 23l7 7m-2-94l10-1m-12 4l11 2m-9 9l8-3-2 2m2-2l-3 0m-3 9l8-2m-7 8l9 3-2 0m2 0l-2-2m-9 3l6 5-3 0m3 0l-1-2m-5 9l10 0-2 1m2-1l-2-1m-7 16l9 4m-4-83l10-3-2 2m2-2l-2-1m-6 28l8-1-2 1m2-1l-2-1m-8 10l11-2-3 2m3-2l-3-1m-6 8l10 4-2 0m2 0l-1-2m-10 5l7-2-1 1m1-1l-2-1m-6 16l10 3-3 0m3 0l-2-2m-6 12l8 0m-9 12l8 6m-4 2l5 7m-3-95l10-1-2 2m2-2l-2-1m-9 9l8-5m-7 61l11-1m-13 35l7 4-2 0m2 0l-1-2m3-84l8-3-2 2m2-2l-3 0m0 17l10-1" stroke="#30d6e6" stroke-opacity="0.9" stroke-width="1.2"/>
<path d="M551 526l12-1-3 1m3-1l-3-1m21 1l13 1-3 1m3-1l-3-2m12 1l11 0-2 1m2-1l-2-2m-58 4l12 2-3 1m3-1l-3-2m43 11l11 3-2 0m2 0l-2-2m-66-9l7 8-3-1m3 1l-1-3m16 16l10 8-3 0m3 0l-1-3m7 9l8 8-2-1m2 1l0-3m-52-27l3 10-2-2m2 2l1-3m2 13l3 12-2-2m2 2l1-3m-13-39l0 11-1-2m1 2l2-2m-1-9l1 11-2-2m2 2l1-2m-2 45l0 11-1-3m1 3l2-3m0-8l1 10-1-2m1 2l2-2m-10-59l-4 12 0-3m0 3l3-2m4-9l-2 12-1-3m1 3l1-2m-7 22l-2 10-1-3m1 3l2-3m6-45l-6 8 1-3m-1 3l3-1m-22 5l-8 5 1-3m-1 3l3 0m27-22l-11 3 2-2m-2 2l3 1m-22 10l-10 3 2-2m-2 2l3 1m36-20l-12-1 3-1m-3 1l3 2m-2 2l-11 1 3-2m-3 2l3 1m-2-3l-11 1 3-2m-3 2l3 1m-12-4l-11-1 3-1m-3 1l3 2m49-3l-12-4 3-1m-3 1l2 2m9 3l-12-3 3 0m-3 0l2 2m-1-2l-11-4 3-1m-3 1l2 2m-9-6l-11-3 3-1m-3 1l2 2m-19-9l-12-4 3-1m-3 1l2 2m43 0l-10-6 3 0m-3 0l1 2m7 6l-10-6 3 0m-3 0l2 2m-8-8l-9-7 3 1m-3-1l1 3m52 31l-7-9 3 2m-3-2l1 3m5 7l-7-8 3 1m-3-1l1 3m2-4l-7-10 2 1m-2-1l0 2m0-1l-7-7 2 1m-2-1l0 3m-1-2l-8-9 3 1m-3-1l0 3m30 27l-3-11 2 3m-2-3l-1 3m-7-19l-5-12 2 2m-2-2l0 3m20 38l0-10 2 3m-2-3l-1 3m1-2l1-11 1 3m-1-3l-2 3m-1 8l-1-11 2 3m-2-3l-1 3m4-2l1-11 1 3m-1-3l-2 3m-2-12l1-10 1 3m-1-3l-2 2m10 39l2-11 1 2m-1-2l-2 2m1-1l4-12 1 3m-1-3l-2 2m-4 30l7-10 0 3m0-3l-3 1m-3 10l10-8-1 3m1-3l-3 1m10-5l9-7-1 2m1-2l-3 0m20-12l10-8-1 3m1-3l-3 1m-40 38l11-4-2 2m2-2l-3-1m1-2l12-5-2 3m2-3l-3 0m1 1l11-6-2 3m2-3l-3 0m3 4l10-4-2 2m2-2l-3 0" stroke="#58e0a8" stroke-opacity="0.8" stroke-width="1.3"/>
<path d="M478 530l-10-1m16-41l-7-1 2-1m-2 1l2 2m8 13l-11-4 3-1m-3 1l2 2m13-2l-11-4 3 0m-3 0l2 2m7 22l-10 5m9 7l-7-2m10 30l-6 9 0-3m0 3l2-1m9-50l-8 2 2-2m-2 2l2 1m7 22l-7 5 1-3m-1 3l3 0m7-50l-7-3 3-1m-3 1l2 2m8 10l-8-5 2 0m-2 0l1 3m6 16l-10-5m11 27l-11 2 2-2m-2 2l2 1m13-40l-8-6 2 1m-2-1l1 3m9 21l-6 4m5 12l-9 6 1-2m-1 2l2 0m5 4l-7 1 2-2m-2 2l2 1m12-42l-5-10m6 12l-8-6 3 1m-3-1l2 3m6 20l-7-1m5 4l-8 3m9 21l-8 3m9 8l-10 5m17-55l-11-3 2-1m-2 1l1 2m11-41l1-7 1 2m-1-2l-2 2m3 24l-7-8 2 0m-2 0l0 2m7 12l-8-5 3 0m-3 0l2 2m11 22l-11 0m10 15l-12-1m11 11l-8 2 1-2m-1 2l2 1m2 8l-6 7 1-2m-1 2l3-1m6 6l-6 7 0-2m0 2l2 0m1 2l-7 8 1-3m-1 3l3-1m6 8l-3 8m4-134l4-11m3 38l-7-6 3 1m-3-1l1 2m7 39l-10 3 2-2m-2 2l3 0m4 5l-8 1 2-2m-2 2l3 1m3 0l-3 9-1-3m1 3l2-2m0-4l-2 8m3 4l-4 8 0-2m0 2l2-1m-1 0l-1 9m7-5l-4 7 0-2m0 2l2-1m1 22l-2 7m6-102l0-7 2 2m-2-2l-1 2m-1 25l2-9 1 2m-1-2l-2 2m3 10l-8-4m8 8l-1-9 1 2m-1-2l-1 3m3 7l-9 2m8 17l-7 7 1-2m-1 2l3-1m7-47l-3-7m3 14l-2-10 1 2m-1-2l-1 2m3 23l3-9m-1 9l-3 9 0-3m0 3l2-2m-3 32l2 11-2-2m2 2l1-2m2 15l1 7-2-2m2 2l1-2m1-126l4-8m-3 28l1-10 1 2m-1-2l-1 2m-3 16l2-9m1 22l-3-9 2 2m-2-2l-1 3m-1 23l9-5-1 2m1-2l-3 0m-3 6l9 0-3 1m3-1l-3-1m-9 7l8 7-2-1m2 1l-1-3m-1 17l-2 9m8-90l-4-10m0 30l8-8m-6 23l6-4m-9 17l9-7m-13 15l11 1-2 1m2-1l-2-1m-3 1l7 5-3 0m3 0l-2-2m-5 4l6 8m-6-3l4 6m-4 36l6 8m-2-2l-1 8m-4-4l4 11m2-127l5-10 0 3m0-3l-2 2m-2 33l9-8m-8 37l7 4m-8 18l5 6-3-1m3 1l-1-2m-6 2l8 6-3 0m3 0l-1-2m-4 2l1 8m-5-3l9 8m2-32l5 7m-11 9l8 4-3 0m3 0l-1-2m6-77l2-9 1 2m-1-2l-1 2m-6 36l8-8-1 3m1-3l-2 1m-4 51l4 10-2-2m2 2l1-3m-4-24l11-1m-7 0l9 4-3 0m3 0l-2-2m-8 9l6 7-2-1m2 1l0-2m0-23l7 0m-7 2l9 5-2 0m2 0l-1-2m-9 5l12 0m-12 17l7 8m-3 7l1 8-1-2m1 2l1-2m1-22l10 4m-11 13l7 6-3-1m3 1l-1-3m-1-65l11 0-3 1m3-1l-3-1m0-16l10-4-2 2m2-2l-3-1" stroke="#58e0a8" stroke-opacity="0.9" stroke-width="1.2"/>
<path d="M526 517l-11-4 3-1m-3 1l2 2m-2-1l-11-3 3-1m-3 1l2 2m-1-3l-12-3 3-1m-3 1l3 2m-1-3l-3-1 1 0m-1 0l1 1m32 14l-11-5 3 0m-3 0l2 3m-1-2l-12-4 3-1m-3 1l2 2m-1-2l-11-3 3-1m-3 1l2 2m-1-3l-3-1 2 0m-2 0l1 1m32 14l-11-5 3-1m-3 1l2 2m-1-1l-11-4 3-1m-3 1l2 2m-1-2l-12-4 3 0m-3 0l2 2m-1-2l-3-1 2 0m-2 0l1 1" stroke="#58e0a8" stroke-opacity="0.6" stroke-width="1.5"/>
<path d="M543 517l4-11 0 2m0-2l-2 2m-4 15l3-7 0 2m0-2l-2 1m-4 14l-3 8 0-3m0 3l2-2m2-16l-3-9 2 2m-2-2l0 2m6 12l8 2-2 1m2-1l-2-1m-1-9l6-5-1 2m1-2l-2 1m-6 10l11-3-2 1m2-1l-3-1m-22 3l-9-2 3 0m-3 0l2 2m12 5l-7 4 1-2m-1 2l3 0m12-1l6 7-3-1m3 1l-1-2m-7-11l6 1-2 1m2-1l-2-1m-8 0l-7-1 2-1m-2 1l2 2m11-1l9 1-2 1m2-1l-2-2m-21 2l-8 1 2-1m-2 1l3 1m24-7l9-4-1 2m1-2l-2 0m-17 5l-3-11 2 2m-2-2l-1 3" stroke="#58e0a8" stroke-opacity="0.75" stroke-width="1.8"/>
<path d="M525 532l-11 5 1-2m-1 2l3 0m5-13l-11 0 3-1m-3 1l3 1m-12-1l-11-1 3-1m-3 1l2 1m-1 2l-11 1 3-2m-3 2l3 1m38-10l-12-2 3-1m-3 1l2 2m45-18l7-10 0 3m0-3l-3 1" stroke="#b0dc3a" stroke-opacity="0.8" stroke-width="1.3"/>
<path d="M507 517l-8-3 3-1m-3 1l2 2m8 36l-8 7m17-54l-8-6m17 5l-6-8 2 1m-2-1l0 3m37-4l-1-10 1 2m-1-2l-1 2m4 64l3 7" stroke="#b0dc3a" stroke-opacity="0.9" stroke-width="1.2"/>
<path d="M535 540l-3 12-1-3m1 3l2-2m-1 1l-1 12-1-3m1 3l2-2m-3 1l-2 12-1-3m1 3l2-2m-2 1l-1 12-1-3m1 3l2-3m-3 2l-1 4 0-2m0 2l2-2m9-45l-1 12-1-3m1 3l2-3m-3 2l-2 11-1-3m1 3l2-2m-2 1l-3 12 0-3m0 3l2-2m-1 1l-3 12 0-3m0 3l3-2m-1 1l-1 4-1-2m1 2l1-1m9-46l-1 12-1-3m1 3l2-2m-3 1l-1 12-1-3m1 3l1-3m-1 2l-2 12-1-3m1 3l2-3m-2 2l-3 11-1-3m1 3l2-2m-1 1l-1 4 0-1m0 1l1-1" stroke="#b0dc3a" stroke-opacity="0.6" stroke-width="1.5"/></g></g>
<path d="M241.9 238.1V235.5H243.7M295.6 235.5H297.4V237.3M297.4 289.1V290.9H295.6M243.7 290.9H241.9V289.1" fill="none" stroke="#1a1a1a" stroke-width="1.6" stroke-linejoin="round"/>
<path d="M246 235.5H295.6M297.4 239.6V289.1M246 290.9H295.6M241.9 240.4V289.1" fill="none" stroke="#1a1a1a" stroke-width="1.6" stroke-dasharray="5.3 2.3"/>
<circle cx="419.5" cy="262.5" r="72" stroke="#a8a8a8" stroke-width="0.9" fill="none"/>
<circle cx="419.5" cy="262.5" r="66" stroke="#c4c4c4" stroke-width="0.8" fill="none"/>
<g fill="none" stroke-linecap="round" filter="url(#sf)"><g transform="scale(.5)"><path d="M905 550l11 4-2 0m2 0l-1-2m-18 25l8 9-3-1m3 1l-1-3m-28-1l5 10-3-2m3 2l0-3m-12 7l4 11-2-2m2 2l1-3m-4-8l4 10-2-2m2 2l0-3m-29-7l1 12-2-3m2 3l1-3m-1 1l3 12-2-2m2 2l1-3m-27-30l-2 10-1-3m1 3l2-2m2-7l-2 10 0-3m0 3l2-2m-2 1l-2 10-1-3m1 3l2-2m-18-22l-7 10 0-3m0 3l3-1m-16-23l-8 5 1-2m-1 2l3 0m-9-16l-12 4 2-2m-2 2l3 1m9-33l-10 1 2-1m-2 1l3 2m5-30l-11-3 3-1m-3 1l2 2m29-21l-10-7 3 0m-3 0l1 3m43-18l-3-12 2 2m-2-2l-1 3m3-2l-3-12 2 3m-2-3l0 3m39 29l2-10 1 3m-1-3l-2 2m6-11l5-12 0 3m0-3l-2 2m12 27l6-8 0 3m0-3l-3 1m2 0l6-10 0 3m0-3l-3 1m-5 7l6-10 0 3m0-3l-3 2m11 36l9-5-1 2m1-2l-3 0m0-3l8-6-1 2m1-2l-3 0" stroke="#4a5ad0" stroke-opacity="0.8" stroke-width="1.3"/>
<path d="M767 521l-8-1m7 5l-7-2m14-13l-8-2m7 49l-6 5 1-2m-1 2l3-1m5-66l-6-5m11 22l-10 0m9 50l-7 6 1-2m-1 2l2 0m10-13l-7 7m11-58l-9-6 3 0m-3 0l1 2m15-16l-9-6m11 92l-8 7m13-102l-6-4m11 112l-2 7m7-119l1-8m-3 110l-4 10 0-2m0 2l2-1m8 4l1 9m5-140l-4-5 2 1m-2-1l0 2m7 13l-4-8 3 2m-3-2l0 3m14 134l-4 7m6-142l3-11 0 3m0-3l-2 2m4 137l0 10-2-3m2 3l1-3m5-129l-1-10m-2 130l-1 10m9-134l2-8 1 2m-1-2l-1 2m9 2l0-11m2 16l3-7m-1 11l4-7m-4 120l7 9-3-1m3 1l-1-3m1-111l2-7 1 3m-1-3l-2 2m-1 120l6 7m3-122l4-10m-4 22l3-11m1 3l7-5-1 3m1-3l-2 0m-6 100l8 2-3 1m3-1l-2-1m0-92l9-2-2 2m2-2l-3 0m-6 92l8 6m-9-4l6 8m0-100l10-1m-10 11l6-9m-7 52l9 7m-8 10l7 4-2 0m2 0l-1-2m-1-4l5 7m2-47l11-4m-12 10l11 2-2 1m2-1l-2-1m-8 30l5 5-2-1m2 1l-1-2" stroke="#4a5ad0" stroke-opacity="0.9" stroke-width="1.2"/>
<path d="M710 526l-3-5m3 5l1-5m-1 5l5-1m-5 1l3 3m-3-3l-1 4m1-4l-4 0m24-66l-1-5m1 5l4-3m-4 3l5 2m-5-2l2 5m-2-5l-4 3m4-3l-4-2m5 132l-5-1m5 1l-1-6m1 6l4-3m-4 3l3 2m-3-2l2 5m-2-5l-2 3m23-156l1-5m-1 5l5-2m-5 2l4 2m-4-2l0 6m0-6l-3 2m3-2l-4-2m5 177l-5 0m5 0l-2-5m2 5l3-4m-3 4l5 1m-5-1l1 4m-1-4l-3 4m25-199l1-4m-1 4l5-1m-5 1l4 3m-4-3l-2 5m2-5l-5 1m5-1l-3-5m2 221l-6 0m6 0l-3-4m3 4l0-5m0 5l4 0m-4 0l3 2m-3-2l-1 4m45-242l3-3m-3 3l4 0m-4 0l2 4m-2-4l-2 3m2-3l-4-1m4 1l-1-4m22 4l3-4m-3 4l5 0m-5 0l0 4m0-4l-3 4m3-4l-4-2m4 2l-1-4m1 264l-4 3m4-3l-5-1m5 1l-1-5m1 5l3-3m-3 3l4 2m-4-2l2 5m19-265l4-3m-4 3l4 1m-4-1l2 4m-2-4l-2 2m2-2l-4-3m4 3l0-5m1 265l-3 3m3-3l-5 0m5 0l-1-4m1 4l4-3m-4 3l5-1m-5 1l2 4m42-243l5-3m-5 3l3 4m-3-4l-3 5m3-5l-6 2m6-2l-3-3m3 3l0-5m-1 223l-1 4m1-4l-5 1m5-1l-2-4m2 4l1-6m-1 6l4 0m-4 0l4 2m17-198l5 1m-5-1l2 4m-2-4l-1 4m1-4l-4 1m4-1l-1-3m1 3l2-4m-1 178l-1 4m1-4l-4 3m4-3l-3-3m3 3l0-4m0 4l4-2m-4 2l3 2m18-155l5 3m-5-3l1 5m-1-5l-3 5m3-5l-3-1m3 1l-1-4m1 4l4-2m-3 134l0 4m0-4l-3 3m3-3l-5-3m5 3l-1-5m1 5l3-5m-3 5l4 0m18-65l3 3m-3-3l-2 4m2-4l-4 0m4 0l-3-4m3 4l2-5m-2 5l4-3" stroke="#4a5ad0" stroke-opacity="0.6" stroke-width="1.6"/>
<path d="M708 530l-5-13 3 2m-3-2l0 3m33-59l-9-2 3-1m-3 1l2 2m-1 26l6-8 0 3m0-3l-2 1m7 4l-9-4 2-1m-2 1l1 2m-1 23l-2-9 2 2m-2-2l-1 3m4-5l1 11-2-2m2 2l1-2m1 30l1-11 1 2m-1-2l-2 2m5-2l-11 3 2-2m-2 2l2 0m2 12l2 10-2-2m2 2l1-3m-2-1l-9 1 3-2m-3 2l3 1m3 28l-2-9 2 2m-2-2l-1 3m10 2l-12 8 1-3m-1 3l3-1m3 19l-2-9 2 2m-2-2l-1 2m25-147l-9-9 3 1m-3-1l1 2m12 30l-9-4 3 0m-3 0l2 2m5 0l6-10 0 3m0-3l-3 1m-11 36l5-9 0 3m0-3l-3 2m-1 2l2-11 1 2m-1-2l-2 2m15 36l-12-6 2 0m-2 0l1 2m7-1l-12-7 3 1m-3-1l2 3m6 22l-9 3 2-2m-2 2l3 0m2 5l5-12 0 3m0-3l-2 2m-4 33l-3-8 2 2m-2-2l0 3m13-8l-9 6 1-3m-1 3l2-1m4 15l-8 6 2-2m-2 2l3 0m-5 1l9 9-3-1m3 1l-1-3m-1 9l-10 6 2-2m-2 2l3 0m7-10l2 13-2-2m2 2l1-2m-2 23l-7-12 3 1m-3-1l0 2m32-180l-8-9 3 1m-3-1l1 3m8 12l-9 9 1-3m-1 3l3-1m-1-4l-7 8 1-2m-1 2l3-1m4 15l-6 9 0-2m0 2l3-1m5-11l-3 8 0-2m0 2l2-1m10 22l-11 7 1-2m-1 2l2 0m1-1l-8-8 2 1m-2-1l1 3m10 85l-11 9 1-3m-1 3l3 0m9-10l-7 5 1-2m-1 2l3 0m0 19l-3-9 2 2m-2-2l-1 3m11 5l-9 5 1-2m-1 2l2 0m4 10l-9 8 1-2m-1 2l3 0m-2-2l11 7-3 0m3 0l-1-2m-5 11l-9 9 1-3m-1 3l3-1m22-218l12-5-1 3m1-3l-2 0m-3 8l-5-13 2 2m-2-2l0 3m2 30l-5-12 3 2m-3-2l0 3m-1 6l7-5-1 3m1-3l-3 0m10 21l-10 4 2-2m-2 2l3 0m-1 2l-4-8 3 1m-3-1l0 3m4 132l-7 7 1-3m-1 3l3-1m5-7l5 7-2-1m2 1l0-3m-6 20l-4 11 0-3m0 3l2-2m-1-14l-6 11 0-3m0 3l2-2m5 21l-7-8 3 1m-3-1l1 3m11-5l-3 12 0-3m0 3l2-3m17-233l-5-11 3 2m-3-2l0 3m6 27l-2-9 2 2m-2-2l-1 2m6 12l-3-8 2 1m-2-1l0 2m1 19l-8 7 1-3m-1 3l3 0m0-2l-2-9 2 2m-2-2l0 3m11 179l-11 1 2-2m-2 2l3 1m-1-1l11-3-2 2m2-2l-2-1m-15 25l12-3-3 2m3-2l-3 0m0-8l-3 11 0-2m0 2l2-2m24-245l-9 2 2-2m-2 2l2 0m6 26l-1-8 1 2m-1-2l-1 2m-6 6l12 6-3 0m3 0l-2-3m-1 25l2-9 1 3m-1-3l-2 2m-3 7l1-12 1 2m-1-2l-2 2m1 166l0 12-2-2m2 2l1-2m0 6l8-5-1 3m1-3l-2 0m3 24l-13-2 2-1m-2 1l2 2m12-2l-10-2 2 0m-2 0l2 2m4 17l-11 4 2-2m-2 2l3 0m33-264l-8-2 2-1m-2 1l2 2m-8 29l5-13 0 3m0-3l-2 2m6 10l2-12 1 2m-1-2l-2 2m-2 31l2-8 1 3m-1-3l-2 2m-5 3l3-9 0 2m0-2l-2 2m5 176l1 11-2-2m2 2l1-3m-2-13l1 13-2-2m2 2l1-2m-2 11l3 9-2-2m2 2l1-3m-7 3l11 0-3 2m3-2l-3-1m-3 19l-1 12-1-3m1 3l2-3m21-239l-7-7 3 0m-3 0l1 2m-2-8l8 6-3 0m3 0l-1-2m6 31l-9-5 3 0m-3 0l2 3m-1-12l9 8-3-1m3 1l-1-3m-8 27l6-10 0 3m0-3l-2 2m-12 3l12 4-3 0m3 0l-2-2m-4 130l6 10-3-2m3 2l0-3m-9-6l4 10-2-2m2 2l1-3m-9 15l13 0-3 1m3-1l-3-1m-2-1l-9 9 1-3m-1 3l3-1m16 11l-12 7 2-2m-2 2l3 0m2-10l1 9-2-2m2 2l1-3m14-212l9 2-3 1m3-1l-3-2m4 28l-8-6 3 0m-3 0l1 2m-3-1l4-8 0 3m0-3l-3 1m10 31l-8-6 2 0m-2 0l1 2m2 2l-10-8 3 1m-3-1l1 3m12 32l-4-9 2 1m-2-1l0 2m-4-5l1 10-1-3m1 3l1-3m-4 82l12 7-3 0m3 0l-2-2m-9-13l10 8-3 0m3 0l-1-3m-9 22l8 5-3-1m3 1l-2-3m4 2l-6 7 1-2m-1 2l3-1m2 11l-7 9 1-3m-1 3l3-1m-7-11l9 10-2-1m2 1l0-3m-7 13l3 12-2-2m2 2l1-3m21-188l7-7-1 3m1-3l-2 1m1 22l-5-7 3 2m-3-2l1 3m-2-1l7 7-2-1m2 1l-1-3m-11 28l11-9-1 3m1-3l-3 1m-3 1l10-2-2 2m2-2l-2-1m-7 25l-5-7 2 1m-2-1l0 2m1 4l12-3-2 2m2-2l-3-1m-7 27l2-10 1 2m-1-2l-2 2m4-2l-2 10-1-2m1 2l2-2m-5 32l4-9 0 2m0-2l-3 1m-3 1l1-13 1 3m-1-3l-2 3m-4 28l10 3-2 1m2-1l-2-2m0 2l-5 7 0-2m0 2l2-1m3 11l-3 13-1-3m1 3l2-3m3-15l-9 5 2-3m-2 3l3 0m1 17l5 8-2-1m2 1l0-3m18-158l10 9-3 0m3 0l-1-2m-7 28l-6-7 3 1m-3-1l0 2m6 7l10-4-2 3m2-3l-3 0m-14 23l10 1-2 1m2-1l-2-2m-8-5l9 0-2 1m2-1l-2-2m-1 21l12-1-2 1m2-1l-3-1m-9 5l11-1-2 2m2-2l-2-1m-5 19l-3 11-1-3m1 3l2-2m-4-6l-1 14-1-3m1 3l1-3m-7 14l11 2-2 1m2-1l-2-2m-2-8l0 9-1-3m1 3l1-3m-3 17l7 5-3 0m3 0l-1-2m22-64l3 8-2-2m2 2l0-3" stroke="#4a5ad0" stroke-opacity="0.65" stroke-width="1.4"/>
<path d="M731 482l-1-6m1 6l2-5m-2 5l5 0m-5 0l3 6m-3-6l-2 4m2-4l-6-1m5 22l-3-4m3 4l3-5m-3 5l7-1m-7 1l3 5m-3-5l-4 6m4-6l-5 0m6 22l-4-6m4 6l1-6m-1 6l5-1m-5 1l3 3m-3-3l-3 6m3-6l-6 2m5 20l-6-2m6 2l-1-6m1 6l5-3m-5 3l4 2m-4-2l0 4m0-4l-5 2m5 20l-5-3m5 3l1-6m-1 6l4-4m-4 4l6 2m-6-2l1 4m-1-4l-4 3m26-113l1-6m-1 6l5-2m-5 2l7 3m-7-3l1 7m-1-7l-3 4m3-4l-6-1m6 23l-3-6m3 6l5-4m-5 4l5 1m-5-1l1 7m-1-7l-3 4m3-4l-5-1m5 23l-4-4m4 4l2-5m-2 5l6 0m-6 0l3 5m-3-5l-4 6m4-6l-5 0m5 22l-5-4m5 4l1-7m-1 7l6-1m-6 1l4 2m-4-2l-2 6m2-6l-5 1m5 20l-5-3m5 3l0-5m0 5l4-2m-4 2l5 4m-5-4l-1 5m1-5l-4 4m4 19l-5-2m5 2l-1-6m1 6l5-3m-5 3l5 1m-5-1l2 7m-2-7l-4 4m4 17l-6-2m6 2l-1-7m1 7l3-4m-3 4l6 0m-6 0l2 6m-2-6l-4 4m26-157l1-5m-1 5l7-1m-7 1l5 3m-5-3l1 6m-1-6l-5 2m5-2l-6-2m6 24l0-5m0 5l6-4m-6 4l7 3m-7-3l0 7m0-7l-4 4m4-4l-5-2m5 24l-1-5m1 5l4-5m-4 5l4 2m-4-2l1 5m-1-5l-4 3m4-3l-5-2m5 89l-5-1m5 1l-1-7m1 7l5-4m-5 4l6 2m-6-2l0 6m0-6l-3 5m3 16l-6-1m6 1l-3-3m3 3l2-4m-2 4l4-1m-4 1l2 6m-2-6l-2 6m2 17l-7-1m7 1l-4-4m4 4l1-6m-1 6l5 0m-5 0l2 6m-2-6l-1 6m23-201l2-5m-2 5l7 1m-7-1l3 6m-3-6l-2 6m2-6l-6 2m6-2l-4-5m4 26l3-4m-3 4l7 0m-7 0l5 4m-5-4l-2 4m2-4l-6 1m6-1l-5-4m4 25l1-4m-1 4l5 0m-5 0l5 4m-5-4l0 5m0-5l-6 2m6-2l-5-3m6 134l-6 1m6-1l-2-4m2 4l1-7m-1 7l5-1m-5 1l4 5m-4-5l-1 5m0 17l-5 1m5-1l-5-3m5 3l2-6m-2 6l6-2m-6 2l4 3m-4-3l-1 6m1 15l-4 3m4-3l-3-2m3 2l2-6m-2 6l5-1m-5 1l5 6m-5-6l-2 6m24-222l3-4m-3 4l6 1m-6-1l3 6m-3-6l-3 4m3-4l-5 0m5 0l-3-5m3 27l4-5m-4 5l5 0m-5 0l3 5m-3-5l-2 5m2-5l-6 0m6 0l-4-5m4 178l-5 1m5-1l-5-2m5 2l0-7m0 7l4-2m-4 2l4 2m-4-2l0 5m1 16l-6 3m6-3l-6-2m6 2l0-5m0 5l4-2m-4 2l4 2m-4-2l1 5m19-221l3-4m-3 4l5 1m-5-1l2 4m-2-4l-4 3m4-3l-5-1m5 1l-3-6m4 26l2-4m-2 4l6 1m-6-1l1 5m-1-5l-5 4m5-4l-7-1m7 1l-2-5m2 180l-5 5m5-5l-6-3m6 3l-1-4m1 4l5-2m-5 2l5 2m-5-2l3 7m-3 15l-4 6m4-6l-6-2m6 2l-2-4m2 4l5-5m-5 5l6 3m-6-3l0 7m22-224l5-3m-5 3l6 4m-6-4l2 7m-2-7l-5 3m5-3l-4-2m4 2l0-5m-1 26l4-3m-4 3l5 3m-5-3l1 5m-1-5l-5 3m5-3l-6-2m6 2l0-6m1 179l-3 4m3-4l-7 0m7 0l-2-6m2 6l3-4m-3 4l6 2m-6-2l2 5m-2 17l-4 5m4-5l-6-2m6 2l-4-4m4 4l3-6m-3 6l6 1m-6-1l1 6m20-223l4-3m-4 3l4 2m-4-2l-1 5m1-5l-6 3m6-3l-4-4m4 4l0-6m1 28l6-2m-6 2l5 3m-5-3l0 6m0-6l-7 1m7-1l-6-4m6 4l1-5m-2 27l7-1m-7 1l4 4m-4-4l-2 5m2-5l-4 1m4-1l-4-4m4 4l1-7m0 138l0 5m0-5l-5 2m5-2l-4-5m4 5l2-6m-2 6l4-1m-4 1l5 5m-6 17l-3 5m3-5l-6-1m6 1l-3-4m3 4l2-5m-2 5l6-1m-6 1l4 4m-4 16l-3 4m3-4l-6 1m6-1l-4-5m4 5l3-5m-3 5l6-1m-6 1l3 5m19-199l6-1m-6 1l4 4m-4-4l-1 5m1-5l-6 0m6 0l-2-4m2 4l3-5m-3 26l5 1m-5-1l2 5m-2-5l-3 5m3-5l-6 2m6-2l-2-4m2 4l3-4m-2 26l5 2m-5-2l2 5m-2-5l-4 4m4-4l-5-1m5 1l-2-6m2 6l3-4m-3 90l2 6m-2-6l-4 4m4-4l-6-2m6 2l-1-6m1 6l5-3m-5 3l4 3m-5 19l1 7m-1-7l-6 3m6-3l-5-2m5 2l1-6m-1 6l5-2m-5 2l5 2m-5 19l0 7m0-7l-5 4m5-4l-4-4m4 4l2-6m-2 6l5-2m-5 2l4 3m19-155l4 2m-4-2l1 7m-1-7l-4 5m4-5l-7 0m7 0l-4-5m4 5l4-4m-5 26l6 2m-6-2l2 6m-2-6l-4 5m4-5l-6-2m6 2l0-6m0 6l6-4m-7 27l4 3m-4-3l-1 5m1-5l-4 1m4-1l-5-3m5 3l0-5m0 5l6-2m-5 22l3 5m-3-5l-1 6m1-6l-5 3m5-3l-5-4m5 4l2-5m-2 5l7-1m-8 24l2 4m-2-4l-2 5m2-5l-5 1m5-1l-3-6m3 6l4-5m-4 5l7-1m-7 23l2 4m-2-4l-5 5m5-5l-5 0m5 0l-2-6m2 6l3-4m-3 4l5 0m-5 20l1 6m-1-6l-3 4m3-4l-5-3m5 3l-2-5m2 5l5-2m-5 2l6 2m16-109l4 3m-4-3l0 7m0-7l-3 4m3-4l-6-2m6 2l-1-5m1 5l4-3m-4 24l5 3m-5-3l1 5m-1-5l-5 2m5-2l-4-3m4 3l2-6m-2 6l6-4m-5 25l5 4m-5-4l0 5m0-5l-5 1m5-1l-4-2m4 2l1-4m-1 4l5-2m-6 24l4 5m-4-5l-3 5m3-5l-5-1m5 1l-4-5m4 5l5-5m-5 5l5 1m-5 21l3 5m-3-5l-2 5m2-5l-5-1m5 1l-4-6m4 6l4-6m-4 6l5 0" stroke="#4a5ad0" stroke-opacity="0.7" stroke-width="1.6"/>
<path d="M922 526l12-1-2 2m2-2l-2-1m-10 0l12 0-2 1m2-1l-2-2m-41 48l8 6-2 0m2 0l-1-3m1 3l8 8-3-1m3 1l-1-3m-41 4l5 12-2-2m2 2l0-3m-24-8l1 11-1-3m1 3l1-3m-2 2l2 11-2-2m2 2l1-2m-1 1l2 12-2-2m2 2l1-3m-30-21l-2 11-1-3m1 3l2-3m-22-12l-7 11 0-3m0 3l3-2m-16-48l-9 5 2-3m-2 3l3 0m6-52l-11-4 3 0m-3 0l2 3m38-33l-6-9 3 2m-3-2l1 3m2 7l-5-9 3 2m-3-2l0 3m20-19l-3-11 2 2m-2-2l-1 3m44 19l4-12 0 3m0-3l-2 2m0-1l5-12 0 3m0-3l-2 2m8 37l7-10 0 3m0-3l-3 2m12 24l9-5-1 2m1-2l-3 0m0-2l9-6-1 2m1-2l-3 0m3 2l8-7-1 3m1-3l-3 1m-7 25l9-3-2 2m2-2l-2-1" stroke="#6f86e0" stroke-opacity="0.8" stroke-width="1.3"/>
<path d="M768 539l-11-1 3-1m-3 1l2 1m10-25l-8 2m9 9l-8 2 2-2m-2 2l2 0m7 4l-7-1m7 14l-6 6 1-3m-1 3l2-1m8-56l-6-5m11 21l-9-2m10 17l-12-1m8 9l-10-1 2-1m-2 1l2 1m8 2l-7 5m7 3l-10-1 3-1m-3 1l3 2m9 6l-12 1m14-68l-6-6 2 1m-2-1l1 3m9 38l-11-3 3-1m-3 1l2 2m4 50l-7 5 2-2m-2 2l3 0m8-1l-7 9 0-2m0 2l2-1m7-86l-3-7m6 86l-5 7m10-110l-3-8m1 15l-6-8 3 1m-3-1l1 3m5 20l-6-7 2 1m-2-1l0 3m10-15l-2-8 2 2m-2-2l0 3m11 2l-2-8m2 130l-5 6 1-3m-1 3l3-1m13-137l-4-8 2 1m-2-1l0 2m4 13l-1-9m25 8l-5-8 2 1m-2-1l0 2m3 10l-3-11m16 126l1 12m3-133l4-8 0 2m0-2l-2 1m1 133l2 7m4-3l2 7m5-138l8-7m-7 119l3 11-2-2m2 2l1-2m2 3l6 4-3 0m3 0l-1-2m4-110l8-2m-7 23l7-6m-1 5l6-6-1 3m1-3l-3 1m-2 70l10 2-3 1m3-1l-2-1m-8 1l4 9m3-76l9-5-1 3m1-3l-2 0m-9 8l8 0m-4 28l11-3-2 2m2-2l-2-1m-7 16l9-2" stroke="#6f86e0" stroke-opacity="0.9" stroke-width="1.2"/>
<path d="M711 530l-11-3 2-1m-2 1l2 2m33-63l-11-7 3 0m-3 0l1 2m8 20l-8-1 3-1m-3 1l2 2m8 8l-8-6 3 0m-3 0l2 2m1 16l2 11-2-2m2 2l1-3m-2-16l3 12-2-2m2 2l1-3m-1 17l-13 0 3-1m-3 1l3 1m5 14l-4-12 2 2m-2-2l-1 3m7 19l-10 1 2-1m-2 1l2 1m7-2l1 10-1-2m1 2l1-3m-2 11l-8 5 1-2m-1 2l2 0m9 2l-8 1 2-1m-2 1l3 1m1 9l3 12-2-2m2 2l1-3m27-153l-10-8 3 0m-3 0l1 2m7 32l-8-5 2 0m-2 0l1 3m-1 8l5-11 0 2m0-2l-2 1m1 32l5-13 0 3m0-3l-2 2m6 5l-11-5 3 0m-3 0l1 2m3 20l-5 10 0-2m0 2l2-1m8 0l-10-6 3 0m-3 0l1 2m-1 22l-3-13 2 2m-2-2l-1 2m5 13l-5-10 2 2m-2-2l0 3m2 31l-3-10 2 2m-2-2l0 3m8-4l-9 4 2-3m-2 3l3 0m5 17l-11 6 1-2m-1 2l3 0m15-1l-8 7 1-3m-1 3l3-1m2 18l-2-9 2 2m-2-2l-1 3m1-3l-7 7 1-3m-1 3l2-1m12 22l-11-5 3 0m-3 0l2 2m22-183l-5-12 2 1m-2-1l0 2m7 18l-7 10 1-3m-1 3l3-1m5-8l-6 6 1-2m-1 2l3-1m5 27l-8-8 2 1m-2-1l0 3m6-5l-10 4 2-2m-2 2l3 0m8 18l-8-5 2 0m-2 0l1 2m9 11l-12-5 3 0m-3 0l1 2m10 85l-2-9 2 2m-2-2l-1 2m-8 0l6 10-2-1m2 1l0-3m-2 27l-8-9 3 1m-3-1l1 3m11-8l-11 8 1-3m-1 3l3-1m1 22l6 6-2-1m2 1l-1-3m6-11l-8 6 1-2m-1 2l3 0m3 23l-5 9 0-2m0 2l3-1m24-217l-5-12 2 2m-2-2l0 3m1 5l-11 3 2-2m-2 2l3 0m-3 19l11-9-1 3m1-3l-3 1m-4 12l8-10 0 2m0-2l-2 1m7 24l-6-8 3 1m-3-1l1 3m4 9l-5-10 2 1m-2-1l0 2m3 128l-6 9 1-3m-1 3l3-1m3 5l-9-8 3 1m-3-1l1 3m4 16l-7 9 0-3m0 3l2-1m4-7l-5 13-1-3m1 3l2-2m11 6l-7 8 0-2m0 2l2-1m-2 4l-5-6 2 1m-2-1l0 2m26-241l11-3-2 2m2-2l-2-1m-5 37l-1-9 2 3m-2-3l-1 3m-7-3l11-4-2 2m2-2l-3-1m2 35l-6-13 2 2m-2-2l0 3m6-1l-10 2 2-2m-2 2l3 1m-4 172l10 0-2 1m2-1l-2-1m-5-1l-4 11 0-3m0 3l2-2m8 21l-8-3 2 0m-2 0l2 2m4-5l7 6-2-1m2 1l-1-3m18-240l-1-8 1 2m-1-2l-1 2m0 29l-2-12 2 2m-2-2l-1 3m-2 10l2-14 1 2m-1-2l-2 2m10 30l-11 0 2-1m-2 1l2 1m1 1l1-9 1 3m-1-3l-2 2m0 178l9-2-2 2m2-2l-2-1m-6 4l2 9-2-2m2 2l1-2m4 10l-8 0 2-1m-2 1l2 1m1 1l-2 7-1-2m1 2l2-2m-3 18l12-3-2 1m2-1l-2-1m10-254l7 5-2 0m2 0l-1-2m1 19l5-11 1 3m-1-3l-2 2m-12 12l11-3-3 2m3-2l-3 0m-2 21l4-11 0 3m0-3l-2 2m-3 14l3-13 1 3m-1-3l-2 2m1 178l8-5-2 2m2-2l-3 0m-11 3l5 8-2-2m2 2l0-3m5 15l-8 1 2-2m-2 2l2 1m3-7l5 11-2-2m2 2l0-3m-6 14l3 8-2-2m2 2l1-3m25-231l-10-3 3 0m-3 0l2 2m-10-2l9 5-2 0m2 0l-1-3m2 28l4-10 0 3m0-3l-2 2m6 0l-10-7 2 0m-2 0l1 2m0 26l8 7-3 0m3 0l-1-2m-1-9l-8-1 2-1m-2 1l2 2m-5 143l9-10 0 3m0-3l-2 1m2-2l-5 10 0-3m0 3l2-2m2 6l6 10-3-1m3 1l0-3m-10-6l7 12-3-2m3 2l0-3m-14 28l10-9-1 3m1-3l-3 1m0 0l9-4-2 2m2-2l-3 0m18-213l7-6-1 3m1-3l-3 1m2 35l-7-5 2 0m-2 0l1 2m-5 0l7-5-1 2m1-2l-3 0m-3 12l4 11-2-2m2 2l0-3m-2-4l12 6-3 0m3 0l-2-3m-11 25l10-3-2 2m2-2l-3 0m-15 8l13-5-2 2m2-2l-3 0m-1 85l11-6-1 3m1-3l-3 0m-4 3l7 5-3 0m3 0l-1-2m-6 23l6 9-3-2m3 2l-1-3m-8-12l6 7-2-1m2 1l0-3m-6 16l7 7-3-1m3 1l-1-3m-3 0l-10 7 1-3m-1 3l3 0m2 17l8 7-3-1m3 1l-1-3m13-193l8-5-2 3m2-3l-3 0m2 13l3 8-2-2m2 2l0-3m-11 8l7-5-1 3m1-3l-3 0m-1 26l11-7-1 3m1-3l-3 0m-8 2l9-4-2 3m2-3l-3 0m-4 31l9-2-2 2m2-2l-3-1m-13-10l5 11-2-2m2 2l0-3m1 12l0 11-2-2m2 2l1-2m-7 5l13 1-3 1m3-1l-3-2m-7 29l2-10 1 3m-1-3l-2 2m6-8l-2 13-1-3m1 3l1-3m-9 11l10 10-3-1m3 1l-1-3m-5-1l7 6-3-1m3 1l-1-3m4 10l-2 10-1-3m1 3l2-2m-7 0l10 7-3 0m3 0l-1-3m-10 19l7 5-3 0m3 0l-2-3m19-153l-7-7 2 1m-2-1l0 3m5 17l5 10-2-2m2 2l0-3m-9-1l11-3-2 2m2-2l-3-1m3 20l-1 9-1-3m1 3l1-3m0 12l0-14 1 2m-1-2l-2 3m-6 26l10 1-3 1m3-1l-3-2m-14 1l12-2-2 2m2-2l-2-1m0 17l8 3-3 0m3 0l-2-2m-8 8l0-13 1 3m-1-3l-1 3m-1 28l6-7 0 3m0-3l-2 1m-1 4l10 1-3 1m3-1l-3-2m-10 22l7 7-3-1m3 1l-1-3m17-63l3-7 0 3m0-3l-2 2" stroke="#6f86e0" stroke-opacity="0.65" stroke-width="1.4"/>
<path d="M975 528l0 6-1-2m1 2l1-2m-1 5l0 6-1-2m1 2l1-2m-2 11l1-6 1 2m-1-2l-1 1m-5 21l2-6 0 2m0-2l-2 1m-5 13l-2 6 0-2m0 2l1-1m-7 16l-3 5 0-2m0 2l1-1m-5 4l-4 5 0-2m0 2l2-1m-9 10l4-5 0 2m0-2l-1 1m-9 10l-4 4 1-2m-1 2l2 0m-11 9l5-4-1 2m1-2l-2 0m-15 11l-5 3 1-1m-1 1l2 0m-7 0l5-2-1 2m1-2l-2 0m-18 10l-6 2 1-1m-1 1l2 1m-7 1l6-1-1 1m1-1l-2-1m-25 5l6-1-1 2m1-2l-2 0m-18 1l-6 0 1-1m-1 1l1 1m-4-2l-6 0 2-1m-2 1l2 1m-12-4l-6-2 2 0m-2 0l2 2m-13-3l-6-2 2 0m-2 0l2 1m-6-4l5 3-2 0m2 0l-1-2m-20-10l5 3-2 0m2 0l-1-1m-15-10l-5-3 2 0m-2 0l1 1m-4-4l-4-4 2 1m-2-1l0 2m-6-8l4 4-1 0m1 0l0-2m-16-14l-3-5 2 1m-2-1l0 2m-4-9l3 5-1-1m1 1l0-2m-8-15l3 6-2-1m2 1l0-2m-10-21l2 6-2-1m2 1l0-2m-5-16l1 6-1-1m1 1l0-2m-5-21l1 6-1-2m1 2l1-2m-3-18l0-6 1 2m-1-2l-1 2m2-7l0 6-1-2m1 2l1-2m1-15l1-6 0 2m0-2l-1 2m4-12l2-6 1 2m-1-2l-1 2m7-10l-2 5-1-2m1 2l1-1m5-16l-3 6 0-2m0 2l2-1m12-19l-4 5 0-2m0 2l2-1m9-14l-4 4 1-2m-1 2l2 0m12-16l-5 4 1-2m-1 2l2 0m15-14l5-4-1 2m1-2l-2 1m11-6l-6 3 2-2m-2 2l2 0m11-6l5-3-1 2m1-2l-2 0m14-2l6-2-1 2m1-2l-2 0m12-1l6-1-1 1m1-1l-2-1m6-2l-6 0 2-1m-2 1l2 1m18 0l6 0-2 1m2-1l-2-1m11 0l6 0-2 1m2-1l-2-1m9 4l6 1-2 0m2 0l-1-1m8 3l-6-2 2 0m-2 0l1 2m22 8l-5-3 2 0m-2 0l1 2m15 3l-5-3 2 1m-2-1l1 2m18 12l-4-4 2 0m-2 0l0 2m13 11l-5-4 2 1m-2-1l1 2m17 12l4 5-2-1m2 1l0-2m1 5l-4-4 2 0m-2 0l0 2m18 19l-3-5 2 1m-2-1l0 2m4 12l3 5-2-1m2 1l0-2m2 9l-2-6 1 1m-1-1l-1 2m9 23l-1-5 1 1m-1-1l-1 1m5 18l-1-6 2 2m-2-2l0 2" stroke="#6f86e0" stroke-opacity="0.6" stroke-width="1.2"/>
<path d="M849 524l13-1-3 2m3-2l-3-1m2 2l11 0-2 2m2-2l-2-1m11 3l12-1-3 2m3-2l-3-1m12-1l11 0-2 2m2-2l-2-1m1 4l11 0-3 1m3-1l-3-2m-8-1l11-1-3 2m3-2l-3-1m-34 19l12 3-3 1m3-1l-3-2m0 6l11 4-3 0m3 0l-2-3m-8-3l11 3-3 1m3-1l-2-2m1 2l11 4-3 1m3-1l-2-2m-47 2l8 8-3 0m3 0l-1-2m2-1l8 8-3-1m3 1l-1-3m-1 4l8 6-3-1m3 1l-1-3m0 2l7 8-2-1m2 1l-1-3m-31-11l7 10-3-1m3 1l-1-3m7 20l7 11-3-1m3 1l0-3m-4-9l7 10-2-1m2 1l0-3m-24-12l6 11-2-2m2 2l0-3m-30-49l2 12-2-3m2 3l1-3m-1 12l2 12-2-2m2 2l1-3m-1-9l1 12-2-3m2 3l1-3m-2 11l2 11-2-2m2 2l1-3m-14-49l-2 11-1-3m1 3l2-3m2-7l-3 10-1-3m1 3l2-2m-3 1l-4 9 0-3m0 3l3-2m1-27l-5 11 0-3m0 3l2-2m6-7l-6 10 0-3m0 3l3-2m-3 0l-7 10 0-3m0 3l3-1m-14 17l-7 10 0-3m0 3l3-1m6-8l-7 11 1-3m-1 3l3-2m-1 1l-5 11-1-3m1 3l2-2m-4 0l-6 11 0-3m0 3l3-1m-4-43l-11 7 1-3m-1 3l3-1m9-4l-11 6 2-2m-2 2l3 0m-2-1l-9 5 2-2m-2 2l3 0m32-33l-12 4 2-3m-2 3l2 0m-30 12l-12 5 2-2m-2 2l3 0m61-33l-13 2 3-2m-3 2l3 1m-12-2l-10 0 2-2m-2 2l2 1m-1-1l-11 0 2-1m-2 1l2 1m-1 0l-12 1 3-2m-3 2l3 1m37-15l-11-5 3 0m-3 0l2 2m9 4l-11-5 3 0m-3 0l1 2m0-2l-12-5 3 0m-3 0l2 3m-9-5l-11-4 2-1m-2 1l1 2m0-2l-11-4 3-1m-3 1l2 2m66 16l-10-7 3 0m-3 0l1 3m-7-10l-9-7 3 1m-3-1l2 3m-9-10l-7-7 2 1m-2-1l1 3m-2 0l-9-8 3 0m-3 0l1 3m49 33l-5-11 2 2m-2-2l0 3m-10-22l-6-10 2 1m-2-1l0 3m-6-9l-6-11 2 2m-2-2l0 3m32 12l-2-12 2 2m-2-2l-1 3m1 10l-2-13 2 3m-2-3l-1 3m18 21l-1-11 2 2m-2-2l-1 3m1-12l0-11 2 3m-2-3l-1 3m14 36l2-11 1 3m-1-3l-2 2m10 13l6-11 0 3m0-3l-2 2m6-10l7-9 0 3m0-3l-3 1m1-1l5-9 0 3m0-3l-3 2m-30 60l9-7-1 3m1-3l-3 1m4 1l9-5-2 2m2-2l-3 0m16-11l9-7-1 3m1-3l-3 0m1-1l8-6-1 3m1-3l-3 1m9 16l10-3-2 2m2-2l-3 0" stroke="#62b4ec" stroke-opacity="0.8" stroke-width="1.3"/>
<path d="M768 532l-10-1m13-15l-6 3 1-2m-1 2l2 0m5 15l-11 5m11 0l-10 5 2-2m-2 2l3 0m14-40l-10-2 2-1m-2 1l2 1m5 17l-9 1 2-2m-2 2l3 1m6 34l-9 1 2-1m-2 1l3 1m12-74l-8-7m9 12l-8-4m10 17l-11-1m11 7l-9-2 2-1m-2 1l2 2m3 17l-8-4m8 10l-8 5 1-3m-1 3l2 0m7 8l-8-2 2-1m-2 1l2 1m7 3l-6 3 1-2m-1 2l3 0m3 3l-8 7m13-77l-5-7 2 1m-2-1l0 2m7 10l-7-7 2 1m-2-1l0 3m9 13l-12-1 2-1m-2 1l2 1m8 30l-11 1 2-1m-2 1l3 1m6 13l-6 8m7 2l-7 6 1-3m-1 3l2-1m7 3l-8 3 2-2m-2 2l3 0m1 4l-8 1 2-1m-2 1l2 1m14-9l-3 9-1-3m1 3l1-2m-1-1l-6 8m16-94l-6-7m4 18l-3-10 2 2m-2-2l-1 3m4 9l-6-6 2 1m-2-1l1 3m5 7l-7 0 2-1m-2 1l2 1m2 8l-5-6m10 13l-8-1m9 28l-9 5 1-2m-1 2l2 0m4 27l-7 4 1-2m-1 2l3 0m3 2l-2 8m0-6l-2 11-1-2m1 2l2-2m10-116l-6-4m4 38l-7-2 3-1m-3 1l2 2m4 64l-5 8 0-3m0 3l2-2m3-1l-2 11m10-123l-5-7 2 1m-2-1l0 2m8 19l-9-8m4 22l-4-6m5 58l-3 10m3 2l-3 11-1-2m1 2l2-2m2 19l-5 4 1-2m-1 2l3 0m10-104l-6-8m1 14l-2-9m6 12l-4-8m5 15l-8-3 3-1m-3 1l2 2m6 17l-9-2 3-1m-3 1l2 1m4 39l-8 4 1-3m-1 3l2 0m3 9l-2 11-1-2m1 2l2-2m0 6l-1 7-1-2m1 2l2-2m3 4l-1 10m6-133l-2-8m3 23l-8-7 2 1m-2-1l1 2m5 11l-4-8m5 25l-8-7m9 60l-4 7 0-3m0 3l2-2m-1 0l-2 11m1 5l1 8-1-2m1 2l1-2m-3 0l2 9m0 0l-5 7 0-2m0 2l2-1m10-147l0-8m0 19l-2-9m2 13l-3-8m5 60l-11-3m9 50l-6 8 0-3m0 3l2-1m4 5l-4 9 0-3m0 3l2-2m0 3l-1 8-1-3m1 3l1-2m3-3l-6 9 0-3m0 3l2-2m9-142l2-7m-2 16l2-10m-4 25l2-11 1 3m-1-3l-2 2m3 90l-3 7 0-3m0 3l2-2m0 10l-1 7m3-3l-4 8m0-3l2 10m1 1l-1 11-1-3m1 3l2-2m7-152l-6-10m4 129l-2 12m0-2l-2 8 0-3m0 3l2-3m-1 5l3 8m5-145l-1-9m-2 42l1-8 1 2m-1-2l-1 2m2 67l0 8m0 10l2 11-2-2m2 2l1-3m-3 5l-3 9m6 6l-3 7 0-3m0 3l2-2m-2-3l-4 7 0-2m0 2l3-1m3-147l7-10 0 3m0-3l-2 2m-3 57l2-10m-4 15l8-8-1 3m1-3l-3 1m-3 88l-1 9m8-141l-2-12m2 19l6-6m-6 21l5-9m-5 108l2 8m-4 3l2 10m5-133l2-7 1 2m-1-2l-2 1m-1 115l5 7m-4-6l5 8-2-1m2 1l0-2m-4 4l3 7m2-130l6-9m-4 21l4-10 0 2m0-2l-2 1m-4 17l3-8m-5 15l9-6-1 3m1-3l-3 1m-4 11l5-8-1 3m1-3l-3 1m1 58l3 10-2-2m2 2l0-2m-9 0l6 7m-2-5l2 11m0 2l2 8-2-2m2 2l1-3m-9 9l7 9-3-1m3 1l-1-3m2-123l5-5-1 2m1-2l-3 0m-4 24l7-4-2 2m2-2l-3 0m-4 49l7 6m-7 24l8 8m-6-4l4 7m-5 6l9 6m1-117l4-7m-8 17l7-8m-7 19l7-3-2 2m2-2l-3-1m-6 15l7-9m-7 39l8 7-2-1m2 1l-1-3m-6 32l6 9m-5-2l4 6m-1 3l5 10-2-1m2 1l0-3m-2-119l8-5m-8 18l4-6m-3 34l8 1-2 1m2-1l-2-2m-10 11l11 5-3 0m3 0l-2-2m-5 5l8-3-1 2m1-2l-2 0m-6 9l10-2m-8 17l6 5m-7 7l8 6-2 0m2 0l-1-2m-6 5l5 10-2-1m2 1l0-2m-7 0l2 10m4-118l10-3m-10 34l9-5-2 2m2-2l-3 0m-8 10l11-2m-11 32l8-3m-6 10l7 3m-5 5l6 7-2-1m2 1l0-3m-11 4l8 1-3 1m3-1l-2-1m-1-55l12-2-2 1m2-1l-2-1m-6 8l10-3m-9 10l7 3-3 1m3-1l-1-2m-8 6l9 2m-8 1l10 4-2 0m2 0l-1-2m-9 13l11-2m-14 8l8-1m-5 22l8 2m-5-52l11-1-2 1m2-1l-2-1m-7 8l12-1m-12 9l9 2-3 0m3 0l-2-2m-9 8l8-1-2 1m2-1l-2-1m-4 8l6 5m-8 8l12 1m-4-60l8 1m-9 7l10 4m-12 19l10-1m-9 9l8 4-3 0m3 0l-2-2m-6 10l12 0-2 1m2-1l-2-1m-3-42l8 3-3 0m3 0l-2-2" stroke="#62b4ec" stroke-opacity="0.9" stroke-width="1.2"/>
<path d="M871 523l11 1-2 1m2-1l-2-2m12 2l11 1-3 1m3-1l-3-2m-44 7l12 3-3 0m3 0l-3-2m11 8l11 2-3 1m3-1l-3-2m-23 36l4 11-2-2m2 2l1-3m-25-27l0 11-2-3m2 3l1-3m1-9l1 12-1-3m1 3l2-3m-30-2l-5 11 0-3m0 3l3-2m3-8l-5 10 0-3m0 3l2-1m16-41l-11 5 2-2m-2 2l3 0m-23 4l-12 4 2-2m-2 2l3 1m0 2l-12 4 2-2m-2 2l3 0m0-22l-11 0 2-2m-2 2l2 1m58-22l-6-10 2 1m-2-1l0 3m11-3l-4-11 2 2m-2-2l-1 3m7-1l0-11 1 3m-1-3l-2 3m8 24l5-11 0 3m0-3l-3 2m0 19l4-9 0 3m0-3l-2 2m4 0l5-10 0 3m0-3l-2 1m12-19l5-10 0 3m0-3l-3 2m-2 34l9-6-2 3m2-3l-3 0m-18 17l10-6-2 3m2-3l-3 0m23-4l10-5-2 3m2-3l-3 0" stroke="#7ee2ec" stroke-opacity="0.8" stroke-width="1.3"/>
<path d="M788 546l-7 3m12-37l-6-5m17-26l-2-7 2 2m-2-2l-1 3m3 28l-6-6m11 33l-10 2m7 3l-10 2m16-55l-9-4 2 0m-2 0l1 2m10 52l-8 2 2-2m-2 2l3 1m4 18l-9 5m10-81l-3-11 2 2m-2-2l0 3m12 60l-11-3m9 6l-11 4 2-2m-2 2l3 0m14-10l-7 9m11-55l-3-9m7 93l-1 10-1-2m1 2l2-2m6-62l-4-9 2 1m-2-1l-1 2m11-28l6-8m-4 19l0-8 1 2m-1-2l-1 2m-2 57l6 6-2-1m2 1l-1-2m-2 24l3 11m0-74l9-5-1 2m1-2l-2 0m-6 32l6 8m-8 5l7 7-2-1m2 1l-1-3m-2 16l3 6-2-1m2 1l0-2m-1 1l2 11m-2-82l11-4-2 2m2-2l-3 0m-5 10l8-7m-8 33l7 3-3 0m3 0l-2-2m-5 13l5 11-2-1m2 1l0-2m-8 14l6 9m6-77l7-9m-7 16l6-6m-3 10l7-8m-10 11l7 0-2 1m2-1l-2-1m-2 35l6 7m-4 5l2 7m-2-61l9-6-1 3m1-3l-2 1m-5 47l5 7-3-1m3 1l-1-3m-2 7l5 8-2-2m2 2l0-3m0-17l8 1-2 1m2-1l-2-1m-1-34l9 3m-9 9l9 4m-9 12l9 3" stroke="#7ee2ec" stroke-opacity="0.9" stroke-width="1.2"/>
<path d="M849 526l13 1-3 2m3-2l-3-1m12 0l11 0-2 1m2-1l-2-1m1-2l12 1-3 1m3-1l-3-2m2 4l11 0-3 2m3-2l-3-1m2 1l11-1-2 1m2-1l-3-2m-65 3l12 4-3 1m3-1l-2-2m0 4l12 3-3 1m3-1l-2-2m1 2l11 4-3 1m3-1l-2-2m-9-4l12 4-3 1m3-1l-2-2m0 2l11 4-3 0m3 0l-2-2m0 3l12 4-3 1m3-1l-3-2m-48-14l9 8-3-1m3 1l-1-3m-1 3l8 9-3-1m3 1l-1-3m-6-7l9 8-3 0m3 0l-1-2m-1 3l8 7-3-1m3 1l-1-3m-6-6l9 6-3 0m3 0l-1-2m-1 3l10 7-3-1m3 1l-2-3m-1 4l8 7-3-1m3 1l-1-3m1 1l7 7-2-1m2 1l0-3m-46-31l7 11-3-2m3 2l0-3m-1 2l7 10-2-1m2 1l0-3m-5-8l8 10-3-2m3 2l-1-3m-2 3l6 11-3-2m3 2l0-3m-5-9l7 10-2-1m2 1l0-3m-3 4l8 10-3-2m3 2l-1-3m1 1l5 9-2-2m2 2l0-3m-2 3l7 9-3-1m3 1l-1-3m-34-52l5 12-3-2m3 2l0-3m-3 3l4 10-2-2m2 2l0-3m-1 2l4 10-2-2m2 2l0-3m-1-8l5 10-3-2m3 2l0-3m-3 3l4 10-3-2m3 2l0-3m-2-8l4 10-3-2m3 2l0-3m-3 3l6 11-3-2m3 2l0-3m-24-49l1 11-2-2m2 2l1-3m0 34l2 10-2-2m2 2l1-3m-1-7l0 10-1-3m1 3l2-3m-11-50l-4 12-1-2m1 2l2-2m3-10l-4 13 0-3m0 3l3-2m-4 10l-2 10-1-3m1 3l2-2m-4 0l-3 13-1-3m1 3l2-2m4-10l-5 12 0-3m0 3l2-2m-7-20l-6 8 0-3m0 3l2-1m6-6l-6 9 0-3m0 3l3-2m13-35l-10 7 1-3m-1 3l3 0m-9 6l-9 6 2-3m-2 3l3 0m8-4l-9 6 1-3m-1 3l3-1m-3-1l-8 7 1-3m-1 3l3-1m6-4l-8 6 1-3m-1 3l3-1m-4-2l-11 6 1-3m-1 3l3 0m9-4l-10 7 1-2m-1 2l3 0m23-27l-11 3 2-2m-2 2l3 1m-1 1l-12 4 2-2m-2 2l3 1m-12 2l-12 4 2-2m-2 2l3 0m-1 0l-10 4 2-2m-2 2l3 0m60-29l-11 2 2-2m-2 2l3 1m-2 0l-13-1 3-1m-3 1l3 2m-2-2l-11 1 3-1m-3 1l3 1m8 0l-11 0 3-2m-3 2l3 1m-2-1l-10 1 2-1m-2 1l3 1m-2-1l-11 1 3-2m-3 2l3 1m-12 0l-10 0 2-1m-2 1l3 2m63-10l-9-4 3-1m-3 1l2 2m-22-9l-12-3 3-1m-3 1l2 2m0-6l-9-2 2-1m-2 1l2 2m6 3l-9-2 2-1m-2 1l2 2m54 12l-9-7 3 1m-3-1l2 3m-2-1l-9-8 3 1m-3-1l1 3m2-5l-8-8 3 1m-3-1l1 2m5 9l-8-9 3 1m-3-1l1 3m-1-2l-8-7 3 1m-3-1l1 3m0-2l-9-9 3 1m-3-1l1 3m0-1l-8-7 3 1m-3-1l1 3m46 35l-6-10 3 2m-3-2l0 3m-2-13l-7-10 3 1m-3-1l0 3m4 9l-6-11 3 2m-3-2l0 3m2-3l-7-11 3 2m-3-2l1 3m5 9l-6-11 3 1m-3-1l0 3m0-2l-7-10 3 2m-3-2l1 3m-3-11l-6-10 2 1m-2-1l0 3m41 53l-3-11 2 2m-2-2l-1 3m1 9l-4-11 2 2m-2-2l0 3m2-13l-2-11 2 3m-2-3l-1 3m1 8l-1-10 1 2m-1-2l-2 3m1-2l-2-13 2 3m-2-3l-1 3m-1-13l-2-11 2 2m-2-2l-1 2m19 71l1-11 1 3m-1-3l-2 3m-1-12l0-10 1 3m-1-3l-2 3m3-2l-1-11 2 3m-2-3l-1 3m1-2l-1-11 2 3m-2-3l-1 3m4-2l-2-11 2 2m-2-2l-1 2m0 9l0-12 1 3m-1-3l-2 3m2-1l0-11 2 3m-2-3l-1 3m10 55l3-12 1 3m-1-3l-2 2m2-1l4-9 0 3m0-3l-2 2m-4 7l3-10 1 3m-1-3l-2 2m2-1l3-10 0 2m0-2l-3 2m5-1l3-12 1 3m-1-3l-2 2m-4 10l3-13 1 3m-1-3l-2 2m3 0l2-11 1 3m-1-3l-2 3m2-2l3-12 1 3m-1-3l-2 3m-13 69l5-9 0 3m0-3l-3 2m1-2l7-10 0 3m0-3l-3 2m3 0l6-10 0 3m0-3l-3 2m-4 7l7-9-1 3m1-3l-3 1m1-1l6-10 0 3m0-3l-3 1m-6 29l9-5-1 2m1-2l-3 0m2 0l8-6-1 3m1-3l-3 0m4 2l8-5-1 2m1-2l-3 0m-24 24l11-4-2 2m2-2l-3 0m2 0l10-5-2 3m2-3l-3 0m-9 2l11-3-2 2m2-2l-3-1m3 3l11-4-2 2m2-2l-3-1m-9 3l11-6-2 3m2-3l-3 0m12-1l10-6-2 3m2-3l-3 1" stroke="#30d6e6" stroke-opacity="0.8" stroke-width="1.3"/>
<path d="M773 501l-11-3m16 61l-11 4m16-63l-4-7m7 25l-12 2m10 14l-8 1 2-1m-2 1l3 1m8-30l-8-3m12 7l-12 3 2-2m-2 2l3 1m9 6l-10-4m8 21l-10 4 2-2m-2 2l3 0m13-62l-6-4 2 1m-2-1l1 3m6 21l-10-4m10 9l-6-5m5 17l-9-6 3 0m-3 0l2 2m8 14l-9-5 2 0m-2 0l1 2m6 17l-8-2 2 0m-2 0l2 2m9 7l-8 4 2-2m-2 2l3 0m6 4l-11 4 1-2m-1 2l2 0m5 15l-6 10 0-3m0 3l2-1m3-1l-5 8m10-79l-7-8m10 22l-12-1 3-1m-3 1l3 2m8 2l-7 4 1-2m-1 2l2 0m6 3l-8 4m5 22l-6 7 0-2m0 2l2-1m3 19l-4 6 0-2m0 2l2-1m7-128l-1-10 2 2m-2-2l-1 2m8 31l-6-3m6 32l-7 0 2-2m-2 2l2 1m6 4l-9 0m9 8l-10-6 3 0m-3 0l2 2m8 26l-11 2m11 4l-10 5m4 2l-3 7 0-2m0 2l2-1m9-88l-5-11m6 30l-2-10m1 13l-8-2m10 6l-11-3m10 9l-9-2m10 5l-7 2 2-2m-2 2l2 0m6 7l-9 4 1-2m-1 2l2 0m6 0l-7 4m5 6l-8 7 1-2m-1 2l2 0m6 22l-2 9-1-2m1 2l2-2m-2 11l-1 8-1-2m1 2l2-2m5-122l1-11 1 2m-1-2l-1 2m2 44l-2-7 2 1m-2-1l-1 2m5 9l-8-7 3 1m-3-1l1 3m8 18l-8-6m9 7l-8 3m7 14l-8 2m9 5l-7 6m3 4l-6 8m7 8l-2 7m7-103l-2-10 2 2m-2-2l-1 3m2 25l-1-9m4 11l-9-6m8 17l-8-5 2 0m-2 0l1 2m11 18l-11 3 2-2m-2 2l2 0m6 13l-5 7 0-2m0 2l2-1m2 0l-6 9m5-6l-3 8 0-2m0 2l2-1m2 14l-5 6 0-2m0 2l2 0m5-2l-6 10m6-127l0-10m2 27l1-10m-1 22l0-8 1 2m-1-2l-1 2m-1 12l-2-8m4 16l1-7m0 17l-5-9 3 2m-3-2l0 3m9 27l-8 3 1-2m-1 2l2 0m1-1l-3 6 0-2m0 2l2-1m0 2l-4 9 0-3m0 3l2-2m4 0l-2 7-1-2m1 2l1-2m0-2l-1 7-1-3m1 3l2-2m-1 0l1 10m-3-3l3 11-1-2m1 2l1-3m-4 2l-1 11-1-2m1 2l1-2m8-106l-4-6 2 1m-2-1l0 2m2 21l0-8 2 2m-2-2l-1 2m5 14l-4-9m3 27l-9-6 3 0m-3 0l1 2m10 11l-7-2m3 10l-4 6 0-2m0 2l2-1m1 10l3 11-2-2m2 2l0-2m-4 1l3 10m5-87l0-11 1 2m-1-2l-1 2m1 15l2-7m0 17l-4-11m6 11l-4-7 3 2m-3-2l0 3m-2 13l1-10 1 2m-1-2l-1 2m2 18l4-10m-4 17l-2-9m-2 10l10 2-3 1m3-1l-2-2m-4 1l-4 8 0-3m0 3l2-2m-2 4l3 7-2-2m2 2l0-3m-3 5l4 9m-1 3l4 9-2-2m2 2l0-3m-3 1l3 7m5-92l0-11m-2 17l-4-10m5 20l-2-9m-1 13l1-8 1 3m-1-3l-2 3m2 16l-1-11 2 2m-2-2l-1 2m-2 21l7-5-2 3m2-3l-3 1m-5 9l9-7-1 3m1-3l-3 1m-4 22l4 10-2-2m2 2l0-3m-1 6l3 9m-3-4l4 10-2-1m2 1l1-2m-4 4l-2 10 0-2m0 2l2-2m2-112l6-9m-1 22l-2-10 2 2m-2-2l-1 2m1 21l4-8 0 2m0-2l-2 1m-2 9l5-7 0 3m0-3l-2 1m-6 31l8-6-1 2m1-2l-2 0m-7 11l9-2-2 2m2-2l-2-1m-6 10l6 7m-5 3l5 9-2-1m2 1l0-2m-3 0l6 7-2-1m2 1l0-3m-7 3l8 7-2-1m2 1l-1-3m-7 4l-1 7m1 7l0 10m7-113l2-8m-1 19l3-8 0 2m0-2l-2 2m-2 20l6-9-1 3m1-3l-3 1m-5 18l6-6m-6 12l8-5m-10 6l10-2m-7 8l8 4-3 0m3 0l-2-2m-7 10l3 10m-5 6l7 5-3 0m3 0l-1-2m-4 0l4 9-2-2m2 2l0-3m-2 16l4 9m0-105l2-9m-3 20l9-7m-8 28l4-11m-3 12l7-5m-7 18l9-5m-13 10l8 8m-6 4l10 2m-12 7l10 6m-6-2l1 7-1-2m1 2l1-2m-4-2l5 10-2-1m2 1l0-3m6-87l1-8 1 3m-1-3l-2 3m-5 28l7-4-1 2m1-2l-2 0m-7 7l10-2m-9 11l11-4m-8 11l10-6-1 2m1-2l-3 0m-7 7l10 0m-10 9l8 3-2 0m2 0l-1-2m-6 1l8 1m-12 2l8 9m-6 0l3 9m-2 16l3 7-2-2m2 2l0-2m7-94l2-9 1 3m-1-3l-2 2m-7 45l7-6-1 2m1-2l-2 0m-2 12l10 1m-15 5l12 0-3 1m3-1l-3-1m-4 8l6 7m-4 3l4 9m-2-48l7-8-1 3m1-3l-3 1m-2 19l8 3-3 0m3 0l-2-2m-8 22l9 0m-9 6l6 9m-3 4l7 2m-3-72l10-6m-10 10l10-2m-7 14l6-6 0 2m0-2l-2 1m-6 14l8 3-3 0m3 0l-2-2m-8 18l9 6-3 0m3 0l-2-2m-5 15l5 7-3-2m3 2l-1-3m-1-70l9-7m-10 33l11 1-2 1m2-1l-2-1m-7 15l7 2m-6 29l4 6-2-1m2 1l0-2m3-62l9-5m-3-12l6-6m-6 6l8-1-2 2m2-2l-3-1m-5 19l7 1-2 1m2-1l-2-2m-9 9l12-1m-9 19l12 4-3 0m3 0l-2-2m0-2l11 4-3 0m3 0l-2-2" stroke="#30d6e6" stroke-opacity="0.9" stroke-width="1.2"/>
<path d="M861 527l11 0-2 2m2-2l-2-1m-23 10l5 11-2-1m2 1l1-3m16 32l6 8-3-1m3 1l-1-3m-30-43l4 12-2-2m2 2l0-3m2 1l4 10-2-1m2 1l1-3m-16-19l0 10-1-2m1 2l1-2m3 1l0 11-1-2m1 2l1-2m-18 21l-4 11-1-3m1 3l2-2m4-9l-3 12-1-3m1 3l2-2m-1-41l-6 10 0-3m0 3l2-1m13-24l-10 7 1-2m-1 2l3 0m-3-1l-9 6 2-3m-2 3l3-1m7-4l-8 6 1-2m-1 2l3 0m7-14l-10 5 2-2m-2 2l3 0m-21 10l-12 4 2-2m-2 2l3 0m37-27l-10-3 3-1m-3 1l3 2m-2-2l-10-5 3 0m-3 0l1 3m9 3l-11-4 3 0m-3 0l2 3m23 3l-8-6 3 0m-3 0l1 2m-23-23l-9-9 3 1m-3-1l1 3m40 30l-6-10 2 2m-2-2l0 3m9 7l-2-10 2 3m-2-3l-1 3m2 8l-2-10 2 2m-2-2l-1 2m-2-11l-3-12 2 2m-2-2l-1 3m2-12l-4-12 2 2m-2-2l-1 3m15 39l-1-11 2 3m-2-3l-1 3m0 8l0-11 1 3m-1-3l-2 3m4-2l-1-10 1 3m-1-3l-1 3m5 25l2-12 1 3m-1-3l-2 3m-2 8l4-11 0 3m0-3l-2 2m25-25l6-8 0 3m0-3l-2 1m0 24l9-6-2 3m2-3l-3 1m2 0l9-6-1 3m1-3l-3 0m-3 18l10-4-2 2m2-2l-3 0m2 0l10-6-1 3m1-3l-3 0" stroke="#58e0a8" stroke-opacity="0.8" stroke-width="1.3"/>
<path d="M789 529l-8 3m16-8l-8-6m5 14l-7-1m7 12l-9 2 2-1m-2 1l3 1m15-26l-11-1m10 28l-11 0m10 7l-12 1m11 3l-4 8 0-3m0 3l2-2m7-67l-5-11m6 15l-4-10 2 2m-2-2l0 3m4 48l-8-1m10 11l-9 2m13 9l-5 6 0-2m0 2l2-1m8-3l-4 6 0-3m0 3l3-1m12-55l-9-5 2 0m-2 0l1 2m7 6l-9-1 2-1m-2 1l2 2m7 16l-8 4m11-33l-6-7m6 19l-3-7 2 1m-2-1l0 2m5 14l-7-3 3 0m-3 0l2 2m6-54l2-10m-3 26l-1-8m4 27l-2-10m4 12l-5-7m4 18l-8-4 3 0m-3 0l2 2m6 22l-4 8m2-5l-6 8m13-77l1-10m-5 73l1 12m1-1l-1 10m1 12l-3 8m11-106l-1-12m-5 57l4-6m-3 17l10 4-2 0m2 0l-1-2m-11 5l7 8m-4-4l6 10m-2-19l10 2m-5 45l-3 9m7-94l3-8 1 3m-1-3l-2 2m-6 40l10 6-3 0m3 0l-2-2m-2-56l7-8 0 3m0-3l-2 1m-4 17l9-5m-9 41l7-6m8-30l9-6m-3 38l7-7m-8 9l7-2m-8 18l11-3m-4-29l9-3-2 2m2-2l-3 0" stroke="#58e0a8" stroke-opacity="0.9" stroke-width="1.2"/>
<path d="M845 531l8 9-3-1m3 1l-1-3m-20-11l-11 0 3-1m-3 1l2 2m15-10l-1-11 1 3m-1-3l-1 3m9 13l11-5-2 3m2-3l-3 0m-8 4l10-5-1 3m1-3l-2 0" stroke="#40e070" stroke-opacity="0.8" stroke-width="1.3"/>
<path d="M837 530l-4 10 0-3m0 3l2-2m6-13l7-2-1 2m1-2l-2-1m-9 4l-9 5 1-2m-1 2l2 0m8-7l-8-5 3 0m-3 0l1 2m11 0l5-7 0 3m0-3l-2 1m-6 1l0-10 1 2m-1-2l-1 2m0 23l-3 11 0-2m0 2l2-2m1-14l-4 5 0-2m0 2l2-1m5-4l6 5-3-1m3 1l-1-3m-4-4l6-2-2 2m2-2l-3-1m-5 3l10-5-1 2m1-2l-2 0m-5 9l8 5-3 0m3 0l-2-2m-3-5l6 2-2 0m2 0l-2-2m-10-2l7-7 0 2m0-2l-2 1m2 10l6 2-2 1m2-1l-2-1m-12 2l-1 11-1-2m1 2l1-2" stroke="#40e070" stroke-opacity="0.75" stroke-width="1.8"/>
<path d="M845 528l11 5-3 0m3 0l-2-2m-34 4l-11 3 2-2m-2 2l3 1m38-21l9-7-1 2m1-2l-3 0" stroke="#b0dc3a" stroke-opacity="0.8" stroke-width="1.3"/>
<path d="M837 529l-7 2 1-2m-1 2l2 1m10-19l7-8m0 9l6-3" stroke="#b0dc3a" stroke-opacity="0.9" stroke-width="1.2"/></g></g>
<path d="M392.2 238.1V235.5H394M445.7 235.5H447.5V237.3M447.5 289.1V290.9H445.7M394 290.9H392.2V289.1" fill="none" stroke="#1a1a1a" stroke-width="1.6" stroke-linejoin="round"/>
<path d="M396.3 235.5H445.7M447.5 239.6V289.1M396.3 290.9H445.7M392.2 240.4V289.1" fill="none" stroke="#1a1a1a" stroke-width="1.6" stroke-dasharray="5.3 2.3"/>
<circle cx="120.6" cy="413.5" r="72" stroke="#a8a8a8" stroke-width="0.9" fill="none"/>
<circle cx="120.6" cy="413.5" r="66" stroke="#c4c4c4" stroke-width="0.8" fill="none"/>
<g fill="none" stroke-linecap="round" filter="url(#sf)"><g transform="scale(.5)"><path d="M328 846l10 2-2 1m2-1l-2-2m1 4l12 4-3 0m3 0l-2-2m-38 55l8 8-3-1m3 1l-1-3m-40-6l4 10-3-2m3 2l0-3m-1 2l5 12-2-2m2 2l0-3m-50-7l-1 12-1-3m1 3l2-3m2-9l0 12-2-3m2 3l1-3m-4 2l-1 10-1-3m1 3l2-2m-21-26l-3 12-1-3m1 3l2-2m-19-19l-7 10 0-3m0 3l3-1m6-8l-5 11-1-3m1 3l2-2m-19-26l-8 6 1-3m-1 3l3 0m6-4l-8 6 2-3m-2 3l3-1m-13-60l-10 1 2-2m-2 2l2 1m-1-1l-12 1 3-2m-3 2l3 1m-1 0l-11 1 2-1m-2 1l3 1m8 0l-11 0 3-2m-3 2l3 1m24-42l-10-4 3 0m-3 0l2 3m23-22l-9-6 3 0m-3 0l1 3m47-24l-6-11 2 2m-2-2l0 3m4 8l-6-10 3 1m-3-1l0 3m36-11l1-12 1 3m-1-3l-2 3m54 39l7-10 0 3m0-3l-2 1" stroke="#4a5ad0" stroke-opacity="0.8" stroke-width="1.3"/>
<path d="M153 846l-8 1 2-1m-2 1l3 1m13-25l-10-3 3-1m-3 1l2 2m7 31l-10 3m9 5l-8 2 2-2m-2 2l2 1m11-77l-7 0 2-1m-2 1l2 1m6 20l-10-3m17 81l-11 3 2-2m-2 2l2 0m16-130l-9-5 3 0m-3 0l2 2m7 14l-7-3m8 113l-10 4 2-2m-2 2l3 0m6 0l-11 2m11 4l-3 9m7-134l-3-10 2 2m-2-2l0 3m37-22l-4-7 3 2m-3-2l1 3m11 8l-5-9 2 2m-2-2l0 3m5 175l-6 9m12-16l-5 9 0-3m0 3l2-2m8-162l-2-10m0 170l0 8-1-3m1 3l1-3m5 4l-6 9m6-15l-2 9-1-3m1 3l2-3m1 1l1 9m2-193l4-6-1 3m1-3l-3 2m6 19l3-10 0 2m0-2l-2 2m9 172l0 7-1-3m1 3l1-3m-2-2l3 7m22-170l8-6-1 3m1-3l-3 1m-4 19l3-9 0 3m0-3l-2 2m4 5l7-4-1 2m1-2l-2 0m2 4l7-4-1 2m1-2l-3 0m-6 17l10-6-1 3m1-3l-2 0m-6 128l5 6-3-1m3 1l-1-2m2-119l9-5-2 2m2-2l-3 0m-8 104l5 7m4-17l9 0-2 2m2-2l-2-1m-10 16l8 2m-3-95l10-3m-6 12l7-2m-7 26l10 4-2 0m2 0l-1-2m-6-29l9 2-2 0m2 0l-2-2m-5 31l10 5m-9 0l11 5m-4-16l9 5-3 0m3 0l-1-2" stroke="#4a5ad0" stroke-opacity="0.7" stroke-width="1.2"/>
<path d="M116 762l-2-3m2 3l4-3m-4 3l4 1m-4-1l1 5m-1-5l-3 4m3-4l-6 0m4 20l-2-3m2 3l4-4m-4 4l5 0m-5 0l2 4m-2-4l-3 5m3-5l-4 1m2 18l-3-4m3 4l3-4m-3 4l4-1m-4 1l1 3m-1-3l-3 3m3-3l-6-1m5 46l-5-2m5 2l1-5m-1 5l3-2m-3 2l4 3m-4-3l-1 4m1-4l-5 3m2 25l-4-2m4 2l0-4m0 4l5-2m-5 2l5 2m-5-2l2 5m-2-5l-3 3m30-139l0-4m0 4l4-3m-4 3l4 1m-4-1l1 6m-1-6l-4 2m4-2l-4-2m-3 176l-5-2m5 2l-3-5m3 5l2-4m-2 4l5 1m-5-1l2 5m-2-5l-5 3m35-193l1-4m-1 4l3-2m-3 2l3 4m-3-4l-1 6m1-6l-5 2m5-2l-4-1m-4 211l-4 1m4-1l-2-2m2 2l3-3m-3 3l4 1m-4-1l2 5m-2-5l-3 4m29-222l2-4m-2 4l4-1m-4 1l3 3m-3-3l-2 5m2-5l-4 2m4-2l-3-4m1 242l-5 1m5-1l-4-2m4 2l2-5m-2 5l4 0m-4 0l3 3m-3-3l0 6m19-258l1-4m-1 4l5-1m-5 1l3 3m-3-3l-1 4m1-4l-4-1m4 1l-2-4m7 263l-4 3m4-3l-4-3m4 3l-1-4m1 4l4-1m-4 1l4 2m-4-2l-1 5m27-266l3-3m-3 3l5 0m-5 0l2 5m-2-5l-3 3m3-3l-5-1m5 1l-2-3m-6 264l-5 2m5-2l-4-1m4 1l0-4m0 4l2-3m-2 3l3 1m-3-1l0 4m22-265l3-4m-3 4l5 0m-5 0l2 4m-2-4l-3 4m3-4l-3-1m3 1l-1-4m28 0l3-2m-3 2l4 4m-4-4l0 5m0-5l-5 4m5-4l-3-2m3 2l-2-4m4 265l-2 3m2-3l-5-1m5 1l-1-4m1 4l3-3m-3 3l5 0m-5 0l3 4m16-262l4-1m-4 1l4 4m-4-4l1 4m-1-4l-5 2m5-2l-4-3m4 3l0-4m0 262l-1 4m1-4l-4 0m4 0l-1-4m1 4l2-4m-2 4l5-1m-5 1l3 3m12-4l-1 6m1-6l-4 1m4-1l-3-3m3 3l3-4m-3 4l5 0m-5 0l3 3m20-236l4 0m-4 0l2 3m-2-3l-2 4m2-4l-5 0m5 0l-3-3m3 3l1-4m7 214l-1 4m1-4l-4 2m4-2l-4-2m4 2l0-4m0 4l3-2m-3 2l4 3m18-22l0 6m0-6l-5 2m5-2l-4-1m4 1l-1-4m1 4l3-3m-3 3l3 3m16-135l5 2m-5-2l2 5m-2-5l-2 3m2-3l-4-3m4 3l-1-4m1 4l3-3m-3 31l5 2m-5-2l1 4m-1-4l-3 0m3 0l-3-2m3 2l1-4m-1 4l6-2m-8 17l4 2m-4-2l-1 5m1-5l-5 0m5 0l-4-4m4 4l1-5m-1 5l4-2m-1 30l2 4m-2-4l-2 4m2-4l-6 0m6 0l-4-4m4 4l2-4m-2 4l4-1m-3 22l3 5m-3-5l-2 5m2-5l-6 0m6 0l-2-5m2 5l1-3m-1 3l5 1" stroke="#4a5ad0" stroke-opacity="0.6" stroke-width="1.6"/>
<path d="M123 770l-17-6 2 0m-2 0l2 2m16 17l-13-3 2-1m-2 1l2 2m-1 16l2 14-2-3m2 3l1-3m-6 9l3 15-2-2m2 2l1-2m3-7l4 12-2-2m2 2l0-3m-9 20l-5-12 2 2m-2-2l-1 3m13 27l-12 3 2-2m-2 2l3 1m30-129l-10-13 3 1m-3-1l1 2m6 23l-4 15-1-3m1 3l2-2m5 1l-10-10 3 1m-3-1l1 3m3 19l-13-2 2-1m-2 1l2 1m20 8l-16-2 2-1m-2 1l2 2m-3 21l7-9 0 3m0-3l-2 1m4 8l-1-10 2 2m-2-2l-1 2m9 23l-15 1 2-2m-2 2l2 1m3-10l-4 12-1-3m1 3l2-2m1 9l4 14-2-2m2 2l1-2m1-12l-17 2 2-1m-2 1l3 1m8 22l10 13-3-2m3 2l-1-3m-10-10l0 15-1-3m1 3l2-3m11 22l-10-11 3 1m-3-1l1 3m7 11l-10-14 2 1m-2-1l0 2m-4 33l-5-10 2 1m-2-1l-1 2m42-192l-14 7 1-3m-1 3l3 0m6 18l-13-12 3 0m-3 0l1 2m14-4l-6 9 0-2m0 2l3-1m2 26l-10-8 2 1m-2-1l1 3m-4 11l8-8-1 2m1-2l-3 1m2 16l14-10-1 3m1-3l-3 0m-3 17l-13-12 2 1m-2-1l1 3m1 32l4-13 1 3m-1-3l-2 2m8 0l-15-1 3-1m-3 1l3 2m3 72l1-11 1 3m-1-3l-2 3m13 3l-8 6 1-2m-1 2l3 0m1 5l-12 11 1-3m-1 3l3-1m10 2l-9-11 3 1m-3-1l1 3m-6 28l12 11-3-1m3 1l-1-3m-4-3l-9-12 3 1m-3-1l1 3m9 27l-9-3 2-1m-2 1l2 2m29-216l7-8 0 3m0-3l-2 1m-11 36l9-12 0 2m0-2l-2 1m-10 6l12-12-1 2m1-2l-3 1m0 39l-6-8 3 1m-3-1l0 2m1-3l14-7-1 3m1-3l-2 0m-2 131l-9 10 1-2m-1 2l3-1m9 6l-16-4 2-1m-2 1l2 2m11 24l-9-14 2 1m-2-1l0 3m3 9l-6-11 2 1m-2-1l0 2m15 27l-15-5 3-1m-3 1l2 2m14 3l-10-9 3 1m-3-1l1 3m2 18l-8 15 0-3m0 3l2-1m32-264l-11 4 2-2m-2 2l3 0m-2 23l10-2-2 2m2-2l-2-1m-2-2l11-4-2 2m2-2l-3 0m3 23l-16 0 3-1m-3 1l3 2m3-5l-9 8 1-2m-1 2l3 0m7 159l-4 12-1-3m1 3l2-2m-9-3l10 8-3-1m3 1l-1-3m-10 17l15 9-3-1m3 1l-1-3m-8-4l12 10-3-1m3 1l-1-3m-1 10l-8 15 0-3m0 3l2-2m34-270l-18 0 3-1m-3 1l3 1m-6 29l12-3-2 2m2-2l-3-1m3 3l-15-1 2-1m-2 1l2 1m15 197l-11 0 2-2m-2 2l2 1m10-3l-12-6 3 0m-3 0l1 2m-6 15l11 6-3 0m3 0l-2-2m4 0l-14-8 3 0m-3 0l1 2m-3 22l13 9-3 0m3 0l-1-2m21-253l-1-10 2 2m-2-2l-1 2m-8 26l17-8-2 2m2-2l-3 0m-6 1l13 4-3 1m3-1l-2-2m-21 212l11 3-3 0m3 0l-2-2m-3 2l-3 11-1-3m1 3l2-2m13 6l-4 13-1-2m1 2l2-2m-5-1l10-4-2 2m2-2l-3 0m25-258l-14-9 3 1m-3-1l2 3m-1 35l10-3-2 2m2-2l-3 0m-7 11l4-18 1 3m-1-3l-2 2m-2 195l-2 11-1-2m1 2l2-2m0-11l-1 13-1-2m1 2l1-2m-2 17l17-5-2 2m2-2l-3 0m3 10l-13 3 2-2m-2 2l3 1m9 15l-16-5 3 0m-3 0l2 2m37-265l-14 0 2-1m-2 1l2 2m12 28l-14-7 3 0m-3 0l1 2m1 5l5-12 1 3m-1-3l-2 2m4 29l-12-12 3 1m-3-1l1 3m8 11l-11-5 3 0m-3 0l2 3m20 176l-12 8 1-2m-1 2l3 0m-4-15l4 9-2-1m2 1l0-2m3 12l-13 11 1-3m-1 3l3-1m3-6l13-3-2 2m2-2l-2-1m0 19l-15 3 3-2m-3 2l3 0m10-224l13-12-1 2m1-2l-3 0m-5 9l8-8-1 2m1-2l-3 1m-5 18l13 5-3 0m3 0l-2-2m1 3l-8-8 3 1m-3-1l1 3m9 31l-5-14 2 2m-2-2l-1 3m2-3l11 12-2-1m2 1l-1-3m-16 126l7 15-2-1m2 1l0-2m-2-4l-10 3 2-2m-2 2l2 1m11 8l-14 2 2-1m-2 1l3 1m-6-11l11 8-3 0m3 0l-1-2m13 21l-13 9 1-3m-1 3l3-1m-1-18l5 15-2-2m2 2l0-3m-18 19l9 10-3-1m3 1l-1-3m33-236l-13-6 3 0m-3 0l2 2m-3 16l10 6-3 0m3 0l-1-3m-10 10l14-11-1 3m1-3l-3 1m5 23l-8-7 3 1m-3-1l1 3m8 5l-5-9 3 1m-3-1l0 3m1 36l-12-12 3 0m-3 0l1 2m7 4l-4-13 2 2m-2-2l-1 3m11 41l-8-14 2 2m-2-2l0 3m0 7l12-6-2 3m2-3l-3 0m2 56l-5 9 0-3m0 3l3-1m-8-5l14 3-3 1m3-1l-2-2m-7 14l-8 11 0-3m0 3l2-1m-1-9l12 7-3 0m3 0l-2-2m-10 35l12-4-2 2m2-2l-3-1m4 0l-16 4 2-2m-2 2l2 1m5 12l8-9-1 3m1-3l-3 1m13-161l11 13-2-1m2 1l0-3m-19-7l14-4-2 2m2-2l-3-1m-7 20l9 13-3-1m3 1l-1-2m0-8l-6-9 2 2m-2-2l0 3m4 26l7 15-3-1m3 1l0-2m-1-1l-8-10 3 1m-3-1l0 2m-9 21l16 5-2 0m2 0l-2-2m-10-4l3 11-2-2m2 2l1-2m7 1l0 16-2-2m2 2l1-2m0-15l-5 14 0-3m0 3l2-2m-3 27l10-10-1 2m1-2l-2 0m-15 10l10-11-1 3m1-3l-3 1m2 38l6-12 0 2m0-2l-3 1m-2-3l-7 9 1-3m-1 3l3-2m6 21l8-15 0 3m0-3l-3 2m12-133l1 13-2-2m2 2l1-2m5 28l-6-10 3 2m-3-2l0 3m-5 25l2-13 1 3m-1-3l-2 3m8 38l-2-17 1 2m-1-2l-1 2m14 26l-10 12 1-2m-1 2l3-1" stroke="#4a5ad0" stroke-opacity="0.65" stroke-width="1.4"/>
<path d="M113 828l-4-4m4 4l1-6m-1 6l6-2m-6 2l4 3m-4-3l-1 6m1-6l-5 3m23-67l-2-6m2 6l4-5m-4 5l6 0m-6 0l3 5m-3-5l-3 4m3-4l-5-3m3 26l-3-6m3 6l3-6m-3 6l7-2m-7 2l4 4m-4-4l-2 4m2-4l-6 0m10 21l-2-4m2 4l2-5m-2 5l5 1m-5-1l2 5m-2-5l-2 5m2-5l-5 1m3 20l-4-5m4 5l1-5m-1 5l6-4m-6 4l6 4m-6-4l-1 5m1-5l-6 2m6 13l-5-4m5 4l0-7m0 7l6-1m-6 1l5 3m-5-3l0 7m0-7l-4 2m7 25l-5-2m5 2l0-6m0 6l5-4m-5 4l4 3m-4-3l2 7m-2-7l-4 3m5 15l-7 0m7 0l-2-5m2 5l4-3m-4 3l5 3m-5-3l1 5m-1-5l-4 4m24-157l0-5m0 5l7-3m-7 3l6 3m-6-3l0 5m0-5l-4 2m4-2l-5-2m1 30l-1-6m1 6l5-2m-5 2l5 2m-5-2l1 5m-1-5l-5 4m5-4l-4-2m10 17l-1-7m1 7l4-4m-4 4l6 0m-6 0l2 6m-2-6l-4 4m4-4l-6-1m2 24l-3-4m3 4l3-5m-3 5l6 0m-6 0l3 5m-3-5l-3 5m3-5l-7 0m7 67l-5-2m5 2l0-7m0 7l5-3m-5 3l6 2m-6-2l1 7m-1-7l-4 4m7 16l-5-1m5 1l-1-6m1 6l5-4m-5 4l5 0m-5 0l2 5m-2-5l-2 4m-2 22l-7-1m7 1l-4-6m4 6l2-4m-2 4l6 1m-6-1l3 6m-3-6l-3 5m24-182l0-6m0 6l6-2m-6 2l4 4m-4-4l1 7m-1-7l-4 3m4-3l-5-3m7 25l1-5m-1 5l5-2m-5 2l5 3m-5-3l1 6m-1-6l-5 2m5-2l-6-2m11 135l-7 2m7-2l-2-5m2 5l3-5m-3 5l4-1m-4 1l2 5m-2-5l-4 5m-1 16l-5 0m5 0l-3-3m3 3l3-4m-3 4l7-1m-7 1l4 4m-4-4l-3 4m2 18l-5 1m5-1l-4-4m4 4l1-5m-1 5l6-1m-6 1l3 6m-3-6l-1 5m27-218l1-7m-1 7l5-2m-5 2l4 3m-4-3l-4 5m4-5l-6 1m6-1l-4-5m2 19l1-6m-1 6l6-2m-6 2l3 4m-3-4l-1 5m1-5l-5 1m5-1l-4-5m4 180l-5 2m5-2l-4-3m4 3l2-6m-2 6l4-3m-4 3l4 3m-4-3l-2 6m5 20l-6 2m6-2l-4-4m4 4l-1-5m1 5l5-4m-5 4l6 3m-6-3l0 5m16-224l2-5m-2 5l7 0m-7 0l3 5m-3-5l-4 5m4-5l-5 0m5 0l-2-6m2 204l-5 2m5-2l-4-3m4 3l0-5m0 5l6-4m-6 4l6 2m-6-2l0 5m3 13l-5 2m5-2l-5-2m5 2l0-6m0 6l6-3m-6 3l5 1m-5-1l0 4m20-219l6-4m-6 4l6 2m-6-2l3 4m-3-4l-4 3m4-3l-6-2m6 2l-1-5m-3 220l-5 4m5-4l-7 0m7 0l-1-5m1 5l4-4m-4 4l6 3m-6-3l3 4m2 16l-6 4m6-4l-5-1m5 1l-2-5m2 5l4-4m-4 4l7 2m-7-2l1 7m21-241l6-2m-6 2l4 3m-4-3l1 5m-1-5l-5 4m5-4l-5-4m5 4l-1-5m-3 201l-4 6m4-6l-6 0m6 0l-4-5m4 5l3-3m-3 3l5 1m-5-1l3 6m4 17l-2 4m2-4l-6-1m6 1l-2-7m2 7l4-5m-4 5l4 0m-4 0l2 5m20-223l5-2m-5 2l4 2m-4-2l-2 6m2-6l-4 2m4-2l-4-3m4 3l0-6m-4 23l5-1m-5 1l5 4m-5-4l0 6m0-6l-6 1m6-1l-4-4m4 4l1-5m4 184l-3 6m3-6l-4 2m4-2l-5-4m5 4l1-7m-1 7l5-1m-5 1l5 3m-7 11l-3 5m3-5l-5 0m5 0l-4-4m4 4l1-6m-1 6l6-2m-6 2l2 5m15-214l5-2m-5 2l4 5m-4-5l-1 5m1-5l-6 2m6-2l-4-3m4 3l1-4m2 20l4-1m-4 1l3 4m-3-4l-2 6m2-6l-7 0m7 0l-5-4m5 4l1-7m3 26l4 1m-4-1l1 4m-1-4l-3 6m3-6l-7 0m7 0l-3-4m3 4l4-4m-10 141l1 5m-1-5l-4 3m4-3l-4-2m4 2l-1-5m1 5l6-2m-6 2l5 4m-7 11l-1 5m1-5l-5 1m5-1l-3-4m3 4l1-6m-1 6l6-3m-6 3l4 3m-1 18l-2 5m2-5l-6 2m6-2l-5-3m5 3l1-5m-1 5l6-2m-6 2l4 4m13-194l6 0m-6 0l3 5m-3-5l-4 5m4-5l-6 1m6-1l-3-4m3 4l2-5m6 24l5 2m-5-2l1 5m-1-5l-3 6m3-6l-7-1m7 1l-2-7m2 7l4-4m-10 25l5 2m-5-2l1 5m-1-5l-5 4m5-4l-6-2m6 2l-1-6m1 6l3-4m3 33l4 4m-4-4l-1 5m1-5l-4 3m4-3l-3-3m3 3l0-4m0 4l6-2m-5 60l2 6m-2-6l-4 4m4-4l-7 0m7 0l-3-6m3 6l4-4m-4 4l6 1m-7 19l1 5m-1-5l-3 4m3-4l-6-2m6 2l0-6m0 6l4-3m-4 3l6 3m-10 27l1 5m-1-5l-5 2m5-2l-6-3m6 3l-1-7m1 7l4-2m-4 2l5 2m19-154l6 1m-6-1l2 5m-2-5l-4 5m4-5l-6-2m6 2l-2-4m2 4l3-3m-7 22l5 1m-5-1l-1 5m1-5l-6 4m6-4l-6-2m6 2l-2-6m2 6l4-4m2 27l4 5m-4-5l1 6m-1-6l-5 2m5-2l-6-4m6 4l1-6m-1 6l4-2m-8 26l4 5m-4-5l-1 6m1-6l-5 1m5-1l-3-4m3 4l2-5m-2 5l6-2m-3 16l4 3m-4-3l-3 6m3-6l-6 2m6-2l-2-5m2 5l2-5m-2 5l5-2m-7 23l3 5m-3-5l-4 5m4-5l-6 0m6 0l-2-5m2 5l5-5m-5 5l6-1m-7 30l1 5m-1-5l-4 5m4-5l-6-2m6 2l-2-5m2 5l4-4m-4 4l6 3" stroke="#4a5ad0" stroke-opacity="0.55" stroke-width="1.6"/>
<path d="M311 905l8 9-3-1m3 1l-1-3m-45-4l5 10-3-2m3 2l0-3m-40-6l0 10-2-3m2 3l1-3m-3 13l-1 10-1-3m1 3l1-2m-24-27l-5 12 0-3m0 3l3-2m-64-68l-10 2 3-2m-3 2l3 1m18-19l-10 1 3-2m-3 2l3 1m-2-2l-12 1 3-2m-3 2l3 1m26-38l-12-4 2 0m-2 0l2 3m39-42l-6-9 3 1m-3-1l0 3m132 51l9-5-1 3m1-3l-3 0" stroke="#6f86e0" stroke-opacity="0.8" stroke-width="1.3"/>
<path d="M155 817l-10-4m7 7l-7-4m8 39l-7 6m17-55l-12 4m8 4l-9 1 2-2m-2 2l2 1m10 13l-11-2m14-50l-6-9m9 16l-9-4m6 19l-6-9m8 10l-11 0 2-1m-2 1l2 1m10 53l-12 2 2-2m-2 2l3 1m8 0l-6 8 0-2m0 2l2-1m2 2l-9 1m14-97l-6-7m10 11l-7-4 3 0m-3 0l1 2m5 94l-10 3 2-2m-2 2l3 1m18-112l-9-3 3 0m-3 0l2 2m15-7l-6-5m4 18l-4-7 2 2m-2-2l0 3m5 9l-9-4 2-1m-2 1l1 2m8 121l-7 3m9 15l-5 7m9-160l-2-8 2 1m-2-1l-1 2m2 21l-6-10m17-12l-9-7m6 17l-4-11 2 2m-2-2l0 2m4 149l-4 6 0-2m0 2l2-1m4 7l-4 10m10-176l-6-11m4 174l-1 7m9-167l-6-9 2 1m-2-1l0 2m6 168l-6 7m12-168l-2-8 2 2m-2-2l0 3m21-4l-2-10m0 24l-3-11m12 178l-1 8-1-2m1 2l1-2m4-171l1-7 1 2m-1-2l-2 2m2 164l-3 8m6-180l5-10 0 3m0-3l-2 2m5 11l1-10 1 2m-1-2l-1 2m2 17l4-7m-3 155l6 7m-3-2l6 7-2-1m2 1l0-3m-7 1l3 7-2-2m2 2l0-3m-1 1l-1 8-1-2m1 2l2-2m6-168l2-9m-3 18l-1-10 2 2m-2-2l-1 2m10-4l1-9 1 3m-1-3l-1 2m5 144l3 6m3 3l6 3m-1-28l11 5m-3-104l3-7m1 14l7-5m-6 20l8-7m-2-1l9-3m-8 8l5-5m-4 33l10-3m-12 11l11 4-3 1m3-1l-2-2m-6 38l8 6m-4-60l7-3-2 2m2-2l-2-1m-4 12l11 4m-12 16l8 3-3 1m3-1l-2-2m-9 10l10 4" stroke="#6f86e0" stroke-opacity="0.7" stroke-width="1.2"/>
<path d="M114 770l2-13 1 3m-1-3l-2 2m4 20l-4 11 0-3m0 3l2-2m-9 21l3-16 1 3m-1-3l-1 3m15 30l-15-3 2-1m-2 1l2 2m2 0l4 13-2-2m2 2l1-3m-5-11l-2 14-1-3m1 3l2-3m4 5l-18 5 2-2m-2 2l3 0m10 24l-14 7 2-3m-2 3l3 0m42-129l-8-11 3 1m-3-1l0 3m-7 21l-2 11-1-3m1 3l1-3m2-8l-4 15-1-3m1 3l2-2m12-7l-14-7 2 0m-2 0l1 2m-5 30l7-8 0 3m0-3l-2 1m5 15l2-17 1 3m-1-3l-2 3m2 0l-3 10 0-3m0 3l2-2m-2 10l3 12-2-2m2 2l1-2m3-13l0 12-1-3m1 3l1-3m-13 7l8-12 0 3m0-3l-3 2m8 24l-5-11 3 2m-3-2l0 3m-3 8l-2-10 1 2m-1-2l-1 3m-2-4l6 13-3-2m3 2l0-3m1 16l-11 1 2-1m-2 1l3 1m0-12l9 14-3-2m3 2l0-3m-1 6l-4-16 2 3m-2-3l0 3m11 35l-8-7 3 1m-3-1l1 3m-2-8l3 11-2-2m2 2l0-3m5 5l-7-10 3 1m-3-1l1 3m10 16l-9 9 1-3m-1 3l3-1m5-9l-17 5 2-2m-2 2l3 0m10-5l-13 10 2-3m-2 3l3 0m6 21l-6-9 2 1m-2-1l0 3m39-177l-6-13 2 2m-2-2l0 3m3 23l-8-10 2 1m-2-1l0 3m0-4l-5 11 0-3m0 3l2-2m7-8l-15 5 2-2m-2 2l3 0m8 26l-14-8 3 0m-3 0l1 2m6 15l6-15 0 3m0-3l-3 2m10 4l-10-4 2-1m-2 1l1 2m4 23l1-11 1 2m-1-2l-2 2m4-1l-7 14 0-3m0 3l2-2m-1-2l1-13 2 3m-2-3l-1 3m5 18l-12 13 0-3m0 3l2-1m5 2l6-16 1 3m-1-3l-2 2m3 7l-5 12 0-3m0 3l2-2m1 63l-11-8 3 0m-3 0l1 2m13-3l-12 6 2-2m-2 2l3 0m8 9l-11-12 2 1m-2-1l0 3m20 10l-16 6 2-2m-2 2l3 1m1-7l5 9-3-2m3 2l0-3m-5-2l3 11-2-2m2 2l0-3m-11 20l14 10-2 0m2 0l-1-2m-9-4l-7-8 3 1m-3-1l1 3m9 1l-10 8 1-2m-1 2l3 0m8 21l-5-14 2 2m-2-2l-1 3m24-210l10-10-1 2m1-2l-2 1m-6 19l-7 8 1-3m-1 3l3-1m-4 10l10-14 0 3m0-3l-2 1m-12 7l12-9-1 3m1-3l-2 1m6 23l-9 10 1-3m-1 3l2-1m13-14l-16 8 2-2m-2 2l3 0m3-2l-10 12 1-3m-1 3l3-1m21 129l-13-7 2 0m-2 0l1 3m8-1l-13 8 2-2m-2 2l3 0m8-5l-10-7 3 0m-3 0l2 3m7 27l-17-4 2 0m-2 0l2 2m12-15l-6 15-1-2m1 2l2-1m-8-7l12 11-3 0m3 0l-1-2m-17 17l15 7-3 0m3 0l-2-2m0-13l-10 10 1-3m-1 3l3-1m-2 1l17 4-2 1m2-1l-2-2m-8 6l-6 12 0-2m0 2l3-1m21-253l-4-9 3 1m-3-1l0 2m3 26l13-8-1 2m1-2l-3 0m9 6l-13 0 3-2m-3 2l3 1m-1 13l-4-15 2 2m-2-2l-1 3m-6 22l13-6-2 2m2-2l-3 0m3-3l-10 1 2-2m-2 2l2 1m-1 7l11-13 0 3m0-3l-2 1m3 177l-5 10 0-3m0 3l2-1m-10-14l12 12-2-1m2 1l-1-3m-14-6l14 3-3 1m3-1l-3-2m7 26l-11 0 3-2m-3 2l3 1m12 5l-14-9 3 0m-3 0l1 2m8 5l-7-7 2 1m-2-1l0 3m2 23l0 11-2-3m2 3l1-3m14-269l15 3-2 0m2 0l-2-2m-13 20l10-4-2 2m2-2l-3 0m-7 11l12-3-2 2m2-2l-3-1m3-9l-11 6 1-2m-1 2l3 0m-5 196l12 8-3 0m3 0l-1-2m-10-6l12 6-3 0m3 0l-2-2m-4 2l-10-1 3-1m-3 1l2 1m6 10l-4 12-1-2m1 2l2-1m0-12l1 11-2-2m2 2l1-2m8-7l-11 3 2-2m-2 2l3 1m-9 14l2 13-2-2m2 2l1-3m18-259l17-4-2 2m2-2l-3-1m-9 36l3-14 1 3m-1-3l-2 2m2 4l-1-12 1 3m-1-3l-1 3m-6 11l13 1-2 1m2-1l-2-2m-13 211l10-3-2 2m2-2l-3 0m10 6l-13 0 3-1m-3 1l3 1m-2-6l0 15-2-2m2 2l1-2m11 11l-11-4 2 0m-2 0l2 2m-6-5l14 4-3 0m3 0l-2-2m10-3l-17 6 2-2m-2 2l3 1m30-262l-16 1 2-1m-2 1l2 2m10 37l4-15 1 3m-1-3l-2 2m7 0l-13-5 3-1m-3 1l2 2m7 9l-8-7 3 0m-3 0l1 2m6 189l-13 8 2-2m-2 2l3 0m-1-6l3 11-2-2m2 2l1-2m-11 0l12 1-2 1m2-1l-2-1m-3 14l13 4-2 0m2 0l-2-2m1-3l-10 3 2-2m-2 2l3 1m5 6l-13 0 2-1m-2 1l2 1m-1 13l13-3-3 2m3-2l-3 0m14-254l7-14 0 3m0-3l-2 2m2 37l6-12 0 3m0-3l-2 2m2 14l-14-7 2 0m-2 0l1 2m-1-8l15-1-2 2m2-2l-2-1m-9 23l6 8-2-1m2 1l0-3m0 5l-9-11 2 1m-2-1l0 3m0 2l4-15 1 3m-1-3l-2 2m-3 188l14-3-2 2m2-2l-3-1m-7-3l6 9-2-1m2 1l0-3m-5-1l7 12-2-2m2 2l0-3m8 8l-16 8 2-3m-2 3l3 0m11-13l-14 1 2-2m-2 2l3 1m-12 5l17-4-2 1m2-1l-3-1m-5 25l10-4-2 2m2-2l-3 0m21-220l-14-6 3 0m-3 0l2 2m8 3l-12-4 3-1m-3 1l2 2m4 1l6-12 0 3m0-3l-2 2m1 32l-7-14 2 1m-2-1l0 3m8 10l-9-11 2 1m-2-1l0 2m0 1l10-7-1 2m1-2l-2 0m0 19l5 14-2-1m2 1l1-2m-1-12l8 16-2-2m2 2l0-3m-13-5l7-10 0 3m0-3l-2 2m-9 140l14-4-2 2m2-2l-2 0m-6-2l-7 10 0-3m0 3l2-1m8-10l-7 16 0-3m0 3l2-1m-1 6l-12 7 2-3m-2 3l3 0m12-4l-12 4 2-2m-2 2l2 1m8-17l-11 13 1-3m-1 3l3-1m2 19l10-1-2 1m2-1l-2-2m-10 5l9-7-1 2m1-2l-2 0m4 4l-9 6 2-3m-2 3l3 0m-4 11l9 11-2-1m2 1l0-3m18-226l-14-5 3-1m-3 1l2 2m5 24l10-5-2 2m2-2l-3 0m-3-5l6 7-3-1m3 1l-1-2m-16-12l12 11-2 0m2 0l0-2m-3 19l15 8-3 0m3 0l-1-2m-10-7l8-7-1 3m1-3l-3 1m0 10l-5-10 2 1m-2-1l0 3m-4 27l9-9 0 3m0-3l-2 1m-15 9l16-5-2 2m2-2l-2-1m-6-1l0 11-1-2m1 2l2-3m2 29l10 0-2 1m2-1l-2-2m0-9l-3 13-1-3m1 3l2-2m-6-3l15-5-2 2m2-2l-3 0m-9 56l-2 10-1-3m1 3l2-2m-5 3l8-8-1 3m1-3l-3 1m2 7l10-10-1 3m1-3l-3 1m-10 23l11 8-3-1m3 1l-1-3m-13 1l10-12 0 2m0-2l-2 1m-11 4l10 8-3 0m3 0l-1-3m0 27l-5 9 0-3m0 3l3-1m-5-10l-5 13 0-2m0 2l2-1m5-13l-5 12 0-3m0 3l2-2m4-2l7 9-3-1m3 1l0-3m6-161l14-6-2 2m2-2l-3-1m5 15l-7-12 2 1m-2-1l0 3m3-1l7 12-2-1m2 1l0-3m-10 19l-1-13 2 2m-2-2l-1 2m-5-5l10 14-2-1m2 1l0-3m-1 0l-1-12 1 2m-1-2l-2 3m-3 18l9 15-3-1m3 1l-1-3m-5-4l2 12-2-2m2 2l1-3m-3-2l12-6-1 2m1-2l-3 0m-15 30l10 1-2 1m2-1l-2-2m-8-14l4 18-2-2m2 2l1-3m-10-8l15 0-3 2m3-2l-3-1m-2 24l3-17 1 2m-1-2l-2 2m3 0l-2 15-1-3m1 3l2-3m-5 8l2-11 1 2m-1-2l-2 2m1 28l6-16 0 3m0-3l-2 2m-5 12l5-9 0 2m0-2l-2 1m4-6l-1 11-1-3m1 3l2-2m-15 29l15 5-3 0m3 0l-2-2m-2-7l-6 8 0-3m0 3l2-1m-8 0l13-10-1 3m1-3l-3 0m18 16l-15 10 1-3m-1 3l3 0m18-145l4 11-2-2m2 2l0-3m-10 26l8 10-3-1m3 1l-1-3m-9 13l14 1-2 1m2-1l-2-2m-11 21l17 4-3 1m3-1l-2-1m-13 25l16 4-2 0m2 0l-2-2" stroke="#6f86e0" stroke-opacity="0.65" stroke-width="1.4"/>
<path d="M378 824l0 6-1-2m1 2l1-2m0 10l0-6 1 2m-1-2l-1 1m-4 19l1-6 1 2m-1-2l-1 2m-3 22l-2 6 0-2m0 2l2-1m-5 3l3-5 0 2m0-2l-2 1m-11 24l-3 5 0-2m0 2l2-1m-1 5l-3 5 0-2m0 2l2-1m-14 9l4-4 0 2m0-2l-2 1m-12 13l4-4 0 2m0-2l-1 1m-11 13l-5 3 1-2m-1 2l2 0m-7 0l5-3-1 2m1-2l-2 0m-14 11l-5 3 1-2m-1 2l2 0m-13 3l6-2-2 2m2-2l-2 0m-18 5l6-2-2 2m2-2l-2 0m-18 4l-6 0 2-1m-2 1l2 1m-15 0l-6 0 2-1m-2 1l2 1m-7-2l6 1-2 1m2-1l-2-1m-13-1l-6-1 2-1m-2 1l2 1m-13-5l5 2-2 1m2-1l-1-1m-21-6l-5-3 2 0m-2 0l1 2m-9-7l5 3-2 0m2 0l-1-2m-16-9l5 4-2 0m2 0l-1-2m-12-8l5 4-2 0m2 0l-1-2m-14-9l-5-5 2 1m-2-1l1 2m-6-15l-3-5 1 1m-1-1l0 2m-3-4l3 5-2-1m2 1l0-2m-10-18l2 5-1-1m1 1l0-2m-10-15l2 6-2-2m2 2l0-2m-3-16l2 6-1-1m1 1l0-2m-4-20l0-6 1 2m-1-2l-1 2m1-10l0 6-1-2m1 2l1-2m-1-17l0-6 1 2m-1-2l-1 2m0-11l-1 6-1-2m1 2l1-2m7-21l-2 6 0-2m0 2l2-2m5-14l2-6 0 2m0-2l-2 2m4-9l3-5 0 2m0-2l-2 1m10-12l-3 5 0-2m0 2l2-1m11-13l4-5 0 2m0-2l-1 1m5-3l4-4-1 2m1-2l-2 0m10-11l5-3-1 2m1-2l-2 0m10-4l5-2-1 1m1-1l-2 0m5 1l5-3-1 2m1-2l-2 0m13-5l-6 2 1-2m-1 2l2 0m15-7l-6 2 2-2m-2 2l2 0m19-2l-6 1 2-2m-2 2l2 0m21-2l6 0-2 1m2-1l-2-1m6 2l6 0-2 1m2-1l-2-1m10 0l6 1-2 1m2-1l-1-1m11 6l6 2-2 1m2-1l-1-1m8 3l5 3-2 0m2 0l-1-2m11 7l-5-3 2 0m-2 0l1 2m18 8l-4-4 2 1m-2-1l0 2m10 9l4 4-2-1m2 1l0-2m8 9l-4-5 1 1m-1-1l0 2m14 19l-3-5 2 1m-2-1l0 2m8 10l4 5-2-1m2 1l-1-2m8 12l-3-5 2 1m-2-1l0 2m6 20l2 6-2-2m2 2l0-2m2 8l1 5-1-1m1 1l1-2m0 7l0 6-1-2m1 2l1-2" stroke="#6f86e0" stroke-opacity="0.6" stroke-width="1.2"/>
<path d="M280 827l11 1-2 1m2-1l-2-2m13-2l11 0-3 1m3-1l-3-2m11 1l11-1-3 2m3-2l-3-1m2 4l11 0-2 1m2-1l-2-2m-9 0l11-1-2 2m2-2l-2-1m-72 13l11 1-3 1m3-1l-2-2m41 10l12 2-3 1m3-1l-3-2m1 5l10 2-3 1m3-1l-2-2m1 0l13 2-3 1m3-1l-2-2m-88-9l9 8-3-1m3 1l-1-3m42 36l11 6-3 0m3 0l-2-2m-8-6l11 8-3-1m3 1l-2-3m-1 3l10 7-3 0m3 0l-1-3m-8-5l9 8-2-1m2 1l-1-3m-59-30l6 8-3-1m3 1l-1-3m7 9l6 9-3-1m3 1l-1-3m-3-7l7 7-3-1m3 1l-1-3m6 13l8 9-3-1m3 1l-1-3m-6-7l8 9-3-1m3 1l-1-3m1 2l8 9-3-1m3 1l-1-3m-66-65l4 10-2-2m2 2l0-3m7 22l6 11-3-2m3 2l0-3m-2 2l6 11-2-2m2 2l0-3m5 11l5 11-3-2m3 2l0-3m1 12l6 11-3-2m3 2l0-3m-44-80l1 12-2-2m2 2l1-3m-5 54l-1 11-1-3m1 3l2-3m-18-26l-4 12-1-3m1 3l2-2m3-9l-5 11 0-3m0 3l3-2m-1 2l-4 10 0-3m0 3l2-2m-7 11l-3 10-1-3m1 3l2-2m3-7l-2 10-1-3m1 3l2-2m-5-46l-6 10 0-3m0 3l2-2m22-46l-9 8 1-3m-1 3l3-1m-21 13l-9 7 1-3m-1 3l3 0m0 2l-9 6 1-2m-1 2l3 0m-3-1l-7 8 1-3m-1 3l3-1m-10 5l-11 8 2-3m-2 3l3-1m9-5l-10 8 1-3m-1 3l3-1m53-66l-10 4 2-2m-2 2l3 1m-13 1l-11 2 3-2m-3 2l3 1m-20 1l-10 3 2-2m-2 2l3 0m-3-1l-12 2 2-2m-2 2l3 1m62-20l-10 1 2-2m-2 2l3 1m-2 0l-12 2 3-2m-3 2l3 1m-22 0l-13 2 3-1m-3 1l3 1m26-28l-12-5 3 0m-3 0l2 3m-11-6l-12-3 3-1m-3 1l2 2m-1-2l-9-4 3-1m-3 1l2 2m81 18l-8-7 3 1m-3-1l1 3m-17-13l-10-6 3 0m-3 0l2 2m-16-15l-9-8 3 1m-3-1l1 3m-1-1l-8-7 3 0m-3 0l1 2m72 52l-8-10 3 2m-3-2l1 3m-22-37l-7-10 3 1m-3-1l0 3m3-4l-6-11 3 2m-3-2l0 3m5 9l-8-9 3 1m-3-1l1 2m2-3l-5-10 3 2m-3-2l0 3m0-1l-7-9 3 1m-3-1l1 3m4 7l-6-9 2 2m-2-2l0 3m52 67l-5-9 3 2m-3-2l0 3m2 8l-4-10 3 2m-3-2l0 3m3-3l-3-12 2 2m-2-2l-1 2m-5-9l-5-10 2 2m-2-2l0 3m2-3l-5-9 2 1m-2-1l0 3m3 7l-5-10 3 2m-3-2l0 3m-9-30l-3-10 2 2m-2-2l0 3m1 8l-4-10 2 2m-2-2l-1 3m43 62l-2-11 1 2m-1-2l-1 2m2-1l1-13 1 3m-1-3l-2 3m1-23l-1-12 1 2m-1-2l-2 2m1 10l0-12 2 2m-2-2l-1 2m3-1l0-11 1 3m-1-3l-2 3m0 8l0-11 1 3m-1-3l-2 3m4-2l-1-12 2 3m-2-3l-1 3m15 82l4-9 1 3m-1-3l-2 2m-4 6l3-10 0 3m0-3l-2 3m13-30l5-11 0 3m0-3l-3 2m5-11l4-11 0 3m0-3l-2 2m-13 66l6-10 0 3m0-3l-2 1m7-9l7-9-1 3m1-3l-3 1m10-9l5-9 0 3m0-3l-3 2m-4 6l6-9 0 3m0-3l-3 2m3 0l7-10 0 3m0-3l-3 1m3 1l7-10 0 3m0-3l-3 1m-6 7l8-9-1 3m1-3l-3 1m-47 80l9-7-2 3m2-3l-3 1m3 1l9-5-2 3m2-3l-3 0m30-16l11-7-2 3m2-3l-3 1m-9 4l10-7-1 3m1-3l-3 0m13-3l10-6-1 3m1-3l-3 0m2 0l9-5-2 2m2-2l-3 0m-50 45l11-6-2 3m2-3l-3 0m22-8l11-2-2 2m2-2l-3-1m1 0l10-2-2 2m2-2l-3-1m3 2l9-3-2 2m2-2l-3-1m-7 2l10-2-2 2m2-2l-3-1" stroke="#62b4ec" stroke-opacity="0.8" stroke-width="1.3"/>
<path d="M155 802l-8-5m6 14l-11-5 3 0m-3 0l2 2m11 17l-8 3 1-2m-1 2l2 0m4 13l-7 3m14-62l-8-6m8 13l-8-7 3 0m-3 0l1 2m4 13l-6-4m10 9l-10 1 2-2m-2 2l2 1m6 30l-11-5m9 11l-8 5m9 1l-7 6m7 10l-9 7m17-57l-7 0 2-1m-2 1l2 2m4 8l-9-3 2-1m-2 1l1 2m7 16l-8 5m11 28l-10 5 1-2m-1 2l2 1m4 0l-4 6m13-100l-4-5m4 12l-7-1 3-1m-3 1l2 1m7 24l-7 1 2-1m-2 1l2 1m5 6l-9 3 1-2m-1 2l2 0m7 24l-8 9 1-3m-1 3l3-1m4 15l-6 4m7 1l-12 3m12 11l-10 2 2-2m-2 2l3 1m13-132l-8-2m5 17l-7-4m10 16l-10 1m12 76l-10 0m7 4l-5 6 1-2m-1 2l3-1m1 21l-5 5m13-132l-10-5 2 0m-2 0l1 3m10 20l-6-7 3 1m-3-1l1 2m3 9l-8-5m8 49l-9 1m10 12l-7 0m8 25l-9 5 1-2m-1 2l3 0m5 14l-6 6m6 1l-5 8 0-3m0 3l2-1m10-147l-5-7m4 29l-8-2m9 14l-8-1m9 42l-11 0m6 62l-3 8m12-146l-7-7m9 33l-8-4 2 0m-2 0l1 2m9 49l-10-3 3-1m-3 1l2 2m2 19l-5 8m4 20l-4 8m7 13l-8 7 1-2m-1 2l3 0m7 2l-9 8 1-2m-1 2l3 0m12-149l-6-7 3 1m-3-1l1 3m4 64l-10 0 2-1m-2 1l2 2m7 41l-7 6 1-2m-1 2l2 0m6-1l-8 9m4 19l-4 11 0-2m0 2l2-1m13-167l-7-7 3 1m-3-1l1 3m1 14l-2-8 2 2m-2-2l-1 2m4 13l-2-10 2 2m-2-2l0 3m3 13l-3-10m3 29l0-7 1 2m-1-2l-1 3m3 61l-9 4 2-2m-2 2l3 0m2 46l0 12m4 4l-6 7m13-163l-5-8 2 1m-2-1l0 3m7 16l-8-7 2 1m-2-1l0 3m8 10l-8-6 2 0m-2 0l1 2m3 43l-7-5 3 0m-3 0l1 2m9 12l-6-6 2 1m-2-1l0 2m3 95l-5 7m3-3l-2 10-1-3m1 3l1-2m9-170l-3-7m1 21l2-10m2 122l-8 7m8-2l-5 11 0-3m0 3l2-2m6 11l-7 9m8-172l-1-8m4 15l-4-8 2 1m-2-1l0 2m-1 15l1-10 1 2m-1-2l-2 2m5 53l-5-8 3 1m-3-1l0 2m6 25l-11 1 2-1m-2 1l2 1m7 22l-5 5 0-2m0 2l2 0m0 47l2 9-2-2m2 2l1-3m0 16l-6 9m13-188l-1-11 2 3m-2-3l-1 3m2 24l-5-10m9 21l1-8m-1 25l0-12m0 27l0-8 1 2m-1-2l-1 2m4 97l-2 7-1-3m1 3l2-2m-3 11l2 9-2-2m2 2l1-3m5-14l0 11-1-2m1 2l1-2m-2 1l0 9m8-149l1-9 1 2m-1-2l-2 2m-6 86l9 6-2-1m2 1l-1-3m-3 35l1 7-1-2m1 2l1-3m-1 17l-2 8-1-2m1 2l2-2m-4 5l7 9-2-2m2 2l0-3m1-178l2-7 1 3m-1-3l-2 2m1 11l4-6m0 29l0-11m-6 22l3-9m0 104l6 5m-6 12l2 11-2-2m2 2l1-3m-5 0l4 7m7-164l-1-8 2 2m-2-2l-1 2m-6 80l10 1m-4 39l4 9-2-1m2 1l0-2m-3 7l0 10m-3 11l4 11-2-2m2 2l0-3m0 6l2 7m3-171l4-8m-5 41l5-6m-5 32l4-9m-6 93l3 7m2-151l8-6-1 3m1-3l-3 1m-1 53l3-11m-8 34l8-4-2 2m2-2l-3 0m-4 46l9 6m-7 7l5 10m-1 24l1 8m-6-2l7 7m0-157l4-11m-4 26l5-6 0 2m0-2l-2 1m-2 12l5-5-1 3m1-3l-3 1m-4 20l7-9-1 3m1-3l-3 1m0 86l5 5-2-1m2 1l0-2m-4 15l0 7m0 0l2 10m0-162l7-6-1 3m1-3l-3 1m0 13l1-9 1 3m-1-3l-1 2m-1 54l6-4m-9 8l9-3-1 2m1-2l-2-1m-10 35l11 4-2 0m2 0l-1-2m-6 24l9 4m-9-2l3 11-2-2m2 2l1-3m-4-1l7 9-3-2m3 2l-1-3m-7 14l5 8-2-1m2 1l0-2m-2 4l2 8-2-2m2 2l1-3m4-153l5-5 0 3m0-3l-2 1m-3 20l5-8m-8 23l4-10 0 3m0-3l-2 2m-2 24l9-4m-11 44l10-1m-8 12l9 3-3 0m3 0l-2-2m-5 8l4 7-2-1m2 1l0-3m-7 10l9 4m-7 1l3 10m4-121l5-6m-8 25l10-5-1 2m1-2l-2 0m-5 33l8 1m-9 22l10-2-2 1m2-1l-2-1m-10 39l10 5-2 0m2 0l-1-2m-10 8l9 6-3-1m3 1l-2-3m2-115l4-7m-4 12l8 0m-8 7l9-1-2 1m2-1l-3-1m-4 9l7-2-2 2m2-2l-3 0m-6 22l8-3-1 2m1-2l-2 0m-5 25l8 3-3 0m3 0l-2-2m-6 29l9 0m-10 12l10 3m-11 10l6 5-3-1m3 1l-1-3m3-112l6-6m-8 33l9-3-2 2m2-2l-3-1m-3 10l7-1m-7 22l9 5-3 0m3 0l-2-2m-9 17l9 4-3 1m3-1l-2-2m-5 4l8 5-3 0m3 0l-1-2m-11 9l10 3-3 1m3-1l-2-2m-5 3l8 7m-4-92l10 2-2 1m2-1l-2-1m-6 12l8 1-3 1m3-1l-2-1m-8 15l10 0m-7 27l8-2m-3-43l7-1-2 2m2-2l-2-1m-4 11l9 3-2 0m2 0l-2-2m-5 20l8 6m-12 5l11 4" stroke="#62b4ec" stroke-opacity="0.7" stroke-width="1.2"/>
<path d="M268 825l13 0-3 1m3-1l-3-2m34 1l10 0-2 1m2-1l-3-2m-41 14l10 2-3 1m3-1l-2-2m11 5l12 3-2 0m2 0l-2-2m1 1l10 3-3 0m3 0l-2-2m-63-10l7 7-3 0m3 0l-1-3m19 14l10 8-3-1m3 1l-1-3m-2 4l10 8-3-1m3 1l-2-3m2-1l9 6-3 0m3 0l-1-3m-49-25l8 9-3-1m3 1l-1-3m16 16l6 9-2-2m2 2l0-3m-20 5l4 11-2-2m2 2l1-3m-32-39l-3 11 0-3m0 3l2-2m-6 9l-2 10-1-3m1 3l2-2m4-34l-6 11 0-3m0 3l2-2m7-8l-6 12 0-3m0 3l2-2m-2 0l-7 9 1-3m-1 3l3-2m-20 29l-5 10 0-3m0 3l3-1m-5-1l-5 10 0-3m0 3l2-1m5-8l-6 10 0-3m0 3l2-1m32-65l-9 6 2-2m-2 2l3 0m7-5l-8 7 1-3m-1 3l3-1m-37 28l-9 7 2-3m-2 3l3-1m43-45l-12 1 3-2m-3 2l3 1m-12-1l-12 2 3-2m-3 2l3 1m-11 2l-10 2 2-2m-2 2l2 1m-1-1l-10 3 2-2m-2 2l3 1m-1 2l-11 2 2-2m-2 2l3 0m30-18l-10 0 3-2m-3 2l3 1m-2 1l-12 2 2-2m-2 2l2 1m-1-4l-13 0 2-1m-2 1l2 2m64-13l-11-2 3-1m-3 1l3 2m-39-18l-12-3 3-1m-3 1l3 2m71 16l-6-11 2 2m-2-2l0 3m-2 0l-6-10 3 2m-3-2l0 3m0-2l-6-8 3 1m-3-1l0 3m-5-12l-8-10 3 2m-3-2l1 3m24 25l-6-12 3 2m-3-2l0 3m1-2l-4-9 2 2m-2-2l0 3m-7-21l-5-9 3 2m-3-2l0 3m4-3l-5-10 2 2m-2-2l0 3m3 8l-4-11 2 2m-2-2l0 3m36 66l0-13 1 3m-1-3l-2 3m1-2l-2-11 2 3m-2-3l-1 3m2-13l1-12 1 3m-1-3l-2 3m-2-2l-2-12 2 2m-2-2l-1 3m5-2l0-11 2 2m-2-2l-1 2m17 43l3-11 1 3m-1-3l-2 3m-3 7l4-10 0 3m0-3l-3 2m11-21l3-11 1 3m-1-3l-2 2m3-1l3-11 1 3m-1-3l-2 2m-4 9l5-11 1 3m-1-3l-2 2m-17 64l5-10 1 3m-1-3l-2 1m5 2l7-10-1 3m1-3l-3 1m14-17l8-10-1 3m1-3l-3 1m3 30l9-6-1 2m1-2l-3 0m13-3l11-7-1 3m1-3l-3 1m-44 38l12-4-2 2m2-2l-3 0m-10 1l11-5-1 2m1-2l-3-1m35-6l11-3-3 2m3-2l-3 0" stroke="#7ee2ec" stroke-opacity="0.8" stroke-width="1.3"/>
<path d="M168 828l-11-5m12 21l-10 3m15-39l-9 0m9 28l-8-4 2 0m-2 0l1 2m4 15l-9-1m17-54l-9-2 3 0m-3 0l2 2m8 21l-7 0m5 18l-8-2m15-31l-9-1 3-1m-3 1l2 1m9 7l-8 0 2-1m-2 1l2 1m6 54l-11 1 3-2m-3 2l3 1m12-37l-9 4m10 24l-11 0m16-39l-9-8m9 24l-7 6m9 9l-8 3m12-78l-5-10m6 20l-10-4 3 0m-3 0l2 2m9 58l-8 6m8 39l-3 9m10-81l-5-6m5 25l-9-3 3 0m-3 0l2 2m10 1l-10 4m8-74l2-12m3 50l-7-7m7 11l-9-3m10 22l-8 1 2-2m-2 2l2 1m4 16l-8 6m10 21l-7 4m4 7l-3 7 0-2m0 2l2-1m1-2l1 7-2-2m2 2l1-2m-5 7l0 9-1-2m1 2l2-2m8-143l-1-7 2 2m-2-2l-1 2m5 30l-7-6 3 1m-3-1l1 3m2 13l0-12m2 38l-7-8m12 8l-11 1 2-1m-2 1l2 1m7 14l-11-2 3-1m-3 1l2 2m7 18l-4 7 0-3m0 3l2-1m1 12l-1 7-1-2m1 2l1-2m1 21l-3 9m5-102l0-8 1 3m-1-3l-1 2m3 13l-1-10 1 2m-1-2l-1 2m5 36l-5 9m0 20l-1 10m10-79l-1-8 2 3m-2-3l-1 3m2 12l-4-6 2 1m-2-1l0 2m5 34l0 8m1-2l-6 7 0-2m0 2l2-1m2 3l2 11m-3 28l-2 10m2-6l3 10m-4-1l2 9m6-155l1-8m-3 25l3-10 0 2m0-2l-2 2m-1 28l1-11 1 3m-1-3l-2 3m-1 72l3 8m-3 5l5 9-2-1m2 1l0-2m-3 16l-1 12m8-153l1-8m-1 16l-2-10m3 16l-5-11m1 17l5-9 0 3m0-3l-2 2m0 26l5-6m-5 25l5-8 0 3m0-3l-2 1m-4 39l8 5-3 0m3 0l-1-2m-10 19l6 8m0 3l1 7m2-70l1-9m-3 12l6-7m-5 21l8-1-2 1m2-1l-2-1m-7 9l5 5m-2 10l3 9m0-95l6-9m-6 44l6-11m-4 19l10-2-2 2m2-2l-3-1m-11 21l11 4m-7 9l7 6m-9-5l7 9-2-1m2 1l0-3m-7 41l8 8m2-121l2-8 1 2m-1-2l-1 2m-2 40l8-6m-2 88l-2 11m5-138l5-6m-10 14l7-7-1 2m1-2l-3 1m-2 24l9-4-2 2m2-2l-3-1m-7 25l9-6m-7 48l4 6-2-1m2 1l0-3m-7 5l8 6m-4-2l2 11m-2-80l11-3-2 2m2-2l-2 0m-6 19l11-5-1 2m1-2l-2 0m-6 37l7-1m-10 3l6 9-2-1m2 1l0-3m-7 0l8 8m1 30l6 8-2-1m2 1l0-3m1-122l5-6-1 2m1-2l-3 1m-3 34l8-8-1 2m1-2l-3 1m-6 41l11-3m-8 20l6 6m1 12l7 7m-2-10l10 3m-6-60l8-3" stroke="#7ee2ec" stroke-opacity="0.7" stroke-width="1.2"/>
<path d="M259 825l11 1-3 1m3-1l-3-2m2 3l12 0-3 1m3-1l-3-2m12 2l13-2-2 2m2-2l-3-1m-10 1l13 1-3 1m3-1l-3-2m2 3l11-1-2 2m2-2l-3-1m2 1l10 0-2 1m2-1l-2-1m1 1l11 0-3 2m3-2l-3-1m-80 2l12 3-3 1m3-1l-2-2m0 4l11 2-3 1m3-1l-3-2m-7-2l10 3-3 0m3 0l-2-2m10 3l10 3-3 1m3-1l-2-2m1 3l11 3-3 1m3-1l-2-2m-9-2l11 3-2 1m2-1l-2-2m13 3l10 1-3 1m3-1l-3-2m1 5l12 1-2 1m2-1l-2-2m-68-3l8 8-3-1m3 1l-1-3m1 1l11 8-3-1m3 1l-2-3m-8-6l11 7-3 0m3 0l-1-3m9 9l10 7-3-1m3 1l-2-3m-1 5l8 6-3 0m3 0l-1-3m1 2l9 7-3 0m3 0l-1-2m-7-7l9 8-3-1m3 1l-1-3m-63-43l9 8-3 0m3 0l-1-2m-1 2l9 9-3-1m3 1l-1-3m-2 4l9 9-3-1m3 1l-1-3m1 2l7 7-3-1m3 1l-1-3m-2 4l7 8-2-1m2 1l0-3m7 9l7 10-3-1m3 1l0-3m-6-8l8 10-3-1m3 1l-1-3m6 11l9 9-3-1m3 1l-1-3m-63-66l4 9-2-2m2 2l1-3m0 13l5 11-2-2m2 2l0-3m-3-9l4 11-2-2m2 2l1-3m6 23l4 11-3-2m3 2l0-3m-2-9l4 11-3-2m3 2l0-3m-2 3l5 11-2-2m2 2l0-3m-35-50l-1 12-1-2m1 2l1-2m-1 1l-1 12-1-3m1 3l2-3m-2 2l-1 12-1-3m1 3l2-3m1-9l-2 12-1-3m1 3l2-3m-1 2l-1 10-1-3m1 3l2-2m-5-52l-4 10-1-3m1 3l2-1m-2 0l-3 11 0-3m0 3l2-2m4-8l-3 11-1-3m1 3l2-2m-11 17l-4 10 0-3m0 3l3-2m-5 12l-3 10-1-3m1 3l2-2m13-61l-5 9 0-3m0 3l2-2m1 2l-6 11 0-3m0 3l3-1m-5-2l-7 11 0-3m0 3l2-1m6-9l-7 11 1-3m-1 3l3-1m-3-1l-6 11 0-3m0 3l3-2m29-51l-8 7 1-3m-1 3l3-1m-11 5l-8 9 0-3m0 3l2-1m-2-1l-9 8 1-3m-1 3l2-1m0 2l-9 9 1-3m-1 3l3-1m-18 14l-8 6 1-3m-1 3l3-1m57-58l-11 3 2-2m-2 2l3 1m-2-1l-11 3 2-2m-2 2l3 1m-2-2l-11 1 2-2m-2 2l3 1m-12 2l-11 4 2-2m-2 2l3 1m-2 0l-9 3 2-2m-2 2l2 1m-2-2l-10 2 3-2m-3 2l3 1m-11 2l-12 3 2-2m-2 2l3 1m-2-4l-10 1 2-1m-2 1l2 2m94-25l-12 2 2-2m-2 2l3 1m-2-3l-13 2 2-2m-2 2l3 1m-2 0l-10 0 3-1m-3 1l3 2m-12 1l-11 0 3-2m-3 2l3 1m49-9l-10-3 3-1m-3 1l2 2m-10-8l-11-3 3 0m-3 0l2 2m9 3l-12-2 3-1m-3 1l3 2m-1-5l-10-3 3 0m-3 0l2 2m8 2l-10-3 3 0m-3 0l2 2m-1-2l-10-4 3 0m-3 0l2 3m-12-5l-11-3 3-1m-3 1l2 2m68 18l-8-6 2 1m-2-1l1 3m-8-8l-10-8 3 0m-3 0l1 3m0-2l-9-6 3 0m-3 0l2 3m0-3l-10-6 3 0m-3 0l2 3m1-4l-9-8 3 0m-3 0l1 2m7 7l-9-8 3 1m-3-1l1 3m1-3l-9-6 3 0m-3 0l1 3m6 5l-7-7 3 0m-3 0l1 2m-1-1l-9-9 3 1m-3-1l1 3m60 35l-6-9 3 1m-3-1l0 3m1-3l-4-9 2 1m-2-1l0 3m-7-11l-7-10 3 1m-3-1l0 3m31 45l-4-13 2 3m-2-3l0 3m-8-21l-5-9 3 2m-3-2l0 3m-1-1l-3-11 2 2m-2-2l-1 3m-1-12l-3-9 2 2m-2-2l-1 3m28 57l-1-13 2 3m-2-3l-1 3m2-2l1-11 1 3m-1-3l-2 3m2-2l1-12 1 3m-1-3l-2 3m1-13l-2-12 2 2m-2-2l-1 3m0-2l-2-11 2 2m-2-2l-1 3m9 69l3-13 1 3m-1-3l-2 3m13-27l4-11 1 3m-1-3l-2 2m-3 9l4-11 1 3m-1-3l-2 2m3 0l4-12 1 3m-1-3l-2 2m8-21l4-11 1 3m-1-3l-2 2m-6 58l7-9-1 3m1-3l-3 1m-7 6l6-10 0 3m0-3l-2 2m4 1l7-9-1 3m1-3l-3 1m0-2l7-10-1 3m1-3l-3 1m-28 57l10-5-2 3m2-3l-3 0m2 0l8-6-1 3m1-3l-3 0m3 1l11-7-2 3m2-3l-3 1m-9 4l11-6-2 2m2-2l-3 0m11-5l10-5-1 3m1-3l-3 0m10-8l11-6-1 3m1-3l-3 0m2 0l9-7-1 3m1-3l-3 0m3 1l9-5-2 3m2-3l-3 0m-81 55l11-4-2 2m2-2l-3-1m3 2l10-4-2 3m2-3l-3 0m24-4l11-5-2 2m2-2l-3 0m2 0l12-4-2 2m2-2l-3 0m-10 3l13-4-3 2m3-2l-3-1" stroke="#30d6e6" stroke-opacity="0.8" stroke-width="1.3"/>
<path d="M154 795l-10-3 3 0m-3 0l2 2m7 35l-11 5m13 19l-9 0m18-20l-8-1 3-1m-3 1l3 2m14-38l-10-2 3-1m-3 1l2 1m8 8l-11 0m9 24l-8-4 3 0m-3 0l2 2m9 15l-10 3 2-2m-2 2l3 1m14-42l-9-2m5 10l-7-2m10 13l-10 2 2-2m-2 2l3 1m9 5l-11-1 3-1m-3 1l3 2m8 9l-11 2 2-2m-2 2l3 1m4 8l-9-2 3-1m-3 1l2 2m9-2l-7 9 0-2m0 2l2-1m4 2l-7 6m15-70l-10-1 2-1m-2 1l2 1m10 20l-11-2m8 14l-8 2 2-2m-2 2l2 1m5 10l-8 5m6 19l-5 8m10 12l-10 3m14-107l-4-8 2 2m-2-2l0 3m6 42l-7-6m3 29l-7 4 1-2m-1 2l2 0m9 0l-9 3 1-2m-1 2l2 1m7 13l-8 1 2-2m-2 2l2 1m2 1l-5 11m11-1l-11 3m7 0l-8 7m10 5l-7 6m8-148l-4-6 2 1m-2-1l0 2m6 38l-4-10m6 27l-7-3m7 10l-7-7m5 13l-7-9m12 18l-11 1m8 20l-11 2 2-2m-2 2l3 1m7 14l-6 10m5 3l-8 2 2-2m-2 2l3 1m3 6l-3 10 0-3m0 3l2-2m5 1l-3 10-1-2m1 2l2-1m-2 7l-4 7 0-3m0 3l2-1m13-152l-10-6 3 0m-3 0l1 2m5 23l-7-7 2 1m-2-1l0 3m10 23l-9-5m9 13l-7-2m5 7l-7-5m8 11l-6-7 3 1m-3-1l1 3m5 7l-7 1m10 13l-9 2 1-1m-1 1l2 1m2 11l-7 1m10 4l-6 6m4 0l-9 3m8 29l-5 8 0-2m0 2l2-1m11-126l-3-6m5 26l-8-8m6 14l-9-4 2 0m-2 0l1 2m5 12l-4-7 2 1m-2-1l0 2m10 14l-10-4m9 13l-9-4 3 0m-3 0l2 2m5 17l-8 6 1-2m-1 2l3 0m4 12l-6 6m7 0l-2 7m0-2l-4 10 0-3m0 3l2-2m1 6l0 7-2-2m2 2l1-2m0 5l-5 6 1-3m-1 3l3-1m14-120l-8-7 2 1m-2-1l1 3m0 22l-2-11m9 49l-11 1 2-1m-2 1l2 1m8 11l-9 5m7-4l-5 11 0-3m0 3l2-2m2 34l-5 5 1-2m-1 2l3-1m6-123l-2-9m7 36l-5-5 2 0m-2 0l0 2m2 8l-8-5 3 0m-3 0l1 3m9 8l-8-7 3 1m-3-1l1 3m7 21l-9 4m9 8l-12 1 3-2m-3 2l3 1m7 5l-8 5m8 12l-6 9 1-3m-1 3l3-1m3 21l-4 8m2 16l1 9m6-163l3-10m-4 12l0-8m2 18l-7-9m9 19l-5-7 2 1m-2-1l0 2m5 16l-5-8 3 1m-3-1l1 3m6 37l-9 7m9-2l-9 3 2-2m-2 2l3 0m4 16l-5 9 0-2m0 2l2-1m2-3l-4 10m5 7l-1 11m1 3l-5 11 0-3m0 3l2-2m0 15l0 8-1-2m1 2l1-2m6-151l-2-7 2 1m-2-1l0 2m3 14l-1-9m5 11l-6-8m2 19l0-9 1 2m-1-2l-2 2m-1 33l0-12 1 2m-1-2l-1 2m4 16l-1-8 2 2m-2-2l-1 3m6 12l-8-3m3 6l-4 9m6 17l-7 7m3-1l3 9m3 1l-5 9 0-2m0 2l2-1m1-3l-3 10 0-3m0 3l2-2m5-145l-2-9 2 2m-2-2l-1 3m5 52l1-12 1 3m-1-3l-1 2m-2 32l2-11m-5 22l7-10m-6 15l0-8m1 11l7 0-2 1m2-1l-2-1m-3 17l-2 10m0 21l0 10m9-146l-5-9m4 17l-1-9 1 2m-1-2l-1 2m-1 43l1-10 1 2m-1-2l-1 2m0 24l3-10m1 20l-1-9 2 2m-2-2l-1 3m-5 24l10 5m-8 4l9 4-3 0m3 0l-2-2m-1 32l-1 10m-4 11l2 11m-1 2l4 6m6-166l-4-10 2 1m-2-1l0 2m6 24l-4-10m0 37l2-7 1 2m-1-2l-2 2m-1 13l0-9m4 12l-1-8m-5 17l3-7 0 3m0-3l-2 2m-4 21l8-1-2 2m2-2l-2-1m-1 14l6 5m-8 20l3 7m-2 6l2 8-2-2m2 2l1-2m-5-2l7 9m-1 1l-4 11m3-1l0 9-1-2m1 2l1-2m6-123l1-7 1 3m-1-3l-2 2m-3 17l7-8 0 2m0-2l-2 1m-6 31l7-2m-8 44l9 8-3-1m3 1l-1-3m-4 1l4 10m-4-3l6 4-3 0m3 0l-1-2m-6 11l5 11-2-2m2 2l0-3m3-132l3-9m-4 14l5-6m-7 21l7-5m-5 13l0-10 1 2m-1-2l-1 2m-1 19l3-7 0 3m0-3l-2 2m2 12l5-7-1 3m1-3l-3 1m-4 18l10-4-2 2m2-2l-3-1m-12 13l12 2-3 1m3-1l-2-1m-7 7l12-2m-11 6l5 9m-5 0l11 3m-12 1l5 7-3-1m3 1l-1-3m-1 5l6 5m-9 7l6 5-2 0m2 0l-1-2m-3 27l4 8-2-1m2 1l0-3m-2 8l5 8-3-2m3 2l0-3m4-165l0-7 1 2m-1-2l-1 2m-4 10l9-7-1 3m1-3l-2 1m-4 44l4-6 0 2m0-2l-2 1m-10 21l11-1m-9 15l8 2-3 1m3-1l-2-2m-1 4l7 3m-6 11l4 9m-7 15l4 8m-4 7l7 7-2 0m2 0l-1-2m2-126l1-8 1 3m-1-3l-1 2m-4 12l8-6-1 2m1-2l-2 0m-2 18l5-11 0 2m0-2l-2 1m-4 34l4-8m-7 25l8-2m-6 10l7 3m-7 43l11 5m-13 2l10 5-2 0m2 0l-1-2m-5 2l-1 10-1-2m1 2l2-2m-1-1l5 6-2-1m2 1l0-3m-1-109l8-7m-7 19l8-5m-11 14l9-2m-8 5l9 0-3 1m3-1l-3-1m-6 12l9-4m-11 4l11 2-3 1m3-1l-3-2m-5 13l8 1m-9 12l11 4m-9 7l6 7-2-1m2 1l0-3m-9 7l9 6-3 0m3 0l-1-2m2-101l8-4m-9 14l8-6m-8 13l5-10m-5 37l11 1m-12 5l9 1m-11 31l10 6-3 0m3 0l-1-2m-3 28l3 6m0-100l10-2-2 2m2-2l-2-1m-11 14l11-1-3 2m3-2l-3-1m-4 16l11 1m-15 10l10-5-1 2m1-2l-2 0m-7 7l10 0-3 2m3-2l-3-1m-4 13l8 1m-8 12l7 5-3 0m3 0l-1-2m0-105l5-6-1 3m1-3l-3 1m-1 15l5-9m-4 18l9-5-2 2m2-2l-3 0m-10 36l10-1-2 1m2-1l-2-1m-6 27l8-4-1 2m1-2l-2 0m-8 7l8-2-2 2m2-2l-2-1m-2 16l9-1-2 2m2-2l-2-1m-10 8l11 0m-11 3l9 6m1-57l9-7m-9 22l7-1m-7 9l8-3-2 2m2-2l-3 0m-8 7l9 3m-7 16l8 8m-8-3l9 6m-4-30l9 0m-7 14l6 3m-10 0l9 5m3-2l5 7m-5 3l7 1" stroke="#30d6e6" stroke-opacity="0.7" stroke-width="1.2"/>
<path d="M259 827l11 0-3 2m3-2l-3-1m13-2l11-1-2 2m2-2l-2-1m-20 10l10 1-2 1m2-1l-2-1m-25 4l8 5-3 0m3 0l-1-3m17 16l10 8-3 0m3 0l-1-2m-38-26l8 9-3-1m3 1l-1-3m8 10l9 10-3-2m3 2l-1-3m-21-10l5 11-3-2m3 2l0-3m-3-9l5 11-3-2m3 2l0-3m3 12l4 11-2-2m2 2l1-3m-22-39l-1 10-1-2m1 2l2-2m-1 1l-1 12-1-2m1 2l2-2m-2 1l0 12-1-2m1 2l1-2m-3 1l0 12-1-3m1 3l2-3m-5 12l0 11-2-3m2 3l1-3m-1 2l0 12-2-3m2 3l1-3m1-9l0 12-2-3m2 3l1-3m-2-71l-4 10-1-3m1 3l2-2m-8 20l-4 9 0-3m0 3l3-2m-2 1l-4 10 0-3m0 3l2-2m4-7l-4 10 0-3m0 3l2-2m-1 1l-3 10-1-3m1 3l2-2m-17-31l-10 7 1-2m-1 2l3 0m0 2l-9 7 1-3m-1 3l3 0m29-44l-13 0 3-1m-3 1l3 2m-31-2l-13 2 3-1m-3 1l3 1m62-10l-11-3 3 0m-3 0l2 2m0-3l-10-4 3 0m-3 0l1 3m-20-8l-10-3 3-1m-3 1l3 2m-1-2l-13-3 3-1m-3 1l3 2m44 2l-10-8 3 1m-3-1l1 3m-1-1l-8-6 3 0m-3 0l1 3m17-7l-8-10 3 1m-3-1l1 3m26 35l-6-11 3 1m-3-1l0 3m11 8l5-12 0 3m0-3l-2 2m2 0l3-10 1 3m-1-3l-2 2m-3 7l2-10 1 3m-1-3l-2 2m12-28l4-12 1 3m-1-3l-2 2m-6 46l6-9 0 3m0-3l-2 1m19 4l11-6-1 2m1-2l-3 0m-37 27l11-6-2 3m2-3l-3 0m2 1l11-3-2 2m2-2l-3-1m12-4l12-3-2 2m2-2l-3 0m2-1l10-3-2 2m2-2l-3-1" stroke="#58e0a8" stroke-opacity="0.8" stroke-width="1.3"/>
<path d="M171 856l-5 6 1-3m-1 3l3-1m8-75l-4-6m14-3l-10-4 3 0m-3 0l2 2m4 45l-7-4m10 60l-9 5 1-2m-1 2l2 0m10-89l-5-6 2 1m-2-1l1 3m9 16l-11-5 3-1m-3 1l2 2m5 10l-5-7 2 1m-2-1l0 3m10 11l-10 3 2-2m-2 2l3 0m6-49l-2-8m7 28l-5-8 2 1m-2-1l0 2m5 77l-7 5 1-2m-1 2l3 0m6-8l-3 7 0-3m0 3l2-2m10-88l0-8m3 81l-6 5 0-2m0 2l2 0m2 22l-5 7 0-2m0 2l2-1m8-15l-7 4m15-13l-8 4m14-87l-2-6m7-11l-2-8 2 2m-2-2l-1 2m3 34l-4-6m2 102l0 8-1-2m1 2l1-2m5-135l3-11 1 2m-1-2l-2 2m-1 102l1 10m2 3l-4 7 0-3m0 3l2-1m7-83l3-7 0 3m0-3l-2 2m-4 59l4 8-2-1m2 1l0-3m-3 6l3 8m-1-3l1 12m7-93l3-11m-4 100l3 8-2-1m2 1l1-2m1-110l3-9 0 2m0-2l-2 1m-5 55l8-6m-4 21l8 0m-10 11l8 7m-8 15l9 4m-1 26l5 10m-1-107l8-7-1 2m1-2l-3 0m-6 41l8-3m2 45l4 8m1-103l7-2m-8 84l9 0m-8 10l8 5m-9 22l7 4-3 0m3 0l-1-2m1-45l8 3-2 0m2 0l-1-2m-1-52l7-7m-4 32l7-6-1 2m1-2l-2 0m0-17l9-3-2 2m2-2l-3-1m-8 17l8-8 0 2m0-2l-2 1m-7 12l10 1m3 33l6 2-2 1m2-1l-1-2m-4-27l10 1" stroke="#58e0a8" stroke-opacity="0.7" stroke-width="1.2"/>
<path d="M257 824l11-6-2 3m2-3l-3 0m2 2l12-4-2 2m2-2l-3-1m2 1l11-3-2 2m2-2l-3-1m2 0l11-3-3 2m3-2l-3 0m-40 13l11-5-2 2m2-2l-3-1m3 2l11-3-2 2m2-2l-3-1m2 0l11-5-2 2m2-2l-3 0m2 1l11-3-2 2m2-2l-3-1m-40 13l11-5-1 3m1-3l-3 0m3 2l11-5-2 2m2-2l-3 0m2 1l12-3-2 2m2-2l-3-1m1 0l10-4-1 2m1-2l-3-1" stroke="#58e0a8" stroke-opacity="0.6" stroke-width="1.5"/>
<path d="M247 828l13-2-2 2m2-2l-3-1m-10 1l13-2-2 2m2-2l-3-1m-9 6l13 2-3 1m3-1l-3-1m-18 5l-2 10-1-3m1 3l2-2m-1-8l-4 11 0-3m0 3l2-2m-2-14l-7 7 1-3m-1 3l2-1m4-7l-10 4 2-2m-2 2l3 1m5-5l-12 1 2-2m-2 2l3 1m11-11l-8-5 3 0m-3 0l1 3" stroke="#1e8cf0" stroke-opacity="0.8" stroke-width="1.3"/>
<path d="M236 825l-4-9" stroke="#1e8cf0" stroke-opacity="0.7" stroke-width="1.2"/>
<path d="M244 832l4 9-2-1m2 1l0-2m-5-13l11-6-1 2m1-2l-3 0m-16 5l-9-3 2 0m-2 0l2 2m12-2l-2-11 1 2m-1-2l-1 2m0 21l-4 8 0-3m0 3l2-1m2-6l-4 6 0-3m0 3l2-1m1-10l-9 7 1-2m-1 2l3 0m8-15l-6-9 2 1m-2-1l1 3m12 5l7-10 0 3m0-3l-2 1m-9 11l0-8 2 2m-2-2l-1 2m0 3l-2-12 2 2m-2-2l0 2m-3 13l-9-5 2 0m-2 0l1 2m13 6l-10-4 2-1m-2 1l1 2m19 5l10 3-2 1m2-1l-2-2m-18-10l-2-11 2 2m-2-2l0 3m-1 21l-6 6 1-2m-1 2l3 0" stroke="#1e8cf0" stroke-opacity="0.75" stroke-width="1.8"/>
<path d="M298 839l12 1-3 1m3-1l-2-1m-86 16l-6 10 0-3m0 3l2-1m-6 11l-5 11 0-3m0 3l2-2m6-32l-10 8 1-3m-1 3l3-1m-3-22l-12 3 2-3m-2 3l3 0m4-11l-12 0 3-1m-3 1l3 1m35-14l-8-7 3 1m-3-1l1 3m-1-18l-6-11 2 1m-2-1l0 3m-4-12l-7-11 3 2m-3-2l0 3m47 53l8-10-1 3m1-3l-3 1m-7 8l8-11-1 3m1-3l-3 2m26-6l11-7-2 3m2-3l-3 0" stroke="#b0dc3a" stroke-opacity="0.8" stroke-width="1.3"/>
<path d="M188 848l-8 7 1-2m-1 2l2 0m25-62l-6-9 2 2m-2-2l0 3m17-5l-2-7 2 2m-2-2l-1 3m4 48l-10 6m7 21l-4 9 0-3m0 3l2-2m8-80l2-11 1 2m-1-2l-2 2m6 48l-3-8m5 54l-7 5 1-2m-1 2l3 0m5 13l-6 8m16-81l2-9 1 3m-1-3l-2 2m3 27l-3 7m1-1l-1 7-1-2m1 2l1-2m-4 41l4 7m7-71l1-7m-9 13l9-4m-3 62l2 10-1-2m1 2l1-2m1-110l2-8m11 22l4-10m2 55l8 1-3 1m3-1l-2-1m-3 39l1 8-1-2m1 2l1-3m6-95l4-10 0 3m0-3l-2 2m-9 48l9-2m1 6l8-1m0-18l8 1-3 1m3-1l-2-1" stroke="#b0dc3a" stroke-opacity="0.7" stroke-width="1.2"/>
<path d="M247 812l4-11 1 3m-1-3l-2 2m1-2l3-11 1 3m-1-3l-2 2m2-1l3-12 1 3m-1-3l-2 2m2-1l4-11 1 3m-1-3l-2 2m1-1l1-4 0 1m0-1l-1 1m-14 45l3-12 0 3m0-3l-2 2m2-1l4-11 1 3m-1-3l-2 2m1-2l3-11 1 2m-1-2l-2 2m2-1l2-12 1 3m-1-3l-2 2m3-1l1-4 0 2m0-2l-1 1m-14 45l3-12 1 3m-1-3l-2 3m2-2l3-11 1 3m-1-3l-2 2m2-1l4-12 0 3m0-3l-2 2m1-1l4-11 0 3m0-3l-3 2m2-2l1-3 0 1m0-1l-2 1m-18 76l-1 12-1-2m1 2l2-2m-3 1l-1 12-1-3m1 3l2-2m-3 1l-1 12-1-3m1 3l2-2m-2 1l-2 12-1-3m1 3l2-3m-2 2l-2 8-1-3m1 3l2-3m9-48l-1 12-1-3m1 3l2-3m-2 2l-3 11-1-2m1 2l2-2m-1 1l-2 12-1-3m1 3l2-2m-2 1l-3 12-1-3m1 3l2-2m-1 1l-2 8-1-3m1 3l2-2m10-49l-3 12-1-3m1 3l2-2m-1 1l-2 12-1-3m1 3l2-3m-2 2l-3 12-1-3m1 3l2-3m-1 2l-2 12-1-3m1 3l2-3m-2 1l-1 8-1-2m1 2l2-2" stroke="#b0dc3a" stroke-opacity="0.6" stroke-width="1.5"/>
<path d="M268 834l12 3-3 1m3-1l-2-2m1 1l12 2-3 1m3-1l-2-2m1 2l10 1-3 1m3-1l-2-2m-29-5l12 2-3 1m3-1l-3-2m2 2l12 1-3 1m3-1l-3-2m1 3l10 1-2 1m2-1l-2-2m-29-5l12 2-3 1m3-1l-2-2m1 2l12 1-3 1m3-1l-3-1m2 2l10 1-3 1m3-1l-3-2" stroke="#e8a030" stroke-opacity="0.6" stroke-width="1.5"/></g></g>
<path d="M91.8 388.9V386.3H93.6M145.3 386.3H147.1V388.1M147.1 439.8V441.6H145.3M93.6 441.6H91.8V439.8" fill="none" stroke="#1a1a1a" stroke-width="1.6" stroke-linejoin="round"/>
<path d="M95.9 386.3H145.3M147.1 390.4V439.8M95.9 441.6H145.3M91.8 391.2V439.8" fill="none" stroke="#1a1a1a" stroke-width="1.6" stroke-dasharray="5.3 2.3"/>
<circle cx="270" cy="413.5" r="72" stroke="#a8a8a8" stroke-width="0.9" fill="none"/>
<circle cx="270" cy="413.5" r="66" stroke="#c4c4c4" stroke-width="0.8" fill="none"/>
<g fill="none" stroke-linecap="round" filter="url(#sf)"><g transform="scale(.5)"><path d="M642 835l11 0-3 1m3-1l-3-1m-8-1l11 1-3 1m3-1l-3-2m-41 44l9 6-3 0m3 0l-2-3m1 3l10 5-3 0m3 0l-2-2m-61 25l3 11-2-2m2 2l1-2m0 1l3 10-2-2m2 2l1-3m-102-54l-10 5 2-2m-2 2l3 0m-1 0l-12 6 2-3m-2 3l3 0m-2-2l-12 6 2-3m-2 3l3 0m3-39l-11 3 2-2m-2 2l3 1m22-18l-12 2 2-2m-2 2l3 1m-2-4l-12 3 2-2m-2 2l3 0m8-46l-12-4 3 0m-3 0l2 2m9 4l-12-4 3 0m-3 0l2 2m96-64l-2-11 2 2m-2-2l-1 3m0 8l0-11 1 2m-1-2l-2 3m44 10l3-11 0 3m0-3l-2 2m-5 8l3-11 1 3m-1-3l-2 2m23 40l9-9-1 3m1-3l-3 1m18 28l10-7-2 3m2-3l-3 0m0-1l10-7-1 3m1-3l-3 1" stroke="#4a5ad0" stroke-opacity="0.8" stroke-width="1.3"/>
<path d="M454 834l-9-1m6 11l-7 3m6 2l-6 5m16-60l-8-1m11 14l-7-2 2-1m-2 1l1 2m7 43l-6 6m7 0l-5 5m8 11l-10 0 2-2m-2 2l2 1m10-98l-8-3m18 6l-8-4 2 0m-2 0l1 2m3 106l-5 10 0-3m0 3l2-2m18 9l-9 4 2-2m-2 2l3 0m18 4l-6 8 1-3m-1 3l3-1m16-175l-2-8 2 2m-2-2l-1 3m8 7l2-11 1 2m-1-2l-1 2m1 173l-6 7m14-160l-5-9m0 174l-2 8m10-18l3 10-2-2m2 2l1-3m7-3l3 8m15-11l-1 12-1-2m1 2l1-2m-1-178l5-9m-2 170l5 9-3-1m3 1l0-2m5-155l0-11 1 2m-1-2l-1 2m1 8l8-6-1 3m1-3l-3 1m3 162l10 6m-2-153l2-11 0 3m0-3l-2 2m-4 135l9 7-2-1m2 1l-1-3m2-136l5-7m-2 25l10-1-2 1m2-1l-2-1m0 96l9 0-2 1m2-1l-2-1m1-91l8-2m-3 16l8-8 0 3m0-3l-2 1m-5 43l10 0-2 1m2-1l-2-1m-3 13l9-4-2 2m2-2l-3 0m-5 5l8 6-3-1m3 1l-1-3m-10 6l10 0-2 1m2-1l-3-1" stroke="#4a5ad0" stroke-opacity="0.7" stroke-width="1.2"/>
<path d="M405 801l-3-4m3 4l3-5m-3 5l4 0m-4 0l3 3m-3-3l-1 4m1-4l-5 1m7 26l-3-3m3 3l0-5m0 5l5-1m-5 1l3 3m-3-3l-2 5m2-5l-4 2m4 16l-3-2m3 2l0-5m0 5l6-2m-6 2l4 4m-4-4l0 6m0-6l-4 2m8 19l-6-1m6 1l-2-4m2 4l4-3m-4 3l3 2m-3-2l0 5m0-5l-4 2m28-126l1-4m-1 4l3-3m-3 3l4 3m-4-3l1 5m-1-5l-3 3m3-3l-5-2m-3 170l-5-1m5 1l-1-4m1 4l4-4m-4 4l4 0m-4 0l3 4m-3-4l-3 3m28-196l1-5m-1 5l4-2m-4 2l3 2m-3-2l-2 5m2-5l-3 2m3-2l-4-3m5 217l-5 1m5-1l-4-4m4 4l2-4m-2 4l4-1m-4 1l2 4m-2-4l-1 5m24-237l2-5m-2 5l5 0m-5 0l2 4m-2-4l-1 4m1-4l-4 1m4-1l-3-2m-2 17l0-5m0 5l4-2m-4 2l3 2m-3-2l-2 4m2-4l-5 1m5-1l-4-3m28-11l2-5m-2 5l5-1m-5 1l4 4m-4-4l-3 5m3-5l-5 2m5-2l-3-4m4 264l-5 2m5-2l-4-2m4 2l1-4m-1 4l4-1m-4 1l3 3m-3-3l0 4m19-7l-4 3m4-3l-4-1m4 1l0-4m0 4l4-3m-4 3l4 2m-4-2l1 5m28-2l-3 4m3-4l-4-2m4 2l-2-3m2 3l4-3m-4 3l5 1m-5-1l1 5m19-266l3-3m-3 3l4 2m-4-2l0 5m0-5l-3 3m3-3l-6-2m6 2l-1-5m-5 262l-3 5m3-5l-5 0m5 0l-1-5m1 5l3-2m-3 2l5 2m-5-2l2 5m27-268l4-1m-4 1l3 4m-3-4l0 5m0-5l-4 2m4-2l-4-2m4 2l0-4m-6 263l-1 5m1-5l-5 0m5 0l-2-4m2 4l3-4m-3 4l4 0m-4 0l4 5m15-3l-2 4m2-4l-4 0m4 0l-2-3m2 3l2-3m-2 3l4-1m-4 1l4 4m19-241l4-1m-4 1l1 4m-1-4l-2 4m2-4l-5 0m5 0l-3-4m3 4l1-6m2 228l1 5m-1-5l-4 2m4-2l-4-3m4 3l1-3m-1 3l5-1m-5 1l4 2m18-203l4-1m-4 1l2 3m-2-3l-3 2m3-2l-4-2m4 2l-2-4m2 4l3-4m-7 175l0 6m0-6l-4 2m4-2l-3 0m3 0l-1-4m1 4l4-4m-4 4l6 2m25-132l5 1m-5-1l1 4m-1-4l-3 2m3-2l-5-1m5 1l0-4m0 4l3-3m-9 72l2 5m-2-5l-1 4m1-4l-4 1m4-1l-1-4m1 4l2-4m-2 4l5 0m0 18l3 4m-3-4l-3 5m3-5l-5 1m5-1l-3-3m3 3l3-3m-3 3l4 1" stroke="#4a5ad0" stroke-opacity="0.6" stroke-width="1.6"/>
<path d="M414 801l-10-3 3-1m-3 1l2 2m6 31l-14-2 3-1m-3 1l3 2m2 23l3-14 1 3m-1-3l-2 2m6 17l8 12-2-2m2 2l0-3m11-118l7-9-1 3m1-3l-3 1m8 22l-13-5 3 0m-3 0l2 2m4-15l-2 16-1-2m1 2l2-2m4 22l-10-6 3 0m-3 0l1 2m10-6l-11 12 1-3m-1 3l3-1m5 24l-10 0 2-2m-2 2l2 1m-4 6l5-15 0 3m0-3l-2 2m5 19l5 16-2-2m2 2l1-2m-6-14l-1 13-1-3m1 3l2-3m-10 24l5-13 0 2m0-2l-2 1m-4 9l3-17 1 3m-1-3l-2 2m11 44l-5-15 2 2m-2-2l-1 3m-9-3l12 11-3 0m3 0l-1-2m3 26l-4-11 2 2m-2-2l0 3m3-7l-10 9 1-2m-1 2l3 0m6 10l-14 7 1-2m-1 2l2 0m22-195l16-5-2 2m2-2l-3 0m6 27l-14 5 2-2m-2 2l3 0m4 4l6-8-1 2m1-2l-3 1m-4 33l5-16 1 3m-1-3l-2 2m3 2l-8-8 3 1m-3-1l1 3m8 17l-5 15 0-3m0 3l2-2m-4-10l-7 10 0-3m0 3l2-1m10 27l-11-6 2 0m-2 0l1 2m6 4l-2-13 2 2m-2-2l-1 3m1 66l-2-13 2 3m-2-3l-1 3m11 16l-10-15 2 1m-2-1l0 3m12 40l-4-13 2 2m-2-2l0 3m9 9l-13-11 3 0m-3 0l1 3m-3 11l7 11-2-1m2 1l0-3m2-4l-10 7 2-3m-2 3l3-1m11 24l-13-10 3 1m-3-1l2 3m25-231l-8-9 3 1m-3-1l1 3m8 26l-11-12 3 1m-3-1l1 3m10 25l-11 8 1-3m-1 3l3 0m6-2l-11 4 1-2m-1 2l2 0m4 16l5-12 1 2m-1-2l-2 1m8 8l-9 6 1-2m-1 2l3 0m-10 125l11 9-3-1m3 1l-1-3m-4 6l-6-9 3 1m-3-1l0 3m5 23l11 4-3 1m3-1l-2-2m5-8l-8 9 1-2m-1 2l3-1m-15 7l11 4-3 1m3-1l-2-2m-11 0l8 7-3 0m3 0l-1-2m19-227l9-6-1 2m1-2l-3 0m-8 16l15-8-2 2m2-2l-3 0m-2 13l-8-15 2 1m-2-1l0 3m14 21l-11 6 2-2m-2 2l3 0m5 9l-7-17 2 2m-2-2l0 3m8 176l-1 10-1-3m1 3l2-2m-3-16l-7 12 0-3m0 3l2-1m4 26l-8-6 2 0m-2 0l1 2m-8 3l11 2-3 1m3-1l-2-2m8 20l-5 11 0-3m0 3l2-2m12-260l17-6-2 2m2-2l-3-1m-13 7l14-3-2 2m2-2l-3-1m5 9l-14 11 1-3m-1 3l2-1m-1 0l10-2-2 2m2-2l-3-1m0 195l-10-8 3 1m-3-1l1 3m7 11l-13-1 2-2m-2 2l2 1m5 14l11 6-3 0m3 0l-2-2m6 3l-13-6 3 0m-3 0l2 2m3 11l-5 13 0-3m0 3l2-2m15-257l10 3-3 1m3-1l-2-2m-5 6l-2-14 2 2m-2-2l-1 2m14 23l2-10 0 3m0-3l-2 2m0 16l-4-16 2 3m-2-3l0 3m-15 15l13 4-2 1m2-1l-2-2m-3 5l-3-10 2 2m-2-2l0 3m6 206l10 0-3 1m3-1l-3-1m0-4l-14 7 1-2m-1 2l2 0m16 21l-15-2 2-1m-2 1l2 2m37-250l-14-10 3 1m-3-1l1 3m-1 15l12 2-3 1m3-1l-2-2m-5 3l9 6-3 0m3 0l-2-3m-8 18l-13-2 2-1m-2 1l2 1m11-3l-14-6 3 0m-3 0l2 2m8 193l9-6-1 2m1-2l-2 0m-7-4l12 3-3 1m3-1l-2-2m-10 15l3 13-2-2m2 2l1-2m0-7l-10 0 2-2m-2 2l2 1m10 23l-14-4 2-1m-2 1l2 2m33-255l2-12 1 2m-1-2l-1 2m-10 30l15 5-3 1m3-1l-2-2m-16 2l12 1-2 1m2-1l-2-1m-8 5l10 8-3-1m3 1l-1-3m11 3l-15-2 3-1m-3 1l3 2m-9 162l8 11-2-1m2 1l0-2m-4-5l7 14-2-2m2 2l0-3m7 25l-11 3 2-2m-2 2l3 0m-5-6l13 0-2 2m2-2l-2-1m-20 18l14-6-2 2m2-2l-3 0m31-220l-12-11 3 0m-3 0l1 2m-3 5l17 2-2 1m2-1l-2-2m-3 15l-11-11 3 1m-3-1l1 3m9 7l-12-3 3 0m-3 0l2 2m14 26l-8-11 2 1m-2-1l0 3m-1 5l8 8-3-1m3 1l-1-3m-2 126l-9 7 1-3m-1 3l2-1m-8-3l14-5-2 2m2-2l-3 0m-11 30l8-11 0 2m0-2l-2 1m-6-6l13 10-3-1m3 1l-1-3m6 11l-7 12 0-3m0 3l3-1m4-11l-10 10 1-2m-1 2l3-1m-14 32l14-8-2 2m2-2l-3 0m24-239l-16-8 3 0m-3 0l2 3m2 24l7-8-1 3m1-3l-3 1m-2 9l13-11-1 3m1-3l-3 1m5 37l-12-9 3 1m-3-1l1 3m1 7l9 7-3-1m3 1l-1-3m8 21l-12-11 3 1m-3-1l1 3m1 3l5 9-2-2m2 2l0-3m-1 8l6 9-2-1m2 1l0-3m-9-6l6 15-2-2m2 2l1-3m-1 42l1-18 1 3m-1-3l-1 3m3 16l-4-14 2 2m-2-2l0 3m-12 23l15 6-2 0m2 0l-1-3m-15-11l12 7-3 0m3 0l-2-3m-4 17l-5 10 0-3m0 3l2-2m-5-6l14 10-3 0m3 0l-1-2m-9 18l9 6-2 0m2 0l-1-3m-5-3l-10 8 1-3m-1 3l3-1m3 24l11-7-1 3m1-3l-3 0m23-189l-4-17 2 2m-2-2l-1 3m7 36l-6-14 2 2m-2-2l0 3m-3 3l4 13-2-2m2 2l1-2m-4 18l11-3-2 2m2-2l-2 0m-8-3l12 13-2-1m2 1l-1-3m-11 20l0-18 1 2m-1-2l-1 2m5 20l-1-14 1 2m-1-2l-1 2m4 18l4 13-2-2m2 2l1-3m-3-6l-4 10 0-3m0 3l2-2m-16 14l14-2-2 2m2-2l-2-1m1-5l-4 17 0-3m0 3l2-2m-6 16l15 10-3 0m3 0l-2-3m-6-10l-5 15-1-3m1 3l2-2m-2 3l9 9-3-1m3 1l-1-3m-5 11l12-8-1 2m1-2l-3 0m-19 29l4-11 1 3m-1-3l-2 2m39-129l-7-11 2 1m-2-1l0 3m-7 22l4 14-2-2m2 2l1-3m-2 3l-1-14 1 2m-1-2l-1 2m-7 16l9 15-3-1m3 1l0-3m3 7l-7-14 3 1m-3-1l0 3m7 18l3 16-2-2m2 2l1-3m4 8l-2 17-1-2m1 2l2-2" stroke="#4a5ad0" stroke-opacity="0.65" stroke-width="1.4"/>
<path d="M433 758l0-7m0 7l5-3m-5 3l6 3m-6-3l1 6m-1-6l-4 5m4-5l-6-1m4 22l-3-6m3 6l4-3m-4 3l5 1m-5-1l1 6m-1-6l-3 5m3-5l-5-1m1 31l-3-6m3 6l3-5m-3 5l6-1m-6 1l3 4m-3-4l-2 6m2-6l-6 0m15 19l-4-3m4 3l2-5m-2 5l5 0m-5 0l4 4m-4-4l-1 5m1-5l-6 1m-2 17l-5-5m5 5l-1-6m1 6l6-4m-6 4l4 4m-4-4l1 5m-1-5l-5 4m7 20l-4-1m4 1l-2-5m2 5l4-4m-4 4l6 2m-6-2l0 6m0-6l-6 4m7 16l-6-2m6 2l0-4m0 4l4-5m-4 5l6 0m-6 0l1 5m-1-5l-3 3m28-155l0-5m0 5l5-2m-5 2l4 4m-4-4l-1 6m1-6l-5 3m5-3l-5-1m4 24l-1-5m1 5l6-3m-6 3l7 2m-7-2l0 7m0-7l-4 3m4-3l-4 0m1 19l-3-5m3 5l5-4m-5 4l4 3m-4-3l1 6m-1-6l-4 4m4-4l-5 0m5 25l-2-4m2 4l4-4m-4 4l5-1m-5 1l2 5m-2-5l-2 6m2-6l-6 2m6 59l-5-1m5 1l-2-4m2 4l4-4m-4 4l5 3m-5-3l1 6m-1-6l-5 4m9 23l-6 0m6 0l-3-6m3 6l3-5m-3 5l5 0m-5 0l1 5m-1-5l-5 4m4 14l-5 1m5-1l-2-7m2 7l4-5m-4 5l6 1m-6-1l3 4m-3-4l-3 4m21-174l0-5m0 5l4-3m-4 3l4 4m-4-4l0 5m0-5l-6 2m6-2l-4-4m6 21l-1-7m1 7l6-3m-6 3l6 3m-6-3l0 7m0-7l-5 2m5-2l-4-2m4 137l-7 0m7 0l-4-6m4 6l1-5m-1 5l5-1m-5 1l2 4m-2-4l-5 5m9 21l-4 2m4-2l-3-3m3 3l1-6m-1 6l7 0m-7 0l5 3m-5-3l-2 4m-5 8l-7 0m7 0l-4-6m4 6l0-6m0 6l4-1m-4 1l2 4m-2-4l-3 5m29-217l1-6m-1 6l6-3m-6 3l3 3m-3-3l-2 6m2-6l-6 0m6 0l-4-4m3 20l1-5m-1 5l6 0m-6 0l3 6m-3-6l-3 6m3-6l-6 0m6 0l-5-4m7 181l-5 1m5-1l-3-4m3 4l2-7m-2 7l5-3m-5 3l4 4m-4-4l-2 5m-5 17l-5 3m5-3l-5-6m5 6l1-5m-1 5l5-3m-5 3l4 2m-4-2l-2 5m27-238l3-4m-3 4l6 2m-6-2l2 5m-2-5l-4 5m4-5l-6-1m6 1l-3-6m1 20l2-6m-2 6l6-1m-6 1l2 4m-2-4l-3 4m3-4l-5-1m5 1l-5-6m3 205l-4 3m4-3l-4-4m4 4l1-7m-1 7l6-4m-6 4l6 4m-6-4l2 5m7 14l-6 3m6-3l-4-2m4 2l0-6m0 6l4-3m-4 3l5 2m-5-2l-1 6m17-239l5-5m-5 5l5 2m-5-2l3 5m-3-5l-3 3m3-3l-5-2m5 2l0-6m5 21l5-4m-5 4l5 1m-5-1l0 5m0-5l-5 4m5-4l-4-2m4 2l-3-7m-2 27l4-4m-4 4l6 3m-6-3l2 7m-2-7l-4 5m4-5l-5 0m5 0l-2-5m6 206l-4 3m4-3l-6-2m6 2l-2-5m2 5l4-4m-4 4l7 0m-7 0l1 6m21-221l3-3m-3 3l4 3m-4-3l1 4m-1-4l-6 3m6-3l-7-3m7 3l-1-7m-4 24l5-2m-5 2l4 2m-4-2l-1 6m1-6l-4 3m4-3l-7-2m7 2l0-5m1 184l-3 4m3-4l-4 1m4-1l-1-4m1 4l4-4m-4 4l6-1m-6 1l3 7m-6 10l-4 4m4-4l-6 1m6-1l-2-4m2 4l3-4m-3 4l7 2m-7-2l3 5m23-216l7-2m-7 2l5 4m-5-4l0 7m0-7l-4 2m4-2l-4-3m4 3l1-6m0 22l7-1m-7 1l4 3m-4-3l-1 7m1-7l-5 2m5-2l-5-4m5 4l3-6m-8 179l-2 4m2-4l-6 0m6 0l-5-5m5 5l2-5m-2 5l4-1m-4 1l4 4m2 24l-3 6m3-6l-5 2m5-2l-5-4m5 4l0-5m0 5l6-1m-6 1l2 7m20-224l7-2m-7 2l5 4m-5-4l-2 6m2-6l-6 2m6-2l-5-4m5 4l1-6m0 20l6 0m-6 0l5 4m-5-4l-2 4m2-4l-5 0m5 0l-5-5m5 5l2-6m-5 33l5 1m-5-1l2 7m-2-7l-3 5m3-5l-5 0m5 0l-3-4m3 4l3-3m-5 135l0 6m0-6l-6 4m6-4l-5-5m5 5l0-7m0 7l4-3m-4 3l4 2m-4 15l-2 5m2-5l-5 2m5-2l-6-4m6 4l1-5m-1 5l6-1m-6 1l3 5m-1 14l-3 6m3-6l-6 4m6-4l-4-3m4 3l3-5m-3 5l6-2m-6 2l4 4m13-200l7-1m-7 1l3 4m-3-4l-1 5m1-5l-5 1m5-1l-4-4m4 4l2-5m0 34l7-1m-7 1l1 5m-1-5l-3 4m3-4l-4-2m4 2l-3-5m3 5l4-3m1 25l6 3m-6-3l2 5m-2-5l-4 4m4-4l-5-2m5 2l1-7m-1 7l5-3m-2 19l6 2m-6-2l-1 4m1-4l-6 3m6-3l-5-2m5 2l1-6m-1 6l5-3m-6 48l5 5m-5-5l-3 5m3-5l-7 0m7 0l-3-4m3 4l3-4m-3 4l7 1m-10 17l3 5m-3-5l-5 5m5-5l-5 0m5 0l-4-5m4 5l4-5m-4 5l5 0m-5 22l1 4m-1-4l-5 4m5-4l-5-2m5 2l-2-6m2 6l5-4m-5 4l6 0m-10 26l1 6m-1-6l-5 4m5-4l-5-2m5 2l1-6m-1 6l3-3m-3 3l4 3m20-157l5 1m-5-1l3 6m-3-6l-4 3m4-3l-6-1m6 1l0-5m0 5l3-4m1 31l4 3m-4-3l2 5m-2-5l-5 2m5-2l-4-3m4 3l0-5m0 5l4-2m-5 19l3 4m-3-4l0 6m0-6l-5 5m5-5l-4-3m4 3l1-5m-1 5l6-2m-5 26l4 3m-4-3l-3 6m3-6l-4 1m4-1l-4-4m4 4l1-6m-1 6l6-2m-13 22l3 6m-3-6l-1 5m1-5l-4 1m4-1l-2-4m2 4l4-5m-4 5l6 0m-5 21l1 7m-1-7l-3 6m3-6l-6 0m6 0l-4-6m4 6l3-3m-3 3l4 1m1 21l2 6m-2-6l-3 2m3-2l-5-3m5 3l0-7m0 7l5-4m-5 4l5 0m11-84l4 2m-4-2l0 4m0-4l-4 2m4-2l-4-5m4 5l1-6m-1 6l7-2m-6 19l3 3m-3-3l-1 5m1-5l-5 1m5-1l-5-4m5 4l2-7m-2 7l5-1" stroke="#4a5ad0" stroke-opacity="0.55" stroke-width="1.6"/>
<path d="M622 834l11 1-2 1m2-1l-2-2m-9-1l12 0-3 1m3-1l-3-2m1 3l11 1-2 1m2-1l-2-2m-11 27l11 5-3 0m3 0l-2-3m-9-4l13 2-3 1m3-1l-3-2m-104 53l0 12-1-3m1 3l2-3m1 2l0 12-1-2m1 2l2-3m-24-16l-4 12 0-2m0 2l2-2m-27-28l-7 7 1-3m-1 3l3-1m-24-26l-11 6 2-3m-2 3l3 0m0 2l-11 7 2-2m-2 2l3 0m15-57l-12 1 2-1m-2 1l3 2m7-43l-12-3 3-1m-3 1l2 2m21-25l-7-7 3 0m-3 0l1 3m32-8l-6-11 2 2m-2-2l0 3m5 9l-8-10 2 1m-2-1l0 3m46-3l-1-11 2 3m-2-3l-1 3m85 38l10-6-2 2m2-2l-3 0m0 29l11-4-2 2m2-2l-3 0" stroke="#6f86e0" stroke-opacity="0.8" stroke-width="1.3"/>
<path d="M454 810l-12-1m8 32l-7 2 2-2m-2 2l2 1m11-42l-6-6m8 10l-9-3 3 0m-3 0l2 2m15-3l-9-4 3 0m-3 0l2 2m5 14l-11-4 3 0m-3 0l2 2m9 23l-7-1m11 49l-2 8m19-124l-8-3m6 124l-2 10m8-146l-8-4m9 12l-2-12m3 17l-4-7m2 127l-2 12 0-2m0 2l2-2m3-135l-1-9 1 2m-1-2l-1 2m14-2l-8-6 2 0m-2 0l1 2m4 148l-2 8m11-152l-4-9 2 1m-2-1l0 2m11 1l-8-7m8 15l-4-9m2 170l-2 8m7-168l-5-9m11-7l-3-7 2 1m-2-1l0 2m5 13l-2-9m12 1l3-8m-1 180l0 8-2-2m2 2l1-2m1-1l-4 7 0-2m0 2l2-1m7-182l3-12m6 19l4-8 0 2m0-2l-2 1m1 13l0-7m10 156l5 8-3-1m3 1l0-3m-2 5l6 4m0-20l2 7m5-148l6-7m-6 152l1 11m6-15l3 7-2-2m2 2l0-3m2-137l6-4-1 2m1-2l-2 0m-4 124l9 7m-11 11l7 4-2 0m2 0l-1-2m3-21l3 8m3-124l8-3-2 2m2-2l-2-1m-7 115l4 8m0-78l10 1m-7 26l9 3-2 0m2 0l-1-2m-7 8l8 0m-10 5l8-1-2 1m2-1l-2-1m-2 26l5 5m-3-76l7-2-2 2m2-2l-3-1m-4 34l11 3m-13 11l10 3-3 0m3 0l-2-2m1-36l9-3m-9 24l8-4m-9 22l11 4-3 1m3-1l-2-2" stroke="#6f86e0" stroke-opacity="0.7" stroke-width="1.2"/>
<path d="M417 807l-16-7 2 0m-2 0l1 2m9 30l-13 2 2-2m-2 2l2 1m17 8l-12 4 2-2m-2 2l3 1m2 9l8 10-3-1m3 1l-1-3m23-119l-9 6 1-3m-1 3l3 0m-4 16l3-17 1 2m-1-2l-2 2m-3 11l14-8-2 2m2-2l-3 0m-5-2l-6 8 0-2m0 2l2-1m3 15l-9 11 0-3m0 3l2-1m13-6l-16-2 2-1m-2 1l2 1m11 9l1-10 1 3m-1-3l-2 3m0 34l-16-6 3-1m-3 1l2 2m7-7l-4 9 0-3m0 3l3-2m10 1l-15-6 2 0m-2 0l1 2m18 25l-18-2 2-1m-2 1l2 1m16-1l-17 2 2-1m-2 1l3 1m15 0l-13-1 3-2m-3 2l2 1m-7 7l3 14-2-2m2 2l1-3m5-9l-17-1 2-1m-2 1l2 1m15-6l-1 18-1-3m1 3l1-3m0 27l-7-8 3 1m-3-1l1 3m-1 0l-1-15 1 3m-1-3l-1 3m13 14l-7-14 2 1m-2-1l0 3m7 27l-12-12 2 1m-2-1l0 3m13 18l-5-15 2 2m-2-2l0 3m-4-4l12 10-3-1m3 1l-1-3m-18 13l5 16-2-2m2 2l0-3m29-197l-8-7 3 1m-3-1l1 3m-2 26l12-3-2 2m2-2l-3-1m1 2l-8-12 3 1m-3-1l1 2m0 9l8-10 0 3m0-3l-2 1m-10 34l9-13 0 3m0-3l-2 1m7 17l-11-6 2 0m-2 0l1 3m11 1l-12-13 2 1m-2-1l0 3m4 16l-8 14 0-3m0 3l2-1m4-15l-8 15 0-3m0 3l3-1m9-4l-15-6 3 0m-3 0l2 2m4 34l8-14 0 3m0-3l-2 1m11 13l-12-7 3 0m-3 0l1 2m7-3l-15-3 3-1m-3 1l2 2m3 72l-2-11 1 2m-1-2l-1 3m11 7l-8-10 2 1m-2-1l0 3m-6-3l10 8-3 0m3 0l-1-2m-4 11l8 15-2-1m2 1l0-3m-1-1l5 12-2-2m2 2l0-3m2 3l-3-16 2 2m-2-2l-1 2m0 21l-8 8 1-3m-1 3l3-1m-2-4l12 4-3 1m3-1l-2-2m-10-8l14 5-3 0m3 0l-2-2m-11 29l-4-11 2 2m-2-2l-1 3m29-235l-8 7 1-3m-1 3l3-1m5 17l-4-15 2 2m-2-2l-1 3m-3 35l10-11-1 3m1-3l-3 1m-2 3l-5 11 0-3m0 3l2-2m9-1l-15-11 3 1m-3-1l1 3m10 17l-7 12 0-3m0 3l2-1m6-11l-9 7 1-3m-1 3l3-1m13-6l-13 7 2-3m-2 3l3 0m3 132l6 14-2-2m2 2l0-3m-8-17l6 13-2-2m2 2l0-3m-3-9l-7 9 0-3m0 3l2-1m2 23l12 7-3 0m3 0l-2-2m2-3l-12-2 3-1m-3 1l2 2m11 8l-11-10 3 0m-3 0l1 2m1 8l-13 11 1-3m-1 3l3-1m11-2l-17-5 3-1m-3 1l2 2m20 4l-15-4 3-1m-3 1l2 2m22-229l14 2-2 1m2-1l-2-2m5 15l-16 0 2-1m-2 1l2 2m2-2l-2-12 2 2m-2-2l-1 3m2 16l-5-18 2 2m-2-2l0 3m11 16l-8 9 1-3m-1 3l3-1m1-1l-11 2 2-2m-2 2l2 0m17-5l-13 8 1-3m-1 3l3 0m9 177l-14-3 3-1m-3 1l2 2m14 0l-13-12 2 1m-2-1l1 3m8-2l-6 13 0-3m0 3l2-2m0 17l-8-7 2 0m-2 0l1 2m-9 1l11 2-2 1m2-1l-2-2m-10 4l12 1-3 1m3-1l-3-1m14 28l-16-7 3 0m-3 0l2 3m21-256l13-9-1 3m1-3l-2 0m-13 5l16-1-2 2m2-2l-2-1m-16 7l12-2-2 2m2-2l-3-1m-9 24l12-10-1 3m1-3l-2 0m-4 12l1-16 1 2m-1-2l-2 2m4 11l-4-10 2 2m-2-2l0 3m8 200l-11-4 3 0m-3 0l2 2m0-5l-2 15-1-3m1 3l2-3m8-2l-15 1 2-2m-2 2l2 1m16 12l-14 1 3-2m-3 2l3 1m9-6l-1 15-1-3m1 3l2-3m-4-12l13 5-3 0m3 0l-2-2m-24 26l11 1-3 1m3-1l-3-2m18-256l16-2-3 1m3-1l-3-1m-15 1l18 3-3 1m3-1l-2-2m-10-6l15 6-3 0m3 0l-2-2m-11 24l2-17 1 3m-1-3l-2 3m5 19l0-15 2 3m-2-3l-1 3m10 1l-15-3 3-1m-3 1l2 2m2 26l0-15 1 2m-1-2l-1 2m6 3l-10 3 2-2m-2 2l3 1m2-1l-13 4 2-2m-2 2l3 1m10 191l4 15-2-2m2 2l1-3m-6-14l1 14-2-3m2 3l1-3m1-5l-10-3 3-1m-3 1l2 2m12 24l-16 3 2-2m-2 2l3 1m33-264l-16 0 3-1m-3 1l3 1m9 30l0-13 1 2m-1-2l-1 2m-4 6l16-3-2 2m2-2l-3 0m-8 12l-1-13 2 3m-2-3l-1 3m-7 13l8 7-2-1m2 1l-1-3m4 4l-8-5 3 0m-3 0l1 2m2 4l1-16 1 2m-1-2l-2 2m-1 178l-1 14-1-3m1 3l1-2m5-14l1 14-2-2m2 2l1-2m-13-3l13-1-3 1m3-1l-3-1m2 23l-17 6 2-2m-2 2l3 1m15-8l-9 3 2-2m-2 2l2 0m-1-11l-1 12-1-3m1 3l2-2m-10 20l15-2-2 2m2-2l-2-1m28-255l-11-6 2 0m-2 0l1 3m-3 28l12 11-3-1m3 1l-1-3m-6-9l9 11-3-1m3 1l-1-3m-11-8l14 4-3 1m3-1l-2-2m-9 23l11-12-1 2m1-2l-3 1m-7-4l12 5-3 0m3 0l-2-2m-10 8l7-12 0 2m0-2l-3 1m-3 172l-8 8 1-3m-1 3l3-1m-3-4l6 14-2-2m2 2l1-3m-2-6l8-8-1 3m1-3l-3 1m7 30l-11 12 0-3m0 3l2-1m9-4l-12 0 2-1m-2 1l2 2m12-3l-15 8 2-3m-2 3l3 0m0 7l-12 2 2-2m-2 2l3 1m40-232l-7-12 2 1m-2-1l0 3m5 5l-17-1 3-1m-3 1l3 1m10 3l5-12 1 3m-1-3l-2 2m-11 24l14 4-2 0m2 0l-2-2m-5-1l9-9-1 2m1-2l-3 0m-15 5l15 2-3 1m3-1l-3-2m-1 33l-5-12 2 2m-2-2l-1 3m3 8l-10-10 3 1m-3-1l1 3m6-1l13 8-3-1m3 1l-2-3m-15 127l11 9-3 0m3 0l-1-2m6-11l-12 7 1-3m-1 3l3 0m10-4l-14 5 2-2m-2 2l2 1m0 8l-11 6 2-2m-2 2l3 0m15-1l-6 10 0-3m0 3l3-1m-10-2l7-10-1 3m1-3l-3 1m1 28l8-7-1 3m1-3l-3 1m-2 7l7-8-1 3m1-3l-3 1m-11-1l17-4-2 2m2-2l-3-1m-17 32l12-6-2 3m2-3l-3 0m30-234l-17-5 3-1m-3 1l2 2m-4 27l8-8-1 2m1-2l-3 0m1-4l10 9-3-1m3 1l-1-3m1 8l-13-10 3 0m-3 0l1 2m14 37l-10-6 2 0m-2 0l1 2m-8-8l7 14-2-1m2 1l0-3m-1-2l-5-12 2 2m-2-2l-1 3m5 17l11 12-3-1m3 1l-1-3m1-2l1 13-2-2m2 2l1-3m-9-15l8 15-2-2m2 2l0-3m-5 17l-1-16 1 2m-1-2l-1 3m6-3l4 16-2-2m2 2l1-3m-7-9l7 9-2-1m2 1l0-3m-17 45l15 5-3 1m3-1l-2-2m4-8l-6 16-1-3m1 3l2-2m-6-11l10 5-3 0m3 0l-1-2m-6 16l-7 12 0-3m0 3l2-2m10-13l-6 12 0-3m0 3l2-2m-13-3l11 2-2 1m2-1l-2-2m7 20l-9 4 1-2m-1 2l3 0m-4 4l7-10 0 2m0-2l-2 1m-4-11l-2 17-1-3m1 3l2-2m-7 20l11 8-3-1m3 1l-1-3m-11 3l6-12 0 3m0-3l-2 2m-6 16l12-13-1 3m1-3l-3 1m7 19l-10 14 0-3m0 3l3-2m24-196l-5-12 2 2m-2-2l-1 3m2 10l9 16-2-2m2 2l0-3m-7 0l10-3-2 2m2-2l-3-1m-12-2l9 15-3-1m3 1l0-3m-1 8l3 16-2-2m2 2l0-3m2 0l-6-10 2 1m-2-1l0 3m-5 11l11-4-2 2m2-2l-3 0m2 12l-2 15-1-3m1 3l1-3m1-16l-2 13-1-3m1 3l1-2m1-10l3 16-2-2m2 2l1-3m-12 15l6 12-2-2m2 2l0-3m-1-11l14 4-3 0m3 0l-2-2m-13-3l13 0-3 2m3-2l-3-1m-19 33l2-10 1 3m-1-3l-2 2m8-9l-4 12-1-3m1 3l2-2m-2-2l-7 9 1-2m-1 2l3-1m4 8l-3 10-1-3m1 3l2-2m2 4l2-10 1 2m-1-2l-2 2m-4 2l15 3-2 1m2-1l-2-2m0 15l-7 9 1-3m-1 3l3-2m-4 2l13 4-3 0m3 0l-2-2m1-8l-12 9 1-3m-1 3l3 0m1 14l-12 10 1-3m-1 3l3-1m41-131l-6-12 2 1m-2-1l0 2m-12 38l1-15 1 2m-1-2l-2 2m-6 7l17 1-2 1m2-1l-2-2m-2-16l1 18-2-3m2 3l1-3m-8 17l17 1-2 1m2-1l-2-2m-15-8l0 13-2-2m2 2l1-2m-4 7l6-13 0 3m0-3l-3 2m1 23l13 5-3 1m3-1l-2-2m8 16l-11 13 0-3m0 3l2-1" stroke="#6f86e0" stroke-opacity="0.65" stroke-width="1.4"/>
<path d="M676 829l0-6 1 2m-1-2l-1 2m1 13l0 6-1-2m1 2l1-2m-1 15l1-5 0 2m0-2l-1 1m-6 17l-2 6 0-2m0 2l2-2m-2 8l2-6 0 2m0-2l-2 1m-9 19l3-5 0 2m0-2l-2 1m-13 17l4-5 0 2m0-2l-2 1m-8 16l-4 4 0-1m0 1l2 0m-6 2l5-4-1 2m1-2l-2 0m-17 14l5-4-1 2m1-2l-2 0m-11 12l5-3-1 2m1-2l-2 0m-16 9l6-3-1 2m1-2l-2 0m-17 10l-5 2 1-2m-1 2l2 0m-18 0l-5 2 1-2m-1 2l1 0m-10 3l-6 1 2-1m-2 1l2 1m-10-4l6 0-2 1m2-1l-2-1m-15 2l-6-1 1-1m-1 1l1 1m-10-3l6 1-2 0m2 0l-1-1m-17-5l-5-2 2 0m-2 0l1 2m-13-7l-5-2 2 0m-2 0l1 1m-10-3l-5-3 2 0m-2 0l1 1m-2-2l5 3-2 0m2 0l-1-1m-16-14l5 4-2 0m2 0l-1-1m-14-9l4 4-1 0m1 0l0-2m-15-21l3 5-1-1m1 1l0-2m-13-13l3 5-2-1m2 1l0-2m-6-13l-2-6 1 1m-1-1l0 2m-4-9l-2-6 1 2m-1-2l-1 2m-1-8l1 6-1-2m1 2l1-2m-2-22l1 6-1-2m1 2l0-2m-5-22l0-6 1 2m-1-2l-1 2m3-7l0 6-1-2m1 2l1-1m2-21l1-6 1 2m-1-2l-1 2m4-5l2-6 0 2m0-2l-2 2m5-16l-3 6 0-2m0 2l2-2m7-14l3-5 0 2m0-2l-2 1m8-7l3-5 0 2m0-2l-1 1m7-9l4-4-1 2m1-2l-2 0m6-4l4-4 0 2m0-2l-2 1m12-6l-5 4 1-2m-1 2l2-1m13-10l5-3-1 2m1-2l-2 0m10-2l6-3-1 2m1-2l-2 0m6-3l-6 2 2-1m-2 1l2 0m22-6l6-1-2 1m2-1l-2-1m11-2l-6 1 2-1m-2 1l2 1m19-2l6 1-2 0m2 0l-2-1m8 2l5 1-1 1m1-1l-1-1m10 2l-6-1 2 0m-2 0l2 2m18 1l-6-2 2-1m-2 1l2 1m15 7l-5-2 2 0m-2 0l1 1m23 8l6 3-2 0m2 0l-1-2m7 8l-5-4 2 0m-2 0l1 2m10 10l5 4-2-1m2 1l-1-2m9 7l-4-4 2 0m-2 0l0 1m12 17l-4-5 2 1m-2-1l1 2m13 14l3 6-1-1m1 1l0-2m-2 5l-2-6 1 2m-1-2l-1 2m13 20l2 6-2-1m2 1l0-2m-1 13l2 6-2-2m2 2l0-2m0 7l0-6 1 2m-1-2l-1 2" stroke="#6f86e0" stroke-opacity="0.6" stroke-width="1.2"/>
<path d="M572 830l10 0-3 2m3-2l-3-1m34 4l10 0-2 2m2-2l-2-1m11 2l11 2-3 1m3-1l-2-2m-60 5l13 4-3 0m3 0l-3-2m11 8l10 3-3 1m3-1l-2-2m1 3l9 3-3 1m3-1l-2-2m2 1l11 3-3 1m3-1l-2-2m-9-3l11 5-3 0m3 0l-1-3m-47 6l9 5-3 0m3 0l-1-2m10 7l9 6-3 0m3 0l-2-3m0 4l9 5-3 0m3 0l-2-2m0 3l9 7-3 0m3 0l-1-2m-45-4l7 10-3-2m3 2l-1-3m-4-8l7 9-3-1m3 1l-1-3m4 11l6 11-2-2m2 2l0-3m-4-9l7 10-3-1m3 1l0-3m-49-45l3 10-2-2m2 2l1-3m1 11l4 12-2-2m2 2l1-3m7 20l4 11-2-2m2 2l0-3m-1 2l4 11-3-3m3 3l0-3m-34-81l-1 12-2-3m2 3l1-3m-2 12l-1 13-1-3m1 3l2-3m1 13l-1 11-1-3m1 3l1-2m-4 21l-1 13-2-3m2 3l1-2m-14-37l-3 11-1-3m1 3l2-2m-6 11l-4 12-1-3m1 3l2-2m5-65l-7 7 1-3m-1 3l3-1m-12 16l-7 9 1-3m-1 3l3-1m-9 8l-7 7 1-3m-1 3l3-1m-3 0l-7 8 1-3m-1 3l3-1m6-6l-7 9 1-3m-1 3l3-2m26-63l-11 7 2-3m-2 3l3-1m-10 7l-9 7 1-3m-1 3l3-1m-4-2l-11 6 2-2m-2 2l3 0m10-4l-11 7 1-3m-1 3l3-1m2-29l-11 2 2-2m-2 2l3 1m-12 0l-10 2 2-2m-2 2l3 1m64-20l-11 2 3-2m-3 2l3 1m-34 2l-11 0 3-1m-3 1l2 2m-12 0l-12-1 3-1m-3 1l3 2m47-33l-11-3 3-1m-3 1l3 2m-22-8l-11-5 3 0m-3 0l2 2m80 22l-10-9 3 1m-3-1l1 3m-41-35l-10-7 3 0m-3 0l2 2m7 7l-11-7 3 0m-3 0l2 3m57 28l-6-11 2 1m-2-1l0 3m-12-19l-8-10 3 1m-3-1l0 3m0-1l-7-8 3 1m-3-1l1 3m-4-14l-7-10 3 1m-3-1l0 3m48 58l-5-10 3 2m-3-2l0 3m-7-21l-5-9 3 2m-3-2l0 3m1-2l-6-11 3 2m-3-2l0 3m5 9l-5-12 2 2m-2-2l0 3m2-3l-6-11 3 2m-3-2l0 3m29 16l0-12 1 3m-1-3l-2 3m4-2l-1-11 1 3m-1-3l-1 3m1-2l-1-11 2 2m-2-2l-1 3m16 80l4-11 0 3m0-3l-2 2m6-22l4-9 1 3m-1-3l-2 2m1-1l2-12 1 3m-1-3l-2 2m3-1l4-10 0 3m0-3l-3 2m-3 8l2-11 1 3m-1-3l-2 2m5 0l4-12 1 3m-1-3l-2 2m-4 10l4-12 1 3m-1-3l-2 2m3-1l2-12 1 3m-1-3l-2 3m14 46l6-10 0 3m0-3l-3 2m-5 6l7-8 0 3m0-3l-2 1m9-7l7-10 0 3m0-3l-2 1m0-1l6-8 0 3m0-3l-2 1m-20 57l9-5-2 3m2-3l-3 0m2 0l9-5-2 3m2-3l-3 0m10-6l9-6-1 2m1-2l-3 0m12-5l9-7-1 3m1-3l-3 0m-60 51l12-4-2 2m2-2l-3 0m3 2l11-3-2 2m2-2l-3 0m-9 0l11-4-2 3m2-3l-3 0m11-1l11-5-2 3m2-3l-3 0m3 4l12-3-2 2m2-2l-3-1m1 0l11-4-2 2m2-2l-3-1m2 0l9-4-1 2m1-2l-3-1" stroke="#62b4ec" stroke-opacity="0.8" stroke-width="1.3"/>
<path d="M450 803l-6-3 2 0m-2 0l1 2m8 15l-9-2m7 13l-8 1m9 27l-9 4m17-76l-8-2m7 8l-10-3m8 27l-10-4 2-1m-2 1l1 2m10 12l-7 4m9 4l-12 4 2-2m-2 2l3 0m8 5l-7-3 2 0m-2 0l2 2m7 7l-10 1 2-1m-2 1l2 1m4 4l-6 4m5 3l-8 9 1-3m-1 3l3-1m5 0l-6 7m15-100l-10-2m8 16l-6-4m10 12l-11-4 2-1m-2 1l1 2m8 46l-10-3m8 10l-8 2 2-2m-2 2l2 1m11-80l-3-7 2 2m-2-2l0 3m8 17l-8-2m7 6l-10-1 2-1m-2 1l2 1m4 7l-5-5 3 0m-3 0l1 2m5 38l-7-3m9 7l-8 0m9 19l-9-1 2-1m-2 1l2 2m5 15l-9 0 2-1m-2 1l2 1m7 1l-7 1m11 6l-10 1 2-2m-2 2l2 1m5 7l-6 8m12-132l-5-6m8 10l-8-3m7 19l-9-8m8 35l-6-5m8 7l-9 1 2-1m-2 1l2 1m8 46l-11 1 2-1m-2 1l2 1m5 9l-5 6 1-2m-1 2l3-1m2 3l-7 2m8 9l-9 2 2-2m-2 2l3 0m13-138l-6-9m6 16l-6-10 2 1m-2-1l0 3m5 10l-6-8m7 51l-8-2 3-1m-3 1l2 2m7 21l-7-4m4 62l-7 5m11-121l-1-8 2 2m-2-2l-1 3m8 22l-10-2 2-1m-2 1l2 2m6 46l-10-1m11 10l-10 6 1-2m-1 2l2 0m10 3l-9 5m5 48l-3 6m11-160l-9-6 3 0m-3 0l1 2m8 18l-5-8m3 22l-5-6 3 1m-3-1l1 2m3 44l-7-4 3 0m-3 0l2 2m10 54l-9 5m4 7l-2 9 0-3m0 3l2-3m0 0l-7 6m13 3l-10 5 1-2m-1 2l3 0m-1 2l-1 7m10-167l0-9m2 47l-5-7m8 94l-9 4 2-2m-2 2l3 1m3 8l-4 6 0-3m0 3l2-1m0 16l0 10-2-3m2 3l1-2m7-165l-5-9 2 1m-2-1l0 3m1 18l-2-10 2 2m-2-2l-1 3m3 34l-3-8 2 2m-2-2l0 2m8 33l-7 0 2-1m-2 1l2 1m5 21l-8-1m9 4l-8 8m9 11l-9 6m7 15l-7 4 2-3m-2 3l3 0m5 3l-7 9 0-3m0 3l2-1m3 18l-4 8m12-152l-7-6m5 9l-2-7m1 127l-6 7m8 4l-8 8m13-164l-3-7m4 37l-6-10m5 12l-4-6m6 38l-7-3m7 84l-7 7m4 15l-4 5m3 1l2 9-1-2m1 2l1-2m5-143l-2-11 1 2m-1-2l-1 2m-1 83l1 7m0 26l3 7m-3 15l-1 7m10-183l4-9 0 3m0-3l-3 2m1 9l-5-7m1 18l0-11m-1 17l2-9m2 55l-5-5m7 22l-3-6m3 94l-6 8 1-3m-1 3l3-1m8-167l-2-9 2 2m-2-2l-1 2m0 22l3-10m3 122l-5 8m2 8l-5 8 0-3m0 3l2-1m0 8l0 9-1-2m1 2l1-2m4-157l5-7m-6 72l9-6-1 2m1-2l-3 0m-7 24l6 7-2-1m2 1l0-2m-7 8l7 10m-1 0l-3 7 0-3m0 3l2-2m-3 51l4 7-2-1m2 1l0-3m5-176l-1-12 2 2m-2-2l-1 2m3 15l-1-9 2 2m-2-2l-1 2m2 24l-2-8 2 2m-2-2l-1 3m0 78l11 2-3 1m3-1l-2-2m-10 6l9 7m-5 24l4 8-2-2m2 2l0-3m-6 37l4 7-2-2m2 2l0-3m6-182l1-8 1 3m-1-3l-1 2m-8 73l10-7-1 3m1-3l-2 1m-5 25l7-2m-5 46l4 8m-5 29l2 7m-2 2l5 7-3-1m3 1l-1-2m1-173l6-7m-2 10l5-6-1 3m1-3l-2 1m-5 99l6 10-2-1m2 1l0-2m-3 26l2 9-2-2m2 2l0-2m0 24l-2 10-1-2m1 2l2-2m-1-1l-3 10m3-140l8-5-1 3m1-3l-3 0m2-21l4-7m-4 110l5 5m-3 34l2 10m4-153l7-9 0 2m0-2l-2 1m-4 13l1-9 1 3m-1-3l-2 3m-1 21l9-4m-9 21l8-5-1 3m1-3l-2 0m-8 40l11-5-1 2m1-2l-2 0m-5 57l3 9m-3 7l2 8m3-155l6-7-1 3m1-3l-3 1m-3 20l7-6 0 2m0-2l-2 0m-6 10l5-5m-5 10l7-4m-6 19l5-5-1 2m1-2l-2 1m-6 73l9 3-3 1m3-1l-2-2m-5 9l8 1-2 1m2-1l-2-1m1-95l6-7-1 3m1-3l-3 1m-3 15l10-1-2 1m2-1l-3-1m-7 39l8 0m-8 11l11-1m-7-65l10-5m-4 13l6-7-1 3m1-3l-3 1m-3 18l6-4-1 2m1-2l-3 0m-5 22l8-5-1 2m1-2l-3 0m-6 31l7 2m-7 26l7 10m-7-2l8 7-2-1m2 1l-1-3m-6 7l7 7-2-1m2 1l-1-3m-3-111l10-2-2 1m2-1l-3-1m-6 8l11-1m-8 14l6-7 0 2m0-2l-2 1m-5 8l9-5-1 3m1-3l-2 0m-8 53l9 4m-8 8l10 1m-8 33l6 5-2 0m2 0l0-2m-5-101l9-6-1 2m1-2l-2 0m-5 14l8-6m-9 10l8-8 0 3m0-3l-2 1m-6 15l10-7m-6 18l8-3-1 2m1-2l-2-1m-10 19l9-5-2 3m2-3l-3 0m-8 25l11 4-2 0m2 0l-1-2m-8 8l12 2-3 1m3-1l-2-1m-9 6l9 3m-5 5l7 8m-4-100l9-6m-8 19l9-3-2 2m2-2l-2 0m-5 16l8-3m-12 9l9-6m-11 33l11-1-2 2m2-2l-2-1m-7 15l8 0m-10 2l12 1m-1-56l8 0m-7 11l8-1m-9 7l10-1-2 2m2-2l-2-1" stroke="#62b4ec" stroke-opacity="0.7" stroke-width="1.2"/>
<path d="M562 827l11 2-3 1m3-1l-3-2m22 5l11 1-3 1m3-1l-3-1m2 1l12 0-3 1m3-1l-3-1m-9-1l12 0-3 1m3-1l-3-2m2 2l10-1-2 2m2-2l-2-1m-69 3l10 3-3 1m3-1l-2-2m1 3l10 2-3 1m3-1l-2-2m-18-3l9 6-3 0m3 0l-1-3m18 17l9 5-3 0m3 0l-2-2m0 3l9 6-3 0m3 0l-1-3m1 2l9 8-3 0m3 0l-1-3m-51-28l6 10-2-1m2 1l0-3m-1 3l6 9-3-1m3 1l0-3m-4-7l7 8-3-1m3 1l-1-3m-2 4l5 9-3-2m3 2l0-3m0 2l5 10-2-2m2 2l0-3m1 1l8 10-3-1m3 1l-1-3m-30-29l3 9-2-2m2 2l1-3m0 12l2 10-2-2m2 2l1-3m-2-7l4 9-3-2m3 2l0-3m0 2l3 12-2-2m2 2l1-3m-25-9l1 12-2-2m2 2l1-3m-2 12l1 11-2-2m2 2l1-3m-4-64l-3 11-1-3m1 3l2-2m-2 1l-2 12-1-3m1 3l2-2m-3-25l-6 11 0-3m0 3l2-2m-2 1l-8 9 1-3m-1 3l3-1m-5 9l-7 7 0-3m0 3l3-1m-2 1l-5 9 0-3m0 3l2-1m-4-1l-6 9 0-3m0 3l3-1m27-49l-10 6 1-3m-1 3l3 0m-3-2l-9 5 1-2m-1 2l3 0m7-4l-9 7 2-3m-2 3l3-1m-12 6l-9 7 1-3m-1 3l3-1m20-29l-10 3 2-2m-2 2l3 1m-2-2l-11 1 2-1m-2 1l3 1m-2 0l-10 4 2-3m-2 3l3 0m-21 3l-11 3 2-2m-2 2l3 1m67-21l-13 1 3-2m-3 2l3 1m10 1l-13 1 3-1m-3 1l3 1m-22-2l-13 2 2-2m-2 2l3 1m43-14l-10-3 3 0m-3 0l2 2m-1-2l-11-5 3 0m-3 0l2 2m-2 1l-10-4 3 0m-3 0l2 2m-1 0l-11-5 3-1m-3 1l2 2m-1-2l-10-4 3 0m-3 0l2 2m-1-2l-11-4 3-1m-3 1l2 2m-1-1l-11-5 3 0m-3 0l2 2m69 19l-10-8 3 1m-3-1l1 3m1-3l-9-7 3 1m-3-1l1 3m0-3l-10-6 3 0m-3 0l1 2m1-3l-10-8 3 0m-3 0l1 3m-2 0l-8-6 3 0m-3 0l1 2m44 26l-8-11 3 2m-3-2l1 3m10 4l-5-9 3 1m-3-1l0 3m-11-31l-3-10 2 2m-2-2l0 3m27 46l1-12 1 3m-1-3l-2 3m-1 10l-2-13 2 3m-2-3l-1 3m0-42l0-12 1 3m-1-3l-2 3m16 49l3-11 0 3m0-3l-2 2m14 10l8-9-1 3m1-3l-3 1m7-8l6-8 0 3m0-3l-2 1m9-8l6-8-1 3m1-3l-3 1m-36 55l9-6-2 3m2-3l-3 1m3 2l10-7-1 3m1-3l-3 0m-8 5l9-7-1 3m1-3l-2 0m18-11l9-4-1 2m1-2l-3-1m2 1l10-7-1 3m1-3l-3 0m-42 37l10-3-2 2m2-2l-3-1m24-3l10-4-2 2m2-2l-3 0m-8 1l10-4-2 3m2-3l-3 0" stroke="#7ee2ec" stroke-opacity="0.8" stroke-width="1.3"/>
<path d="M467 823l-9-6 2 0m-2 0l1 2m13-9l-7-6 3 1m-3-1l1 3m7 6l-8 4 1-2m-1 2l2 0m5 38l-9 8 1-2m-1 2l2 0m15-70l-9-1 2-1m-2 1l2 2m7 45l-10 2 2-2m-2 2l2 1m7 20l-9 7m12-90l-5-5 2 1m-2-1l1 2m4 76l-8 0m10 19l-11 3 2-2m-2 2l2 1m7-2l-6 9 0-3m0 3l2-1m15-77l-8-3 2 0m-2 0l2 2m5 11l-8-1m8 60l-10 4 2-2m-2 2l3 0m13-105l-4-9m6 57l-7 3m2 2l-6 4 1-2m-1 2l2 0m10 17l-10 5 2-2m-2 2l3 0m3 22l-3 10m7-85l-4-6m8 33l-8 5m6-1l-9 5 1-2m-1 2l2 0m8 30l-5 10 0-2m0 2l2-1m0 15l-3 9-1-3m1 3l2-2m11-103l-5-7 3 1m-3-1l1 3m2 19l-8-3m5 90l1 11-2-3m2 3l1-3m7-115l-2-11 2 2m-2-2l0 2m5 49l-10-2 2-1m-2 1l2 1m8 10l-6 9m5-1l-8 9 1-2m-1 2l3-1m4 6l-4 7m3 33l-4 7m7-145l2-9 1 2m-1-2l-2 2m3 31l1-9 1 3m-1-3l-1 2m2 22l-3-7 2 2m-2-2l0 3m2 22l-6-10m7 21l-8-3 2 0m-2 0l2 2m8 10l-7 9m5 5l-9 3 2-2m-2 2l3 0m5 9l-4 10 0-3m0 3l2-2m4 13l-5 7m2 5l-5 9m15-121l-4-10 2 1m-2-1l0 2m4 21l-4-9m0 18l-3-10m7 29l-9 6m9 2l-8 0m7 4l-3 9-1-3m1 3l1-2m4 0l-10 5 1-2m-1 2l2 1m4 10l-6 8 1-2m-1 2l3-1m0 2l1 9-1-2m1 2l1-2m5 8l-6 6m8-111l-4-7 2 2m-2-2l0 3m7 59l-6 3 1-2m-1 2l2 0m-1 19l4 10-2-2m2 2l1-3m-6 16l4 10-2-1m2 1l0-2m7-123l-4-10m3 38l-5-8 2 2m-2-2l0 3m5 26l3-10 0 2m0-2l-2 2m-4 33l1 7-2-2m2 2l1-2m0 16l1 11m0 11l1 10-1-2m1 2l1-2m0-85l3-8 0 2m0-2l-2 1m1 72l5 11m5-125l-2-10m-3 33l2-9m-1 34l6-5m-4 15l2-11m-6 18l11-2m-9 31l4 10m-1-4l-1 8-1-2m1 2l1-2m4-91l3-8 0 2m0-2l-2 2m-3 28l7-9m-8 75l7 5-3 0m3 0l-1-2m2 20l-2 12-1-3m1 3l2-2m3-115l5-7-1 2m1-2l-3 1m-5 13l4-7 0 3m0-3l-2 1m0 22l6-6m-8 11l10-4m-12 20l9 1m-6 6l8-2-2 2m2-2l-2 0m-5 11l6 9-2-1m2 1l0-3m-6 23l1 7m-2 7l1 11-2-3m2 3l1-3m-3 2l7 6m1-134l3-9m-7 68l11 3m-7 9l8 0m-12 18l10 4-2 0m2 0l-2-2m-2 31l4 10-2-2m2 2l0-3m2-121l1-12 1 3m-1-3l-1 3m-2 10l1-8m-5 107l10 5m-5 16l5 7-2-1m2 1l-1-3m1-101l4-10 0 3m0-3l-2 2m-3 38l8-4-2 2m2-2l-3 0m-4 33l7 0-2 2m2-2l-2-1m-4 25l2 10m2-68l8-4m-9 26l8 2-3 1m3-1l-2-2m-3 3l7 8m1-73l7-4m-9 14l7-4-2 2m2-2l-3 0m-7 15l8-9m-6 24l10 3m-11 17l9 1m-8 10l10 5m-10 7l8 6m-2-64l8-7-1 2m1-2l-3 0m-6 21l10 2-2 1m2-1l-2-2m-6 28l7 2-2 1m2-1l-2-2m-5 7l6 6m-9 17l10 7-3 0m3 0l-2-2m-2-78l11 1m-8 54l8 1m-10 7l11 2-2 1m2-1l-2-2m-1-41l6-4-1 2m1-2l-2 0" stroke="#7ee2ec" stroke-opacity="0.7" stroke-width="1.2"/>
<path d="M551 829l12 1-3 1m3-1l-2-1m1 0l10 2-2 1m2-1l-2-2m11 2l12-1-2 2m2-2l-2-1m-21 9l11 5-3 0m3 0l-2-2m-9-4l12 3-2 0m2 0l-2-2m0 4l13 4-3 0m3 0l-2-2m11 4l11 3-3 0m3 0l-2-2m1 1l9 4-3 0m3 0l-2-3m-60-11l10 7-3 0m3 0l-1-2m-2 4l11 5-3 0m3 0l-2-2m-7-6l10 7-3-1m3 1l-1-3m-2 4l9 7-3 0m3 0l-2-2m18 13l9 7-3-1m3 1l-2-3m-64-43l7 9-2-1m2 1l0-3m-5-7l6 9-2-1m2 1l0-3m-3 4l6 11-2-2m2 2l0-3m9 7l5 9-3-1m3 1l0-3m0 2l6 10-3-1m3 1l0-3m10 21l6 9-3-1m3 1l0-3m-3-7l6 8-3-1m3 1l-1-3m-47-53l3 10-2-2m2 2l0-3m-1-7l4 9-3-2m3 2l0-3m-3 3l2 10-2-2m2 2l1-3m1 1l3 11-2-2m2 2l1-3m3 22l2 12-1-3m1 3l1-3m-1-10l3 12-2-3m2 3l1-3m-1 1l4 10-2-2m2 2l1-3m-30-72l0 12-1-2m1 2l2-2m0-10l0 12-2-2m2 2l1-2m-2 22l-2 13-1-3m1 3l2-3m0 2l-2 12-1-3m1 3l2-2m-1 11l-1 11-2-3m2 3l1-2m0 1l-1 12-1-3m1 3l2-3m-4-84l-1 10-1-3m1 3l1-2m3-7l-2 10-1-3m1 3l2-3m-2 2l-3 10-1-2m1 2l2-2m-2 1l-3 13 0-3m0 3l2-3m-5 1l-2 9-1-3m1 3l2-2m-2 1l-2 11-1-2m1 2l2-2m2-8l-2 11-1-3m1 3l2-2m-10 21l-4 10 0-2m0 2l2-2m4-8l-4 11 0-3m0 3l3-2m16-82l-5 10 0-3m0 3l2-2m5-6l-6 9 0-3m0 3l3-2m-2 1l-8 10 1-3m-1 3l3-1m-11 7l-6 8 1-3m-1 3l3-1m-19 24l-7 9 1-3m-1 3l3-2m5-6l-7 8 0-3m0 3l2-1m42-65l-10 6 1-3m-1 3l3 0m8-5l-10 7 1-3m-1 3l3-1m-3-2l-10 8 1-3m-1 3l3-1m-20 10l-10 8 1-3m-1 3l3-1m-20 11l-10 5 2-2m-2 2l3 0m69-48l-11 3 2-2m-2 2l3 1m9-2l-11 3 2-2m-2 2l3 1m-3-3l-11 3 2-2m-2 2l3 0m9-2l-12 2 2-2m-2 2l3 1m-2 0l-10 3 3-3m-3 3l3 0m-1 0l-11 3 2-3m-2 3l3 0m-2-2l-10 3 2-2m-2 2l3 1m-3-3l-10 3 2-2m-2 2l3 1m8-2l-10 3 2-2m-2 2l2 0m-12 1l-10 3 2-2m-2 2l2 0m-1 0l-10 4 2-2m-2 2l3 0m-2-2l-11 2 2-1m-2 1l2 1m95-27l-10 0 2-1m-2 1l2 2m8 0l-10 1 2-1m-2 1l3 2m-14-3l-11 2 2-2m-2 2l3 1m-2-3l-11 2 2-2m-2 2l3 1m8 0l-11 1 3-2m-3 2l3 1m-14-2l-12-1 3-1m-3 1l3 2m64-10l-12-3 3-1m-3 1l2 2m9 4l-11-6 3 0m-3 0l2 3m-1-2l-10-3 3 0m-3 0l2 2m-10-7l-10-5 3 0m-3 0l2 3m-1-2l-11-5 3 0m-3 0l2 2m-10-4l-11-5 3 0m-3 0l2 2m66 22l-8-7 3 1m-3-1l1 3m6 5l-8-7 3 1m-3-1l1 3m-10-9l-9-6 3 0m-3 0l2 3m0-3l-10-8 3 1m-3-1l1 3m0-2l-11-7 3 1m-3-1l2 3m-6-11l-9-8 3 1m-3-1l1 3m-10-7l-7-7 3 0m-3 0l1 2m74 54l-5-10 2 2m-2-2l0 3m4 8l-7-9 3 1m-3-1l0 3m3-4l-7-11 3 2m-3-2l0 3m-2 0l-8-9 3 1m-3-1l1 3m1-3l-6-11 2 2m-2-2l0 3m-9-20l-6-9 2 1m-2-1l0 3m-8-10l-8-10 3 1m-3-1l0 3m58 73l-3-9 2 2m-2-2l-1 3m-5-10l-4-10 2 2m-2-2l-1 3m4-3l-5-10 2 2m-2-2l-1 3m1-2l-3-11 2 2m-2-2l0 3m-10-20l-4-12 2 2m-2-2l-1 3m37 78l-2-12 1 3m-1-3l-1 3m2-13l0-10 1 2m-1-2l-2 2m-1 8l-1-10 2 3m-2-3l-1 3m4-2l0-12 1 3m-1-3l-2 3m-5-42l-3-12 2 3m-2-3l0 3m16 90l4-11 1 3m-1-3l-2 2m-4 8l3-11 0 3m0-3l-2 2m1-1l3-11 1 3m-1-3l-2 2m4 0l2-11 1 2m-1-2l-2 2m4-12l2-10 1 3m-1-3l-2 2m3-1l4-11 1 3m-1-3l-2 2m7-21l4-12 0 3m0-3l-2 2m-22 94l7-10 0 3m0-3l-3 1m-6 7l6-10 0 3m0-3l-2 1m3 1l5-9 0 3m0-3l-2 2m4 1l7-8-1 3m1-3l-3 1m-6 5l6-9 0 3m0-3l-3 1m12-6l6-9 0 3m0-3l-3 1m13-16l5-9 0 3m0-3l-2 1m11-8l5-8 0 3m0-3l-2 1m-55 78l9-5-1 3m1-3l-3 0m-7 4l9-6-2 3m2-3l-3 0m20-9l9-7-1 2m1-2l-3 0m-7 6l10-6-1 2m1-2l-3 0m2-1l9-5-2 3m2-3l-3 0m11-2l10-7-2 3m2-3l-3 0m0-1l9-7-1 2m1-2l-3 0m-60 48l12-3-2 2m2-2l-3-1m-10 2l12-4-2 2m2-2l-3-1m3 4l9-4-2 2m2-2l-3 0m2 1l13-3-2 2m2-2l-3-1m21-6l11-3-2 2m2-2l-3 0m1-1l12-3-2 2m2-2l-3-1m12-1l11-2-2 2m2-2l-3-1" stroke="#30d6e6" stroke-opacity="0.8" stroke-width="1.3"/>
<path d="M452 796l-8 0 2-1m-2 1l2 1m3 23l-8-1 3-1m-3 1l3 2m12-2l-8 4 2-2m-2 2l3 0m7 33l-7 5 2-3m-2 3l3 0m11-78l-9-7 3 0m-3 0l1 2m10 49l-9 0m7 38l-8 3m14-64l-8-2 3-1m-3 1l2 1m9 19l-9-4m8 19l-10 2m10 3l-8 6m13-61l-7-3 3 0m-3 0l2 2m7 13l-12 2 3-2m-3 2l3 1m9 19l-7 0 2-1m-2 1l2 1m0 4l-7 2 2-2m-2 2l3 0m5 6l-7 2 2-2m-2 2l3 0m6 12l-11 1 2-1m-2 1l2 1m8 5l-9 1 2-1m-2 1l3 1m13-67l-6-6m8 8l-8 0m9 23l-9-3 3-1m-3 1l2 2m8 7l-10-4 3 0m-3 0l2 2m5 24l-11-1m12 18l-9 1m8 8l-8 0m8 27l-11 4 2-2m-2 2l3 0m13-115l-3-8 2 2m-2-2l0 3m2 19l-6-5 2 0m-2 0l1 2m6 42l-10 5m11 14l-4 7 0-3m0 3l2-1m0-1l-6 6 1-3m-1 3l2-1m6 13l-11 4m13-1l-9 6m13-104l-7-9 3 1m-3-1l1 3m4 19l-4-6 2 1m-2-1l0 2m9 18l-7-8 2 1m-2-1l0 3m8 35l-11-2 3-1m-3 1l2 2m8-83l-3-9 2 1m-2-1l-1 2m8 14l-4-6m0 21l-3-11 2 2m-2-2l0 2m6 31l-7-6m7 19l-7-3 2-1m-2 1l1 2m8 2l-10 3 1-2m-1 2l2 1m7 22l-9-1 2-1m-2 1l2 2m9 3l-10 4 1-2m-1 2l2 0m5 1l-8 6 1-2m-1 2l2 0m6-2l-7 8 1-3m-1 3l3-1m7-98l-2-11m10 42l-11-4 3 0m-3 0l2 2m8 8l-8-5 3 0m-3 0l2 2m7 22l-9-5m7 9l-11 2m7 16l-6 5 1-3m-1 3l2-1m5 16l-8 8 0-3m0 3l2-1m8-1l-8 8m7 12l-5 5 0-2m0 2l2-1m3 9l-7 8m13-153l-2-10 2 2m-2-2l-1 2m2 29l-1-10m1 23l-6-5m5 19l-2-9m4 16l-9-9 2 1m-2-1l1 3m8 11l-7-5 3 0m-3 0l1 2m9 9l-9-4m9 16l-10 1 2-1m-2 1l3 1m6 16l-11 4m10 7l-7 7 1-3m-1 3l3-1m5 1l-10 6m9 33l-6 8 0-2m0 2l2-1m8-152l-3-7m7 35l-7-6 3 1m-3-1l1 2m6 17l-5-9m3 33l-7 4 1-2m-1 2l2 0m8 8l-8 6m6 10l-5 8m-1 10l0 8-1-2m1 2l1-2m9-126l-3-7m1 41l-1-8m4 32l-7-9m6 10l-4-7 2 1m-2-1l0 2m9 15l-7-8 2 1m-2-1l0 2m4 29l-3 8m1 41l-1 8-1-3m1 3l1-2m6-142l0-9m2 13l-1-7m3 27l-5-7m2 27l-6-9 2 1m-2-1l0 2m8 24l-6-7m7 12l-11-1m8 11l-7 4m11 1l-6 8 0-2m0 2l2-1m-4-2l1 11m0 5l2 10-2-2m2 2l1-2m2-3l-4 8m1 19l0 8-1-2m1 2l1-2m-3 11l4 11-2-2m2 2l1-3m2-167l0-8 1 2m-1-2l-1 2m2 50l3-9 0 3m0-3l-2 2m-3 37l1-11 1 2m-1-2l-2 2m1 10l7-4-1 3m1-3l-2 0m-1 4l-8 7m6 11l-4 11-1-2m1 2l2-2m2-2l-3 10 0-3m0 3l2-2m-1 34l0 10m7-158l5-9m-5 22l3-7 0 2m0-2l-2 1m-1 19l4-9 0 3m0-3l-2 2m-3 9l5-6-1 2m1-2l-3 1m3 14l-2-7 2 2m-2-2l-1 3m0 13l-3-9 2 1m-2-1l-1 2m0 11l5-7 0 2m0-2l-2 1m-4 33l11 2-3 1m3-1l-2-2m-5 6l7 8m-3 25l-3 9m1 10l-2 9m2 10l-2 8m6-148l7-8-1 2m1-2l-2 0m-5 31l5-8 0 3m0-3l-3 2m-4 14l5-8m-6 14l6-9m-6 26l10-7m-7 18l7 3-2 0m2 0l-1-2m-4 37l5 4m-6 0l3 10-2-1m2 1l1-2m-2 6l1 9-2-3m2 3l1-3m0-1l-1 11m-5 2l5 9m-6-1l4 10m6-152l-3-11m0 41l5-6-1 3m1-3l-3 1m-2 21l4-7m-3 12l3-8m-5 18l10 2m-9 2l7 1-2 1m2-1l-2-2m-6 7l9 2-2 1m2-1l-2-2m-6 5l3 9-2-2m2 2l1-3m-3 4l8 3m-8 12l7 4m-6 5l2 7m-1 13l-2 9m7-144l3-9 0 2m0-2l-2 2m1 17l3-10m-3 32l5-7 0 2m0-2l-2 1m-5 28l6-7 0 3m0-3l-2 1m-8 22l10 4-3 1m3-1l-2-2m-7 20l9 5m2-118l0-8 1 3m-1-3l-1 3m0 8l6-6m-8 27l7-7m-3 15l4-6m-7 26l5-8 0 3m0-3l-2 1m-4 14l5-6m-4 17l5-9 0 3m0-3l-2 2m-5 13l10-2-2 2m2-2l-3 0m-7 21l9 7-3-1m3 1l-1-3m-7 6l10 3m-11 6l6 10m-5 3l7 8-2 0m2 0l0-2m-7 1l5 8m-2 5l1 10m0-1l4 11m-1-165l6-6m-3 41l0-8 1 2m-1-2l-1 2m-1 12l2-8m-1 30l8-6m-12 9l10-2-2 2m2-2l-2 0m-8 10l9-2m-8 9l8-7m-8 16l9 2-2 0m2 0l-2-2m-8 8l8 0m-9 5l9-1m-2 4l4 7m-10 1l8 8m-2 13l1 8m-2-4l5 6-2-1m2 1l0-2m-6 25l6 9-3-2m3 2l-1-3m-2-146l7-4m-3 19l6-6m-9 25l7-5m-8 8l8-1m-8 5l9 1m-8 20l11 0m-11 11l8-1-2 1m2-1l-3-1m-3 2l9 6m-10 10l10 1m-10 30l4 8-2-2m2 2l0-3m2-113l8-4m-10 21l7-8m-5 10l3-6 0 3m0-3l-2 1m-2 12l9 0m-7 14l10-6m-9 12l9-2-2 2m2-2l-3-1m-11 8l11 3-2 1m2-1l-2-2m-7 36l8 3m-5 3l8 4m-10 4l7 9-3-1m3 1l-1-2m-4-91l12 0m-9 41l9-2-2 2m2-2l-3-1m-1 14l5 5-3 0m3 0l-1-2m-7 9l6 6m-4 2l4 6m-4-4l5 8-2-1m2 1l0-2m-4 7l5 8m0-86l6-6m-10 16l11-1m-8 71l7 7m-1-101l11-3m-12 19l8-7m-8 10l12 0-2 1m2-1l-2-1m-9 5l9 4-2 0m2 0l-1-2m-8 10l6-4m-9 9l11 1m-6 37l7 0m4-51l9-5m-7 47l6 9" stroke="#30d6e6" stroke-opacity="0.7" stroke-width="1.2"/>
<path d="M539 831l-3 8 0-2m0 2l2-1m-5-12l-11-1 3-1m-3 1l2 2m9-3l-7-3 2 0m-2 0l1 2m11 3l-11-4 3-1m-3 1l2 2m7 3l-11 1 2-2m-2 2l2 1m22 1l10 3-3 1m3-1l-2-1m-10-1l6 4-2 0m2 0l-1-2m-7-8l10-5-1 2m1-2l-2 0m-13-2l1-10 1 2m-1-2l-2 2m-1 26l-4 11 0-3m0 3l2-2m11-22l6-3-2 2m2-2l-3 0m-14 8l-9 3 1-1m-1 1l2 1m11-7l-1-7 2 2m-2-2l-1 2m-2 16l-5 9 0-2m0 2l2-1m10-20l7-9 0 2m0-2l-2 1m-16 6l-8-7 2 0m-2 0l1 2" stroke="#30d6e6" stroke-opacity="0.75" stroke-width="1.8"/>
<path d="M551 827l12 0-2 2m2-2l-2-1m11 3l10 0-3 1m3-1l-3-1m13 2l11 0-3 1m3-1l-3-2m-47 2l10 3-3 1m3-1l-2-2m0 3l10 4-3 0m3 0l-2-2m23 8l11 4-3 0m3 0l-2-2m-10 20l11 6-3 0m3 0l-2-2m-26 4l7 11-3-2m3 2l0-3m-37-47l4 10-2-2m2 2l0-3m15 59l2 10-2-2m2 2l1-3m-28-62l-1 12-1-3m1 3l2-3m-1 2l0 11-1-2m1 2l2-2m0-9l0 11-2-2m2 2l1-2m-4 24l0 11-2-3m2 3l1-3m-7-33l-4 10 0-3m0 3l3-2m-7 10l-2 12-1-3m1 3l2-3m3-8l-3 11-1-3m1 3l2-2m-4 0l-2 12-1-3m1 3l2-2m4-53l-8 9 0-3m0 3l3-1m-9 7l-6 8 0-3m0 3l3-1m-2 0l-7 8 1-3m-1 3l3-1m5-29l-10 7 1-3m-1 3l3-1m-13 4l-9 6 2-2m-2 2l3 0m-7-24l-12 3 3-2m-3 2l3 1m15-12l-13 2 3-2m-3 2l3 1m-2-5l-10 0 2-1m-2 1l2 2m54-15l-11-5 3 0m-3 0l2 2m-38-18l-11-5 3 0m-3 0l2 3m34-9l-8-7 3 1m-3-1l2 3m-2 0l-8-9 3 1m-3-1l0 3m41 14l-5-12 2 2m-2-2l0 3m-3 0l-6-8 3 1m-3-1l1 3m0-2l-7-11 2 1m-2-1l0 3m35 39l-3-9 2 1m-2-1l-1 3m-5-11l-5-10 2 2m-2-2l-1 3m2-2l-5-11 3 2m-3-2l0 3m24 48l0-12 1 3m-1-3l-2 3m-1-22l0-11 1 2m-1-2l-2 2m3-1l0-12 2 2m-2-2l-1 2m-1 10l-1-12 2 2m-2-2l-1 3m4-2l0-11 2 3m-2-3l-1 3m-2 8l-1-11 2 3m-2-3l-1 3m21 29l5-11 0 3m0-3l-2 2m-3 34l5-8 0 3m0-3l-2 1m7-9l8-9-1 3m1-3l-3 1m1-1l7-8-1 3m1-3l-3 1m2 0l6-8 0 3m0-3l-3 1m-20 43l8-6-1 3m1-3l-3 1" stroke="#58e0a8" stroke-opacity="0.8" stroke-width="1.3"/>
<path d="M483 784l-8-4m10 22l-5-5m5 35l-11 2 2-2m-2 2l3 1m10 8l-8 6 1-2m-1 2l2 0m10-73l-7-2 3-1m-3 1l2 2m3 33l-8-8m8 17l-7 2 2-2m-2 2l2 1m9 8l-11-2 3 0m-3 0l2 2m14-37l-7-8m7 19l-6-7m5 41l-10-3 2-1m-2 1l2 1m11 17l-9 0 2-1m-2 1l2 1m4 3l-6 4m5 0l-7 9 0-3m0 3l2-1m14-100l-7-5m5 27l-5-6 2 1m-2-1l0 2m6 21l-8-3m6 72l-4 9m11-115l-7-7m7 85l-8 8m17-59l-10-4 2-1m-2 1l1 2m6 81l0 11-1-2m1 2l1-2m0-4l-1 8-1-2m1 2l1-2m7-19l-6 8 0-2m0 2l2-1m10-112l-6-8 2 1m-2-1l1 3m4 15l-2-11m6 111l-7 9 1-2m-1 2l3-1m3 20l-4 9m10-136l-5-10m2 26l-6-10m2 110l2 9-2-2m2 2l1-3m5-121l0-11m0 16l4-7m-2 46l-2-8m0 31l2 7m1 28l-1 9-1-2m1 2l1-2m3-72l3-11 1 3m-1-3l-2 2m-3 20l9-3m-1 57l-2 7-1-2m1 2l2-2m-4 7l-3 7 0-3m0 3l2-2m0 3l4 6m2-132l2-8 0 3m0-3l-2 2m-2 69l8 2-3 1m3-1l-2-2m-4 62l2 9m5-145l2-9m-3 24l3-7m-1 15l5-8 0 2m0-2l-2 1m0 112l0 11m1-135l5-10 0 3m0-3l-2 2m-6 52l11-3m-9 51l6 6-2 0m2 0l0-2m0 10l1 11-1-2m1 2l1-3m-5 16l0 8-1-2m1 2l1-2m4-120l7-9 0 2m0-2l-2 1m-5 33l10-4-1 2m1-2l-2-1m-6 29l6-3m-5 39l3 8m1-82l7-9 0 2m0-2l-2 1m-8 12l10-4-2 2m2-2l-3 0m-6 34l9 2-2 1m2-1l-2-2m5 38l3 7-2-1m2 1l0-2m-6 0l3 7-2-1m2 1l0-3m4-18l7 3m-4-51l8 1-3 0m3 0l-2-2m2-16l9 0-2 2m2-2l-2-1m-6 46l10 1-2 1m2-1l-2-1m-11 13l7 3" stroke="#58e0a8" stroke-opacity="0.7" stroke-width="1.2"/>
<path d="M564 825l12-2-3 2m3-2l-3-1m2 1l11-3-2 2m2-2l-2-1m2 2l12-2-3 2m3-2l-3-1m2 1l2 0-1 0m1 0l-1-1m-34 5l12-1-3 1m3-1l-3-1m1 0l12-2-2 2m2-2l-2-1m1 1l12-1-2 1m2-1l-3-1m2 0l3 0-1 0m1 0l-1-1m-35 5l12-3-2 2m2-2l-3-1m2 2l12-2-2 2m2-2l-3-1m2 1l12-3-3 2m3-2l-3-1m2 2l3-1-1 1m1-1l-2 0m-61 29l0 12-1-3m1 3l2-3m-3 2l0 12-1-3m1 3l2-3m-3 2l0 12-1-3m1 3l2-3m-2 2l-1 3 0-2m0 2l1-2m5-34l-1 12-2-3m2 3l1-3m-1 2l0 12-2-3m2 3l1-3m-2 2l-1 12-1-3m1 3l1-3m-1 2l0 3-1-1m1 1l0-1m5-35l-1 12-1-3m1 3l2-2m-2 1l0 12-2-3m2 3l1-3m-2 2l-1 12-1-3m1 3l2-2m-2 1l-1 3 0-1m0 1l1-1" stroke="#58e0a8" stroke-opacity="0.6" stroke-width="1.5"/>
<path d="M581 829l12 2-3 1m3-1l-2-2m0 16l12 3-3 1m3-1l-2-2m-51-11l9 6-3-1m3 1l-1-3m-1 3l11 7-3 0m3 0l-1-3m-25-10l4 10-2-2m2 2l1-3m-56-9l-13 1 3-2m-3 2l3 1m30-54l-7-8 3 1m-3-1l1 3m29 39l-3-9 2 2m-2-2l-1 3m20-21l3-11 1 3m-1-3l-2 2" stroke="#b0dc3a" stroke-opacity="0.8" stroke-width="1.3"/>
<path d="M510 777l-2-9m18 51l-8 0m18-5l-3-11m3 71l-2 12-1-3m1 3l2-2m7-99l-5-11 2 2m-2-2l0 3m0 30l6-9m-1-30l4-10m-1 84l3 9-2-2m2 2l0-3" stroke="#b0dc3a" stroke-opacity="0.7" stroke-width="1.2"/></g></g>
<path d="M241.9 388.9V386.3H243.7M295.6 386.3H297.4V388.1M297.4 439.8V441.6H295.6M243.7 441.6H241.9V439.8" fill="none" stroke="#1a1a1a" stroke-width="1.6" stroke-linejoin="round"/>
<path d="M246 386.3H295.6M297.4 390.4V439.8M246 441.6H295.6M241.9 391.2V439.8" fill="none" stroke="#1a1a1a" stroke-width="1.6" stroke-dasharray="5.3 2.3"/>
<circle cx="419.5" cy="413.5" r="72" stroke="#a8a8a8" stroke-width="0.9" fill="none"/>
<circle cx="419.5" cy="413.5" r="66" stroke="#c4c4c4" stroke-width="0.8" fill="none"/>
<g fill="none" stroke-linecap="round" filter="url(#sf)"><g transform="scale(.5)"><path d="M921 828l12 0-2 1m2-1l-3-2m12 2l10 0-2 2m2-2l-2-1m-88 77l4 12-2-2m2 2l1-3m-31 6l0 11-2-2m2 2l1-2m-20-9l-4 11-1-3m1 3l2-2m-3 1l-3 11-1-3m1 3l2-2m2-9l-2 11-1-2m1 2l2-2m-61-80l-9 4 1-2m-1 2l3 0m-4-3l-12 3 2-2m-2 2l3 1m10-2l-12 2 2-2m-2 2l3 1m24-61l-10-2 2-1m-2 1l2 2m59-55l-4-10 2 2m-2-2l0 3m0-2l-5-11 2 1m-2-1l0 3m56 10l3-12 1 3m-1-3l-2 2m33 23l6-9 0 3m0-3l-3 1m-4 7l5-9 0 3m0-3l-2 1m4 1l7-10 0 3m0-3l-3 1m8 44l10-7-1 2m1-2l-3 0m3 2l8-7-1 2m1-2l-2 0m2 1l9-5-1 2m1-2l-3 0m-14 29l10-3-2 2m2-2l-3 0" stroke="#4a5ad0" stroke-opacity="0.8" stroke-width="1.3"/>
<path d="M750 837l-12 3m12 4l-8 2m14-58l-7-3 3 0m-3 0l2 2m9 35l-10 0 3-1m-3 1l3 2m3 7l-7 4 1-2m-1 2l2 0m7 8l-7 5 1-2m-1 2l3 0m10-40l-9-2m8 33l-7 6 1-3m-1 3l3-1m6 10l-8 0m15-78l-9-2 2-1m-2 1l2 2m4 7l-7-2 3 0m-3 0l2 2m6 87l-7 4 1-2m-1 2l2 0m9 13l-7 2m18-121l-2-10m18 135l-6 8m11-160l-3-10 2 2m-2-2l0 2m18 20l-4-7 2 1m-2-1l0 2m8-3l-1-11m2 180l3 7m7-177l3-6m2 169l-1 8-1-3m1 3l1-2m3-5l2 10-2-2m2 2l0-2m-1-1l-3 11m8-180l1-10 1 3m-1-3l-2 3m3 13l4-8 1 2m-1-2l-2 1m4-2l3-8 0 3m0-3l-2 2m14 4l0-9 1 3m-1-3l-1 3m8 25l1-9m-1 145l7 8m2-153l2-11m-1 21l6-5m-2-2l6-3-1 2m1-2l-2 0m-6 23l9-8-1 2m1-2l-3 1m1 129l11 4-2 0m2 0l-1-2m-1-120l5-6m-7 22l10-5m-9 79l10 6-3 0m3 0l-2-2m-3-80l8 1-2 1m2-1l-2-1m-3 11l9-2-2 1m2-1l-3-1m-5 10l8-4m-12 65l8 4-3 0m3 0l-2-2m0-66l9 3m-8 14l11 3-3 1m3-1l-2-2m-9 25l7 7-2-1m2 1l-1-3m0-61l11 0-3 1m3-1l-2-2m-6 12l9-3m-9 8l10 0m-8 22l8 4" stroke="#4a5ad0" stroke-opacity="0.7" stroke-width="1.2"/>
<path d="M704 787l-3-4m3 4l4-4m-4 4l5 1m-5-1l2 4m-2-4l-2 3m2-3l-4 0m11 14l-3-3m3 3l1-3m-1 3l4 0m-4 0l3 4m-3-4l-3 4m3-4l-4 0m-1 52l-4-2m4 2l-1-4m1 4l4-1m-4 1l3 4m-3-4l-1 4m1-4l-4 2m5 15l-3-2m3 2l0-5m0 5l4-2m-4 2l5 1m-5-1l0 5m0-5l-5 2m29-135l-2-5m2 5l3-4m-3 4l3 2m-3-2l1 5m-1-5l-3 3m3-3l-5-3m7 178l-5-1m5 1l-1-5m1 5l2-4m-2 4l3 0m-3 0l2 4m-2-4l-2 5m20-201l0-4m0 4l5-1m-5 1l5 2m-5-2l1 4m-1-4l-3 3m3-3l-3-3m3 227l-4 0m4 0l-1-4m1 4l2-5m-2 5l5 0m-5 0l3 4m-3-4l0 5m40-245l2-5m-2 5l5-1m-5 1l1 3m-1-3l-3 3m3-3l-5 1m5-1l-4-4m5 258l-5 1m5-1l-4-4m4 4l0-4m0 4l4-2m-4 2l4 2m-4-2l0 5m21-1l-3 3m3-3l-4-2m4 2l0-5m0 5l5-3m-5 3l5 2m-5-2l0 5m27-268l3-5m-3 5l4 1m-4-1l0 4m0-4l-3 3m3-3l-5-2m5 2l0-6m2 269l-2 2m2-2l-5-2m5 2l0-5m0 5l3-3m-3 3l5 0m-5 0l1 5m21-266l4-3m-4 3l5 2m-5-2l0 5m0-5l-4 3m4-3l-4-1m4 1l0-5m1 268l-3 4m3-4l-4 0m4 0l-1-5m1 5l4-4m-4 4l5 0m-5 0l2 5m16-266l3-3m-3 3l4 2m-4-2l-2 5m2-5l-4 1m4-1l-4-3m4 3l0-6m1 265l-2 4m2-4l-4 0m4 0l-3-5m3 5l2-6m-2 6l5-1m-5 1l3 4m22-244l4-1m-4 1l3 3m-3-3l-1 5m1-5l-6 2m6-2l-4-4m4 4l1-5m-2 225l-2 3m2-3l-6 0m6 0l-4-3m4 3l2-5m-2 5l4-2m-4 2l4 2m13-219l4-1m-4 1l3 5m-3-5l-1 4m1-4l-6 2m6-2l-3-5m3 5l0-4m2 219l-1 5m1-5l-3 3m3-3l-3-3m3 3l1-4m-1 4l4-1m-4 1l4 3m14-201l5 1m-5-1l3 4m-3-4l-4 3m4-3l-5-1m5 1l-3-4m3 4l2-2m-4 176l0 5m0-5l-5 4m5-4l-4-2m4 2l-2-3m2 3l3-3m-3 3l4 2m21-132l5 2m-5-2l0 4m0-4l-3 2m3-2l-4-1m4 1l1-6m-1 6l4-2m-7 95l2 5m-2-5l-2 5m2-5l-5 0m5 0l-2-4m2 4l3-4m-3 4l4 0" stroke="#4a5ad0" stroke-opacity="0.6" stroke-width="1.6"/>
<path d="M712 787l-9 10 0-3m0 3l2-1m2 0l0 11-2-3m2 3l1-3m11 16l-16-2 3-1m-3 1l2 2m11 5l-14-4 2 0m-2 0l2 2m3 30l-11 2 2-2m-2 2l2 1m6 12l-1 12-1-2m1 2l1-2m30-144l-10 8 1-3m-1 3l3-1m11 22l-6-8 2 1m-2-1l0 3m9 5l-14-9 3 1m-3-1l1 3m5 25l-6 10 0-3m0 3l3-1m-4 3l6-11 0 2m0-2l-2 1m8 20l-11-3 2 0m-2 0l2 2m-6 12l6-15 0 3m0-3l-2 2m7 18l6 14-2-2m2 2l0-3m0 3l-15-2 2-1m-2 1l2 1m8 18l-10 2 2-2m-2 2l3 1m-4-17l5 13-2-2m2 2l1-3m7 32l-8-9 2 1m-2-1l0 3m-1 3l-3-14 2 3m-2-3l-1 3m12 31l-8-9 2 1m-2-1l0 3m16 0l-15 8 1-2m-1 2l3 0m-5 13l9 7-3-1m3 1l-2-3m25-197l-8-7 2 0m-2 0l1 2m0 20l-7 9 0-3m0 3l3-1m-9 1l9-13 0 3m0-3l-2 1m12 22l-6 13 0-3m0 3l2-1m-8-1l15-9-1 3m1-3l-3 0m-4 27l-13 12 1-2m-1 2l3 0m12-17l-12 11 1-3m-1 3l3-1m7 17l-5 9 0-2m0 2l3-1m2-16l3 14-2-2m2 2l1-3m-10 43l6 13-2-2m2 2l0-3m-2-8l-2 10-1-3m1 3l2-2m2 7l6 13-2-2m2 2l0-3m-2-11l2 11-2-2m2 2l1-2m-12 6l6 10-3-1m3 1l0-2m5-8l-13 8 1-3m-1 3l2 0m3 29l-12-13 2 1m-2-1l0 3m2 3l16 8-3 0m3 0l-2-3m-5 15l9 11-3-2m3 2l-1-3m26-222l-14 4 2-2m-2 2l3 1m2 10l-5-13 2 2m-2-2l0 3m11 14l-14 5 2-2m-2 2l2 0m12-1l-13 10 1-3m-1 3l3-1m4 150l-5-12 2 2m-2-2l0 3m-8-7l9 6-2 0m2 0l-1-2m-2 27l8 8-3-1m3 1l-1-3m5-1l-10-6 3 0m-3 0l1 2m12 22l-8 11 0-3m0 3l3-1m0-4l-11-4 3 0m-3 0l2 2m11-234l17-1-2 2m2-2l-3-1m12 19l-16 5 2-2m-2 2l3 1m8-4l-13 1 3-1m-3 1l3 1m0 13l13-11-1 3m1-3l-3 1m-11 9l18-2-3 2m3-2l-3-1m-10 180l-11-2 2-1m-2 1l2 2m13 5l-9-7 3 0m-3 0l1 2m5 24l10 7-3-1m3 1l-2-3m-4-9l-6 14 0-3m0 3l2-2m-1 16l-11-7 3 0m-3 0l2 3m22-259l14-5-2 2m2-2l-3 0m-3 9l-1-13 1 2m-1-2l-1 2m3 32l-2-12 2 2m-2-2l-1 3m-6 6l11-6-1 2m1-2l-3 0m-5 24l13-9-2 2m2-2l-3 0m0 17l-3-13 2 2m-2-2l-1 3m-17 174l13 7-3 0m3 0l-1-2m-2-5l12 10-3 0m3 0l-1-2m0 19l-13-1 2-1m-2 1l2 1m12-3l-14 0 2-1m-2 1l2 1m6 10l-5 16 0-3m0 3l2-2m30-258l-11-5 3 0m-3 0l2 2m-9 18l16 3-3 1m3-1l-3-1m-1 7l4-14 1 3m-1-3l-2 2m-3 221l-1 10-1-2m1 2l1-2m-3-14l2 17-1-2m1 2l1-3m-4 11l15 2-2 1m2-1l-2-1m19-251l-11-5 3 0m-3 0l2 2m6 22l5-9 0 3m0-3l-3 2m-14 1l17 0-2 1m2-1l-3-1m-6 29l5-9 0 3m0-3l-3 2m-6 0l12-2-2 2m2-2l-2-1m8 203l-17-4 2-1m-2 1l2 2m-3-2l17-2-2 1m2-1l-2-1m5 27l-10 0 2-1m-2 1l2 1m8-252l8-13 0 3m0-3l-3 2m6 28l-11-7 3 0m-3 0l2 2m6 2l-11-1 3-1m-3 1l2 2m-2 14l15 1-3 1m3-1l-3-2m-6 11l6-14 0 2m0-2l-2 1m3 174l-14 6 1-2m-1 2l3 1m-2 4l13 0-2 1m2-1l-2-1m6 17l-14 3 2-1m-2 1l3 1m-1-2l12-1-3 2m3-2l-3-1m6 23l-12 6 1-2m-1 2l3 0m31-239l-12-13 2 1m-2-1l0 3m2 27l9 7-3 0m3 0l-1-2m-12-6l9 10-2-1m2 1l0-3m-5 19l-4-12 2 2m-2-2l-1 2m6 6l-7-8 3 1m-3-1l1 3m11 132l-13 12 1-3m-1 3l3-1m17-8l-14 6 2-2m-2 2l3 1m12 13l-16 3 2-2m-2 2l3 1m-4-2l6 14-3-1m3 1l0-2m6 3l-6 10 0-3m0 3l2-1m23-212l-10-4 3-1m-3 1l2 2m15 28l-13-12 2 0m-2 0l1 2m12 4l-7-7 3 0m-3 0l1 2m-8 29l-3-16 2 2m-2-2l-1 2m11 11l-9-12 2 1m-2-1l0 3m10 30l-1-10 2 2m-2-2l-1 3m-5-12l2 14-2-2m2 2l1-3m0 97l4-12 1 3m-1-3l-2 2m-6 13l2-17 1 2m-1-2l-1 2m-2 34l5-16 0 2m0-2l-2 2m5 2l-13 12 1-2m-1 2l3 0m1 21l10-10-1 3m1-3l-3 1m6 0l-12 8 1-2m-1 2l2 0m5 16l-10 8 1-2m-1 2l3 0m18-215l11 11-2-1m2 1l-1-3m-4 29l9-7-1 2m1-2l-3 0m-11 1l3 17-2-2m2 2l1-2m-2 10l8 7-2 0m2 0l-1-2m-3-1l-9-10 3 1m-3-1l1 3m12 16l-4 17-1-2m1 2l2-2m9 2l-8-12 2 2m-2-2l0 3m-5 33l-7-15 2 1m-2-1l0 2m-2 7l15-2-2 2m2-2l-3-1m-6 26l2-16 1 2m-1-2l-2 2m-3 3l11 6-3 0m3 0l-2-3m-10 23l14 2-2 1m2-1l-2-2m-7-2l-7 13 0-2m0 2l3-1m9 10l-6 15 0-3m0 3l3-2m4-16l-10 13 1-3m-1 3l3-1m-4 11l12 12-3-1m3 1l-1-3m15-143l3 11-2-2m2 2l0-2m-3 15l5 15-2-2m2 2l1-3m-4-13l-4 15 0-3m0 3l2-2m3 4l3 13-2-2m2 2l1-3m3 6l-5-15 2 2m-2-2l-1 3m-7 19l-1 12-1-2m1 2l2-2m1 2l4-12 1 3m-1-3l-2 2m-3 43l4-14 1 2m-1-2l-2 2" stroke="#4a5ad0" stroke-opacity="0.65" stroke-width="1.4"/>
<path d="M712 823l-3-5m3 5l0-5m0 5l6-2m-6 2l3 5m-3-5l-3 5m3-5l-6 1m28-66l-1-5m1 5l5-4m-5 4l6 1m-6-1l0 4m0-4l-5 4m5-4l-5-2m0 29l-3-4m3 4l4-4m-4 4l6 2m-6-2l1 6m-1-6l-4 4m4-4l-5 1m5 18l-3-3m3 3l2-4m-2 4l5 1m-5-1l3 5m-3-5l-3 5m3-5l-4 0m9 27l-4-3m4 3l1-5m-1 5l6-1m-6 1l5 2m-5-2l0 5m0-5l-5 0m0 17l-4-2m4 2l0-6m0 6l5-2m-5 2l4 3m-4-3l1 6m-1-6l-3 3m4 20l-5-2m5 2l0-5m0 5l5-3m-5 3l6 1m-6-1l1 5m-1-5l-6 2m10 23l-6-2m6 2l-1-7m1 7l4-4m-4 4l7 1m-7-1l4 6m-4-6l-3 4m17-162l0-7m0 7l6-2m-6 2l5 2m-5-2l0 6m0-6l-4 4m4-4l-6-2m13 23l-2-7m2 7l4-5m-4 5l6 1m-6-1l-1 6m1-6l-4 2m4-2l-6-2m-1 25l-2-6m2 6l4-3m-4 3l6 2m-6-2l1 6m-1-6l-4 5m4-5l-7 0m11 23l-4-4m4 4l2-6m-2 6l6 1m-6-1l2 6m-2-6l-3 6m3-6l-5 0m2 47l-6-1m6 1l1-4m-1 4l4-3m-4 3l5 4m-5-4l0 5m0-5l-3 3m9 17l-5-2m5 2l0-6m0 6l3-5m-3 5l6 2m-6-2l2 5m-2-5l-5 3m3 12l-5-1m5 1l-3-6m3 6l4-5m-4 5l5 2m-5-2l3 5m-3-5l-3 4m0 18l-5 1m5-1l-3-5m3 5l4-5m-4 5l5 0m-5 0l3 5m-3-5l-4 4m27-192l1-6m-1 6l5-2m-5 2l6 3m-6-3l-1 6m1-6l-6 1m6-1l-3-5m9 25l0-5m0 5l5 0m-5 0l5 3m-5-3l0 6m0-6l-6 4m6-4l-6-2m-4 148l-6 1m6-1l-2-5m2 5l5-4m-5 4l5 1m-5-1l2 6m-2-6l-3 7m11 19l-6 2m6-2l-2-4m2 4l4-5m-4 5l5 0m-5 0l6 5m-6-5l-2 6m4 17l-6 2m6-2l-4-5m4 5l2-6m-2 6l6 0m-6 0l3 4m-3-4l-1 5m22-219l4-5m-4 5l7 0m-7 0l3 5m-3-5l-2 6m2-6l-5 0m5 0l-3-5m3 20l4-5m-4 5l6 0m-6 0l4 5m-4-5l-1 6m1-6l-6 0m6 0l-2-5m-5 185l-6 1m6-1l-4-3m4 3l3-6m-3 6l6 0m-6 0l5 3m-5-3l-1 5m6 15l-5 5m5-5l-6-2m6 2l-1-5m1 5l6-3m-6 3l5 6m-5-6l-2 7m23-243l4-6m-4 6l7-1m-7 1l3 6m-3-6l-4 4m4-4l-5-2m5 2l-3-5m-1 19l4-5m-4 5l6 0m-6 0l2 6m-2-6l-3 4m3-4l-5 1m5-1l-2-6m4 29l1-4m-1 4l6 2m-6-2l3 6m-3-6l-4 6m4-6l-7 0m7 0l-2-3m-3 182l-3 3m3-3l-4-2m4 2l0-5m0 5l4-3m-4 3l6 3m-6-3l1 5m5 12l-5 2m5-2l-4-3m4 3l0-7m0 7l5-4m-5 4l6 2m-6-2l0 6m20-222l3-3m-3 3l5 2m-5-2l0 6m0-6l-3 4m3-4l-6-2m6 2l-2-7m3 229l-4 6m4-6l-4-1m4 1l0-4m0 4l5-3m-5 3l6 2m-6-2l2 6m21-231l4-3m-4 3l4 3m-4-3l-1 6m1-6l-6 3m6-3l-6-3m6 3l-1-5m0 28l5-3m-5 3l5 2m-5-2l-1 7m1-7l-4 2m4-2l-6-2m6 2l0-6m-1 204l-3 4m3-4l-5-1m5 1l-4-5m4 5l3-6m-3 6l6 1m-6-1l1 4m19-223l5-2m-5 2l5 2m-5-2l1 5m-1-5l-5 4m5-4l-5-3m5 3l1-4m-3 28l5-3m-5 3l6 2m-6-2l-2 5m2-5l-5 3m5-3l-4-5m4 5l0-6m2 180l-3 5m3-5l-5-1m5 1l-4-5m4 5l2-7m-2 7l7-1m-7 1l4 3m-3 21l-2 5m2-5l-6 1m6-1l-4-6m4 6l2-6m-2 6l6-1m-6 1l5 4m22-199l6-1m-6 1l3 5m-3-5l-3 6m3-6l-5 0m5 0l-3-5m3 5l2-6m-6 24l5 0m-5 0l5 5m-5-5l-3 3m3-3l-5 0m5 0l-3-5m3 5l3-5m-3 138l0 6m0-6l-6 3m6-3l-6-3m6 3l1-4m-1 4l4-2m-4 2l7 3m-6 20l-2 6m2-6l-5 3m5-3l-4-5m4 5l0-5m0 5l5-1m-5 1l4 2m21-179l6 0m-6 0l3 4m-3-4l-5 4m5-4l-5-1m5 1l-4-4m4 4l2-4m-9 26l5 1m-5-1l3 4m-3-4l-4 4m4-4l-6-1m6 1l-2-5m2 5l2-5m5 21l6 3m-6-3l1 6m-1-6l-4 4m4-4l-4-1m4 1l-2-6m2 6l5-4m-5 93l1 6m-1-6l-3 4m3-4l-7-2m7 2l-3-4m3 4l4-4m-4 4l4 1m-6 25l2 5m-2-5l-4 3m4-3l-4-1m4 1l-1-5m1 5l5-4m-5 4l6 4m-4 19l0 5m0-5l-4 3m4-3l-5-4m5 4l-1-5m1 5l4-3m-4 3l4 3m13-156l4 2m-4-2l0 5m0-5l-3 5m3-5l-4-2m4 2l-2-5m2 5l4-5m-4 25l6 3m-6-3l0 5m0-5l-4 4m4-4l-6-2m6 2l0-4m0 4l4-4m1 25l5 4m-5-4l-1 5m1-5l-6 1m6-1l-5-3m5 3l0-5m0 5l4-3m-11 27l4 4m-4-4l-1 4m1-4l-6 0m6 0l-4-3m4 3l2-6m-2 6l5-2m-3 24l4 4m-4-4l-2 5m2-5l-7-1m7 1l-3-5m3 5l3-6m-3 6l5-2m-7 21l3 5m-3-5l-2 4m2-4l-6 0m6 0l-2-5m2 5l3-4m-3 4l6 0m-4 26l0 5m0-5l-4 4m4-4l-6-3m6 3l0-6m0 6l4-3m-4 3l5 3m13-90l5 2m-5-2l0 7m0-7l-4 2m4-2l-4-5m4 5l1-6m-1 6l4-3m-1 19l3 3m-3-3l-3 6m3-6l-5 0m5 0l-4-6m4 6l1-5m-1 5l6-2m-8 25l3 4m-3-4l-2 4m2-4l-6-1m6 1l-3-6m3 6l1-5m-1 5l7 1" stroke="#4a5ad0" stroke-opacity="0.55" stroke-width="1.6"/>
<path d="M942 826l10 0-2 1m2-1l-2-2m-33 38l9 5-3 0m3 0l-1-3m-8-4l11 4-3 0m3 0l-2-2m-16 10l10 7-3 0m3 0l-1-3m0 2l9 6-3 0m3 0l-1-2m-6-7l9 6-3 0m3 0l-2-2m-63 36l3 12-2-3m2 3l1-3m-35 5l0 11-1-2m1 2l1-2m1-9l-2 11-1-3m1 3l2-2m-21-20l-3 12-1-3m1 3l2-2m-35-31l-9 9 1-3m-1 3l3-1m7-7l-8 10 1-3m-1 3l3-2m-10-146l-8-7 3 1m-3-1l1 3m21-3l-8-8 2 1m-2-1l0 3m6 6l-7-9 3 1m-3-1l0 3m37 0l-3-10 2 2m-2-2l0 3m54 0l2-11 1 2m-1-2l-1 2m2-1l4-11 0 3m0-3l-2 2m-5 8l3-11 1 3m-1-3l-2 2m51 62l9-7-1 2m1-2l-3 0m11-5l8-6-1 3m1-3l-2 1" stroke="#6f86e0" stroke-opacity="0.8" stroke-width="1.3"/>
<path d="M752 805l-9 0m10 7l-10 1m7 10l-7-2 2 0m-2 0l2 2m9 40l-10-1 3-1m-3 1l2 1m13-51l-7-6 3 1m-3-1l1 3m4 1l-10 3m9 13l-8 0 3-1m-3 1l3 1m4 26l-7 4m17-62l-10-5 3 0m-3 0l2 2m7 55l-10 0m13 12l-10 0 2-1m-2 1l2 1m9-89l-6-4 3 0m-3 0l1 2m15-4l-8-7 2 1m-2-1l1 3m8 10l-11-6 3 0m-3 0l2 3m4 16l-3-7 2 1m-2-1l0 3m6 95l-3 7-1-3m1 3l2-1m7-124l-4-6m1 16l-6-10m12 12l-9-3m6 121l-6 4 1-2m-1 2l2 0m11-130l-3-9 2 2m-2-2l0 2m1 17l-3-9m3 128l-4 9m14-2l-9 8 1-3m-1 3l3-1m3 5l0 9m10-171l-2-9 2 2m-2-2l-1 2m4 16l-4-7 2 2m-2-2l0 3m2 143l0 10-1-2m1 2l1-2m7-161l-2-11 2 2m-2-2l-1 3m4 10l-5-5m11 8l1-10 1 2m-1-2l-2 2m8 10l1-7m-2 162l1 8-2-2m2 2l1-2m1-1l0 8m3-178l1-8m8 11l1-11m9 7l3-11 1 2m-1-2l-2 2m14 17l2-6m-3 15l2-10 1 2m-1-2l-2 2m7 1l1-12 1 3m-1-3l-2 3m0 9l6-5m0 152l9 6-3 0m3 0l-1-2m1-142l0-9 1 3m-1-3l-1 3m2 17l3-11 0 3m0-3l-2 2m-4 142l5 10m7-27l6 6-2-1m2 1l-1-3m-7 12l8 6m-1-144l7-4-1 2m1-2l-2 0m4 26l7-5m-3 73l8 1m-7 8l7 0m-9 20l8 1m-1-65l8-4m-7 7l9-1m-6 42l9 3m-11 1l7 7m0-42l9-2m-8 29l8-2-3 2m3-2l-3 0m-7 2l8 7" stroke="#6f86e0" stroke-opacity="0.7" stroke-width="1.2"/>
<path d="M695 791l9-14 0 3m0-3l-2 1m18 19l-16-1 3-2m-3 2l3 1m8 26l-10 0 3-1m-3 1l3 2m3-3l-5 10 0-3m0 3l2-1m1-3l-3-17 2 2m-2-2l-1 2m11 38l-18 0 3-1m-3 1l3 1m6 26l-3-12 2 2m-2-2l-1 2m24-130l10-6-2 3m2-3l-3 0m1 33l-10-6 3 0m-3 0l1 2m11-1l-10-9 2 1m-2-1l1 3m13 0l-14 8 2-2m-2 2l3 0m6 23l-14-2 3-1m-3 1l2 2m15 6l-17-3 3 0m-3 0l2 2m3-12l-4 17-1-3m1 3l2-2m7 18l1-11 1 3m-1-3l-1 3m-1 3l-3-10 2 2m-2-2l-1 3m7 9l-10-2 3-1m-3 1l2 1m11 32l-1-17 1 2m-1-2l-2 3m8 9l-11-1 3-2m-3 2l2 1m2 4l-3-14 2 2m-2-2l-1 3m-3 17l4 17-2-2m2 2l1-3m-4-8l-4-13 2 2m-2-2l0 3m9 3l-17 2 2-2m-2 2l3 1m8 22l7 11-2-1m2 1l0-3m-4-4l1-11 1 3m-1-3l-1 2m-3 2l-1 15-1-2m1 2l2-2m11 24l-3-11 2 2m-2-2l-1 3m8 5l-11-10 3 0m-3 0l1 2m3 2l-14 10 1-3m-1 3l3-1m4 22l-4-16 2 2m-2-2l-1 3m28-194l-8-7 3 1m-3-1l1 3m0 31l6-12 0 2m0-2l-3 1m10 1l-17 6 2-3m-2 3l3 0m-1 1l4-14 1 3m-1-3l-2 2m14 26l-8 7 1-2m-1 2l3 0m6-5l-10 11 1-2m-1 2l3-1m-1-8l10-5-2 3m2-3l-3 0m-13 17l-2 14-1-3m1 3l1-2m4 10l2-13 1 3m-1-3l-1 2m5-10l-12 13 1-2m-1 2l3-1m3 11l4 17-2-2m2 2l1-3m-7 5l2-10 1 3m-1-3l-1 2m13-1l-16-1 3-1m-3 1l3 2m0 55l-3-13 2 2m-2-2l0 3m13 3l-18 1 2-1m-2 1l2 1m8 8l2-14 1 2m-1-2l-2 2m6 9l3 14-2-2m2 2l0-2m-8-12l7 13-2-1m2 1l0-3m-3 10l-7-13 2 2m-2-2l0 3m15 15l-12 5 2-2m-2 2l3 1m2-2l-10 3 2-2m-2 2l3 0m-4-13l10 7-3-1m3 1l-1-3m-7 29l-6-10 3 2m-3-2l0 3m13-1l-7 6 1-2m-1 2l3 0m-4-12l4 14-2-2m2 2l1-2m5 32l-13-2 3-1m-3 1l2 2m34-216l-9-14 3 1m-3-1l0 3m12 5l-17 1 2-2m-2 2l2 1m1 8l8-15 0 3m0-3l-2 2m3 29l11-10-1 2m1-2l-3 0m4-2l-16 4 2-2m-2 2l2 0m5 3l-8-11 3 1m-3-1l1 3m-1 150l-14 11 2-3m-2 3l3-1m10 0l-5-15 2 2m-2-2l-1 3m12 8l-13-11 3 0m-3 0l1 2m14 42l-9-15 3 2m-3-2l0 3m18 7l-14-3 2-1m-2 1l2 2m-5-13l9 14-3-2m3 2l-1-3m-11 23l11 6-3 0m3 0l-1-2m13-1l-17-7 3 0m-3 0l2 2m-3-4l12 3-3 0m3 0l-2-2m-2-231l10-8-1 3m1-3l-2 0m10 33l-1-12 1 2m-1-2l-1 3m3 5l-4-12 2 2m-2-2l-1 3m5 1l-9 9 1-2m-1 2l3-1m-1 14l11-3-2 2m2-2l-3 0m4-2l-13 11 1-3m-1 3l2-1m16-10l-17 3 2-2m-2 2l2 1m0 186l-13-9 3 1m-3-1l2 3m19 1l-16-3 3-1m-3 1l2 2m5 1l-10 0 2-1m-2 1l2 2m15 13l-1 17-1-3m1 3l2-2m-6-20l-3 12-1-3m1 3l2-2m-6 2l16 6-3 0m3 0l-2-2m-18 12l15 5-2 1m2-1l-1-2m12-256l12-5-1 2m1-2l-2 0m1 15l1-16 1 2m-1-2l-1 2m1 8l-16-6 2-1m-2 1l1 2m-2 11l14 0-2 1m2-1l-2-2m-1 3l-14-3 2-1m-2 1l2 2m12 8l1-17 1 2m-1-2l-1 2m11 38l-16-2 3-1m-3 1l2 1m6-1l-1-10 2 2m-2-2l-1 2m-1 8l0-16 1 2m-1-2l-2 2m-7 183l15 2-3 1m3-1l-2-1m-9 10l-10-4 3 0m-3 0l2 2m11-5l-8-7 2 0m-2 0l0 2m18 23l-12 1 2-1m-2 1l2 1m9 2l-16-6 3 0m-3 0l2 2m2 2l15 3-2 1m2-1l-2-2m-14 16l-5 13-1-3m1 3l2-2m40-271l-12 6 2-2m-2 2l3 0m-3 25l5-17 0 3m0-3l-2 2m-8 14l10-5-2 3m2-3l-3 0m9-4l-13 4 1-2m-1 2l2 1m-3 217l14 5-3 1m3-1l-2-2m-10 2l10 3-2 1m2-1l-2-2m1-6l-12 7 2-3m-2 3l3 0m12 12l-13-1 3-1m-3 1l2 1m25-259l12 3-2 0m2 0l-2-2m-13 16l11-2-2 2m2-2l-3-1m-17 0l16 6-2 0m2 0l-2-2m3 9l-1-17 1 2m-1-2l-1 2m-9 30l16 9-3 0m3 0l-2-2m1-8l-12-5 2 0m-2 0l1 2m-3 11l0-16 2 3m-2-3l-1 3m-4 209l14-5-1 2m1-2l-2 0m-12 5l15-5-2 2m2-2l-3 0m0 2l-17 2 2-1m-2 1l3 1m8 25l13-1-3 1m3-1l-3-2m23-262l-15-3 3-1m-3 1l2 2m-6 16l12 10-2-1m2 1l-1-3m-9-10l9 4-3 0m3 0l-2-2m-5 11l5-10 0 3m0-3l-2 2m4 33l-15-9 3 0m-3 0l2 2m15 0l-14-4 2-1m-2 1l2 2m7 2l-11 1 2-2m-2 2l2 1m7 177l12-10-1 3m1-3l-3 1m-13 9l14-6-2 3m2-3l-3 0m1-1l-10 3 2-2m-2 2l3 1m4 16l-12 11 1-3m-1 3l2-1m17-8l-12 6 2-3m-2 3l3 0m-1-16l1 14-1-2m1 2l2-3m9 17l-14 11 1-2m-1 2l3 0m35-244l-6-8 3 1m-3-1l0 3m6 25l-15-6 2 0m-2 0l1 3m9 10l-6-11 2 1m-2-1l0 2m6 9l-12-8 3 0m-3 0l2 2m-3 16l9 4-3 0m3 0l-1-2m-7-5l16 7-3 1m3-1l-2-2m-11 0l5-9 0 3m0-3l-2 2m-1 153l6-14 0 3m0-3l-2 2m-16 3l16-6-2 2m2-2l-3-1m-10 5l10-3-2 2m2-2l-3-1m-4 27l8 7-2 0m2 0l-1-2m-5-12l8 11-2-1m2 1l0-3m0-7l-8 6 1-3m-1 3l2 0m0 21l12-8-1 3m1-3l-3 0m13-203l-5-12 2 1m-2-1l-1 3m4 12l9 12-2-1m2 1l0-2m-7-4l10 7-3 0m3 0l-1-3m-9-6l10 7-2 0m2 0l-1-3m-18 21l7 11-3-2m3 2l-1-3m-4-9l12 13-2-1m2 1l0-3m-6-8l8-7-1 3m1-3l-3 0m4 30l-3-14 2 3m-2-3l-1 3m4-3l2 17-2-2m2 2l1-3m-16-5l13-9-2 2m2-2l-3 0m-2 99l0-11 2 2m-2-2l-1 2m2 7l12 4-3 0m3 0l-2-2m-4-12l-8 11 1-3m-1 3l3-1m2 30l3-14 1 3m-1-3l-2 2m7 2l-11 7 1-2m-1 2l3 0m-5-2l14 7-3 0m3 0l-2-3m-10 15l9 10-2-1m2 1l0-3m-5-9l-6 16-1-3m1 3l2-2m0-7l12 8-3 0m3 0l-1-3m-8 7l-11 10 1-2m-1 2l2 0m28-196l-14-8 3 0m-3 0l1 2m3 22l5 8-2-1m2 1l0-2m3 0l-8-10 3 1m-3-1l1 2m5-1l10 10-3-1m3 1l-1-3m-6 30l-6-14 2 2m-2-2l0 3m8-8l1 14-1-3m1 3l1-3m-16 1l13-5-2 2m2-2l-3 0m2 18l2 11-1-3m1 3l1-3m5-10l-1 15-1-2m1 2l2-2m-1 3l-9-12 2 1m-2-1l0 2m-10 18l6 13-2-2m2 2l0-3m2-13l1 17-1-2m1 2l2-3m-5-6l1 13-2-2m2 2l1-3m0 9l-3 14-1-3m1 3l2-2m-9-10l13 7-3 0m3 0l-2-2m0 3l4-13 1 2m-1-2l-2 2m-10 29l3-15 1 3m-1-3l-2 2m13 8l-11 9 1-3m-1 3l3-1m-5-4l7-9 0 3m0-3l-2 1m-2 24l-2 11-1-2m1 2l2-2m0-4l14 5-3 0m3 0l-2-2m-8 4l5-15 0 3m0-3l-2 2m-3 23l-12 6 1-3m-1 3l2 0m28-131l10-1-2 2m2-2l-2-1m-15 25l13-1-2 2m2-2l-3-1m-5-9l5 15-2-1m2 1l0-2m4 1l-4-12 2 2m-2-2l0 3m-10 18l13 2-3 1m3-1l-3-2m2 17l5-17 0 3m0-3l-2 2m-3 0l-3 10 0-3m0 3l2-2m3 5l-7 16 0-3m0 3l2-2m-3 7l-2-15 2 3m-2-3l-1 3m4 17l1-18 1 3m-1-3l-2 3m-1 23l9 5-3 0m3 0l-1-3" stroke="#6f86e0" stroke-opacity="0.65" stroke-width="1.4"/>
<path d="M977 829l0 6-1-2m1 2l1-2m-3 6l1-6 1 2m-1-2l-1 2m-4 19l2-6 0 2m0-2l-2 1m-3 22l-2 5 0-2m0 2l2-1m-4 9l-2 6 0-2m0 2l1-2m-6 9l3-5 0 2m0-2l-2 1m-8 14l-4 5 1-2m-1 2l2-1m-9 8l4-4-1 2m1-2l-2 0m-8 12l-4 4 0-2m0 2l2-1m-13 7l5-4-1 2m1-2l-2 1m-15 12l5-3-1 1m1-1l-2 0m-16 9l-6 2 2-2m-2 2l2 0m-8 2l-6 2 2-1m-2 1l2 1m-7 2l6-2-1 2m1-2l-2 0m-22 6l6-1-2 2m2-2l-2 0m-15 0l6 0-1 1m1-1l-1-1m-23-2l-6-1 2 0m-2 0l2 1m-12 1l6 1-2 1m2-1l-2-1m-19-4l6 2-2 0m2 0l-1-2m-11-6l-6-3 2 0m-2 0l1 2m-7-5l6 3-2 0m2 0l-2-2m-22-12l-5-3 2 0m-2 0l1 1m-4-5l4 4-2 0m2 0l-1-2m-13-8l4 4-2 0m2 0l0-1m-14-20l-3-5 2 1m-2-1l0 2m-2-6l3 5-2-1m2 1l0-2m-10-15l2 5-1-1m1 1l0-2m-11-19l2 6-1-1m1 1l1-2m-3-16l-1-6 1 2m-1-2l-1 2m-2-12l0-6 1 2m-1-2l-1 2m-1-11l0 6-1-2m1 2l1-2m1-16l1-6 1 2m-1-2l-1 2m2-15l1-5 1 2m-1-2l-1 1m2-4l1-6 1 2m-1-2l-1 2m8-11l3-5 0 2m0-2l-2 1m6-10l3-5 0 2m0-2l-1 1m4-8l-4 5 1-2m-1 2l2-1m13-16l-4 5 1-2m-1 2l2-1m8-9l5-4-1 2m1-2l-2 0m10-7l5-4-1 2m1-2l-2 1m8-5l5-3-1 1m1-1l-2 0m10-2l-6 2 2-1m-2 1l2 1m18-12l-5 2 1-2m-1 2l1 0m16-3l6-1-2 1m2-1l-2-1m11 1l-6 0 2-1m-2 1l2 1m23-4l-6 0 2-1m-2 1l2 1m13-2l6 0-2 1m2-1l-2-1m16 6l6 2-2 0m2 0l-2-2m7 1l-6-2 2 0m-2 0l2 1m18 6l-5-2 2 0m-2 0l1 2m17 11l-5-3 2 0m-2 0l1 2m17 6l5 4-2 0m2 0l-1-2m4 8l-4-4 2 1m-2-1l0 2m17 11l-4-4 2 1m-2-1l1 2m8 13l3 5-2-1m2 1l0-2m8 13l-3-5 2 1m-2-1l0 2m9 11l-2-5 1 1m-1-1l-1 2m9 19l2 5-2-1m2 1l0-2m-1 12l-1-6 1 1m-1-1l-1 2m6 19l1 6-2-2m2 2l0-2" stroke="#6f86e0" stroke-opacity="0.6" stroke-width="1.2"/>
<path d="M890 828l11 0-3 2m3-2l-3-1m23-1l12 1-3 1m3-1l-2-1m1 2l11 1-3 1m3-1l-3-2m-8-1l11-1-3 2m3-2l-3-1m-67 17l10 4-3 0m3 0l-2-3m9 6l10 5-3 0m3 0l-2-3m0 4l11 3-3 1m3-1l-2-2m2 1l9 4-3 0m3 0l-1-2m-51-14l10 6-3 0m3 0l-2-3m9 8l9 5-3 0m3 0l-1-2m1 2l10 7-3 0m3 0l-1-3m0 2l10 6-3 0m3 0l-1-2m-7-6l9 6-3 0m3 0l-1-2m-20 31l5 10-3-2m3 2l0-3m-4-8l5 10-2-2m2 2l0-3m-42-20l4 11-2-1m2 1l0-2m-2-10l3 12-2-2m2 2l1-3m-1 2l2 10-2-2m2 2l1-3m-2 2l2 13-2-2m2 2l1-3m-1 2l3 11-2-2m2 2l0-3m-29-37l0 13-1-3m1 3l2-3m-4 1l0 10-2-2m2 2l1-2m-2 1l1 13-2-2m2 2l1-3m-2 2l0 11-1-2m1 2l2-2m-1-81l-3 12-1-3m1 3l2-2m-4 11l-2 11-1-3m1 3l2-2m-5 0l-3 12 0-3m0 3l2-2m-6 20l-3 12-1-2m1 2l2-2m3-9l-2 12-1-3m1 3l1-2m-27-37l-7 10 0-3m0 3l3-1m-4-1l-7 7 1-2m-1 2l3 0m2-32l-10 7 1-3m-1 3l3 0m-11 5l-9 6 1-3m-1 3l3 0m63-48l-10 4 2-2m-2 2l3 0m-34 10l-11 2 3-2m-3 2l3 1m-2-2l-11 3 2-2m-2 2l2 1m-1 0l-10 4 2-3m-2 3l3 0m8-2l-10 3 2-2m-2 2l3 0m-3-2l-9 4 2-3m-2 3l3 0m10-36l-12-1 3-1m-3 1l3 2m9 1l-12-1 3-1m-3 1l3 2m81-2l-12-3 3-1m-3 1l2 2m-9-7l-12-2 3-1m-3 1l3 2m-12-6l-11-3 3-1m-3 1l3 2m8 3l-11-3 3 0m-3 0l2 2m-11-4l-10-3 3-1m-3 1l2 2m-1-2l-11-1 3-1m-3 1l2 1m23-36l-10-8 3 1m-3-1l1 3m56 38l-8-8 2 0m-2 0l0 3m7 6l-6-10 2 1m-2-1l0 3m-28-36l-6-8 3 2m-3-2l1 3m4 6l-6-8 3 1m-3-1l1 3m57 58l-5-10 3 2m-3-2l0 3m-17-49l-4-12 2 2m-2-2l-1 3m-6-9l-5-11 2 1m-2-1l0 3m39 36l-2-11 2 2m-2-2l-1 3m4-2l1-11 1 3m-1-3l-2 3m-1 8l0-11 1 3m-1-3l-2 3m2-2l0-12 1 3m-1-3l-2 3m4-2l-1-12 2 2m-2-2l-1 3m0 10l-2-13 2 2m-2-2l-1 3m18 43l2-10 1 3m-1-3l-2 2m23 17l6-11 0 3m0-3l-3 2m2 0l7-9-1 3m1-3l-3 1m-5 7l7-8 0 2m0-2l-2 1m12-18l8-10 0 3m0-3l-3 1m-42 80l11-7-1 3m1-3l-3 0m-9 5l11-7-2 2m2-2l-3 0m12-2l9-6-2 2m2-2l-3 0m9-6l10-6-1 2m1-2l-3 0m21-10l9-6-1 2m1-2l-3 0m-75 50l11-5-2 3m2-3l-3 0m60-20l10-4-1 2m1-2l-3 0" stroke="#62b4ec" stroke-opacity="0.8" stroke-width="1.3"/>
<path d="M752 796l-6-4m3 46l-8-4 3 0m-3 0l2 2m8 19l-9-2m16-52l-7-2m7 43l-8-2m5 23l-6 4 2-3m-2 3l3-1m6 9l-8 1 2-1m-2 1l3 1m12-104l-9-6 3 0m-3 0l1 2m6 12l-5-10 2 2m-2-2l0 3m6 17l-8-6 2 0m-2 0l1 2m9 11l-11 2 2-1m-2 1l3 1m4 20l-9-4m12 10l-11-4 3-1m-3 1l2 2m7 37l-9 7m10 0l-7 8m7-3l-5 8 0-3m0 3l2-2m10-88l-8-5m6 90l-8 2m12-102l-4-7 2 1m-2-1l0 3m8 69l-9 7m8 21l-4 9m2 11l-2 10-1-2m1 2l1-2m5-3l-6 5 1-2m-1 2l2 0m10-147l-4-8 2 1m-2-1l0 2m5 30l-10-5 3 0m-3 0l1 2m9 15l-10-2m10 10l-8-5 3 0m-3 0l1 2m6 55l-7 7m7 16l-9 1 2-2m-2 2l3 1m3 15l-3 7m7 4l-9 3m15-151l-5-9 2 2m-2-2l0 3m5 57l-8-2m7 26l-7 3m8 15l-8 6m7 33l-10 7m9 7l-7 5m9 1l-8 8 1-2m-1 2l3-1m11-168l-5-6 3 1m-3-1l1 3m3 10l-10-6 3 0m-3 0l2 2m6 10l-5-7m8 119l-7 7 1-3m-1 3l2-1m6 15l-11 5 2-2m-2 2l3 0m5 7l-2 10m7-165l-4-8m3 16l-3-8m10 13l-9-6 2 0m-2 0l1 3m4 147l-6 4 1-3m-1 3l3-1m5 5l-7 6 1-3m-1 3l2-1m11-123l-5-8 2 2m-2-2l0 3m3 87l-9 5m14-127l-4-7 2 1m-2-1l0 2m4 17l-1-9m4 84l-8 4 1-2m-1 2l2 0m8 41l-8 7m0 8l0 12-1-2m1 2l1-2m4 7l-2 8m7-186l-4-9 2 1m-2-1l0 2m1 45l1-8m4 57l-9 0 2-1m-2 1l2 2m7 16l-10 5m7 54l-1 11-1-2m1 2l1-2m-1-3l1 9-1-2m1 2l1-2m5 0l-8 9m10-150l0-11 1 2m-1-2l-1 2m1 14l-4-7m6 19l-6-6m6 32l-2-11m2 29l-10 5 1-2m-1 2l2 0m8 54l-2 11m10-155l-5-10 2 1m-2-1l0 2m0 22l4-8 0 2m0-2l-2 1m-3 98l2 9m5-77l3-10 1 2m-1-2l-2 2m0 9l4-6m-6 89l2 11-1-2m1 2l1-2m0 13l3 10-2-2m2 2l0-3m4-160l-3-10m6 17l-5-9m-2 98l3 8-2-1m2 1l0-2m1 17l2 10-2-2m2 2l1-3m-6 32l3 11-2-2m2 2l1-3m5-151l0-8m-1 29l1-8m-4 60l5 6m-2 38l1 11m-1 2l2 10-2-2m2 2l1-2m-5 7l2 7-1-1m1 1l1-2m2 1l-2 7m-2 0l3 8-2-2m2 2l0-3m1-179l4-11 0 3m0-3l-2 2m2 21l4-8m-3 16l-2-10 2 2m-2-2l-1 3m-2 12l8-9 0 3m0-3l-2 1m-5 45l7-4-1 2m1-2l-2 0m-6 20l6-10 0 3m0-3l-2 2m-5 11l7-1-2 2m2-2l-2-1m-2 36l3 7m-2 9l5 9-2-1m2 1l0-2m-5 2l3 11-2-2m2 2l0-3m-8 1l7 9m-5 5l4 8m1-3l0 11-2-2m2 2l1-2m-4-3l6 10-2-1m2 1l0-3m2-160l4-10m-7 158l7 9-2-1m2 1l0-2m-8-2l5 10-2-2m2 2l0-3m3-166l5-6 0 3m0-3l-2 1m-3 12l3-7m-2 17l6-8-1 3m1-3l-3 1m-4 28l4-10 1 3m-1-3l-2 2m-4 25l10-7m-5 92l1 12-2-3m2 3l1-3m-4 6l5 5m6-172l0-8m-4 19l0-12 1 2m-1-2l-1 2m-3 31l7-5-1 3m1-3l-3 1m2 112l3 7m-3 10l2 8m-7-1l7 10m2-146l8-8-1 3m1-3l-2 1m-10 26l12-3m-8 5l9-1m-12 46l11 5-3 0m3 0l-2-2m-8 22l7 6m-7 1l8 6m-8 6l7 9m-6-1l8 6-3-1m3 1l-1-3m-1-136l8-5-1 2m1-2l-2 0m-9 52l9 0-2 1m2-1l-2-1m-3 23l10 3m-9 50l3 7-2-2m2 2l0-3m-7 11l10 4m-6-2l5 9m-8-1l10 5-2 0m2 0l-1-2m-2-142l10-6-2 3m2-3l-3 0m-7 63l6-4m-8 42l9 4-3 0m3 0l-2-2m-1 29l4 6-2-1m2 1l0-3m0-122l6-10 0 3m0-3l-2 2m-3 18l8-9-1 2m1-2l-3 1m-8 11l8-1m-5 5l7-4-1 2m1-2l-3 0m-5 12l8-6m-8 13l10-6-1 3m1-3l-2 0m-10 9l11-1m-11 14l7 1m-4 23l8 5-3-1m3 1l-1-3m-7 28l4 9m-2 4l5 4-2 0m2 0l-1-2m-7 2l6 6-3-1m3 1l-1-3m2-122l5-7 0 3m0-3l-2 1m-2 27l4-7 0 2m0-2l-2 1m-2 15l5-5m-10 12l8 1m-3 3l7 1-2 1m2-1l-2-1m-7 10l7-1-2 1m2-1l-2-1m-5 24l9 1-3 1m3-1l-3-2m-6 22l11 3-2 1m2-1l-2-2m-6 15l3 7-2-2m2 2l0-3m-6 5l3 8-2-1m2 1l1-2m2-120l9-1-2 1m2-1l-2-1m-7 9l8-5m-6 43l9 2-3 1m3-1l-2-2m-7 8l8-1-2 2m2-2l-2-1m-7 13l7-3m-7 5l9 7-3 0m3 0l-1-2m-11 20l12 0m-2-76l7-8 0 2m0-2l-2 1m-5 10l9 1m-11 7l10-1-2 1m2-1l-3-1m-7 39l11 0m-2-24l5-5-1 3m1-3l-2 1m-5 11l11-6-2 2m2-2l-3 0m-10 24l9 4-3 1m3-1l-2-2m-6 4l8 5-3 0m3 0l-2-2m-2-29l12-3-2 2m2-2l-2 0m-8 17l10-5-2 2m2-2l-3 0" stroke="#62b4ec" stroke-opacity="0.7" stroke-width="1.2"/>
<path d="M869 826l10 0-2 1m2-1l-2-1m-22 10l9 5-3 0m3 0l-2-2m-4 2l9 5-3 0m3 0l-1-2m10 5l9 6-3 0m3 0l-2-3m1 2l9 7-3-1m3 1l-1-3m-42-18l8 10-3-1m3 1l-1-3m5 11l8 9-3-1m3 1l-1-3m-3 4l8 9-3-1m3 1l-1-3m0 3l6 10-3-1m3 1l0-3m5 9l7 8-3-1m3 1l-1-3m-47-53l4 11-3-2m3 2l0-3m1 2l3 10-2-2m2 2l1-3m6 34l3 10-2-2m2 2l1-3m-26-36l0 11-1-2m1 2l1-2m1 23l0 11-1-3m1 3l2-3m-18-7l-4 10 0-3m0 3l3-2m1-58l-8 9 0-3m0 3l2-1m-9-10l-10 7 2-3m-2 3l3 0m-26 19l-10 5 1-2m-1 2l3 0m44-43l-11 5 2-2m-2 2l3 0m9-3l-12 4 2-2m-2 2l3 1m-2-3l-12 2 2-2m-2 2l3 1m10-1l-12 5 2-3m-2 3l3 0m-3-4l-12 4 2-2m-2 2l3 1m37-22l-12-1 3-1m-3 1l2 1m-1 0l-11 0 2-1m-2 1l2 1m-21 1l-11-1 2-1m-2 1l2 2m-1-5l-13 0 3-1m-3 1l3 1m60-4l-10-3 3-1m-3 1l2 2m-32-10l-10-3 2 0m-2 0l2 2m8 2l-11-2 3-1m-3 1l2 2m51-2l-6-7 2 1m-2-1l0 3m-24-20l-9-9 3 1m-3-1l1 3m52 39l-6-9 2 1m-2-1l0 3m4 8l-8-8 3 1m-3-1l1 3m-13-19l-8-10 3 1m-3-1l1 3m0-2l-8-9 3 1m-3-1l0 3m2-3l-7-11 2 2m-2-2l0 3m0-1l-7-9 3 1m-3-1l1 3m40 33l-3-10 2 2m-2-2l-1 3m-1-11l-4-10 2 2m-2-2l-1 3m22 28l-2-10 2 2m-2-2l-1 2m3-2l-2-11 2 3m-2-3l-1 3m5-2l0-11 2 3m-2-3l-1 3m6 40l3-10 1 3m-1-3l-2 2m3-12l4-11 1 3m-1-3l-2 3m-3 8l1-11 1 2m-1-2l-2 2m3-1l1-11 1 3m-1-3l-2 3m4-1l2-10 1 3m-1-3l-2 2m3-1l2-10 1 2m-1-2l-2 2m1-2l3-12 1 3m-1-3l-2 3m8 43l7-8-1 3m1-3l-3 1m15-16l7-11-1 3m1-3l-3 2m-41 66l11-5-2 2m2-2l-3 0m28-17l9-6-2 3m2-3l-3 1m3 2l10-8-1 3m1-3l-3 1m-38 31l9-4-1 2m1-2l-3-1m21-8l11-4-2 3m2-3l-3 0m2 2l12-4-2 2m2-2l-3 0m1-2l11-4-2 2m2-2l-3 0" stroke="#7ee2ec" stroke-opacity="0.8" stroke-width="1.3"/>
<path d="M774 814l-11 1m9 8l-11-1 2-1m-2 1l2 1m7 23l-11 1m12 4l-8 6m16-64l-10-7m10 16l-10 2 2-2m-2 2l3 0m6 39l-9-2m13-58l-6-5 2 1m-2-1l1 3m7 19l-12 1m13 5l-10 0 3-1m-3 1l3 1m4 15l-7 0 2-1m-2 1l2 2m6 1l-11 4 2-2m-2 2l3 0m11 8l-8-3 2-1m-2 1l1 2m6 3l-7 1 3-2m-3 2l3 1m4 6l-9 1 2-1m-2 1l2 1m5 10l-6 4 1-2m-1 2l2 0m8-83l-4-10 2 1m-2-1l-1 2m6 21l-3-8m5 27l-12 2 2-2m-2 2l2 1m11 18l-10 2 2-1m-2 1l3 1m3 28l-4 7 0-2m0 2l2-1m12-71l-6-7m7 30l-9-1m10 6l-9-5 3 0m-3 0l2 3m6 9l-8-4m4 17l-7 2m11 27l-8 6 1-3m-1 3l3-1m11-62l-7-6m7 10l-9-1m9 5l-7 1m7 11l-9-1 2-1m-2 1l2 1m5 17l-6 6 1-2m-1 2l2 0m5 10l-7 5 1-2m-1 2l3 0m-1-1l-2 11 0-2m0 2l2-2m3 0l-6 7m5-2l-2 11-1-3m1 3l1-2m12-128l-9-7 3 0m-3 0l1 2m5 11l-3-9m5 43l-5-6 2 1m-2-1l0 2m6 65l-6 6m2 4l-1 10-1-2m1 2l2-2m7-121l-7-5m8 46l-11-5m13 41l-8 6 1-3m-1 3l3-1m4 0l-10 4m8 8l-6 4m4 7l-4 9 0-2m0 2l2-1m1 5l0 10m11-99l-4-10m1 50l-4 8 0-3m0 3l2-2m1 53l1 10m6-58l-5 10m15-78l-4-11m3 14l-8-8 3 1m-3-1l1 2m3 27l2-12 1 3m-1-3l-1 2m4 19l-5-11m1 80l-2 11-1-2m1 2l2-2m3-5l-4 8m5 2l-3 10 0-3m0 3l2-2m-2-5l1 8-1-2m1 2l1-3m3-106l-1-7m3 19l2-11m0 17l-6-10 3 1m-3-1l0 2m1 59l1 12m1 0l-4 10m1-1l2 9m7-141l-4-9 2 2m-2-2l0 3m3 13l2-8m-3 22l6-7 0 2m0-2l-2 1m-1 41l0-12m-2 70l1 9-2-2m2 2l1-2m4-114l4-7 0 2m0-2l-2 1m-2 12l4-8m-5 60l8 0-2 1m2-1l-2-1m-1 60l-2 8m11-110l4-7 0 3m0-3l-3 2m-5 9l9-5-2 2m2-2l-3 0m-4 93l4 7m-5 13l8 6m0-112l5-4 0 2m0-2l-2 0m-5 33l11 0m-13 7l12 1m-10 11l8 3m-3 16l5 6-3-1m3 1l-1-3m-8 14l10 4m-1-89l2-8 1 3m-1-3l-1 2m0 20l8-5-2 2m2-2l-3 0m-9 22l12-1m-13 21l10-3m-9 5l7 8m-6 21l9 5-3 0m3 0l-2-2m2-90l6-6-1 2m1-2l-3 1m-6 10l7-3m-8 37l9-7-1 3m1-3l-3 1m6-37l6-5-1 3m1-3l-3 1m-8 45l7-4m-8 9l11 1m-10 24l8 3m-9 3l11-1-2 1m2-1l-3-1m-6 5l9 5m-10 5l7 7-3-1m3 1l-1-3m-4 14l7 7m1-110l4-10 0 3m0-3l-2 2m-4 11l5-7m-5 13l10-7m-10 16l5-5 0 2m0-2l-2 0m-1 37l9-2m-11 41l5 5m-1-48l11 1-2 1m2-1l-2-1m-4 10l8 4-3 0m3 0l-2-2m-4 24l9 0-2 2m2-2l-2-1" stroke="#7ee2ec" stroke-opacity="0.7" stroke-width="1.2"/>
<path d="M848 828l12-2-3 2m3-2l-3-1m-9 1l12-1-3 1m3-1l-3-1m2 2l11 1-3 1m3-1l-3-2m2 3l10 0-2 1m2-1l-2-2m1 2l13 0-3 1m3-1l-3-1m-10-1l13-1-3 2m3-2l-3-1m22 4l12-1-2 2m2-2l-3-1m-74 4l11 6-3 0m3 0l-2-2m2-1l9 5-3 0m3 0l-2-3m0 4l10 4-3 0m3 0l-2-2m-7-4l9 5-3 0m3 0l-1-2m9 6l9 4-3 0m3 0l-2-2m-6-4l8 5-3 0m3 0l-1-2m0 3l10 4-3 0m3 0l-2-2m2 0l11 5-3 0m3 0l-2-3m0 4l10 3-3 0m3 0l-2-2m-66-24l9 5-3 0m3 0l-1-3m-7-4l10 5-3 0m3 0l-2-3m0 4l9 6-3-1m3 1l-2-3m8 8l9 6-2 0m2 0l-1-3m10 5l11 7-3 0m3 0l-1-3m9 8l11 7-3-1m3 1l-2-3m-78-41l7 8-3-1m3 1l-1-3m-4-6l6 8-2-1m2 1l0-3m4 13l8 9-3-1m3 1l-1-3m-5-8l8 9-3-1m3 1l-1-3m-2 4l6 10-2-2m2 2l0-3m2 0l7 9-2-1m2 1l0-2m-1 2l8 9-3-1m3 1l-1-3m-3 5l7 7-3-1m3 1l-1-3m-45-54l3 10-2-2m2 2l1-3m-2-8l3 11-2-2m2 2l0-3m1 12l2 11-2-3m2 3l1-3m-1 1l3 12-2-2m2 2l1-3m-2-9l3 11-2-2m2 2l1-3m-2 3l3 12-2-2m2 2l1-3m-2-10l3 12-2-2m2 2l1-3m-20-47l0 11-1-3m1 3l1-3m1-8l-2 11-1-3m1 3l2-2m-3 1l-1 13-1-3m1 3l2-3m-1 1l-1 11-1-3m1 3l2-3m1 2l-1 11-1-2m1 2l2-2m-5 1l-1 12-1-3m1 3l2-3m3-9l0 12-1-3m1 3l2-3m-5 23l-1 12-1-3m1 3l2-2m-2-82l-1 11-1-3m1 3l2-2m-3 1l-4 12-1-3m1 3l2-2m-1 1l-3 12-1-3m1 3l2-2m4-9l-3 12-1-3m1 3l2-3m-4 1l-4 10 0-3m0 3l2-2m1 2l-2 12-1-3m1 3l2-3m-5 1l-4 11 0-2m0 2l2-2m-1 2l-1 9-1-2m1 2l1-2m15-74l-9 10 1-3m-1 3l3-1m7-8l-8 10 0-3m0 3l2-1m-3-2l-7 8 1-3m-1 3l3-1m-2 0l-7 10 0-3m0 3l2-1m-2 0l-9 9 1-3m-1 3l3-1m8-7l-9 9 1-3m-1 3l3-1m-3 0l-7 8 1-3m-1 3l3-1m5-7l-7 9 0-3m0 3l2-1m-3-1l-9 9 1-3m-1 3l3-1m8-6l-8 9 0-3m0 3l2-1m-2 0l-9 9 1-3m-1 3l3-1m-1 1l-6 8 0-3m0 3l3-1m49-68l-10 7 1-3m-1 3l3 0m9-6l-11 8 2-3m-2 3l3-1m-3-2l-11 6 2-3m-2 3l3 0m9-4l-10 7 2-3m-2 3l3 0m-3-3l-8 6 1-2m-1 2l3 0m6-4l-8 6 2-3m-2 3l3 0m-2-1l-9 8 1-3m-1 3l3-1m-4-3l-9 5 2-2m-2 2l3 0m7-3l-8 6 1-3m-1 3l3-1m-11 6l-10 7 1-3m-1 3l3 0m-3-3l-11 7 2-3m-2 3l3-1m0 2l-9 6 2-2m-2 2l3 0m71-55l-11 5 2-3m-2 3l3 0m8-3l-10 4 2-2m-2 2l3 1m-3-4l-9 4 1-2m-1 2l2 0m-22 8l-12 5 2-3m-2 3l3 0m-3-3l-10 3 2-2m-2 2l3 1m-1 2l-11 4 2-2m-2 2l3 0m66-30l-12 1 2-2m-2 2l2 1m10 0l-12-1 2-1m-2 1l2 2m-1-1l-12 1 2-2m-2 2l2 1m-11-3l-11 1 3-1m-3 1l3 2m-2-3l-11 1 3-2m-3 2l3 1m-12-3l-13-1 3-1m-3 1l3 2m71-5l-12-3 3-1m-3 1l2 2m-2 1l-9-3 3-1m-3 1l2 2m-1-1l-12-4 3 0m-3 0l2 2m0-4l-12-2 3-1m-3 1l2 2m9 2l-11-2 2-1m-2 1l2 2m-20-9l-11-4 3-1m-3 1l2 2m77 17l-9-8 3 1m-3-1l1 3m6 7l-9-7 3 0m-3 0l1 2m2-4l-9-8 3 1m-3-1l1 3m6 7l-9-7 3 0m-3 0l1 2m0-2l-7-7 3 1m-3-1l1 3m1-4l-9-6 3 1m-3-1l2 3m5 5l-8-6 3 0m-3 0l1 2m2-4l-9-9 3 1m-3-1l1 3m7 8l-9-10 3 1m-3-1l1 3m0-2l-8-7 3 1m-3-1l1 3m-8-10l-9-9 3 1m-3-1l1 3m-1-1l-9-9 3 1m-3-1l1 3m-2 0l-8-7 3 1m-3-1l1 3m70 52l-8-8 3 1m-3-1l1 3m5 6l-7-8 2 1m-2-1l0 3m-4-13l-8-9 2 1m-2-1l0 3m1-2l-8-10 3 1m-3-1l1 3m-3 0l-8-9 3 1m-3-1l0 3m45 43l-5-10 2 1m-2-1l0 3m3-3l-5-12 2 2m-2-2l0 3m2-2l-3-10 2 2m-2-2l-1 3m0-2l-4-9 2 2m-2-2l0 3m1 7l-5-9 3 2m-3-2l0 3m1-12l-5-11 3 2m-3-2l0 3m-1-1l-5-12 3 2m-3-2l0 3m34 68l-1-11 2 2m-2-2l-1 2m0 9l-2-11 2 2m-2-2l-1 3m4-2l-1-11 2 3m-2-3l-1 3m0 8l-2-11 2 3m-2-3l-1 3m2-22l-2-11 2 3m-2-3l-1 3m5-2l0-11 2 3m-2-3l-1 2m5 61l3-11 0 3m0-3l-2 2m-4 8l1-11 1 3m-1-3l-1 2m7-10l3-11 1 3m-1-3l-2 2m4-11l2-10 1 3m-1-3l-2 2m2-10l1-11 1 3m-1-3l-2 2m2-1l2-12 1 3m-1-3l-2 2m-12 79l7-9-1 3m1-3l-3 2m3 0l7-11 0 3m0-3l-3 2m-5 8l7-11 0 3m0-3l-3 2m4 1l5-10 0 3m0-3l-3 2m-4 6l6-8 0 3m0-3l-3 1m4 1l6-11 0 3m0-3l-3 1m-5 9l7-11 0 3m0-3l-3 2m4 0l6-8 0 3m0-3l-2 1m-1-2l7-10 0 3m0-3l-3 2m8-9l7-10 0 3m0-3l-2 2m-20 57l10-7-2 3m2-3l-3 1m1-2l8-5-1 2m1-2l-3 0m21-8l9-7-1 3m1-3l-3 0m-7 5l10-6-2 2m2-2l-3 0m-57 42l12-3-2 2m2-2l-3-1m1-2l10-3-2 2m2-2l-3-1m3 3l12-4-2 2m2-2l-3 0m-10 2l11-5-1 2m1-2l-3 0m3 3l10-5-2 3m2-3l-3 0m-8 2l10-3-2 2m2-2l-3 0m3 2l10-5-2 2m2-2l-3 0m1-1l11-5-2 2m2-2l-3 0" stroke="#30d6e6" stroke-opacity="0.8" stroke-width="1.3"/>
<path d="M751 829l-10-3m16-30l-7 0m6 63l-5 6 1-3m-1 3l3-1m9-81l-9-3m12 36l-8-7m14-14l-7-4 3 0m-3 0l2 2m2 10l-8-2 3-1m-3 1l2 2m5 4l-7 1 2-1m-2 1l2 1m11 18l-12 0m9 8l-8-4m10 7l-9 6m7 14l-9 0 2-1m-2 1l2 1m6 5l-7 8m4 8l-3 9m12-90l-5-7m7 23l-11-2 3-1m-3 1l2 2m9 4l-8 3 2-2m-2 2l3 0m6 5l-10 5 1-3m-1 3l2 0m8 0l-10 0 2-2m-2 2l2 1m11 32l-9 1m16-83l-4-8 2 1m-2-1l0 3m8 43l-11-2m10 18l-10 3 2-2m-2 2l3 0m6 8l-9 7 1-3m-1 3l2-1m7 2l-8 9m9 5l-9 4 1-2m-1 2l2 0m12-108l-5-8m0 12l-3-10m9 20l-7-2 2-1m-2 1l1 2m4 22l-8-7m12 12l-10-4 2 0m-2 0l1 2m4 12l-6-6 3 1m-3-1l1 3m9 26l-8-3 2 0m-2 0l2 2m5 14l-8 2m10 4l-11 4 2-2m-2 2l3 0m1-1l-5 6m15-97l-6-5 2 1m-2-1l1 3m4 12l-6-10 2 2m-2-2l0 3m4 23l-3-10m10 16l-11-1m8 9l-8-5m7 27l-8-2m11 18l-8 0m5 1l-11 3 2-2m-2 2l3 1m6 11l-5 6m11-120l2-8m1 23l-5-9 2 1m-2-1l0 2m6 47l-8-8m9 30l-11 1m9 7l-9 5 1-2m-1 2l2 0m5 3l-7 7 1-3m-1 3l2-1m7 0l-8 8m7-3l-3 7m3 25l-2 9-1-2m1 2l1-2m-2 7l0 8-1-3m1 3l1-3m3 5l-6 7 0-2m0 2l2-1m8-158l1-8m-1 28l-3-11 2 2m-2-2l-1 2m9 15l-9-6 3 0m-3 0l2 2m3 13l-8-3 2 0m-2 0l1 2m7 9l-8-3m12 26l-10-5m6 12l-10 4m9 61l0 9-1-3m1 3l1-3m-4 3l0 9-1-2m1 2l1-2m9-154l-4-8m5 16l-2-8m5 27l-8-9m5 15l-4-6 2 1m-2-1l0 2m2 19l-3-11m4 16l-6-6 3 1m-3-1l1 3m6 7l-7-5m10 12l-11-4 3-1m-3 1l2 2m10 12l-11 2m7 17l-10 4 2-2m-2 2l3 0m6 6l0 10-1-2m1 2l1-2m-2 0l-1 7m2 1l0 12-2-2m2 2l1-2m9-150l-6-9m0 31l-2-9 2 2m-2-2l-1 2m6 42l-6-5 3 1m-3-1l2 3m6 8l-6-5 2 1m-2-1l1 3m3 14l-7-8m8 19l-9 2m10 5l-11 2m10 11l-9 6m9 6l-7 10 1-2m-1 2l3-1m3-4l-3 11m1-5l2 11m-5 5l3 9m1-2l-5 6 0-3m0 3l2-1m8-147l-3-11 2 2m-2-2l-1 3m2 19l2-11m-1 26l-1-10 1 2m-1-2l-1 2m4 26l-1-11 1 2m-1-2l-1 2m2 14l-1-8m2 31l-6-8 2 1m-2-1l0 3m10 8l-8-3 3 0m-3 0l2 2m0 48l-4 8m6 28l0 9m-3-1l5 10m4-172l-2-10 2 2m-2-2l-1 2m3 16l2-7m0 13l-4-8 3 2m-3-2l0 3m4 10l-4-10 2 2m-2-2l0 2m3 61l-2-9 2 2m-2-2l-1 3m4 10l-5 9 0-2m0 2l2-1m0 1l1 10-1-2m1 2l1-2m-2-2l4 8-3-2m3 2l0-3m-3 0l-4 7 0-3m0 3l2-1m1-1l0 11m3-2l-2 9 0-2m0 2l2-1m-3 33l-3 7-1-3m1 3l2-2m-3 7l5 11m4-174l0-8m2 41l-3-8m0 13l4-6 0 3m0-3l-2 1m0 15l2-9 0 2m0-2l-2 2m-1 13l4-8m-6 21l4-7m-7 15l9 0m-6 3l11 4-3 0m3 0l-2-2m-6 11l-1 8m1-3l1 7-1-2m1 2l1-2m0 30l1 8-1-2m1 2l1-3m-5-2l0 11m0-5l4 11-2-2m2 2l0-3m2-117l0-9m-3 24l7-6m-7 12l7-5m-4 11l5-5 0 2m0-2l-2 0m-4 13l7-5-1 3m1-3l-2 1m-4 22l1 11-1-2m1 2l1-3m-3 1l7 5m-3 9l-1 12m0-1l4 9m-5 16l-1 10-1-2m1 2l2-2m7-132l-3-10 2 2m-2-2l0 3m1 16l5-11m-5 15l5-8m-6 22l6-8 0 2m0-2l-2 1m-5 36l9 0m-10 9l11 0-2 1m2-1l-2-1m-7 2l5 9-2-1m2 1l0-3m-7 0l8 4m-9 4l8 5-2 0m2 0l-1-2m-1 19l-1 11-1-3m1 3l1-2m2-114l4-10m-2 13l8-6m-5 26l3-11m-7 18l8-7-1 3m1-3l-2 1m-7 20l7-5-1 2m1-2l-2 0m-5 16l11-1m-13 3l10 6m-11 3l10 2m-8 5l12 3m-10-3l4 7-2-1m2 1l0-2m-2 10l2 9-2-2m2 2l1-3m-5 3l6 6m-3 9l2 11-2-2m2 2l1-3m-7 9l4 8m-3-2l2 8-1-2m1 2l1-2m2-129l6-8m-5 53l11 0m-8 14l7 6-3 0m3 0l-1-2m-8 1l6 5m-5 13l9 7m-8 7l5 10-2-1m2 1l0-2m-5 18l6 4m-2-144l8-7m-8 18l3-9 1 2m-1-2l-2 2m1 24l6-9m-10 22l8-8-1 3m1-3l-2 1m-5 27l7-3-2 2m2-2l-3 0m-5 60l7 4m-3 7l3 8m4-150l6-5-1 3m1-3l-2 1m-8 68l8-8m-8 15l10-2-2 2m2-2l-3-1m-9 33l10 4-3 0m3 0l-2-2m-5 26l6 6-2-1m2 1l-1-2m6-110l3-7 0 3m0-3l-2 2m-2 17l6-6m-8 13l5-6 0 2m0-2l-2 1m-2 45l7 0-2 1m2-1l-2-1m-5 8l8 1m-11 32l5 9-2-1m2 1l0-2m0-76l9-2m-9 11l10-3-2 2m2-2l-3 0m-4 9l8-4-2 2m2-2l-3 0m-5 24l6 5-3-1m3 1l-1-3m-4 27l7 5-2 0m2 0l-1-2m-5 4l4 12-2-2m2 2l0-3m-1-64l8-5m-8 22l11-3-2 2m2-2l-3 0m-6 19l6 3m-6 12l5 5m-7-1l7 5m-1-49l10 3m-9 3l9 7-3 0m3 0l-1-2m-8 16l9 3m-9 23l8 4m-1-92l11-5m-10 28l7 2m-1 19l8 0m-8 8l7 5" stroke="#30d6e6" stroke-opacity="0.7" stroke-width="1.2"/>
<path d="M834 835l-6 8 0-3m0 3l2-1m8-17l-4-9 2 1m-2-1l-1 2m5 17l-2 11-1-2m1 2l2-2m0-18l-5-6 2 1m-2-1l0 3m4 3l-8-6 2 0m-2 0l1 2m15 8l8 4-2 0m2 0l-1-2m-19 1l-8 8 1-3m-1 3l2-1m15-14l10-4-1 1m1-1l-2-1m-18 12l-8 5 1-2m-1 2l3 0m19-8l6 3-2 0m2 0l-1-2m-5-3l10 1-2 1m2-1l-2-1m-14-2l11-5-2 2m2-2l-3 0m-3 8l6 2-2 0m2 0l-2-2m-17 5l-6 5 1-3m-1 3l3-1m9-13l-4-7 2 1m-2-1l0 3m2 12l-3 6 0-2m0 2l2-1" stroke="#30d6e6" stroke-opacity="0.75" stroke-width="1.8"/>
<path d="M859 829l11-1-3 1m3-1l-3-2m23 1l11 0-3 2m3-2l-2-1m1 2l11 0-2 1m2-1l-3-2m-8 1l11 0-3 2m3-2l-2-1m1 0l12-1-2 2m2-2l-3-1m-73 5l10 6-3 0m3 0l-1-3m17 11l10 3-3 1m3-1l-2-2m-13-1l10 5-3 0m3 0l-2-2m-27-5l8 9-3-1m3 1l-1-3m26 36l5 9-3-2m3 2l0-3m1 1l6 9-2-2m2 2l0-3m-48-52l3 11-2-2m2 2l1-3m-10-7l0 13-1-3m1 3l2-3m-2 1l-1 11-1-3m1 3l2-3m-5 23l-1 13-1-3m1 3l2-3m-12-9l-3 12-1-3m1 3l2-2m5-56l-7 8 1-3m-1 3l3-1m-34 9l-8 7 1-3m-1 3l3 0m7-4l-9 6 1-3m-1 3l3 0m21-40l-11 0 2-2m-2 2l2 1m-1-3l-11 1 3-2m-3 2l3 1m-2-2l-11 0 3-2m-3 2l3 1m-2-1l-11-2 2-1m-2 1l2 2m28-34l-8-7 3 1m-3-1l1 3m1-4l-9-9 3 1m-3-1l1 3m-2-1l-10-7 3 0m-3 0l2 3m17-3l-7-8 3 1m-3-1l1 3m46 41l-4-12 2 2m-2-2l0 3m-7-18l-5-10 3 2m-3-2l0 3m1-2l-3-11 2 2m-2-2l-1 3m29 37l-2-11 2 3m-2-3l-1 3m2-2l1-11 1 3m-1-3l-1 3m-1-32l0-12 2 3m-2-3l-1 3m5 70l3-10 1 3m-1-3l-2 2m2-1l3-12 0 3m0-3l-2 3m-1 30l6-8-1 3m1-3l-3 1m2 9l10-6-1 3m1-3l-3 0m10-9l9-7-1 3m1-3l-3 0m12-2l8-6-1 2m1-2l-3 0m19 7l12-3-2 2m2-2l-3-1" stroke="#58e0a8" stroke-opacity="0.8" stroke-width="1.3"/>
<path d="M764 830l-10 6 2-3m-2 3l3-1m21-29l-8 1m9 45l-8 0m6 7l-12-1m14 10l-11 0m16-56l-10 0m9 66l-6 5m14-87l-6-7 2 1m-2-1l1 3m4 19l-9-5m8 73l-5 6m11-104l-6-9 2 1m-2-1l0 3m10 14l-9-4 3 0m-3 0l2 2m0 98l-2 7m13-125l-5-7m6 23l-8-8m15 12l-6-7m4 16l-7-5 3 0m-3 0l1 2m6 23l-9-3 2 0m-2 0l1 2m8 20l-10-4 2-1m-2 1l2 2m11 29l-8 5 2-2m-2 2l3 0m5-74l-1-7m8 29l-11-1m8 11l-9 5m10 38l-6 6m9-102l1-7 1 2m-1-2l-2 2m5 89l-7 9m0 12l0 8-1-2m1 2l1-2m3 6l-6 10 0-3m0 3l2-2m7-132l2-10 1 2m-1-2l-2 2m5 31l-3-10 2 2m-2-2l0 3m4 39l-8-3 3 0m-3 0l2 2m4 57l1 10-2-3m2 3l1-3m5-55l-9 0m8 2l-7 4 1-2m-1 2l3 0m4 3l-8 5m7 2l-5 8 0-2m0 2l2-1m3-1l-5 5m3 6l2 10-2-2m2 2l1-2m-4 8l2 8-2-2m2 2l0-2m8-104l-5-9m6 34l-4-8m-2 33l10-6-1 2m1-2l-3 0m5-51l-1-11 2 2m-2-2l-1 2m-1 60l5-7m-1 39l-2 10-1-3m1 3l2-2m-1 13l1 8m-2-91l8-8m-9 42l11 2m-6 20l0 10-1-2m1 2l1-2m0-4l0 10-1-2m1 2l2-2m6-69l4-6 0 2m0-2l-2 1m-1 21l2-6 0 2m0-2l-2 1m-2 61l1 7-1-2m1 2l1-2m-1 26l-3 8 0-3m0 3l2-2m8-95l3-7m-11 18l12-5m-7 36l6 7-2-1m2 1l-1-3m-6 26l8 6m-1-90l10-4-1 2m1-2l-2 0m-7 11l7-4m-10 83l7 8-2-1m2 1l0-2m-4 4l3 6m3-84l7-6m-9 39l9 6m-9-2l5 6m-6 2l8 7-2-1m2 1l-1-3m-6 11l8 3m-3-70l9-7-1 2m1-2l-3 0m-6 35l10-2m-8 15l8 5-3 0m3 0l-1-2m-9 6l7 9m4-67l8-4m-4 44l11-5m-12 18l8-2m-4 4l5 5-2 0m2 0l0-2m-1 6l8 1m-2-24l6 4m-1-13l9 6" stroke="#58e0a8" stroke-opacity="0.7" stroke-width="1.2"/>
<path d="M824 822l-12-3 3-1m-3 1l2 2m-1-1l-12-2 3-1m-3 1l2 2m-1-2l-12-2 3-1m-3 1l2 2m-1-2l-7-1 3-1m-3 1l3 2m36 7l-11-3 3-1m-3 1l2 2m-2-1l-11-3 3 0m-3 0l2 2m-1-1l-12-2 3-1m-3 1l2 2m-1-2l-7 0 3-1m-3 1l2 1m37 7l-12-1 3-1m-3 1l2 2m-1-3l-12-2 3-1m-3 1l3 2m-2-1l-12-2 3-1m-3 1l3 2m-2-2l-7-1 3-1m-3 1l3 1" stroke="#58e0a8" stroke-opacity="0.6" stroke-width="1.5"/>
<path d="M837 837l-4 10 0-3m0 3l2-2" stroke="#b0dc3a" stroke-opacity="0.8" stroke-width="1.3"/>
<path d="M805 790l-7-4m14 31l-10 3m13 36l-7 5m60-4l4 6m0-38l11-1-2 2m2-2l-3-1m1 5l9 1-2 1m2-1l-2-1m0-18l5-5" stroke="#b0dc3a" stroke-opacity="0.7" stroke-width="1.2"/></g></g>
<path d="M392.2 388.9V386.3H394M445.7 386.3H447.5V388.1M447.5 439.8V441.6H445.7M394 441.6H392.2V439.8" fill="none" stroke="#1a1a1a" stroke-width="1.6" stroke-linejoin="round"/>
<path d="M396.3 386.3H445.7M447.5 390.4V439.8M396.3 441.6H445.7M392.2 391.2V439.8" fill="none" stroke="#1a1a1a" stroke-width="1.6" stroke-dasharray="5.3 2.3"/>
<rect x="9.4" y="6.9" width="532.3" height="480.4" fill="none" stroke="#1c1c1c" stroke-width="1.3"/>
<path d="M46.1 24.3V487.3" stroke="#707070" stroke-width="1.5"/>
<path d="M194.6 24.3V487.3" stroke="#707070" stroke-width="1.5"/>
<path d="M344.7 24.3V487.3" stroke="#707070" stroke-width="1.5"/>
<path d="M493.1 24.3V487.3" stroke="#505050" stroke-width="1.3"/>
<path d="M28.6 24.2H541.7" stroke="#1c1c1c" stroke-width="1.3"/>
<path d="M28.6 38.6H541.7" stroke="#1c1c1c" stroke-width="1.3"/>
<path d="M28.6 338.5H541.7" stroke="#1c1c1c" stroke-width="1.3"/>
<path d="M28.6 188.3H46.1M493.1 188.3H541.7" stroke="#1c1c1c" stroke-width="1.3"/>
<path d="M46.1 188.2H493.1" stroke="#777" stroke-width="1.6"/>
<path d="M28.6 24.3V487.3" stroke="#1c1c1c" stroke-width="1.3"/>
<text x="198" y="20.3" class="t">Carrier gas flow rate</text>
<text x="120.3" y="36.6" class="t" text-anchor="middle">2.0L/min</text>
<text x="269.5" y="36.6" class="t" text-anchor="middle">3.0L/min</text>
<text x="419.4" y="36.6" class="t" text-anchor="middle">4.0L/min</text>
<text transform="translate(24.8 256.8) rotate(-90)" class="t" text-anchor="middle" style="font-size:14.6px">Powder feeding rate</text>
<text transform="translate(41.7 113.2) rotate(-90)" class="t" text-anchor="middle">2.0g/min</text>
<text transform="translate(41.7 265.4) rotate(-90)" class="t" text-anchor="middle">4.0g/min</text>
<text transform="translate(41.7 417.8) rotate(-90)" class="t" text-anchor="middle">6.0g/min</text>
<text x="495.7" y="53" class="cb">Particle mass</text>
<text x="495.3" y="59" class="cb">Concentration</text>
<rect x="500" y="66.2" width="6.3" height="94" fill="url(#jet)"/>
<text x="509.5" y="69.3" class="cl">3.700</text>
<text x="509.5" y="85" class="cl">3.083</text>
<text x="509.5" y="100.6" class="cl">2.467</text>
<text x="509.5" y="116.3" class="cl">1.850</text>
<text x="509.5" y="132" class="cl">1.233</text>
<text x="509.5" y="147.6" class="cl">0.617</text>
<text x="509.5" y="163.3" class="cl">0.000</text>
<text x="509.4" y="170.4" class="cu">(kg/m<tspan font-size="4.5" dy="-3">3</tspan><tspan dy="3">)</tspan></text>
<text x="495.7" y="202.9" class="cb">Particle mass</text>
<text x="495.3" y="208.9" class="cb">Concentration</text>
<rect x="500" y="216.1" width="6.3" height="94" fill="url(#jet)"/>
<text x="509.5" y="219.2" class="cl">3.700</text>
<text x="509.5" y="234.9" class="cl">3.083</text>
<text x="509.5" y="250.5" class="cl">2.467</text>
<text x="509.5" y="266.2" class="cl">1.850</text>
<text x="509.5" y="281.9" class="cl">1.233</text>
<text x="509.5" y="297.5" class="cl">0.617</text>
<text x="509.5" y="313.2" class="cl">0.000</text>
<text x="509.4" y="320.3" class="cu">(kg/m<tspan font-size="4.5" dy="-3">3</tspan><tspan dy="3">)</tspan></text>
<text x="495.7" y="353.7" class="cb">Particle mass</text>
<text x="495.3" y="359.7" class="cb">Concentration</text>
<rect x="500" y="366.9" width="6.3" height="94" fill="url(#jet)"/>
<text x="509.5" y="370" class="cl">5.700</text>
<text x="509.5" y="385.7" class="cl">4.750</text>
<text x="509.5" y="401.3" class="cl">3.800</text>
<text x="509.5" y="417" class="cl">2.850</text>
<text x="509.5" y="432.7" class="cl">1.900</text>
<text x="509.5" y="448.3" class="cl">0.950</text>
<text x="509.5" y="464" class="cl">0.000</text>
<text x="509.4" y="471.1" class="cu">(kg/m<tspan font-size="4.5" dy="-3">3</tspan><tspan dy="3">)</tspan></text>
</svg></body></html>
